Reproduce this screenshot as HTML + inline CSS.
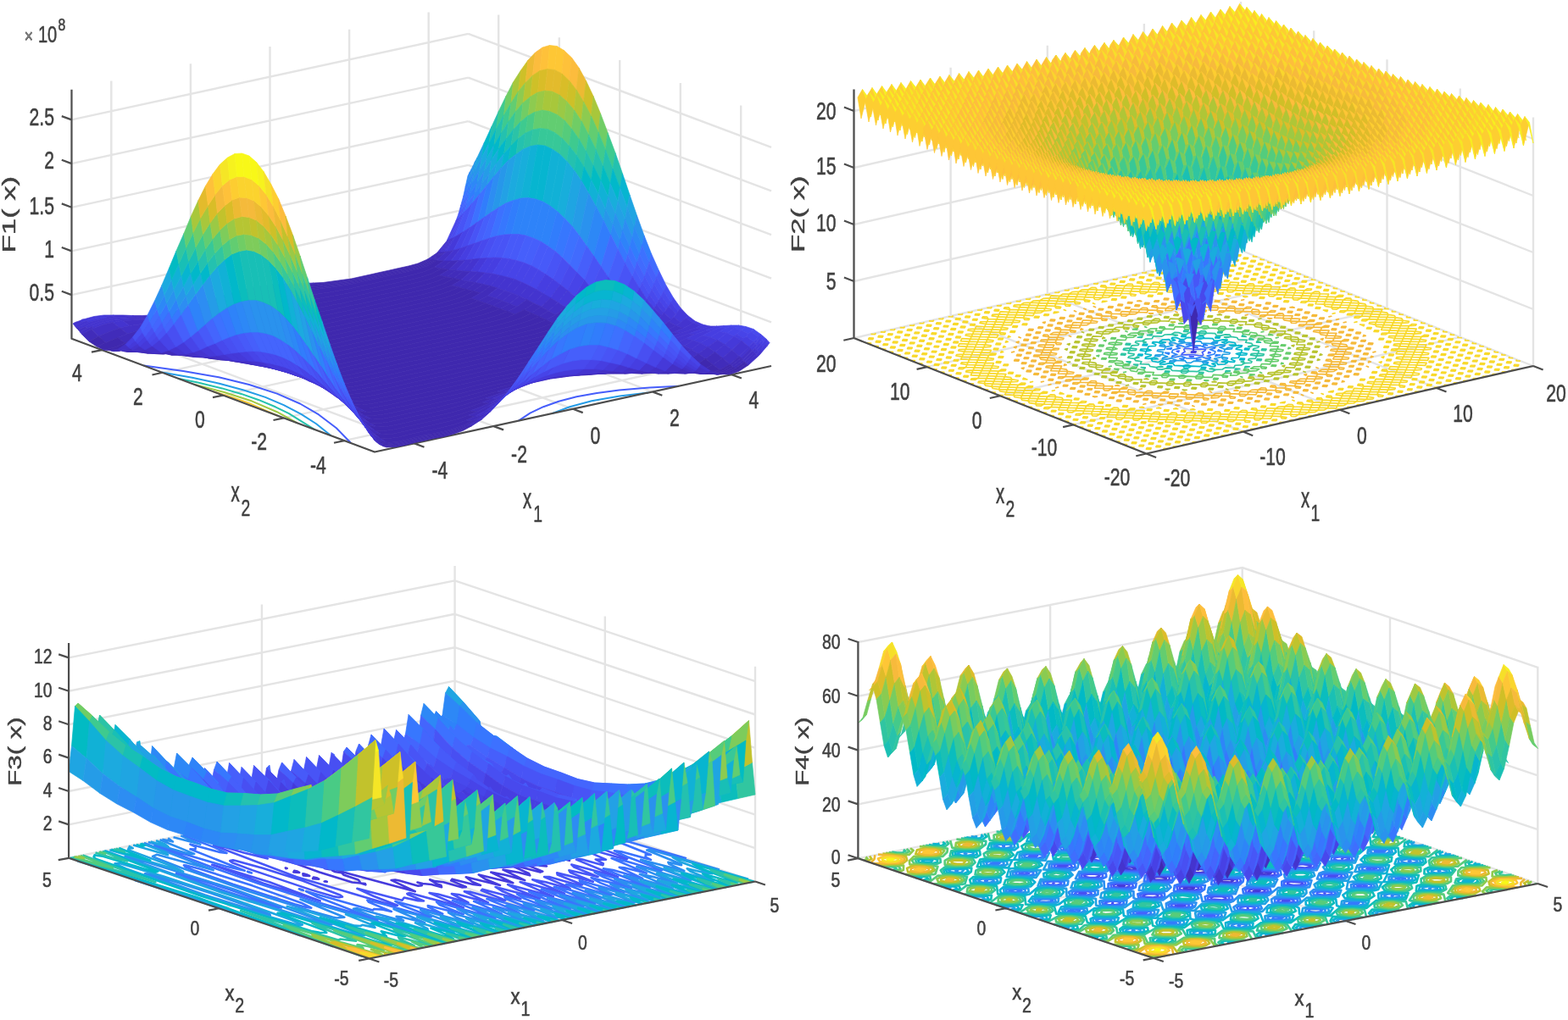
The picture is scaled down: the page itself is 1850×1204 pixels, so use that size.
<!DOCTYPE html>
<html><head><meta charset="utf-8"><title>Benchmark functions F1-F4</title>
<style>html,body{margin:0;padding:0;background:#fff;overflow:hidden}svg{display:block;filter:blur(0.6px)}
.g0{fill:#3f28ae;stroke:#3f28ae}.g1{fill:#412cba;stroke:#412cba}.g2{fill:#4330c5;stroke:#4330c5}.g3{fill:#4434cf;stroke:#4434cf}.g4{fill:#4539d9;stroke:#4539d9}.g5{fill:#463ee1;stroke:#463ee1}.g6{fill:#4744e8;stroke:#4744e8}.g7{fill:#4849ed;stroke:#4849ed}.g8{fill:#484ff2;stroke:#484ff2}.g9{fill:#4854f6;stroke:#4854f6}.g10{fill:#475af9;stroke:#475af9}.g11{fill:#465ffb;stroke:#465ffb}.g12{fill:#4465fd;stroke:#4465fd}.g13{fill:#416bfe;stroke:#416bfe}.g14{fill:#3d71ff;stroke:#3d71ff}.g15{fill:#3777fe;stroke:#3777fe}.g16{fill:#317dfc;stroke:#317dfc}.g17{fill:#2e83f9;stroke:#2e83f9}.g18{fill:#2d88f6;stroke:#2d88f6}.g19{fill:#2d8df2;stroke:#2d8df2}.g20{fill:#2a92ee;stroke:#2a92ee}.g21{fill:#2797ea;stroke:#2797ea}.g22{fill:#259ce7;stroke:#259ce7}.g23{fill:#23a1e5;stroke:#23a1e5}.g24{fill:#1fa5e2;stroke:#1fa5e2}.g25{fill:#1caadf;stroke:#1caadf}.g26{fill:#18aedb;stroke:#18aedb}.g27{fill:#11b1d6;stroke:#11b1d6}.g28{fill:#07b5d0;stroke:#07b5d0}.g29{fill:#01b8ca;stroke:#01b8ca}.g30{fill:#02bbc3;stroke:#02bbc3}.g31{fill:#0bbdbc;stroke:#0bbdbc}.g32{fill:#18bfb6;stroke:#18bfb6}.g33{fill:#24c1af;stroke:#24c1af}.g34{fill:#2bc3a7;stroke:#2bc3a7}.g35{fill:#31c6a0;stroke:#31c6a0}.g36{fill:#37c898;stroke:#37c898}.g37{fill:#3eca8f;stroke:#3eca8f}.g38{fill:#49cb85;stroke:#49cb85}.g39{fill:#55cc7b;stroke:#55cc7b}.g40{fill:#62cd71;stroke:#62cd71}.g41{fill:#70cd65;stroke:#70cd65}.g42{fill:#7ecc5b;stroke:#7ecc5b}.g43{fill:#8dcb50;stroke:#8dcb50}.g44{fill:#9bc945;stroke:#9bc945}.g45{fill:#a8c73b;stroke:#a8c73b}.g46{fill:#b6c533;stroke:#b6c533}.g47{fill:#c2c22c;stroke:#c2c22c}.g48{fill:#cec028;stroke:#cec028}.g49{fill:#d9bd28;stroke:#d9bd28}.g50{fill:#e3bb2c;stroke:#e3bb2c}.g51{fill:#edba33;stroke:#edba33}.g52{fill:#f5ba3b;stroke:#f5ba3b}.g53{fill:#fcbc3d;stroke:#fcbc3d}.g54{fill:#fec13a;stroke:#fec13a}.g55{fill:#fec735;stroke:#fec735}.g56{fill:#fdcd31;stroke:#fdcd31}.g57{fill:#fbd32e;stroke:#fbd32e}.g59{fill:#f6e028;stroke:#f6e028}.g60{fill:#f5e626;stroke:#f5e626}.g62{fill:#f6f21e;stroke:#f6f21e}.g63{fill:#f8f818;stroke:#f8f818}
.a0{fill:#3f29b0;stroke:#3f29b0}
.a5{fill:#4848ec;stroke:#4848ec}
.a6{fill:#4850f2;stroke:#4850f2}
.a7{fill:#4757f7;stroke:#4757f7}
.a10{fill:#3f6efe;stroke:#3f6efe}
.a11{fill:#3876fe;stroke:#3876fe}
.a12{fill:#317efb;stroke:#317efb}
.a13{fill:#2e85f8;stroke:#2e85f8}
.a14{fill:#2d8cf3;stroke:#2d8cf3}
.a15{fill:#2a93ed;stroke:#2a93ed}
.a16{fill:#269ae9;stroke:#269ae9}
.a17{fill:#23a0e5;stroke:#23a0e5}
.a18{fill:#1fa6e2;stroke:#1fa6e2}
.a19{fill:#1aacdd;stroke:#1aacdd}
.a20{fill:#12b1d7;stroke:#12b1d7}
.a21{fill:#06b5cf;stroke:#06b5cf}
.a22{fill:#01b9c6;stroke:#01b9c6}
.a23{fill:#0abdbe;stroke:#0abdbe}
.a24{fill:#1ac0b4;stroke:#1ac0b4}
.a25{fill:#28c2ab;stroke:#28c2ab}
.a26{fill:#30c5a1;stroke:#30c5a1}
.a27{fill:#38c896;stroke:#38c896}
.a28{fill:#44ca8a;stroke:#44ca8a}
.a29{fill:#53cc7d;stroke:#53cc7d}
.a30{fill:#64cd6f;stroke:#64cd6f}
.a31{fill:#77cc60;stroke:#77cc60}
.a32{fill:#8acb51;stroke:#8acb51}
.a33{fill:#9dc943;stroke:#9dc943}
.a34{fill:#afc637;stroke:#afc637}
.a35{fill:#c0c32d;stroke:#c0c32d}
.a36{fill:#d0bf27;stroke:#d0bf27}
.a37{fill:#debc2a;stroke:#debc2a}
.a38{fill:#ebba32;stroke:#ebba32}
.a39{fill:#f7ba3c;stroke:#f7ba3c}
.a40{fill:#febe3c;stroke:#febe3c}
.a41{fill:#fec636;stroke:#fec636}
.a42{fill:#fdce31;stroke:#fdce31}
.a43{fill:#f9d62d;stroke:#f9d62d}
.a44{fill:#f6df29;stroke:#f6df29}
.a45{fill:#f5e725;stroke:#f5e725}
.a46{fill:#f6ef20;stroke:#f6ef20}
.f0{fill:#3f28ae;stroke:#3f28ae}.f1{fill:#412cba;stroke:#412cba}.f2{fill:#4330c5;stroke:#4330c5}.f3{fill:#4434cf;stroke:#4434cf}.f4{fill:#4539d9;stroke:#4539d9}.f5{fill:#463ee1;stroke:#463ee1}.f6{fill:#4744e8;stroke:#4744e8}.f7{fill:#4849ed;stroke:#4849ed}.f8{fill:#484ff2;stroke:#484ff2}.f9{fill:#4854f6;stroke:#4854f6}.f10{fill:#475af9;stroke:#475af9}.f11{fill:#465ffb;stroke:#465ffb}.f12{fill:#4465fd;stroke:#4465fd}.f13{fill:#416bfe;stroke:#416bfe}.f14{fill:#3d71ff;stroke:#3d71ff}.f15{fill:#3777fe;stroke:#3777fe}.f16{fill:#317dfc;stroke:#317dfc}.f17{fill:#2e83f9;stroke:#2e83f9}.f18{fill:#2d88f6;stroke:#2d88f6}.f19{fill:#2d8df2;stroke:#2d8df2}.f20{fill:#2a92ee;stroke:#2a92ee}.f21{fill:#2797ea;stroke:#2797ea}.f22{fill:#259ce7;stroke:#259ce7}.f23{fill:#23a1e5;stroke:#23a1e5}.f24{fill:#1fa5e2;stroke:#1fa5e2}.f25{fill:#1caadf;stroke:#1caadf}.f26{fill:#18aedb;stroke:#18aedb}.f27{fill:#11b1d6;stroke:#11b1d6}.f28{fill:#07b5d0;stroke:#07b5d0}.f29{fill:#01b8ca;stroke:#01b8ca}.f30{fill:#02bbc3;stroke:#02bbc3}.f31{fill:#0bbdbc;stroke:#0bbdbc}.f32{fill:#18bfb6;stroke:#18bfb6}.f33{fill:#24c1af;stroke:#24c1af}.f34{fill:#2bc3a7;stroke:#2bc3a7}.f35{fill:#31c6a0;stroke:#31c6a0}.f36{fill:#37c898;stroke:#37c898}.f37{fill:#3eca8f;stroke:#3eca8f}.f38{fill:#49cb85;stroke:#49cb85}.f39{fill:#55cc7b;stroke:#55cc7b}.f40{fill:#62cd71;stroke:#62cd71}.f41{fill:#70cd65;stroke:#70cd65}.f42{fill:#7ecc5b;stroke:#7ecc5b}.f43{fill:#8dcb50;stroke:#8dcb50}.f44{fill:#9bc945;stroke:#9bc945}.f45{fill:#a8c73b;stroke:#a8c73b}.f46{fill:#b6c533;stroke:#b6c533}.f47{fill:#c2c22c;stroke:#c2c22c}.f48{fill:#cec028;stroke:#cec028}.f49{fill:#d9bd28;stroke:#d9bd28}.f51{fill:#edba33;stroke:#edba33}.f52{fill:#f5ba3b;stroke:#f5ba3b}.f53{fill:#fcbc3d;stroke:#fcbc3d}.f55{fill:#fec735;stroke:#fec735}.f56{fill:#fdcd31;stroke:#fdcd31}.f58{fill:#f8da2b;stroke:#f8da2b}.f60{fill:#f5e626;stroke:#f5e626}.f63{fill:#f8f818;stroke:#f8f818}
.r0{fill:#3f29b0;stroke:#3f29b0}
.r1{fill:#422ebf;stroke:#422ebf}
.r2{fill:#4434ce;stroke:#4434ce}
.r3{fill:#463adb;stroke:#463adb}
.r4{fill:#4741e5;stroke:#4741e5}
.r5{fill:#4848ec;stroke:#4848ec}
.r6{fill:#4850f2;stroke:#4850f2}
.r7{fill:#4757f7;stroke:#4757f7}
.r8{fill:#465efb;stroke:#465efb}
.r9{fill:#4466fd;stroke:#4466fd}
.r10{fill:#3f6efe;stroke:#3f6efe}
.r11{fill:#3876fe;stroke:#3876fe}
.r12{fill:#317efb;stroke:#317efb}
.r13{fill:#2e85f8;stroke:#2e85f8}
.r14{fill:#2d8cf3;stroke:#2d8cf3}
.r15{fill:#2a93ed;stroke:#2a93ed}
.r16{fill:#269ae9;stroke:#269ae9}
.r17{fill:#23a0e5;stroke:#23a0e5}
.r18{fill:#1fa6e2;stroke:#1fa6e2}
.r19{fill:#1aacdd;stroke:#1aacdd}
.r20{fill:#12b1d7;stroke:#12b1d7}
.r21{fill:#06b5cf;stroke:#06b5cf}
.r22{fill:#01b9c6;stroke:#01b9c6}
.r23{fill:#0abdbe;stroke:#0abdbe}
.r24{fill:#1ac0b4;stroke:#1ac0b4}
.r25{fill:#28c2ab;stroke:#28c2ab}
.r26{fill:#30c5a1;stroke:#30c5a1}
.r27{fill:#38c896;stroke:#38c896}
.r28{fill:#44ca8a;stroke:#44ca8a}
.r29{fill:#53cc7d;stroke:#53cc7d}
.r30{fill:#64cd6f;stroke:#64cd6f}
.r31{fill:#77cc60;stroke:#77cc60}
.r32{fill:#8acb51;stroke:#8acb51}
.r33{fill:#9dc943;stroke:#9dc943}
.r34{fill:#afc637;stroke:#afc637}
.r35{fill:#c0c32d;stroke:#c0c32d}
.r36{fill:#d0bf27;stroke:#d0bf27}
.r37{fill:#debc2a;stroke:#debc2a}
.r38{fill:#ebba32;stroke:#ebba32}
.r39{fill:#f7ba3c;stroke:#f7ba3c}
.r40{fill:#febe3c;stroke:#febe3c}
.r41{fill:#fec636;stroke:#fec636}
.r42{fill:#fdce31;stroke:#fdce31}
.r43{fill:#f9d62d;stroke:#f9d62d}
.r44{fill:#f6df29;stroke:#f6df29}
.r45{fill:#f5e725;stroke:#f5e725}
.r46{fill:#f6ef20;stroke:#f6ef20}</style>
</head><body>
<svg width="1850" height="1204" viewBox="0 0 1850 1204">
<g>
<path d="M488.8 523.4L131.3 389.6M582.4 503.1L224.9 369.2M676.0 482.8L318.5 348.9M769.6 462.4L412.1 328.6M863.2 442.1L505.7 308.3M406.2 520.1L874.2 418.6M334.8 493.4L802.8 391.9M263.2 466.6L731.2 365.1M191.8 439.8L659.8 338.3M120.2 413.1L588.2 311.6M131.3 389.6L131.3 95.6M224.9 369.2L224.9 75.3M318.5 348.9L318.5 55.0M412.1 328.6L412.1 34.7M505.7 308.3L505.7 14.4M84.5 348.1L552.5 246.5M84.5 296.4L552.5 194.9M84.5 244.8L552.5 143.2M84.5 193.1L552.5 91.6M84.5 141.4L552.5 39.9M874.2 418.6L874.2 124.6M802.8 391.9L802.8 97.9M731.2 365.1L731.2 71.1M659.8 338.3L659.8 44.3M588.2 311.6L588.2 17.6M910.0 380.4L552.5 246.5M910.0 328.7L552.5 194.9M910.0 277.1L552.5 143.2M910.0 225.4L552.5 91.6M910.0 173.8L552.5 39.9" stroke="#e4e4e4" stroke-width="2.4" fill="none"/>
<g transform="matrix(0.46800 -0.10150 -0.35750 -0.13380 497.25 415.85)" fill="none" stroke-width="2" stroke-linejoin="round">
<path stroke="#465efb" vector-effect="non-scaling-stroke" d="M267-500l-53 27-60 22-48 11-48 4-48-4-48-12-48-19-51-29M-500-422l41 102 29 96 17 84 6 84-6 84-17 78-30 78-40 78M474 496l-34-96-20-78-13-78-3-84 7-72 18-78 27-78 40-86"/>
<path stroke="#259ce7" vector-effect="non-scaling-stroke" d="M190-500l-60 16-66 6-60-6-57-16M-500-356l27 84 17 72 11 72 4 66-4 66-11 66-18 66-26 66M496 482l-26-82-18-78-9-66-4-66 3-66 10-66 17-66 27-73"/>
<path stroke="#25c2ad" vector-effect="non-scaling-stroke" d="M-500-301l27 119 7 54 3 60-2 54-7 54-13 60-15 49M496 424l-26-120-7-60-2-54 8-102 11-54 16-56"/>
<path stroke="#a0c841" vector-effect="non-scaling-stroke" d="M-500-245l15 87 6 90-6 84-15 80M496 365l-14-85-5-84 5-78 14-81"/>
<path stroke="#fdcb33" vector-effect="non-scaling-stroke" d="M-500-179l8 105-2 54-6 52M496 292l-6-90 6-92"/>
</g>
<path d="M84.5 105.7L84.5 399.7L442.0 533.5L910.0 432.0M488.8 523.4L500.5 527.7M582.4 503.1L594.1 507.4M676.0 482.8L687.7 487.1M769.6 462.4L781.3 466.8M863.2 442.1L874.9 446.5M406.2 520.1L394.0 522.8M334.8 493.4L322.5 496.0M263.2 466.6L251.0 469.2M191.8 439.8L179.5 442.5M120.2 413.1L108.0 415.7M84.5 348.1L72.8 343.7M84.5 296.4L72.8 292.0M84.5 244.8L72.8 240.4M84.5 193.1L72.8 188.7M84.5 141.4L72.8 137.1" stroke="#4d4d4d" stroke-width="2.2" fill="none" stroke-linejoin="round"/>
<g transform="scale(0.5)" stroke-width="1.4" stroke-linejoin="round"><path class=g18 d="M1103 434l5-27-4 8-6 27z"/><path class=g15 d="M1097 459l6-25-5 8-5 23z"/><path class=g13 d="M1092 480l5-21-4 6-6 21z"/><path class=g11 d="M1086 500l6-20-5 6-5 19z"/><path class=g9 d="M1080 517l6-17-4 5-6 16z"/><path class=g6 d="M1058 567l22-50-4 4-22 48z"/><path class=g2 d="M1035 596l23-29-4 2-23 28z"/><path class=g1 d="M1013 613l22-17-4 1-22 15z"/><path class=g0 d="M743 671l23-2 22-2 23-4 22-4 23-4 22-5 23-5 22-5 23-5 22-5 22-7 23-10-4-1-23 10-22 6-23 5-22 5-23 5-22 5-23 5-22 5-23 3-22 3-22 3-23 1z"/><path class=g1 d="M676 675l22-2 23-1 22-1-4-3-22 1-23 1-22 1z"/><path class=g2 d="M496 713l23-7 22-7 23-7 22-5 23-5 22-3 23-3 22-1-4-4-23 1-22 2-23 3-22 5-23 5-22 7-23 7-22 8z"/><path class=g1 d="M361 746l23-3 22-4 23-5 22-6 23-7 22-8-4-4-22 8-23 8-22 6-23 6-22 4-23 3z"/><path class=g2 d="M317 747l22 0 22-1-4-2-22 1-23 0z"/><path class=g3 d="M272 746l22 0 23 1-5-2-22-1-23 0z"/><path class=g4 d="M193 761l6-2 5-2 23-6 22-3 23-2-5-2-22 0-23 3-22 6-6 1-5 3z"/><path class=g3 d="M176 769l6-3 5-2 6-3-4-4-6 2-6 2-5 3z"/><path class=g19 d="M1107 427l6-29-5 9-5 27z"/><path class=g16 d="M1101 452l6-25-4 7-6 25z"/><path class=g14 d="M1096 475l5-23-4 7-5 21z"/><path class=g12 d="M1090 495l6-20-4 5-6 20z"/><path class=g10 d="M1085 513l5-18-4 5-6 17z"/><path class=g6 d="M1062 565l23-52-5 4-22 50z"/><path class=g3 d="M1040 596l22-31-4 2-23 29z"/><path class=g1 d="M1017 614l23-18-5 0-22 17z"/><path class=g0 d="M725 675l23-1 22-3 23-2 22-4 23-4 22-5 22-5 23-5 22-5 23-5 22-5 23-7 22-10-4-1-23 10-22 7-22 5-23 5-22 5-23 5-22 5-23 4-22 4-23 4-22 2-23 2-22 1z"/><path class=g1 d="M680 679l23-2 22-2-4-3-23 1-22 2z"/><path class=g2 d="M523 710l22-7 23-6 22-6 23-4 22-4 23-2 22-2-4-4-22 1-23 3-22 3-23 5-22 5-23 7-22 7z"/><path class=g1 d="M343 749l23-1 22-3 23-3 22-5 23-6 22-7 23-7 22-7-4-4-23 7-22 8-23 7-22 6-23 5-22 4-23 3-22 1z"/><path class=g2 d="M321 749l22 0-4-2-22 0z"/><path class=g3 d="M253 751l23-2 22 0 23 0-4-2-23-1-22 0-23 2z"/><path class=g4 d="M209 761l22-6 22-4-4-3-22 3-23 6z"/><path class=g3 d="M180 774l6-3 6-2 5-3 6-2 6-3-5-4-5 2-6 2-6 3-5 2-6 3z"/><path class=g20 d="M1111 419l6-29-4 8-6 29z"/><path class=g17 d="M1106 445l5-26-4 8-6 25z"/><path class=g14 d="M1100 469l6-24-5 7-5 23z"/><path class=g12 d="M1095 490l5-21-4 6-6 20z"/><path class=g10 d="M1089 508l6-18-5 5-5 18z"/><path class=g7 d="M1066 563l23-55-4 5-23 52z"/><path class=g3 d="M1044 596l22-33-4 2-22 31z"/><path class=g1 d="M1022 614l22-18-4 0-23 18z"/><path class=g0 d="M729 678l23-2 22-2 23-3 22-4 23-4 22-5 23-5 22-5 23-5 22-5 23-5 22-8 23-11-5 0-22 10-23 7-22 5-23 5-22 5-23 5-22 5-22 5-23 4-22 4-23 2-22 3-23 1z"/><path class=g1 d="M662 684l23-2 22-2 22-2-4-3-22 2-23 2-22 2z"/><path class=g2 d="M550 707l22-6 23-5 22-5 23-4 22-3-4-3-23 2-22 4-23 4-22 6-23 6z"/><path class=g1 d="M348 750l22-1 23-2 22-3 22-4 23-6 22-6 23-7 22-7 23-7-5-4-22 7-22 7-23 7-22 7-23 6-22 5-23 3-22 3-23 1z"/><path class=g2 d="M303 751l22 0 23-1-5-1-22 0-23 0z"/><path class=g3 d="M190 776l6-3 6-2 5-3 6-2 22-8 23-4 22-2 23-1-5-2-22 0-23 2-22 4-22 6-6 3-6 2-5 3-6 2z"/><path class=g2 d="M185 779l5-3-4-5-6 3z"/><path class=g21 d="M1116 411l5-30-4 9-6 29z"/><path class=g18 d="M1110 439l6-28-5 8-5 26z"/><path class=g15 d="M1104 463l6-24-4 6-6 24z"/><path class=g13 d="M1099 484l5-21-4 6-5 21z"/><path class=g11 d="M1093 504l6-20-4 6-6 18z"/><path class=g7 d="M1071 561l22-57-4 4-23 55z"/><path class=g3 d="M1048 595l23-34-5 2-22 33z"/><path class=g1 d="M1026 615l22-20-4 1-22 18z"/><path class=g0 d="M734 681l22-2 23-3 22-3 23-4 22-5 23-5 22-5 22-5 23-5 22-4 23-6 22-7 23-12-4-1-23 11-22 8-23 5-22 5-23 5-22 5-23 5-22 5-23 4-22 4-23 3-22 2-23 2z"/><path class=g1 d="M352 752l22-1 23-2 22-3 23-4 22-5 23-6 22-7 23-6 22-7 23-6 22-5 22-5 23-4 22-3 23-2 22-3 23-2-5-3-22 2-22 2-23 2-22 3-23 4-22 5-23 5-22 6-23 7-22 7-23 7-22 6-23 6-22 4-22 3-23 2-22 1z"/><path class=g2 d="M307 753l22 0 23-1-4-2-23 1-22 0z"/><path class=g3 d="M206 775l5-2 6-3 23-8 22-5 22-3 23-1-4-2-23 1-22 2-23 4-22 8-6 2-5 3z"/><path class=g2 d="M189 784l6-3 5-3 6-3-4-4-6 2-6 3-5 3z"/><path class=g22 d="M1120 404l6-32-5 9-5 30z"/><path class=g19 d="M1114 432l6-28-4 7-6 28z"/><path class=g16 d="M1109 457l5-25-4 7-6 24z"/><path class=g14 d="M1103 479l6-22-5 6-5 21z"/><path class=g12 d="M1097 499l6-20-4 5-6 20z"/><path class=g8 d="M1075 558l22-59-4 5-22 57z"/><path class=g4 d="M1053 594l22-36-4 3-23 34z"/><path class=g1 d="M1030 615l23-21-5 1-22 20z"/><path class=g0 d="M716 686l22-2 23-3 22-3 22-3 23-4 22-5 23-5 22-5 23-5 22-5 23-5 22-6 23-7 22-13-4 0-23 12-22 7-23 6-22 4-23 5-22 5-22 5-23 5-22 5-23 4-22 3-23 3-22 2-23 2z"/><path class=g1 d="M356 754l23-1 22-2 23-3 22-4 22-5 23-5 22-6 23-7 22-6 23-6 22-6 23-4 22-4 23-3 22-3 23-3-5-3-22 3-23 2-22 3-23 4-22 5-22 5-23 6-22 7-23 6-22 7-23 6-22 5-23 4-22 3-23 2-22 1z"/><path class=g2 d="M311 756l23-1 22-1-4-2-23 1-22 0z"/><path class=g3 d="M221 775l23-9 22-5 23-4 22-1-4-3-23 1-22 3-22 5-23 8z"/><path class=g2 d="M193 789l6-3 6-3 5-3 6-3 5-2-4-5-6 3-5 2-6 3-5 3-6 3z"/><path class=g24 d="M1137 371l6-35-17 36-6 32z"/><path class=g21 d="M1131 403l6-32-17 33-6 28z"/><path class=g18 d="M1126 431l5-28-17 29-5 25z"/><path class=g16 d="M1120 457l6-26-17 26-6 22z"/><path class=g14 d="M1115 479l5-22-17 22-6 20z"/><path class=g9 d="M1092 548l23-69-18 20-22 59z"/><path class=g4 d="M1070 591l22-43-17 10-22 36z"/><path class=g2 d="M1047 616l23-25-17 3-23 21z"/><path class=g0 d="M688 704l22-4 23-3 22-4 23-3 22-4 23-4 22-5 23-5 22-5 22-5 23-5 22-4 23-6 22-6 23-10 22-15-17-1-22 13-23 7-22 6-23 5-22 5-23 5-22 5-23 5-22 5-23 4-22 3-22 3-23 3-22 2-23 3-22 3z"/><path class=g1 d="M553 733l23-6 22-5 22-6 23-4 22-5 23-3-17-12-23 3-22 4-23 4-22 6-23 6-22 6z"/><path class=g0 d="M441 756l22-3 23-4 22-5 23-5 22-6-17-12-23 7-22 6-23 5-22 5-22 4z"/><path class=g1 d="M373 762l23-2 22-2 23-2-17-8-23 3-22 2-23 1z"/><path class=g2 d="M306 769l22-3 23-3 22-1-17-8-22 1-23 1-22 1z"/><path class=g3 d="M283 774l23-5-17-12-23 4z"/><path class=g2 d="M233 794l6-3 22-9 22-8-17-13-22 5-23 9-5 2z"/><path class=g1 d="M210 806l6-3 6-3 5-3 6-3-17-17-6 3-5 3-6 3-6 3z"/><path class=g29 d="M1154 338l6-39-17 37-6 35z"/><path class=g25 d="M1149 373l5-35-17 33-6 32z"/><path class=g22 d="M1143 404l6-31-18 30-5 28z"/><path class=g19 d="M1137 433l6-29-17 27-6 26z"/><path class=g17 d="M1132 458l5-25-17 24-5 22z"/><path class=g11 d="M1109 537l23-79-17 21-23 69z"/><path class=g6 d="M1087 586l22-49-17 11-22 43z"/><path class=g3 d="M1064 616l23-30-17 5-23 25z"/><path class=g1 d="M1042 634l22-18-17 0-22 15z"/><path class=g0 d="M458 763l22-3 23-4 22-4 23-4 22-6 23-5 22-5 23-5 22-5 23-4 22-5 22-4 23-4 22-4 23-4 22-4 23-5 22-4 23-5 22-5 23-5 22-5 23-5 22-6 22-7 23-12-17-3-23 10-22 6-23 6-22 4-23 5-22 5-22 5-23 5-22 5-23 4-22 4-23 3-22 4-23 3-22 4-23 3-22 5-23 4-22 6-22 5-23 6-22 6-23 5-22 5-23 4-22 3z"/><path class=g1 d="M390 770l23-2 22-2 23-3-17-7-23 2-22 2-23 2z"/><path class=g2 d="M301 788l22-7 23-5 22-3 22-3-17-8-22 1-23 3-22 3-23 5z"/><path class=g1 d="M250 809l6-3 22-9 23-9-18-14-22 8-22 9-6 3z"/><path class=g0 d="M228 818l5-2 6-2 5-3 6-2-17-15-6 3-5 3-6 3-6 3z"/><path class=g33 d="M1171 304l6-42-17 37-6 39z"/><path class=g29 d="M1166 343l5-39-17 34-5 35z"/><path class=g26 d="M1160 377l6-34-17 30-6 31z"/><path class=g22 d="M1155 409l5-32-17 27-6 29z"/><path class=g20 d="M1149 437l6-28-18 24-5 25z"/><path class=g14 d="M1127 524l22-87-17 21-23 79z"/><path class=g7 d="M1104 580l23-56-18 13-22 49z"/><path class=g4 d="M1082 615l22-35-17 6-23 30z"/><path class=g1 d="M1059 637l23-22-18 1-22 18z"/><path class=g0 d="M475 770l23-3 22-3 22-4 23-5 22-4 23-5 22-5 23-5 22-5 23-5 22-4 23-5 22-4 23-4 22-5 22-4 23-5 22-5 23-5 22-5 23-5 22-5 23-5 22-6 23-9 22-13-17-3-23 12-22 7-22 6-23 5-22 5-23 5-22 5-23 5-22 4-23 5-22 4-23 4-22 4-23 4-22 4-22 5-23 4-22 5-23 5-22 5-23 5-22 6-23 4-22 4-23 4-22 3z"/><path class=g1 d="M295 810l23-9 22-8 23-6 22-5 23-3 22-3 23-3 22-3-17-7-23 3-22 2-23 2-22 3-22 3-23 5-22 7-23 9z"/><path class=g0 d="M245 826l5-1 6-1 6-2 5-1 6-2 22-9-17-13-22 9-6 3-6 2-5 3-6 2-5 2z"/><path class=g37 d="M1189 272l5-45-17 35-6 42z"/><path class=g33 d="M1183 314l6-42-18 32-5 39z"/><path class=g29 d="M1177 351l6-37-17 29-6 34z"/><path class=g26 d="M1172 385l5-34-17 26-5 32z"/><path class=g23 d="M1166 416l6-31-17 24-6 28z"/><path class=g16 d="M1144 512l22-96-17 21-22 87z"/><path class=g9 d="M1121 574l23-62-17 12-23 56z"/><path class=g5 d="M1099 614l22-40-17 6-22 35z"/><path class=g2 d="M1076 638l23-24-17 1-23 22z"/><path class=g1 d="M1054 654l22-16-17-1-22 13z"/><path class=g0 d="M470 781l22-4 23-3 22-3 23-4 22-5 23-4 22-5 22-5 23-4 22-5 23-5 22-5 23-4 22-5 23-4 22-5 23-5 22-5 23-5 22-4 22-5 23-5 22-5 23-6 22-7 23-10-17-4-23 9-22 6-23 5-22 5-23 5-22 5-23 5-22 5-23 5-22 4-22 5-23 4-22 4-23 5-22 4-23 5-22 5-23 5-22 5-23 5-22 4-23 5-22 4-22 3-23 3-22 3z"/><path class=g1 d="M357 805l23-7 22-6 23-4 22-4 23-3-17-8-23 3-22 3-23 3-22 5-23 6z"/><path class=g0 d="M262 828l6 1 5 0 6 0 5-1 6-1 22-6 23-8 22-8-17-12-22 8-23 9-22 9-6 2-5 1-6 2-6 1-5 1z"/><path class=g41 d="M1206 243l5-49-17 33-5 45z"/><path class=g37 d="M1200 287l6-44-17 29-6 42z"/><path class=g33 d="M1195 327l5-40-17 27-6 37z"/><path class=g29 d="M1189 363l6-36-18 24-5 34z"/><path class=g25 d="M1183 396l6-33-17 22-6 31z"/><path class=g19 d="M1161 500l22-104-17 20-22 96z"/><path class=g11 d="M1138 568l23-68-17 12-23 62z"/><path class=g6 d="M1116 612l22-44-17 6-22 40z"/><path class=g3 d="M1093 640l23-28-17 2-23 24z"/><path class=g1 d="M1071 657l22-17-17-2-22 16z"/><path class=g0 d="M442 797l22-5 23-4 22-3 23-4 22-4 23-4 22-4 23-4 22-5 23-4 22-5 23-5 22-5 22-5 23-4 22-5 23-5 22-4 23-5 22-5 23-5 22-5 23-5 22-5 23-5 22-6 23-8 22-12-17-3-23 10-22 7-23 6-22 5-23 5-22 5-22 4-23 5-22 5-23 5-22 5-23 4-22 5-23 4-22 5-23 5-22 5-23 4-22 5-22 5-23 4-22 5-23 4-22 3-23 3-22 4-23 3-22 4z"/><path class=g1 d="M420 802l22-5-17-9-23 4z"/><path class=g0 d="M285 827l5 2 6 1 6 1 5 0 23-2 22-6 23-7 22-7 23-7-18-10-22 6-23 7-22 8-23 8-22 6-6 1-5 1-6 0-5 0z"/><path class=g1 d="M279 824l6 3-17 2-6-1z"/><path class=g45 d="M1223 216l6-50-18 28-5 49z"/><path class=g40 d="M1217 263l6-47-17 27-6 44z"/><path class=g36 d="M1212 305l5-42-17 24-5 40z"/><path class=g32 d="M1206 344l6-39-17 22-6 36z"/><path class=g28 d="M1200 378l6-34-17 19-6 33z"/><path class=g21 d="M1178 489l22-111-17 18-22 104z"/><path class=g12 d="M1156 562l22-73-17 11-23 68z"/><path class=g7 d="M1133 610l23-48-18 6-22 44z"/><path class=g3 d="M1111 641l22-31-17 2-23 28z"/><path class=g1 d="M1088 661l23-20-18-1-22 17z"/><path class=g0 d="M324 831l23 3 22-3 23-6 22-7 23-6 22-6 23-5 22-5 23-4 22-4 22-4 23-4 22-4 23-4 22-5 23-5 22-4 23-5 22-5 23-5 22-5 23-4 22-5 22-5 23-5 22-5 23-5 22-5 23-4 22-5 23-6 22-7 23-8 22-13-17-4-22 12-23 8-22 6-23 5-22 5-23 5-22 5-23 5-22 5-23 5-22 4-23 5-22 5-23 4-22 5-22 5-23 5-22 5-23 4-22 5-23 4-22 4-23 4-22 4-23 4-22 3-23 4-22 5-22 5-23 7-22 7-23 7-22 6-23 2z"/><path class=g1 d="M308 823l5 4 6 2 5 2-17 0-5 0-6-1-6-1z"/><path class=g2 d="M296 813l6 6 6 4-18 6-5-2-6-3z"/><path class=g48 d="M1240 195l6-53-17 24-6 50z"/><path class=g43 d="M1234 243l6-48-17 21-6 47z"/><path class=g39 d="M1229 287l5-44-17 20-5 42z"/><path class=g34 d="M1223 327l6-40-17 18-6 39z"/><path class=g31 d="M1218 364l5-37-17 17-6 34z"/><path class=g23 d="M1195 479l23-115-18 14-22 111z"/><path class=g14 d="M1173 557l22-78-17 10-22 73z"/><path class=g8 d="M1150 609l23-52-17 5-23 48z"/><path class=g4 d="M1128 642l22-33-17 1-22 31z"/><path class=g2 d="M1105 664l23-22-17-1-23 20z"/><path class=g1 d="M1083 678l22-14-17-3-22 13z"/><path class=g0 d="M364 835l22 1 23-4 22-5 23-6 22-6 23-6 22-5 23-4 22-5 23-4 22-4 23-4 22-5 22-4 23-5 22-5 23-5 22-4 23-5 22-5 23-5 22-5 23-5 22-4 23-5 22-5 23-5 22-5 22-5 23-6 22-7 23-10-17-4-23 8-22 7-23 6-22 5-23 4-22 5-23 5-22 5-23 5-22 5-22 5-23 4-22 5-23 5-22 5-23 5-22 4-23 5-22 5-23 4-22 4-23 4-22 4-22 4-23 4-22 5-23 5-22 6-23 6-22 7-23 6-22 3z"/><path class=g1 d="M342 826l22 9-17-1-23-3z"/><path class=g2 d="M330 818l6 4 6 4-18 5-5-2-6-2z"/><path class=g3 d="M325 812l5 6-17 9-5-4z"/><path class=g4 d="M319 805l6 7-17 11-6-4z"/><path class=g5 d="M313 796l6 9-17 14-6-6z"/><path class=g51 d="M1257 178l6-54-17 18-6 53z"/><path class=g46 d="M1252 228l5-50-17 17-6 48z"/><path class=g41 d="M1246 273l6-45-18 15-5 44z"/><path class=g37 d="M1240 314l6-41-17 14-6 40z"/><path class=g33 d="M1235 352l5-38-17 13-5 37z"/><path class=g25 d="M1212 473l23-121-17 12-23 115z"/><path class=g15 d="M1190 554l22-81-17 6-22 78z"/><path class=g9 d="M1167 608l23-54-17 3-23 52z"/><path class=g5 d="M1145 644l22-36-17 1-22 33z"/><path class=g2 d="M1122 667l23-23-17-2-23 22z"/><path class=g1 d="M1100 683l22-16-17-3-22 14z"/><path class=g0 d="M381 833l23 5 22 0 23-4 22-5 22-6 23-6 22-5 23-5 22-4 23-5 22-4 23-5 22-4 23-5 22-4 23-5 22-5 22-5 23-5 22-5 23-4 22-5 23-5 22-5 23-5 22-5 23-5 22-5 23-5 22-6 23-8 22-10-17-5-23 10-22 7-23 6-22 5-22 5-23 5-22 5-23 5-22 4-23 5-22 5-23 5-22 5-23 5-22 4-23 5-22 5-23 5-22 4-22 5-23 4-22 4-23 4-22 5-23 4-22 5-23 6-22 6-23 6-22 5-23 4-22-1z"/><path class=g2 d="M359 817l22 16-17 2-22-9z"/><path class=g4 d="M347 803l6 8 6 6-17 9-6-4-6-4z"/><path class=g5 d="M342 795l5 8-17 15-5-6z"/><path class=g6 d="M336 785l6 10-17 17-6-7z"/><path class=g8 d="M331 773l5 12-17 20-6-9z"/><path class=g53 d="M1274 167l6-55-17 12-6 54z"/><path class=g48 d="M1269 218l5-51-17 11-5 50z"/><path class=g43 d="M1263 264l6-46-17 10-6 45z"/><path class=g38 d="M1258 306l5-42-17 9-6 41z"/><path class=g34 d="M1252 345l6-39-18 8-5 38z"/><path class=g26 d="M1229 468l23-123-17 7-23 121z"/><path class=g16 d="M1207 553l22-85-17 5-22 81z"/><path class=g9 d="M1185 609l22-56-17 1-23 54z"/><path class=g5 d="M1162 646l23-37-18-1-22 36z"/><path class=g3 d="M1140 671l22-25-17-2-23 23z"/><path class=g1 d="M1117 687l23-16-18-4-22 16z"/><path class=g0 d="M421 838l22 3 23-1 22-4 23-6 22-5 23-5 22-5 22-5 23-5 22-5 23-4 22-5 23-4 22-5 23-5 22-5 23-4 22-5 23-5 22-5 23-5 22-5 22-5 23-4 22-5 23-5 22-5 23-6 22-6 23-8 22-12-17-4-22 10-23 8-22 6-23 5-22 5-23 5-22 5-23 5-22 5-23 5-22 5-23 4-22 5-23 5-22 5-22 5-23 5-22 4-23 5-22 4-23 5-22 4-23 5-22 4-23 5-22 5-23 6-22 6-22 5-23 4-22 0z"/><path class=g1 d="M398 827l23 11-17 0-23-5z"/><path class=g4 d="M376 803l22 24-17 6-22-16z"/><path class=g6 d="M370 794l6 9-17 14-6-6z"/><path class=g7 d="M365 784l5 10-17 17-6-8z"/><path class=g8 d="M359 773l6 11-18 19-5-8z"/><path class=g10 d="M353 759l6 14-17 22-6-10z"/><path class=g11 d="M348 744l5 15-17 26-5-12z"/><path class=g54 d="M1292 163l5-56-17 5-6 55z"/><path class=g49 d="M1286 214l6-51-18 4-5 51z"/><path class=g44 d="M1280 260l6-46-17 4-6 46z"/><path class=g40 d="M1275 303l5-43-17 4-5 42z"/><path class=g35 d="M1269 342l6-39-17 3-6 39z"/><path class=g27 d="M1247 467l22-125-17 3-23 123z"/><path class=g17 d="M1224 553l23-86-18 1-22 85z"/><path class=g10 d="M1202 611l22-58-17 0-22 56z"/><path class=g6 d="M1179 650l23-39-17-2-23 37z"/><path class=g3 d="M1157 675l22-25-17-4-22 25z"/><path class=g1 d="M1134 692l23-17-17-4-23 16z"/><path class=g0 d="M460 843l23 1 22-2 23-5 22-5 23-5 22-5 23-5 22-5 23-5 22-4 22-5 23-5 22-5 23-4 22-5 23-5 22-5 23-5 22-5 23-4 22-5 23-5 22-5 23-5 22-5 22-5 23-6 22-6 23-9 22-12-17-5-22 12-23 8-22 6-23 6-22 5-23 5-22 5-23 4-22 5-22 5-23 5-22 5-23 5-22 5-23 4-22 5-23 5-22 5-23 4-22 5-23 4-22 5-23 5-22 5-22 5-23 5-22 5-23 6-22 4-23 1z"/><path class=g1 d="M438 836l22 7-17-2-22-3z"/><path class=g3 d="M415 819l23 17-17 2-23-11z"/><path class=g6 d="M393 786l22 33-17 8-22-24z"/><path class=g9 d="M387 774l6 12-17 17-6-9z"/><path class=g10 d="M382 761l5 13-17 20-5-10z"/><path class=g12 d="M376 746l6 15-17 23-6-11z"/><path class=g13 d="M371 729l5 17-17 27-6-14z"/><path class=g15 d="M365 710l6 19-18 30-5-15z"/><path class=g55 d="M1309 165l5-56-17-2-5 56z"/><path class=g50 d="M1303 216l6-51-17-2-6 51z"/><path class=g45 d="M1297 263l6-47-17-2-6 46z"/><path class=g40 d="M1292 305l5-42-17-3-5 43z"/><path class=g36 d="M1286 344l6-39-17-2-6 39z"/><path class=g28 d="M1264 470l22-126-17-2-22 125z"/><path class=g17 d="M1241 556l23-86-17-3-23 86z"/><path class=g10 d="M1219 615l22-59-17-3-22 58z"/><path class=g6 d="M1196 654l23-39-17-4-23 39z"/><path class=g3 d="M1174 680l22-26-17-4-22 25z"/><path class=g1 d="M1129 710l22-12 23-18-17-5-23 17-22 12z"/><path class=g0 d="M500 847l22 0 23-4 22-4 23-5 22-5 23-5 22-5 23-5 22-5 23-5 22-4 23-5 22-5 23-5 22-5 22-4 23-5 22-5 23-5 22-5 23-5 22-5 23-5 22-5 23-5 22-6 23-6 22-9-17-6-23 9-22 6-23 6-22 5-22 5-23 5-22 5-23 5-22 5-23 4-22 5-23 5-22 5-23 5-22 5-23 4-22 5-23 5-22 5-22 4-23 5-22 5-23 5-22 5-23 5-22 5-23 5-22 2z"/><path class=g1 d="M478 843l22 4-17-3-23-1z"/><path class=g2 d="M455 832l23 11-18 0-22-7z"/><path class=g4 d="M433 808l22 24-17 4-23-17z"/><path class=g8 d="M410 765l23 43-18 11-22-33z"/><path class=g12 d="M405 751l5 14-17 21-6-12z"/><path class=g13 d="M399 735l6 16-18 23-5-13z"/><path class=g15 d="M393 716l6 19-17 26-6-15z"/><path class=g18 d="M388 696l5 20-17 30-5-17z"/><path class=g20 d="M382 673l6 23-17 33-6-19z"/><path class=g55 d="M1326 174l5-55-17-10-5 56z"/><path class=g50 d="M1320 224l6-50-17-9-6 51z"/><path class=g45 d="M1315 271l5-47-17-8-6 47z"/><path class=g40 d="M1309 313l6-42-18-8-5 42z"/><path class=g36 d="M1303 352l6-39-17-8-6 39z"/><path class=g28 d="M1281 476l22-124-17-8-22 126z"/><path class=g17 d="M1258 562l23-86-17-6-23 86z"/><path class=g11 d="M1236 620l22-58-17-6-22 59z"/><path class=g6 d="M1214 659l22-39-17-5-23 39z"/><path class=g3 d="M1191 686l23-27-18-5-22 26z"/><path class=g2 d="M1169 704l22-18-17-6-23 18z"/><path class=g1 d="M1146 716l23-12-18-6-22 12z"/><path class=g0 d="M517 849l23 2 22-2 23-4 22-5 22-5 23-5 22-4 23-5 22-5 23-5 22-5 23-5 22-4 23-5 22-5 23-5 22-5 23-5 22-5 22-4 23-5 22-5 23-5 22-5 23-5 22-6 23-7 22-9-17-6-22 9-23 6-22 6-23 5-22 5-23 5-22 5-23 5-22 5-23 5-22 5-23 5-22 4-22 5-23 5-22 5-23 5-22 4-23 5-22 5-23 5-22 5-23 5-22 5-23 5-22 4-23 4-22 0z"/><path class=g1 d="M495 842l22 7-17-2-22-4z"/><path class=g3 d="M472 826l23 16-17 1-23-11z"/><path class=g6 d="M450 795l22 31-17 6-22-24z"/><path class=g11 d="M427 743l23 52-17 13-23-43z"/><path class=g15 d="M422 725l5 18-17 22-5-14z"/><path class=g17 d="M416 706l6 19-17 26-6-16z"/><path class=g20 d="M410 684l6 22-17 29-6-19z"/><path class=g22 d="M405 660l5 24-17 32-5-20z"/><path class=g25 d="M399 633l6 27-17 36-6-23z"/><path class=g54 d="M1343 190l6-54-18-17-5 55z"/><path class=g49 d="M1337 239l6-49-17-16-6 50z"/><path class=g44 d="M1332 284l5-45-17-15-5 47z"/><path class=g40 d="M1326 326l6-42-17-13-6 42z"/><path class=g36 d="M1321 364l5-38-17-13-6 39z"/><path class=g27 d="M1298 486l23-122-18-12-22 124z"/><path class=g17 d="M1276 570l22-84-17-10-23 86z"/><path class=g11 d="M1253 627l23-57-18-8-22 58z"/><path class=g6 d="M1231 666l22-39-17-7-22 39z"/><path class=g3 d="M1208 692l23-26-17-7-23 27z"/><path class=g2 d="M1186 710l22-18-17-6-22 18z"/><path class=g1 d="M1163 722l23-12-17-6-23 12z"/><path class=g0 d="M557 854l22 0 23-3 22-4 23-5 22-5 23-5 22-5 23-5 22-4 22-5 23-5 22-5 23-5 22-5 23-5 22-4 23-5 22-5 23-5 22-5 23-5 22-5 22-5 23-5 22-6 23-7 22-9-17-6-22 9-23 7-22 6-23 5-22 5-23 5-22 5-23 5-22 4-22 5-23 5-22 5-23 5-22 5-23 5-22 4-23 5-22 5-23 5-22 5-23 5-22 4-23 5-22 5-22 5-23 4-22 2z"/><path class=g1 d="M534 850l23 4-17-3-23-2z"/><path class=g2 d="M512 840l22 10-17-1-22-7z"/><path class=g4 d="M489 818l23 22-17 2-23-16z"/><path class=g8 d="M467 781l22 37-17 8-22-31z"/><path class=g14 d="M444 719l23 62-17 14-23-52z"/><path class=g19 d="M439 698l5 21-17 24-5-18z"/><path class=g21 d="M433 676l6 22-17 27-6-19z"/><path class=g24 d="M428 651l5 25-17 30-6-22z"/><path class=g27 d="M422 623l6 28-18 33-5-24z"/><path class=g30 d="M416 592l6 31-17 37-6-27z"/><path class=g53 d="M1360 212l6-52-17-24-6 54z"/><path class=g48 d="M1355 260l5-48-17-22-6 49z"/><path class=g43 d="M1349 304l6-44-18-21-5 45z"/><path class=g39 d="M1343 344l6-40-17-20-6 42z"/><path class=g35 d="M1338 381l5-37-17-18-5 38z"/><path class=g27 d="M1315 499l23-118-17-17-23 122z"/><path class=g17 d="M1293 581l22-82-17-13-22 84z"/><path class=g10 d="M1270 636l23-55-17-11-23 57z"/><path class=g6 d="M1248 674l22-38-17-9-22 39z"/><path class=g3 d="M1225 699l23-25-17-8-23 26z"/><path class=g2 d="M1203 717l22-18-17-7-22 18z"/><path class=g1 d="M1180 729l23-12-17-7-23 12z"/><path class=g0 d="M574 857l22 1 23-2 22-3 23-5 22-4 23-5 22-5 23-5 22-5 23-5 22-5 23-5 22-4 22-5 23-5 22-5 23-5 22-5 23-5 22-4 23-5 22-5 23-5 22-6 23-6 22-7 22-8-17-7-22 9-23 7-22 6-23 5-22 5-22 5-23 5-22 5-23 5-22 5-23 5-22 4-23 5-22 5-23 5-22 5-23 5-22 5-22 4-23 5-22 5-23 5-22 5-23 5-22 4-23 3-22 0z"/><path class=g1 d="M551 851l23 6-17-3-23-4z"/><path class=g3 d="M529 837l22 14-17-1-22-10z"/><path class=g5 d="M507 811l22 26-17 3-23-22z"/><path class=g10 d="M484 766l23 45-18 7-22-37z"/><path class=g17 d="M462 694l22 72-17 15-23-62z"/><path class=g22 d="M456 671l6 23-18 25-5-21z"/><path class=g25 d="M450 645l6 26-17 27-6-22z"/><path class=g28 d="M445 617l5 28-17 31-5-25z"/><path class=g32 d="M439 585l6 32-17 34-6-28z"/><path class=g35 d="M434 551l5 34-17 38-6-31z"/><path class=g51 d="M1377 240l6-49-17-31-6 52z"/><path class=g46 d="M1372 286l5-46-17-28-5 48z"/><path class=g41 d="M1366 328l6-42-17-26-6 44z"/><path class=g37 d="M1361 367l5-39-17-24-6 40z"/><path class=g33 d="M1355 402l6-35-18-23-5 37z"/><path class=g26 d="M1332 515l23-113-17-21-23 118z"/><path class=g16 d="M1310 593l22-78-17-16-22 82z"/><path class=g10 d="M1287 647l23-54-17-12-23 55z"/><path class=g6 d="M1265 683l22-36-17-11-22 38z"/><path class=g3 d="M1243 707l22-24-17-9-23 25z"/><path class=g2 d="M1220 724l23-17-18-8-22 18z"/><path class=g1 d="M1198 735l22-11-17-7-23 12z"/><path class=g0 d="M614 863l22-1 23-3 22-4 22-5 23-5 22-5 23-5 22-4 23-5 22-5 23-5 22-5 23-5 22-5 23-5 22-4 22-5 23-5 22-5 23-5 22-5 23-5 22-5 23-6 22-7 23-9-18-6-22 8-22 7-23 6-22 6-23 5-22 5-23 5-22 4-23 5-22 5-23 5-22 5-23 5-22 5-22 4-23 5-22 5-23 5-22 5-23 5-22 5-23 5-22 4-23 5-22 3-23 2z"/><path class=g1 d="M591 860l23 3-18-5-22-1z"/><path class=g2 d="M569 852l22 8-17-3-23-6z"/><path class=g4 d="M546 834l23 18-18-1-22-14z"/><path class=g7 d="M524 803l22 31-17 3-22-26z"/><path class=g12 d="M501 751l23 52-17 8-23-45z"/><path class=g19 d="M479 671l22 80-17 15-22-72z"/><path class=g26 d="M473 645l6 26-17 23-6-23z"/><path class=g29 d="M468 616l5 29-17 26-6-26z"/><path class=g32 d="M462 584l6 32-18 29-5-28z"/><path class=g36 d="M456 549l6 35-17 33-6-32z"/><path class=g40 d="M451 510l5 39-17 36-5-34z"/><path class=g48 d="M1395 274l5-47-17-36-6 49z"/><path class=g43 d="M1389 318l6-44-18-34-5 46z"/><path class=g39 d="M1383 357l6-39-17-32-6 42z"/><path class=g35 d="M1378 394l5-37-17-29-5 39z"/><path class=g32 d="M1372 427l6-33-17-27-6 35z"/><path class=g24 d="M1350 534l22-107-17-25-23 113z"/><path class=g15 d="M1327 608l23-74-18-19-22 78z"/><path class=g9 d="M1305 659l22-51-17-15-23 54z"/><path class=g5 d="M1282 693l23-34-18-12-22 36z"/><path class=g3 d="M1260 716l22-23-17-10-22 24z"/><path class=g1 d="M1215 742l22-11 23-15-17-9-23 17-22 11z"/><path class=g0 d="M631 867l22 0 23-3 22-3 23-5 22-4 23-5 22-5 22-5 23-5 22-5 23-5 22-5 23-4 22-5 23-5 22-5 23-5 22-5 23-5 22-5 22-5 23-5 22-5 23-6 22-6 23-9-17-7-23 9-22 7-23 6-22 5-23 5-22 5-23 5-22 5-23 5-22 5-22 4-23 5-22 5-23 5-22 5-23 5-22 5-23 5-22 4-23 5-22 5-23 5-22 5-22 4-23 3-22 1z"/><path class=g1 d="M608 863l23 4-17-4-23-3z"/><path class=g2 d="M586 852l22 11-17-3-22-8z"/><path class=g4 d="M563 832l23 20-17 0-23-18z"/><path class=g8 d="M541 796l22 36-17 2-22-31z"/><path class=g14 d="M518 738l23 58-17 7-23-52z"/><path class=g22 d="M496 649l22 89-17 13-22-80z"/><path class=g29 d="M490 620l6 29-17 22-6-26z"/><path class=g33 d="M485 588l5 32-17 25-5-29z"/><path class=g37 d="M479 553l6 35-17 28-6-32z"/><path class=g41 d="M473 515l6 38-17 31-6-35z"/><path class=g45 d="M468 473l5 42-17 34-5-39zm944-161l5-44-17-41-5 47z"/><path class=g40 d="M1406 353l6-41-17-38-6 44z"/><path class=g36 d="M1400 391l6-38-17-35-6 39z"/><path class=g33 d="M1395 425l5-34-17-34-5 37z"/><path class=g29 d="M1389 456l6-31-17-31-6 33z"/><path class=g22 d="M1367 556l22-100-17-29-22 107z"/><path class=g14 d="M1344 625l23-69-17-22-23 74z"/><path class=g8 d="M1322 672l22-47-17-17-22 51z"/><path class=g5 d="M1299 703l23-31-17-13-23 34z"/><path class=g3 d="M1277 724l22-21-17-10-22 23z"/><path class=g1 d="M1254 739l23-15-17-8-23 15z"/><path class=g0 d="M648 871l22 1 23-2 22-3 23-4 22-5 23-5 22-5 23-5 22-4 23-5 22-5 22-5 23-5 22-5 23-5 22-5 23-4 22-5 23-5 22-5 23-5 22-5 23-5 22-6 22-6 23-8 22-11-17-8-22 11-23 9-22 6-23 6-22 5-23 5-22 5-22 5-23 5-22 5-23 5-22 5-23 5-22 5-23 4-22 5-23 5-22 5-23 5-22 5-22 5-23 5-22 4-23 5-22 3-23 3-22 0z"/><path class=g1 d="M625 866l23 5-17-4-23-4z"/><path class=g3 d="M603 853l22 13-17-3-22-11z"/><path class=g5 d="M581 830l22 23-17-1-23-20z"/><path class=g9 d="M558 790l23 40-18 2-22-36z"/><path class=g15 d="M536 726l22 64-17 6-23-58z"/><path class=g25 d="M513 629l23 97-18 12-22-89z"/><path class=g33 d="M507 598l6 31-17 20-6-29z"/><path class=g36 d="M502 564l5 34-17 22-5-32z"/><path class=g40 d="M496 526l6 38-17 24-6-35z"/><path class=g45 d="M491 485l5 41-17 27-6-38z"/><path class=g50 d="M485 439l6 46-18 30-5-42z"/><path class=g41 d="M1429 354l5-41-17-45-5 44z"/><path class=g37 d="M1423 392l6-38-17-42-6 41z"/><path class=g33 d="M1418 427l5-35-17-39-6 38z"/><path class=g30 d="M1412 458l6-31-18-36-5 34z"/><path class=g27 d="M1406 487l6-29-17-33-6 31z"/><path class=g20 d="M1384 580l22-93-17-31-22 100z"/><path class=g13 d="M1361 643l23-63-17-24-23 69z"/><path class=g7 d="M1339 685l22-42-17-18-22 47z"/><path class=g4 d="M1317 714l22-29-17-13-23 31z"/><path class=g2 d="M1294 734l23-20-18-11-22 21z"/><path class=g1 d="M1272 747l22-13-17-10-23 15z"/><path class=g0 d="M688 878l22-2 22-3 23-4 22-5 23-4 22-5 23-5 22-5 23-5 22-5 23-5 22-5 23-4 22-5 22-5 23-5 22-5 23-5 22-5 23-5 22-5 23-5 22-5 23-7 22-7 23-10-18-8-22 11-23 8-22 6-22 6-23 5-22 5-23 5-22 5-23 5-22 5-23 4-22 5-23 5-22 5-23 5-22 5-22 5-23 5-22 4-23 5-22 5-23 5-22 5-23 4-22 3-23 2z"/><path class=g1 d="M665 876l23 2-18-6-22-1z"/><path class=g2 d="M643 870l22 6-17-5-23-5z"/><path class=g3 d="M620 855l23 15-18-4-22-13z"/><path class=g6 d="M598 829l22 26-17-2-22-23z"/><path class=g10 d="M575 786l23 43-17 1-23-40z"/><path class=g17 d="M553 717l22 69-17 4-22-64z"/><path class=g27 d="M530 613l23 104-17 9-23-97z"/><path class=g35 d="M525 579l5 34-17 16-6-31z"/><path class=g39 d="M519 543l6 36-18 19-5-34z"/><path class=g44 d="M513 503l6 40-17 21-6-38z"/><path class=g49 d="M508 459l5 44-17 23-5-41z"/><path class=g54 d="M502 411l6 48-17 26-6-46z"/><path class=g37 d="M1446 399l6-38-18-48-5 41z"/><path class=g33 d="M1440 433l6-34-17-45-6 38z"/><path class=g30 d="M1435 465l5-32-17-41-5 35z"/><path class=g27 d="M1429 494l6-29-17-38-6 31z"/><path class=g24 d="M1424 520l5-26-17-36-6 29z"/><path class=g18 d="M1401 604l23-84-18-33-22 93z"/><path class=g11 d="M1379 661l22-57-17-24-23 63z"/><path class=g6 d="M1356 700l23-39-18-18-22 42z"/><path class=g4 d="M1334 725l22-25-17-15-22 29z"/><path class=g2 d="M1311 743l23-18-17-11-23 20z"/><path class=g1 d="M1289 755l22-12-17-9-22 13z"/><path class=g0 d="M705 883l22-1 23-3 22-4 23-4 22-5 22-5 23-5 22-5 23-5 22-4 23-5 22-5 23-5 22-5 23-5 22-5 23-5 22-4 22-5 23-5 22-5 23-6 22-5 23-6 22-7 23-9-17-8-23 10-22 7-23 7-22 5-23 5-22 5-23 5-22 5-23 5-22 5-23 5-22 5-22 5-23 4-22 5-23 5-22 5-23 5-22 5-23 5-22 5-23 4-22 5-23 4-22 3-22 2z"/><path class=g1 d="M682 881l23 2-17-5-23-2z"/><path class=g2 d="M660 874l22 7-17-5-22-6z"/><path class=g4 d="M637 858l23 16-17-4-23-15z"/><path class=g7 d="M615 830l22 28-17-3-22-26z"/><path class=g11 d="M592 784l23 46-17-1-23-43z"/><path class=g18 d="M570 711l22 73-17 2-22-69z"/><path class=g29 d="M547 600l23 111-17 6-23-104z"/><path class=g38 d="M542 565l5 35-17 13-5-34z"/><path class=g42 d="M536 527l6 38-17 14-6-36z"/><path class=g47 d="M531 485l5 42-17 16-6-40z"/><path class=g52 d="M525 438l6 47-18 18-5-44z"/><path class=g57 d="M519 388l6 50-17 21-6-48z"/><path class=g33 d="M1463 444l6-34-17-49-6 38z"/><path class=g29 d="M1458 476l5-32-17-45-6 34z"/><path class=g26 d="M1452 504l6-28-18-43-5 32z"/><path class=g23 d="M1446 530l6-26-17-39-6 29z"/><path class=g21 d="M1441 554l5-24-17-36-5 26z"/><path class=g16 d="M1418 629l23-75-17-34-23 84z"/><path class=g9 d="M1396 680l22-51-17-25-22 57z"/><path class=g5 d="M1373 714l23-34-17-19-23 39z"/><path class=g3 d="M1351 737l22-23-17-14-22 25z"/><path class=g1 d="M1306 763l22-11 23-15-17-12-23 18-22 12z"/><path class=g0 d="M722 889l22-1 23-3 22-3 23-5 22-5 23-4 22-5 23-5 22-5 22-5 23-5 22-5 23-5 22-4 23-5 22-5 23-5 22-5 23-5 22-5 23-5 22-5 23-6 22-5 22-7 23-8-17-8-23 9-22 7-23 6-22 5-23 6-22 5-23 5-22 5-22 4-23 5-22 5-23 5-22 5-23 5-22 5-23 5-22 4-23 5-22 5-23 5-22 5-22 5-23 4-22 4-23 3-22 1z"/><path class=g1 d="M699 887l23 2-17-6-23-2z"/><path class=g2 d="M677 879l22 8-17-6-22-7z"/><path class=g4 d="M654 862l23 17-17-5-23-16z"/><path class=g7 d="M632 833l22 29-17-4-22-28z"/><path class=g12 d="M610 784l22 49-17-3-23-46z"/><path class=g19 d="M587 708l23 76-18 0-22-73z"/><path class=g31 d="M565 593l22 115-17 3-23-111z"/><path class=g40 d="M559 556l6 37-18 7-5-35z"/><path class=g44 d="M553 516l6 40-17 9-6-38z"/><path class=g49 d="M548 472l5 44-17 11-5-42z"/><path class=g54 d="M542 424l6 48-17 13-6-47z"/><path class=g60 d="M537 372l5 52-17 14-6-50z"/><path class=g28 d="M1480 490l6-30-17-50-6 34z"/><path class=g25 d="M1475 518l5-28-17-46-5 32z"/><path class=g23 d="M1469 544l6-26-17-42-6 28z"/><path class=g20 d="M1463 567l6-23-17-40-6 26z"/><path class=g18 d="M1458 588l5-21-17-37-5 24z"/><path class=g13 d="M1435 654l23-66-17-34-23 75z"/><path class=g8 d="M1413 698l22-44-17-25-22 51z"/><path class=g4 d="M1390 728l23-30-17-18-23 34z"/><path class=g2 d="M1368 747l22-19-17-14-22 23z"/><path class=g1 d="M1346 761l22-14-17-10-23 15z"/><path class=g0 d="M739 895l22 0 23-3 22-4 23-4 22-5 23-5 22-5 23-5 22-5 23-5 22-4 23-5 22-5 22-5 23-5 22-5 23-5 22-5 23-5 22-5 23-5 22-5 23-5 22-6 23-6 22-7 23-10-18-9-22 11-23 8-22 7-22 5-23 6-22 5-23 5-22 5-23 5-22 5-23 5-22 5-23 5-22 4-23 5-22 5-23 5-22 5-22 5-23 5-22 5-23 4-22 5-23 5-22 3-23 3-22 1z"/><path class=g1 d="M717 893l22 2-17-6-23-2z"/><path class=g2 d="M694 885l23 8-18-6-22-8z"/><path class=g4 d="M672 867l22 18-17-6-23-17z"/><path class=g7 d="M649 837l23 30-18-5-22-29z"/><path class=g12 d="M627 787l22 50-17-4-22-49z"/><path class=g20 d="M604 708l23 79-17-3-23-76z"/><path class=g32 d="M582 590l22 118-17 0-22-115z"/><path class=g41 d="M576 553l6 37-17 3-6-37z"/><path class=g46 d="M571 511l5 42-17 3-6-40z"/><path class=g51 d="M565 466l6 45-18 5-5-44z"/><path class=g56 d="M559 417l6 49-17 6-6-48z"/><path class=g62 d="M554 363l5 54-17 7-5-52z"/><path class=g24 d="M1497 536l6-27-17-49-6 30z"/><path class=g22 d="M1492 560l5-24-17-46-5 28z"/><path class=g19 d="M1486 582l6-22-17-42-6 26z"/><path class=g17 d="M1481 602l5-20-17-38-6 23z"/><path class=g15 d="M1475 621l6-19-18-35-5 21z"/><path class=g11 d="M1453 678l22-57-17-33-23 66z"/><path class=g6 d="M1430 716l23-38-18-24-22 44z"/><path class=g4 d="M1408 741l22-25-17-18-23 30z"/><path class=g2 d="M1385 758l23-17-18-13-22 19z"/><path class=g1 d="M1363 769l22-11-17-11-22 14z"/><path class=g0 d="M756 902l23-1 22-3 23-4 22-4 22-5 23-5 22-5 23-4 22-5 23-5 22-5 23-5 22-5 23-5 22-5 23-4 22-5 23-5 22-5 22-6 23-5 22-5 23-5 22-6 23-5 22-7 23-9-17-8-23 10-22 7-23 6-22 6-23 5-22 5-23 5-22 5-23 5-22 5-23 5-22 5-23 5-22 5-22 5-23 5-22 4-23 5-22 5-23 5-22 5-23 5-22 5-23 4-22 4-23 3-22 0z"/><path class=g1 d="M734 900l22 2-17-7-22-2z"/><path class=g2 d="M711 891l23 9-17-7-23-8z"/><path class=g4 d="M689 874l22 17-17-6-22-18z"/><path class=g7 d="M666 843l23 31-17-7-23-30z"/><path class=g12 d="M644 792l22 51-17-6-22-50z"/><path class=g20 d="M621 713l23 79-17-5-23-79z"/><path class=g32 d="M599 593l22 120-17-5-22-118z"/><path class=g42 d="M593 555l6 38-17-3-6-37z"/><path class=g46 d="M588 513l5 42-17-2-5-42z"/><path class=g52 d="M582 467l6 46-17-2-6-45z"/><path class=g57 d="M576 417l6 50-17-1-6-49z"/><path class=g63 d="M571 362l5 55-17 0-5-54z"/><path class=g20 d="M1515 579l5-23-17-47-6 27z"/><path class=g18 d="M1509 600l6-21-18-43-5 24z"/><path class=g16 d="M1503 619l6-19-17-40-6 22z"/><path class=g14 d="M1498 636l5-17-17-37-5 20z"/><path class=g12 d="M1492 652l6-16-17-34-6 19z"/><path class=g9 d="M1470 700l22-48-17-31-22 57z"/><path class=g5 d="M1447 732l23-32-17-22-23 38z"/><path class=g3 d="M1425 753l22-21-17-16-22 25z"/><path class=g1 d="M1380 777l22-10 23-14-17-12-23 17-22 11z"/><path class=g0 d="M773 909l23-1 22-3 23-4 22-5 23-4 22-5 23-5 22-5 22-5 23-5 22-5 23-4 22-5 23-5 22-5 23-5 22-5 23-5 22-5 23-5 22-6 23-5 22-5 22-6 23-5 22-7 23-7-17-8-23 9-22 7-23 5-22 6-23 5-22 5-23 5-22 6-22 5-23 5-22 5-23 4-22 5-23 5-22 5-23 5-22 5-23 5-22 5-23 4-22 5-23 5-22 5-22 4-23 4-22 3-23 1z"/><path class=g1 d="M751 907l22 2-17-7-22-2z"/><path class=g2 d="M728 899l23 8-17-7-23-9z"/><path class=g4 d="M706 882l22 17-17-8-22-17z"/><path class=g7 d="M683 851l23 31-17-8-23-31z"/><path class=g12 d="M661 801l22 50-17-8-22-51z"/><path class=g20 d="M639 721l22 80-17-9-23-79z"/><path class=g32 d="M616 601l23 120-18-8-22-120z"/><path class=g42 d="M610 562l6 39-17-8-6-38z"/><path class=g47 d="M605 520l5 42-17-7-5-42z"/><path class=g52 d="M599 474l6 46-17-7-6-46z"/><path class=g57 d="M594 424l5 50-17-7-6-50z"/><path class=g63 d="M588 368l6 56-18-7-5-55z"/><path class=g16 d="M1532 619l5-20-17-43-5 23z"/><path class=g14 d="M1526 637l6-18-17-40-6 21z"/><path class=g13 d="M1521 653l5-16-17-37-6 19z"/><path class=g11 d="M1515 667l6-14-18-34-5 17z"/><path class=g10 d="M1509 680l6-13-17-31-6 16z"/><path class=g7 d="M1487 720l22-40-17-28-22 48z"/><path class=g4 d="M1464 747l23-27-17-20-23 32z"/><path class=g2 d="M1442 764l22-17-17-15-22 21z"/><path class=g1 d="M1419 775l23-11-17-11-23 14z"/><path class=g0 d="M790 916l23-1 22-3 23-4 22-5 23-5 22-5 23-5 22-5 23-4 22-5 23-5 22-5 23-5 22-5 22-5 23-5 22-5 23-5 22-5 23-5 22-6 23-5 22-5 23-6 22-5 23-6 22-7 22-9-17-8-22 10-23 7-22 7-23 5-22 6-22 5-23 5-22 6-23 5-22 5-23 5-22 5-23 5-22 5-23 5-22 5-23 4-22 5-23 5-22 5-22 5-23 5-22 5-23 4-22 5-23 4-22 3-23 1z"/><path class=g1 d="M768 915l22 1-17-7-22-2z"/><path class=g2 d="M746 907l22 8-17-8-23-8z"/><path class=g4 d="M723 891l23 16-18-8-22-17z"/><path class=g7 d="M701 862l22 29-17-9-23-31z"/><path class=g12 d="M678 812l23 50-18-11-22-50z"/><path class=g20 d="M656 733l22 79-17-11-22-80z"/><path class=g32 d="M633 614l23 119-17-12-23-120z"/><path class=g41 d="M628 576l5 38-17-13-6-39z"/><path class=g46 d="M622 534l6 42-18-14-5-42z"/><path class=g51 d="M616 488l6 46-17-14-6-46z"/><path class=g57 d="M611 438l5 50-17-14-5-50z"/><path class=g63 d="M605 383l6 55-17-14-6-56z"/><path class=g13 d="M1549 655l6-16-18-40-5 20z"/><path class=g11 d="M1543 670l6-15-17-36-6 18z"/><path class=g10 d="M1538 683l5-13-17-33-5 16z"/><path class=g9 d="M1532 695l6-12-17-30-6 14z"/><path class=g8 d="M1526 706l6-11-17-28-6 13z"/><path class=g5 d="M1504 738l22-32-17-26-22 40z"/><path class=g3 d="M1482 759l22-21-17-18-23 27z"/><path class=g2 d="M1459 773l23-14-18-12-22 17z"/><path class=g1 d="M1437 783l22-10-17-9-23 11z"/><path class=g0 d="M785 923l23 1 22-2 23-4 22-4 22-5 23-4 22-5 23-5 22-5 23-5 22-5 23-5 22-5 23-4 22-5 23-5 22-5 23-5 22-5 22-5 23-6 22-5 23-6 22-6 23-5 22-6 23-6 22-6 23-7-18-8-22 9-22 7-23 6-22 5-23 6-22 5-23 5-22 6-23 5-22 5-23 5-22 5-23 5-22 5-22 5-23 5-22 5-23 5-22 5-23 4-22 5-23 5-22 5-23 5-22 5-23 4-22 3-23 1-22-1z"/><path class=g2 d="M763 916l22 7-17-8-22-8z"/><path class=g3 d="M740 901l23 15-17-9-23-16z"/><path class=g6 d="M718 873l22 28-17-10-22-29z"/><path class=g11 d="M695 825l23 48-17-11-23-50z"/><path class=g19 d="M673 749l22 76-17-13-22-79z"/><path class=g31 d="M650 632l23 117-17-16-23-119z"/><path class=g40 d="M645 595l5 37-17-18-5-38z"/><path class=g45 d="M639 554l6 41-17-19-6-42z"/><path class=g50 d="M634 509l5 45-17-20-6-46z"/><path class=g55 d="M628 459l6 50-18-21-5-50z"/><path class=g62 d="M622 405l6 54-17-21-6-55z"/><path class=g10 d="M1566 687l6-13-17-35-6 16z"/><path class=g9 d="M1560 699l6-12-17-32-6 15z"/><path class=g8 d="M1555 709l5-10-17-29-5 13z"/><path class=g7 d="M1549 719l6-10-17-26-6 12z"/><path class=g6 d="M1544 727l5-8-17-24-6 11z"/><path class=g4 d="M1521 753l23-26-18-21-22 32z"/><path class=g2 d="M1499 769l22-16-17-15-22 21z"/><path class=g1 d="M1454 789l22-8 23-12-17-10-23 14-22 10z"/><path class=g0 d="M802 931l23 0 22-2 23-4 22-4 23-5 22-5 23-5 22-5 23-5 22-5 22-4 23-5 22-5 23-5 22-5 23-5 22-5 23-5 22-5 23-5 22-6 23-5 22-6 22-6 23-6 22-6 23-6 22-6 23-6-17-6-23 7-22 6-23 6-22 6-23 5-22 6-23 6-22 5-23 6-22 5-22 5-23 5-22 5-23 5-22 5-23 4-22 5-23 5-22 5-23 5-22 5-23 5-22 5-23 4-22 5-22 4-23 4-22 2-23-1z"/><path class=g1 d="M780 926l22 5-17-8-22-7z"/><path class=g3 d="M757 912l23 14-17-10-23-15z"/><path class=g6 d="M735 886l22 26-17-11-22-28z"/><path class=g10 d="M712 841l23 45-17-13-23-48z"/><path class=g18 d="M690 768l22 73-17-16-22-76z"/><path class=g29 d="M668 655l22 113-17-19-23-117z"/><path class=g38 d="M662 619l6 36-18-23-5-37z"/><path class=g43 d="M656 579l6 40-17-24-6-41z"/><path class=g48 d="M651 535l5 44-17-25-5-45z"/><path class=g53 d="M645 487l6 48-17-26-6-50z"/><path class=g59 d="M639 434l6 53-17-28-6-54z"/><path class=g8 d="M1583 714l6-11-17-29-6 13z"/><path class=g7 d="M1578 723l5-9-17-27-6 12z"/><path class=g6 d="M1572 731l6-8-18-24-5 10z"/><path class=g5 d="M1566 738l6-7-17-22-6 10z"/><path class=g4 d="M1561 745l5-7-17-19-5 8z"/><path class=g3 d="M1538 765l23-20-17-18-23 26z"/><path class=g2 d="M1516 778l22-13-17-12-22 16z"/><path class=g1 d="M1448 800l23-6 22-7 23-9-17-9-23 12-22 8-23 6z"/><path class=g0 d="M819 939l23 0 22-3 23-4 22-5 23-5 22-5 23-5 22-4 23-5 22-5 23-5 22-5 23-5 22-5 22-5 23-4 22-5 23-5 22-5 23-6 22-5 23-6 22-6 23-6 22-6 23-7 22-6 22-6-17-5-22 6-23 6-22 6-23 6-22 6-22 6-23 5-22 6-23 5-22 5-23 5-22 5-23 5-22 5-23 5-22 5-23 5-22 4-22 5-23 5-22 5-23 5-22 5-23 5-22 4-23 4-22 2-23 0z"/><path class=g1 d="M797 935l22 4-17-8-22-5z"/><path class=g2 d="M775 924l22 11-17-9-23-14z"/><path class=g5 d="M752 900l23 24-18-12-22-26z"/><path class=g9 d="M730 859l22 41-17-14-23-45z"/><path class=g16 d="M707 790l23 69-18-18-22-73z"/><path class=g27 d="M685 682l22 108-17-22-22-113z"/><path class=g36 d="M679 648l6 34-17-27-6-36z"/><path class=g41 d="M673 609l6 39-17-29-6-40z"/><path class=g45 d="M668 567l5 42-17-30-5-44z"/><path class=g51 d="M662 520l6 47-17-32-6-48z"/><path class=g56 d="M657 469l5 51-17-33-6-53z"/><path class=g6 d="M1600 735l6-8-17-24-6 11z"/><path class=g5 d="M1595 742l5-7-17-21-5 9z"/><path class=g4 d="M1584 754l5-6 6-6-17-19-6 8-6 7z"/><path class=g3 d="M1556 774l22-15 6-5-18-16-5 7-23 20z"/><path class=g2 d="M1533 784l23-10-18-9-22 13z"/><path class=g1 d="M1443 811l23-6 22-7 23-7 22-7-17-6-23 9-22 7-23 6-22 6z"/><path class=g0 d="M837 948l22-2 23-3 22-5 23-4 22-5 22-5 23-5 22-5 23-5 22-5 23-5 22-5 23-5 22-5 23-4 22-5 23-5 22-5 22-5 23-5 22-5 23-6 22-6 23-7 22-6 23-7 22-7-17-5-22 6-23 7-22 6-23 6-22 6-23 6-22 5-23 6-22 5-23 5-22 5-23 4-22 5-22 5-23 5-22 5-23 5-22 5-23 5-22 4-23 5-22 5-23 5-22 5-23 4-22 3-23 0z"/><path class=g1 d="M814 945l23 3-18-9-22-4z"/><path class=g2 d="M792 936l22 9-17-10-22-11z"/><path class=g4 d="M769 915l23 21-17-12-23-24z"/><path class=g8 d="M747 877l22 38-17-15-22-41z"/><path class=g15 d="M724 814l23 63-17-18-23-69z"/><path class=g25 d="M702 713l22 101-17-24-22-108z"/><path class=g34 d="M696 680l6 33-17-31-6-34z"/><path class=g38 d="M691 644l5 36-17-32-6-39z"/><path class=g42 d="M685 603l6 41-18-35-5-42z"/><path class=g47 d="M679 559l6 44-17-36-6-47z"/><path class=g53 d="M674 510l5 49-17-39-5-51z"/><path class=g4 d="M1606 761l6-5 6-5 5-6-17-18-6 8-5 7-6 6z"/><path class=g3 d="M1595 769l6-4 5-4-17-13-5 6-6 5z"/><path class=g2 d="M1550 788l23-8 22-11-17-10-22 15-23 10z"/><path class=g1 d="M1438 823l22-7 23-7 22-7 23-7 22-7-17-4-22 7-23 7-22 7-23 6-22 7z"/><path class=g0 d="M831 955l23 1 22-3 23-4 22-4 23-5 22-5 23-5 22-5 23-5 22-5 22-5 23-5 22-5 23-5 22-5 23-4 22-5 23-5 22-4 23-5 22-5 23-6 22-5 22-7 23-6 22-7 23-8-17-5-23 7-22 6-23 7-22 6-23 6-22 5-23 5-22 5-22 5-23 5-22 5-23 4-22 5-23 5-22 5-23 5-22 5-23 5-22 5-23 5-22 5-22 5-23 4-22 5-23 3-22 2-23-3z"/><path class=g1 d="M809 947l22 8-17-10-22-9z"/><path class=g4 d="M786 930l23 17-17-11-23-21z"/><path class=g7 d="M764 897l22 33-17-15-22-38z"/><path class=g13 d="M741 839l23 58-17-20-23-63z"/><path class=g23 d="M719 746l22 93-17-25-22-101z"/><path class=g31 d="M713 715l6 31-17-33-6-33z"/><path class=g34 d="M708 681l5 34-17-35-5-36z"/><path class=g39 d="M702 643l6 38-17-37-6-41z"/><path class=g44 d="M697 601l5 42-17-40-6-44z"/><path class=g49 d="M691 555l6 46-18-42-5-49z"/><path class=g4 d="M1635 762l5-4-17-13-5 6z"/><path class=g3 d="M1612 775l6-3 6-3 5-3 6-4-17-11-6 5-6 5-5 4-6 4z"/><path class=g2 d="M1522 806l23-8 22-7 23-7 22-9-17-6-22 11-23 8-22 7-23 7z"/><path class=g1 d="M1455 829l23-8 22-8 22-7-17-4-22 7-23 7-22 7z"/><path class=g0 d="M849 964l22 0 22-4 23-4 22-5 23-5 22-5 23-4 22-5 23-5 22-5 23-5 22-6 23-5 22-5 22-5 23-5 22-5 23-4 22-4 23-5 22-5 23-5 22-5 23-7 22-6 23-8 22-8-17-6-23 8-22 7-23 6-22 7-22 5-23 6-22 5-23 5-22 4-23 5-22 5-23 4-22 5-23 5-22 5-23 5-22 5-22 5-23 5-22 5-23 5-22 5-23 5-22 4-23 4-22 3-23-1z"/><path class=g1 d="M826 959l23 5-18-9-22-8z"/><path class=g3 d="M804 945l22 14-17-12-23-17z"/><path class=g6 d="M781 917l23 28-18-15-22-33z"/><path class=g11 d="M759 865l22 52-17-20-23-58z"/><path class=g20 d="M736 780l23 85-18-26-22-93z"/><path class=g27 d="M731 752l5 28-17-34-6-31z"/><path class=g31 d="M725 721l6 31-18-37-5-34z"/><path class=g35 d="M719 686l6 35-17-40-6-38z"/><path class=g39 d="M714 647l5 39-17-43-5-42z"/><path class=g44 d="M708 604l6 43-17-46-6-46z"/><path class=g4 d="M1652 769l6-3-18-8-5 4z"/><path class=g3 d="M1607 786l22-7 6-3 6-2 5-2 6-3-17-7-6 4-5 3-6 3-6 3-22 9z"/><path class=g2 d="M1540 810l22-8 23-8 22-8-17-2-23 7-22 7-23 8z"/><path class=g1 d="M1472 836l23-8 22-9 23-9-18-4-22 7-22 8-23 8z"/><path class=g0 d="M866 973l22-2 23-4 22-5 23-4 22-5 22-5 23-5 22-5 23-5 22-5 23-6 22-5 23-6 22-5 23-5 22-5 23-5 22-4 22-4 23-4 22-5 23-4 22-5 23-6 22-7 23-8 22-8-17-7-22 8-23 8-22 6-23 7-22 5-23 5-22 5-23 5-22 4-23 4-22 5-23 5-22 5-22 5-23 5-22 6-23 5-22 5-23 5-22 5-23 4-22 5-23 5-22 5-23 4-22 4-22 0z"/><path class=g1 d="M843 970l23 3-17-9-23-5z"/><path class=g2 d="M821 960l22 10-17-11-22-14z"/><path class=g5 d="M798 936l23 24-17-15-23-28z"/><path class=g9 d="M776 892l22 44-17-19-22-52z"/><path class=g17 d="M753 816l23 76-17-27-23-85z"/><path class=g24 d="M748 791l5 25-17-36-5-28z"/><path class=g27 d="M742 762l6 29-17-39-6-31z"/><path class=g31 d="M737 730l5 32-17-41-6-35z"/><path class=g35 d="M731 695l6 35-18-44-5-39z"/><path class=g40 d="M725 655l6 40-17-48-6-43z"/><path class=g4 d="M1658 776l5-2 6-2 6-2-17-4-6 3-6 3-5 2z"/><path class=g3 d="M1579 805l23-9 22-8 23-8 5-2 6-2-17-2-6 2-6 3-22 7-22 8-23 8z"/><path class=g2 d="M1534 825l23-10 22-10-17-3-22 8-23 9z"/><path class=g1 d="M1489 844l23-9 22-10-17-6-22 9-23 8z"/><path class=g0 d="M860 981l23 0 22-3 23-4 22-5 23-5 22-5 23-5 22-5 23-5 22-5 22-6 23-6 22-6 23-6 22-5 23-6 22-5 23-4 22-4 23-4 22-4 23-3 22-4 23-5 22-5 22-6 23-8 22-8-17-8-22 8-23 8-22 7-23 6-22 5-23 4-22 5-23 4-22 4-22 4-23 5-22 5-23 5-22 5-23 6-22 5-23 6-22 5-23 5-22 5-23 5-22 5-22 5-23 4-22 5-23 4-22 2-23-3z"/><path class=g1 d="M838 974l22 7-17-11-22-10z"/><path class=g4 d="M815 955l23 19-17-14-23-24z"/><path class=g8 d="M793 918l22 37-17-19-22-44z"/><path class=g14 d="M771 851l22 67-17-26-23-76z"/><path class=g20 d="M765 829l6 22-18-35-5-25z"/><path class=g23 d="M759 803l6 26-17-38-6-29z"/><path class=g27 d="M754 775l5 28-17-41-5-32z"/><path class=g31 d="M748 743l6 32-17-45-6-35z"/><path class=g35 d="M742 707l6 36-17-48-6-40z"/><path class=g4 d="M1641 789l23-8 5-3 6-2 6-2 5-2 6-2-17 0-6 2-6 2-5 2-6 2-5 2-23 8z"/><path class=g3 d="M1596 810l23-11 22-10-17-1-22 8-23 9z"/><path class=g2 d="M1551 832l23-11 22-11-17-5-22 10-23 10z"/><path class=g1 d="M1529 843l22-11-17-7-22 10z"/><path class=g0 d="M1282 896l22-4 23-3 22-3 23-2 22-3 23-4 22-4 23-6 22-7 23-8 22-9-17-8-23 9-22 8-23 8-22 6-22 5-23 5-22 4-23 3-22 4-23 4-22 4z"/><path class=g1 d="M1237 906l22-5 23-5-17-1-23 4-22 5z"/><path class=g0 d="M878 990l22-1 22-4 23-5 22-5 23-5 22-5 23-4 22-6 23-5 22-6 23-6 22-7 23-6 22-7 22-6 23-6-17-2-23 6-22 5-23 6-22 6-23 6-22 6-22 5-23 5-22 5-23 5-22 5-23 5-22 5-23 4-22 3-23 0z"/><path class=g1 d="M855 986l23 4-18-9-22-7z"/><path class=g2 d="M833 973l22 13-17-12-23-19z"/><path class=g6 d="M810 942l23 31-18-18-22-37z"/><path class=g12 d="M788 886l22 56-17-24-22-67z"/><path class=g17 d="M782 866l6 20-17-35-6-22z"/><path class=g20 d="M776 844l6 22-17-37-6-26z"/><path class=g23 d="M771 819l5 25-17-41-5-28z"/><path class=g26 d="M765 791l6 28-17-44-6-32z"/><path class=g30 d="M760 759l5 32-17-48-6-36z"/><path class=g5 d="M1681 781l6-3 5-2 6-2 5-2 6-3-17 1-6 2-5 2-6 2-6 2-5 3z"/><path class=g4 d="M1636 804l22-12 23-11-17 0-23 8-22 10z"/><path class=g3 d="M1614 816l22-12-17-5-23 11z"/><path class=g2 d="M1591 829l23-13-18-6-22 11z"/><path class=g1 d="M1546 852l23-11 22-12-17-8-23 11-22 11z"/><path class=g0 d="M1366 886l23-1 22-2 23-2 22-3 23-4 22-6 23-7 22-9-17-9-22 9-23 8-22 7-23 6-22 4-23 4-22 3-23 2z"/><path class=g1 d="M1187 926l22-8 23-7 22-7 23-5 22-5 23-3 22-3 22-2-17 0-22 3-23 3-22 4-23 5-22 5-23 6-22 6-22 7z"/><path class=g0 d="M872 998l23 1 22-3 23-5 22-5 23-5 22-4 22-5 23-5 22-6 23-6 22-7 23-7 22-7 23-8-17-1-23 6-22 7-23 6-22 6-23 5-22 6-23 4-22 5-23 5-22 5-23 5-22 4-22 1-23-4z"/><path class=g2 d="M850 989l22 9-17-12-22-13z"/><path class=g4 d="M827 965l23 24-17-16-23-31z"/><path class=g9 d="M805 919l22 46-17-23-22-56z"/><path class=g14 d="M799 902l6 17-17-33-6-20z"/><path class=g16 d="M794 883l5 19-17-36-6-22z"/><path class=g19 d="M788 862l6 21-18-39-5-25z"/><path class=g22 d="M782 837l6 25-17-43-6-28z"/><path class=g25 d="M777 809l5 28-17-46-5-32z"/><path class=g6 d="M1709 776l6-2 6-3 5-3-17 1-6 3-5 2-6 2z"/><path class=g5 d="M1676 796l22-13 6-4 5-3-17 0-5 2-6 3-23 11z"/><path class=g4 d="M1653 810l23-14-18-4-22 12z"/><path class=g3 d="M1631 825l22-15-17-6-22 12z"/><path class=g2 d="M1608 838l23-13-17-9-23 13z"/><path class=g1 d="M1586 851l22-13-17-9-22 12z"/><path class=g0 d="M1429 882l22 0 22 0 23-2 22-4 23-6 22-9 23-10-17-10-23 11-22 9-23 7-22 6-23 4-22 3-23 2z"/><path class=g1 d="M1384 882l22 0 23 0-18 1-22 2-23 1z"/><path class=g2 d="M1204 924l22-9 23-9 22-7 23-6 22-5 23-3 22-2 23-1-18 4-22 2-22 3-23 3-22 5-23 5-22 7-23 7-22 8z"/><path class=g1 d="M1159 942l22-9 23-9-17 2-23 8-22 7z"/><path class=g0 d="M889 1008l23-1 22-4 23-5 22-5 23-5 22-5 23-5 22-5 23-7 22-7 22-8 23-9-17-1-23 7-22 7-23 6-22 6-23 5-22 5-22 4-23 5-22 5-23 5-22 3-23-1z"/><path class=g1 d="M867 1003l22 5-17-10-22-9z"/><path class=g3 d="M844 986l23 17-17-14-23-24z"/><path class=g7 d="M822 949l22 37-17-21-22-46z"/><path class=g11 d="M816 936l6 13-17-30-6-17z"/><path class=g13 d="M811 920l5 16-17-34-5-19z"/><path class=g15 d="M805 902l6 18-17-37-6-21z"/><path class=g17 d="M800 881l5 21-17-40-6-25z"/><path class=g20 d="M794 857l6 24-18-44-5-28z"/><path class=g7 d="M1738 772l5-4-17 0-5 3z"/><path class=g6 d="M1715 786l6-3 5-4 6-4 6-3-17-1-6 3-6 2-5 3-6 4z"/><path class=g5 d="M1693 803l22-17-17-3-22 13z"/><path class=g4 d="M1670 819l23-16-17-7-23 14z"/><path class=g3 d="M1648 835l22-16-17-9-22 15z"/><path class=g2 d="M1625 849l23-14-17-10-23 13z"/><path class=g1 d="M1603 861l22-12-17-11-22 13z"/><path class=g0 d="M1491 881l22 1 23-1 22-4 22-6 23-10-17-10-23 10-22 9-23 6-22 4-23 2z"/><path class=g1 d="M1446 876l22 3 23 2-18 1-22 0-22 0z"/><path class=g2 d="M1423 873l23 3-17 6-23 0z"/><path class=g3 d="M1378 871l23 0 22 2-17 9-22 0-23 1z"/><path class=g4 d="M1266 896l22-9 23-7 22-5 23-3 22-1-17 12-22 2-23 3-22 5-23 6-22 7z"/><path class=g3 d="M1221 917l23-11 22-10-17 10-23 9-22 9z"/><path class=g2 d="M1176 941l23-12 22-12-17 7-23 9-22 9z"/><path class=g1 d="M1154 952l22-11-17 1-23 9z"/><path class=g0 d="M884 1016l23 1 22-3 22-5 23-5 22-5 23-5 22-5 23-5 22-6 23-8 22-8 23-10-18-1-22 8-22 7-23 7-22 5-23 5-22 5-23 5-22 5-23 5-22 4-23 1-22-5z"/><path class=g2 d="M862 1005l22 11-17-13-23-17z"/><path class=g5 d="M839 977l23 28-18-19-22-37z"/><path class=g8 d="M834 966l5 11-17-28-6-13z"/><path class=g10 d="M828 954l6 12-18-30-5-16z"/><path class=g11 d="M822 939l6 15-17-34-6-18z"/><path class=g14 d="M817 922l5 17-17-37-5-21z"/><path class=g16 d="M811 902l6 20-17-41-6-24z"/><path class=g7 d="M1749 780l6-5 5-4-17-3-5 4-6 3z"/><path class=g6 d="M1732 794l6-5 6-5 5-4-17-5-6 4-5 4-6 3z"/><path class=g5 d="M1710 813l22-19-17-8-22 17z"/><path class=g3 d="M1687 831l23-18-17-10-23 16z"/><path class=g2 d="M1665 847l22-16-17-12-22 16z"/><path class=g1 d="M1643 861l22-14-17-12-23 14z"/><path class=g0 d="M1530 879l23 3 22 0 23-4 22-6 23-11-18-12-22 12-23 10-22 6-22 4-23 1z"/><path class=g1 d="M1508 874l22 5-17 3-22-1z"/><path class=g2 d="M1485 868l23 6-17 7-23-2z"/><path class=g3 d="M1463 861l22 7-17 11-22-3z"/><path class=g4 d="M1440 856l23 5-17 15-23-3z"/><path class=g5 d="M1418 851l22 5-17 17-22-2z"/><path class=g6 d="M1395 849l23 2-17 20-23 0z"/><path class=g7 d="M1306 867l22-9 23-6 22-3 22 0-17 22-22 1-23 3-22 5-23 7z"/><path class=g6 d="M1261 890l22-12 23-11-18 20-22 9-22 10z"/><path class=g5 d="M1238 905l23-15-17 16-23 11z"/><path class=g4 d="M1216 919l22-14-17 12-22 12z"/><path class=g3 d="M1193 934l23-15-17 10-23 12z"/><path class=g2 d="M1171 948l22-14-17 7-22 11z"/><path class=g1 d="M1126 972l22-11 23-13-17 4-23 10-22 8z"/><path class=g0 d="M901 1026l23-1 22-5 23-5 22-5 23-5 22-5 22-5 23-6 22-8 23-9-17-2-23 8-22 6-23 5-22 5-23 5-22 5-23 5-22 5-22 3-23-1z"/><path class=g1 d="M879 1021l22 5-17-10-22-11z"/><path class=g3 d="M856 1001l23 20-17-16-23-28z"/><path class=g6 d="M851 993l5 8-17-24-5-11z"/><path class=g7 d="M845 983l6 10-17-27-6-12z"/><path class=g8 d="M839 972l6 11-17-29-6-15z"/><path class=g10 d="M834 958l5 14-17-33-5-17z"/><path class=g12 d="M828 942l6 16-17-36-6-20z"/><path class=g7 d="M1766 788l6-5 6-6-18-6-5 4-6 5z"/><path class=g6 d="M1755 799l6-5 5-6-17-8-5 4-6 5z"/><path class=g5 d="M1750 804l5-5-17-10-6 5z"/><path class=g4 d="M1727 826l23-22-18-10-22 19z"/><path class=g3 d="M1705 845l22-19-17-13-23 18z"/><path class=g1 d="M1682 861l23-16-18-14-22 16z"/><path class=g0 d="M1592 881l23 1 22-2 23-8 22-11-17-14-22 14-23 11-22 6-23 4z"/><path class=g1 d="M1570 876l22 5-17 1-22 0z"/><path class=g2 d="M1547 867l23 9-17 6-23-3z"/><path class=g3 d="M1525 857l22 10-17 12-22-5z"/><path class=g5 d="M1502 846l23 11-17 17-23-6z"/><path class=g6 d="M1480 835l22 11-17 22-22-7z"/><path class=g8 d="M1458 826l22 9-17 26-23-5z"/><path class=g9 d="M1435 819l23 7-18 30-22-5z"/><path class=g10 d="M1413 814l22 5-17 32-23-2z"/><path class=g11 d="M1345 824l23-7 22-3 23 0-18 35-22 0-22 3-23 6z"/><path class=g10 d="M1300 848l23-13 22-11-17 34-22 9-23 11z"/><path class=g9 d="M1278 865l22-17-17 30-22 12z"/><path class=g8 d="M1255 883l23-18-17 25-23 15z"/><path class=g6 d="M1233 902l22-19-17 22-22 14z"/><path class=g5 d="M1210 921l23-19-17 17-23 15z"/><path class=g4 d="M1188 939l22-18-17 13-22 14z"/><path class=g2 d="M1166 956l22-17-17 9-23 13z"/><path class=g1 d="M1121 983l22-12 23-15-18 5-22 11-23 9z"/><path class=g0 d="M896 1034l22 1 23-3 22-6 23-5 22-5 23-4 22-5 23-6 22-8 23-10-18-2-22 8-23 6-22 5-22 5-23 5-22 5-23 5-22 5-23 1-22-5z"/><path class=g2 d="M873 1022l23 12-17-13-23-20z"/><path class=g4 d="M868 1016l5 6-17-21-5-8z"/><path class=g5 d="M862 1009l6 7-17-23-6-10z"/><path class=g6 d="M857 1001l5 8-17-26-6-11z"/><path class=g7 d="M851 990l6 11-18-29-5-14z"/><path class=g9 d="M845 978l6 12-17-32-6-16z"/><path class=g7 d="M1789 795l6-6-17-12-6 6z"/><path class=g6 d="M1778 807l6-6 5-6-17-12-6 5-5 6z"/><path class=g5 d="M1767 819l5-6 6-6-17-13-6 5-5 5z"/><path class=g3 d="M1744 841l23-22-17-15-23 22z"/><path class=g2 d="M1722 860l22-19-17-15-22 19z"/><path class=g1 d="M1699 873l23-13-17-15-23 16z"/><path class=g0 d="M1632 880l22 3 23-2 22-8-17-12-22 11-23 8-22 2z"/><path class=g1 d="M1609 871l23 9-17 2-23-1z"/><path class=g2 d="M1587 859l22 12-17 10-22-5z"/><path class=g4 d="M1565 843l22 16-17 17-23-9z"/><path class=g6 d="M1542 826l23 17-18 24-22-10z"/><path class=g8 d="M1520 809l22 17-17 31-23-11z"/><path class=g11 d="M1497 793l23 16-18 37-22-11z"/><path class=g12 d="M1475 779l22 14-17 42-22-9z"/><path class=g14 d="M1452 768l23 11-17 47-23-7z"/><path class=g15 d="M1430 762l22 6-17 51-22-5z"/><path class=g16 d="M1407 761l23 1-17 52-23 0z"/><path class=g17 d="M1385 764l22-3-17 53-22 3z"/><path class=g16 d="M1340 787l22-14 23-9-17 53-23 7-22 11z"/><path class=g15 d="M1317 804l23-17-17 48-23 13z"/><path class=g13 d="M1295 825l22-21-17 44-22 17z"/><path class=g12 d="M1273 849l22-24-17 40-23 18z"/><path class=g10 d="M1250 874l23-25-18 34-22 19z"/><path class=g8 d="M1228 899l22-25-17 28-23 19z"/><path class=g6 d="M1205 923l23-24-18 22-22 18z"/><path class=g4 d="M1183 945l22-22-17 16-22 17z"/><path class=g3 d="M1160 964l23-19-17 11-23 15z"/><path class=g2 d="M1138 981l22-17-17 7-22 12z"/><path class=g1 d="M1115 994l23-13-17 2-23 10z"/><path class=g0 d="M913 1045l23-2 22-5 22-6 23-5 22-4 23-5 22-6 23-8 22-10-17-1-22 8-23 6-22 5-23 4-22 5-23 5-22 6-23 3-22-1z"/><path class=g1 d="M891 1039l22 6-17-11-23-12z"/><path class=g2 d="M885 1035l6 4-18-17-5-6z"/><path class=g3 d="M879 1031l6 4-17-19-6-7z"/><path class=g4 d="M874 1025l5 6-17-22-5-8z"/><path class=g5 d="M868 1018l6 7-17-24-6-11z"/><path class=g6 d="M863 1009l5 9-17-28-6-12zm925-204l5-6 6-7-4-3-6 6-5 6z"/><path class=g5 d="M1782 811l6-6-4-4-6 6z"/><path class=g4 d="M1771 823l6-6 5-6-4-4-6 6-5 6z"/><path class=g3 d="M1749 845l22-22-4-4-23 22z"/><path class=g1 d="M1726 863l23-18-5-4-22 19z"/><path class=g0 d="M1659 883l22-1 23-6 22-13-4-3-23 13-22 8-23 2z"/><path class=g1 d="M1636 878l23 5-5 0-22-3z"/><path class=g2 d="M1614 867l22 11-4 2-23-9z"/><path class=g4 d="M1591 852l23 15-5 4-22-12z"/><path class=g7 d="M1569 835l22 17-4 7-22-16z"/><path class=g9 d="M1546 816l23 19-4 8-23-17z"/><path class=g12 d="M1524 797l22 19-4 10-22-17z"/><path class=g14 d="M1501 779l23 18-4 12-23-16z"/><path class=g17 d="M1479 764l22 15-4 14-22-14z"/><path class=g18 d="M1457 752l22 12-4 15-23-11z"/><path class=g20 d="M1434 746l23 6-5 16-22-6z"/><path class=g21 d="M1367 757l22-9 23-4 22 2-4 16-23-1-22 3-23 9z"/><path class=g20 d="M1344 772l23-15-5 16-22 14z"/><path class=g19 d="M1322 791l22-19-4 15-23 17z"/><path class=g17 d="M1299 813l23-22-5 13-22 21z"/><path class=g15 d="M1277 838l22-25-4 12-22 24z"/><path class=g13 d="M1254 864l23-26-4 11-23 25z"/><path class=g10 d="M1232 891l22-27-4 10-22 25z"/><path class=g8 d="M1209 917l23-26-4 8-23 24z"/><path class=g6 d="M1187 941l22-24-4 6-22 22z"/><path class=g4 d="M1164 962l23-21-4 4-23 19z"/><path class=g2 d="M1142 980l22-18-4 2-22 17z"/><path class=g1 d="M1120 994l22-14-4 1-23 13z"/><path class=g0 d="M895 1043l22 4 23-2 22-6 23-5 22-5 23-5 22-5 23-6 22-8 23-11-5 0-22 10-23 8-22 6-23 5-22 4-23 5-22 6-22 5-23 2-22-6z"/><path class=g1 d="M889 1040l6 3-4-4-6-4z"/><path class=g2 d="M884 1036l5 4-4-5-6-4z"/><path class=g3 d="M872 1024l6 6 6 6-5-5-5-6-6-7z"/><path class=g4 d="M867 1016l5 8-4-6-5-9z"/><path class=g6 d="M1798 803l5-7-4-4-6 7z"/><path class=g5 d="M1787 816l5-7 6-6-5-4-5 6-6 6z"/><path class=g4 d="M1775 828l6-6 6-6-5-5-5 6-6 6z"/><path class=g2 d="M1753 850l22-22-4-5-22 22z"/><path class=g1 d="M1730 867l23-17-4-5-23 18z"/><path class=g0 d="M1663 882l22 1 23-5 22-11-4-4-22 13-23 6-22 1z"/><path class=g1 d="M1641 875l22 7-4 1-23-5z"/><path class=g3 d="M1618 862l23 13-5 3-22-11z"/><path class=g5 d="M1596 845l22 17-4 5-23-15z"/><path class=g8 d="M1573 825l23 20-5 7-22-17z"/><path class=g10 d="M1551 804l22 21-4 10-23-19z"/><path class=g13 d="M1528 783l23 21-5 12-22-19z"/><path class=g16 d="M1506 764l22 19-4 14-23-18z"/><path class=g18 d="M1483 747l23 17-5 15-22-15z"/><path class=g20 d="M1461 735l22 12-4 17-22-12z"/><path class=g22 d="M1438 728l23 7-4 17-23-6z"/><path class=g23 d="M1371 740l22-10 23-4 22 2-4 18-22-2-23 4-22 9z"/><path class=g22 d="M1348 755l23-15-4 17-23 15z"/><path class=g21 d="M1326 775l22-20-4 17-22 19z"/><path class=g19 d="M1304 799l22-24-4 16-23 22z"/><path class=g16 d="M1281 826l23-27-5 14-22 25z"/><path class=g14 d="M1259 854l22-28-4 12-23 26z"/><path class=g11 d="M1236 883l23-29-5 10-22 27z"/><path class=g9 d="M1214 910l22-27-4 8-23 26z"/><path class=g6 d="M1191 936l23-26-5 7-22 24z"/><path class=g4 d="M1169 959l22-23-4 5-23 21z"/><path class=g3 d="M1146 978l23-19-5 3-22 18z"/><path class=g1 d="M1124 993l22-15-4 2-22 14z"/><path class=g0 d="M899 1046l23 3 22-3 23-5 22-6 23-5 22-4 22-5 23-7 22-9 23-12-4 1-23 11-22 8-23 6-22 5-23 5-22 5-23 5-22 6-23 2-22-4z"/><path class=g1 d="M888 1040l6 4 5 2-4-3-6-3-5-4z"/><path class=g2 d="M882 1035l6 5-4-4-6-6z"/><path class=g3 d="M877 1030l5 5-4-5-6-6z"/><path class=g4 d="M871 1022l6 8-5-6-5-8z"/><path class=g6 d="M1802 807l6-7-5-4-5 7z"/><path class=g5 d="M1796 814l6-7-4-4-6 6z"/><path class=g4 d="M1785 826l6-6 5-6-4-5-5 7-6 6z"/><path class=g3 d="M1780 832l5-6-4-4-6 6z"/><path class=g2 d="M1757 854l23-22-5-4-22 22z"/><path class=g1 d="M1735 870l22-16-4-4-23 17z"/><path class=g0 d="M1667 880l23 4 22-4 23-10-5-3-22 11-23 5-22-1z"/><path class=g2 d="M1645 871l22 9-4 2-22-7z"/><path class=g4 d="M1622 856l23 15-4 4-23-13z"/><path class=g6 d="M1600 836l22 20-4 6-22-17z"/><path class=g9 d="M1577 814l23 22-4 9-23-20z"/><path class=g12 d="M1555 791l22 23-4 11-22-21z"/><path class=g15 d="M1532 768l23 23-4 13-23-21z"/><path class=g18 d="M1510 747l22 21-4 15-22-19z"/><path class=g21 d="M1488 729l22 18-4 17-23-17z"/><path class=g23 d="M1465 716l23 13-5 18-22-12z"/><path class=g24 d="M1443 708l22 8-4 19-23-7z"/><path class=g25 d="M1420 706l23 2-5 20-22-2z"/><path class=g26 d="M1398 710l22-4-4 20-23 4z"/><path class=g25 d="M1375 721l23-11-5 20-22 10z"/><path class=g24 d="M1353 737l22-16-4 19-23 15z"/><path class=g23 d="M1330 759l23-22-5 18-22 20z"/><path class=g21 d="M1308 784l22-25-4 16-22 24z"/><path class=g18 d="M1285 813l23-29-4 15-23 27z"/><path class=g15 d="M1263 843l22-30-4 13-22 28z"/><path class=g13 d="M1240 874l23-31-4 11-23 29z"/><path class=g10 d="M1218 903l22-29-4 9-22 27z"/><path class=g7 d="M1196 931l22-28-4 7-23 26z"/><path class=g5 d="M1173 955l23-24-5 5-22 23z"/><path class=g3 d="M1151 976l22-21-4 4-23 19z"/><path class=g2 d="M1128 993l23-17-5 2-22 15z"/><path class=g1 d="M1106 1006l22-13-4 0-23 12z"/><path class=g0 d="M903 1050l23 2 22-4 23-6 22-5 23-5 22-5 23-5 22-7 23-9-5-1-22 9-23 7-22 5-22 4-23 5-22 6-23 5-22 3-23-3z"/><path class=g1 d="M892 1044l6 3 5 3-4-4-5-2-6-4z"/><path class=g2 d="M881 1035l6 5 5 4-4-4-6-5-5-5z"/><path class=g3 d="M875 1028l6 7-4-5-6-8z"/><path class=g5 d="M1801 818l5-6 6-7-4-5-6 7-6 7z"/><path class=g4 d="M1790 831l5-6 6-7-5-4-5 6-6 6z"/><path class=g3 d="M1784 837l6-6-5-5-5 6z"/><path class=g2 d="M1761 858l23-21-4-5-23 22z"/><path class=g0 d="M1694 884l22-2 23-8 22-16-4-4-22 16-23 10-22 4z"/><path class=g1 d="M1672 878l22 6-4 0-23-4z"/><path class=g2 d="M1649 866l23 12-5 2-22-9z"/><path class=g5 d="M1627 848l22 18-4 5-23-15z"/><path class=g7 d="M1604 826l23 22-5 8-22-20z"/><path class=g10 d="M1582 802l22 24-4 10-23-22z"/><path class=g14 d="M1559 776l23 26-5 12-22-23z"/><path class=g17 d="M1537 751l22 25-4 15-23-23z"/><path class=g20 d="M1514 728l23 23-5 17-22-21z"/><path class=g23 d="M1492 709l22 19-4 19-22-18z"/><path class=g25 d="M1469 695l23 14-4 20-23-13z"/><path class=g27 d="M1447 686l22 9-4 21-22-8z"/><path class=g28 d="M1380 700l22-11 22-5 23 2-4 22-23-2-22 4-23 11z"/><path class=g27 d="M1357 718l23-18-5 21-22 16z"/><path class=g25 d="M1335 741l22-23-4 19-23 22z"/><path class=g23 d="M1312 768l23-27-5 18-22 25z"/><path class=g20 d="M1290 798l22-30-4 16-23 29z"/><path class=g17 d="M1267 831l23-33-5 15-22 30z"/><path class=g14 d="M1245 863l22-32-4 12-23 31z"/><path class=g11 d="M1222 895l23-32-5 11-22 29z"/><path class=g8 d="M1200 925l22-30-4 8-22 28z"/><path class=g6 d="M1177 951l23-26-4 6-23 24z"/><path class=g4 d="M1155 973l22-22-4 4-22 21z"/><path class=g2 d="M1132 992l23-19-4 3-23 17z"/><path class=g1 d="M1110 1006l22-14-4 1-22 13z"/><path class=g0 d="M908 1053l22 1 23-5 22-5 23-6 22-4 23-5 22-5 23-8 22-10-4 0-23 9-22 7-23 5-22 5-23 5-22 5-23 6-22 4-23-2z"/><path class=g1 d="M891 1045l6 3 5 3 6 2-5-3-5-3-6-3-5-4z"/><path class=g2 d="M885 1040l6 5-4-5-6-5z"/><path class=g3 d="M880 1034l5 6-4-5-6-7z"/><path class=g5 d="M1811 816l5-7-4-4-6 7z"/><path class=g4 d="M1799 830l6-7 6-7-5-4-5 6-6 7z"/><path class=g3 d="M1788 842l6-6 5-6-4-5-5 6-6 6z"/><path class=g2 d="M1766 862l22-20-4-5-23 21z"/><path class=g0 d="M1698 883l23 1 22-7 23-15-5-4-22 16-23 8-22 2z"/><path class=g1 d="M1676 875l22 8-4 1-22-6z"/><path class=g3 d="M1653 860l23 15-4 3-23-12z"/><path class=g6 d="M1631 840l22 20-4 6-22-18z"/><path class=g9 d="M1608 815l23 25-4 8-23-22z"/><path class=g12 d="M1586 788l22 27-4 11-22-24z"/><path class=g16 d="M1564 760l22 28-4 14-23-26z"/><path class=g19 d="M1541 733l23 27-5 16-22-25z"/><path class=g22 d="M1519 708l22 25-4 18-23-23z"/><path class=g25 d="M1496 687l23 21-5 20-22-19z"/><path class=g28 d="M1474 672l22 15-4 22-23-14z"/><path class=g30 d="M1451 663l23 9-5 23-22-9z"/><path class=g31 d="M1406 666l23-5 22 2-4 23-23-2-22 5z"/><path class=g30 d="M1384 678l22-12-4 23-22 11z"/><path class=g29 d="M1361 697l23-19-4 22-23 18z"/><path class=g27 d="M1339 721l22-24-4 21-22 23z"/><path class=g25 d="M1316 750l23-29-4 20-23 27z"/><path class=g22 d="M1294 783l22-33-4 18-22 30z"/><path class=g19 d="M1272 817l22-34-4 15-23 33z"/><path class=g15 d="M1249 852l23-35-5 14-22 32z"/><path class=g12 d="M1227 886l22-34-4 11-23 32z"/><path class=g9 d="M1204 918l23-32-5 9-22 30z"/><path class=g7 d="M1182 946l22-28-4 7-23 26z"/><path class=g4 d="M1159 970l23-24-5 5-22 22z"/><path class=g2 d="M1137 990l22-20-4 3-23 19z"/><path class=g1 d="M1114 1005l23-15-5 2-22 14z"/><path class=g0 d="M906 1054l6 2 23-1 22-4 22-6 23-5 22-5 23-4 22-6 23-8 22-12-4 1-22 10-23 8-22 5-23 5-22 4-23 6-22 5-23 5-22-1-6-2z"/><path class=g1 d="M895 1049l6 3 5 2-4-3-5-3-6-3z"/><path class=g2 d="M884 1040l6 5 5 4-4-4-6-5-5-6z"/></g>
</g>
<g>
<path d="M1352.5 535.5L1007.5 399.0M1466.6 509.6L1121.6 373.1M1580.8 483.8L1235.8 347.2M1694.9 457.9L1349.9 321.4M1809.0 432.0L1464.0 295.5M1352.5 535.5L1809.0 432.0M1266.2 501.4L1722.8 397.9M1180.0 467.2L1636.5 363.8M1093.8 433.1L1550.2 329.6M1007.5 399.0L1464.0 295.5M1007.5 399.0L1007.5 105.5M1121.6 373.1L1121.6 79.7M1235.8 347.2L1235.8 53.8M1349.9 321.4L1349.9 27.9M1464.0 295.5L1464.0 2.0M1007.5 332.0L1464.0 228.5M1007.5 265.0L1464.0 161.5M1007.5 198.0L1464.0 94.5M1007.5 131.0L1464.0 27.5M1809.0 432.0L1809.0 138.5M1722.8 397.9L1722.8 104.4M1636.5 363.8L1636.5 70.3M1550.2 329.6L1550.2 36.2M1464.0 295.5L1464.0 2.0M1809.0 365.0L1464.0 228.5M1809.0 298.0L1464.0 161.5M1809.0 231.0L1464.0 94.5M1809.0 164.0L1464.0 27.5" stroke="#e4e4e4" stroke-width="2.4" fill="none"/>
<g transform="matrix(2.85312 -0.64687 -2.15625 -0.85313 1408.25 415.50)" fill="none" stroke-width="1.7" stroke-linejoin="round">
<path stroke="#4740e3" vector-effect="non-scaling-stroke" d="M1 0l-1-1-1 1 1 1z"/>
<path stroke="#4660fc" vector-effect="non-scaling-stroke" d="M-3-4l-1 0 0 1zM1 4l1-2 2-1 1-1-1-1-2-1-1-2-1-1-1 1-1 2-2 1-1 1 1 1 2 1 1 2 1 1zM4-4l-1 0 1 1zM-3 4l-1-1 0 1zM4 4l0-1-1 1 1 0z"/>
<path stroke="#2e83f9" vector-effect="non-scaling-stroke" d="M-3-8l-1 0-1 0 1 1zM1 8l0-2 1 0 2 0 2-2 0-2 0-1 2 0 1-1-1-1-2 0 0-1 0-2-2-2-2 0-1 0 0-2-1-1-1 1 0 2-1 0-2 0-2 2 0 2 0 1-2 0-1 1 1 1 2 0 0 1 0 2 2 2 2 0 1 0 0 2 1 1zM5-8l-1 0-1 0 1 1zM-7-4l-1-1 0 1 0 1zM8-4l0-1-1 1 1 1zM-7 4l-1-1 0 1 0 1zM8 4l0-1-1 1 1 1zM-3 8l-1-1-1 1 1 0zM5 8l-1-1-1 1 1 0z"/>
<path stroke="#23a0e5" vector-effect="non-scaling-stroke" d="M-3-12l-1-1-1 1 1 2zM1 12l0-2 1 0 2 0 2-2 2 1 1-1-1-2 2-2 0-2 0-1 2 0 1-1-1-1-2 0 0-1 0-2-2-2 1-2-1-1-2 1-2-2-2 0-1 0 0-2-1-1-1 1 0 2-1 0-2 0-2 2-2-1-1 1 1 2-2 2 0 2 0 1-2 0-1 1 1 1 2 0 0 1 0 2 2 2-1 2 1 1 2-1 2 2 2 0 1 0 0 2 1 1zM5-12l-1-1-1 1 1 2zM-10-4l-2-1-1 1 1 1zM13-4l-1-1-2 1 2 1zM-10 4l-2-1-1 1 1 1zM13 4l-1-1-2 1 2 1zM-3 12l-1-2-1 2 1 1zM5 12l-1-2-1 2 1 1z"/>
<path stroke="#03b7cc" vector-effect="non-scaling-stroke" d="M-7-16l-1-1-1 1 1 1zM5 16l0-2 1-1 2 1 2-2 0-2 2 0 2-2-1-2 1-1 2 0 1-1-1-1-2 0 0-1 0-1 2 1 1-2-1-2-2 1 0-1 0-1 2 0 1-1-1-1-2 0-1-1 1-2-2-2-2 0 0-2-2-2-2 1-1-1 0-2-1-1-1 1 0 2-1 0-1 0 1-2-2-1-2 1 1 2-1 0-1 0 0-2-1-1-1 1 0 2-1 1-2-1-2 2 0 2-2 0-2 2 1 2-1 1-2 0-1 1 1 1 2 0 0 1 0 1-2-1-1 2 1 2 2-1 0 1 0 1-2 0-1 1 1 1 2 0 1 1-1 2 2 2 2 0 0 2 2 2 2-1 1 1 0 2 1 1 1-1 0-2 1 0 1 0-1 2 2 1 2-1-1-2 1 0 1 0 0 2 1 1zM9-16l-1-1-1 1 1 1zM-10-12l-2-1-1 1 1 2zM13-12l-1-1-2 1 2 2zM-15-8l-1-1-1 1 1 1zM17-8l-1-1-1 1 1 1zM-15 8l-1-1-1 1 1 1zM17 8l-1-1-1 1 1 1zM-10 12l-2-2-1 2 1 1zM13 12l-1-2-2 2 2 1zM-7 16l-1-1-1 1 1 1zM9 16l-1-1-1 1 1 1z"/>
<path stroke="#2ec5a4" vector-effect="non-scaling-stroke" d="M-3-24l-1 0-1 0 1 1zM1-24l-1 0-1 0 1 1zM5-24l-1 0-1 0 1 1zM-11-20l-1-1-1 1 1 1zM9 20l0-2 1-1 2 1 2-2-1-2 1-1 2 1 2-2-1-2 1-1 2 0 1-1-1-2-2 1 0-1 2 0 1-2-1-2 2-2-2-2 1-2-1-2-2 0 0-1 2 1 1-2-1-1-2 0-1-1 1-2-2-2-2 1-1-1 1-2-2-2-2 1-1-1 0-2-1-1-2 1 1 2-1 0 0-2-2-1-2 1-2-2-2 2-2-1-2 1 0 2-1 0 1-2-2-1-1 1 0 2-1 1-2-1-2 2 1 2-1 1-2-1-2 2 1 2-1 1-2 0-1 1 1 2 2-1 0 1-2 0-1 2 1 2-2 2 2 2-1 2 1 2 2 0 0 1-2-1-1 2 1 1 2 0 1 1-1 2 2 2 2-1 1 1-1 2 2 2 2-1 1 1 0 2 1 1 2-1-1-2 1 0 0 2 2 1 2-1 2 2 2-2 2 1 2-1 0-2 1 0-1 2 2 1zM13-20l-1-1-1 1 1 1zM-14-16l-2-1-1 1 1 2zM17-16l-1-1-2 1 2 2zM-19-12l-1-1-1 1 1 1zM21-12l-1-1-1 1 1 1zM-23-4l-1-1 0 1 0 1zM24-4l0-1-1 1 1 1zM-23 0l-1-1 0 1 0 1zM24 0l0-1-1 1 1 1zM-23 4l-1-1 0 1 0 1zM24 4l0-1-1 1 1 1zM-19 12l-1-1-1 1 1 1zM21 12l-1-1-1 1 1 1zM-14 16l-2-2-1 2 1 1zM17 16l-1-2-2 2 2 1zM-11 20l-1-1-1 1 1 1zM13 20l-1-1-1 1 1 1zM-3 24l-1-1-1 1 1 0zM1 24l-1-1-1 1 1 0zM5 24l-1-1-1 1 1 0z"/>
<path stroke="#66cd6d" vector-effect="non-scaling-stroke" d="M-4-32l0 1zM1-32l-1 0-1 0 1 1zM4-32l0 1zM-15-28l-1 0 0 1zM-11-28l-1-1-1 1 1 1zM-7-28l-1-1-1 1 1 2zM6 28l-2-2 2-1 2 1 2-2 2 2 2-2-1-2 1-1 2 1 2-2 2 1 1-1-1-2 2-2-1-2 1-1 2 1 2-2-2-2 2-2-1-2 1-2 2 2 1-2-1-2-2 1-1-1 1-1 2 1 1-2-1-2-2 1-1-1 1-1 2 1 1-2-1-2-2 2-1-2 1-2-2-2 2-2-2-2-2 1-1-1 1-2-2-2 1-2-1-1-2 1-2-2-2 1-1-1 1-2-2-2-2 2-2-2-2 1-2-1 2-2-2-1-2 1 1 2-1 1-1-1 1-2-2-1-2 1 1 2-1 1-1-1 1-2-2-1-2 1 2 2-2 1-2-1-2 2-2-2-2 2 1 2-1 1-2-1-2 2-2-1-1 1 1 2-2 2 1 2-1 1-2-1-2 2 2 2-2 2 1 2-1 2-2-2-1 2 1 2 2-1 1 1-1 1-2-1-1 2 1 2 2-1 1 1-1 1-2-1-1 2 1 2 2-2 1 2-1 2 2 2-2 2 2 2 2-1 1 1-1 2 2 2-1 2 1 1 2-1 2 2 2-1 1 1-1 2 2 2 2-2 2 2 2-1 2 1-2 2 2 1 2-1-1-2 1-1 1 1-1 2 2 1 2-1-1-2 1-1 1 1-1 2 2 1zM9-28l-1-1-1 1 1 2zM13-28l-1-1-1 1 1 1zM16-28l-1 0 1 1zM-19-24l-1-1-1 1 1 1zM-14-24l-2-1-1 1 1 2zM17-24l-1-1-2 1 2 2zM21-24l-1-1-1 1 1 1zM-23-20l-1-1-1 1 1 1zM25-20l-1-1-1 1 1 1zM-18-18l-2 0 2-2 0 2zM18-18l0-2 2 2zM-27-16l-1 0 0 1zM-22-16l-2-1-1 1 1 2zM25-16l-1-1-2 1 2 2zM28-16l-1 0 1 1zM-27-12l-1-1-1 1 1 1zM29-12l-1-1-1 1 1 1zM-26-8l-2-1-1 1 1 1zM29-8l-1-1-2 1 2 1zM-31-4l-1 0zM32-4l-1 0 1 0zM-31 0l-1-1 0 1 0 1zM32 0l0-1-1 1 1 1zM-31 4l-1 0zM32 4l-1 0 1 0zM-26 8l-2-1-1 1 1 1zM29 8l-1-1-2 1 2 1zM-27 12l-1-1-1 1 1 1zM29 12l-1-1-1 1 1 1zM-27 16l-1-1 0 1zM-22 16l-2-2-1 2 1 1zM25 16l-1-2-2 2 2 1zM28 16l0-1-1 1 1 0zM-18 20l-2-2 2 0zM18 20l0-2 2 0zM-23 20l-1-1-1 1 1 1zM25 20l-1-1-1 1 1 1zM-19 24l-1-1-1 1 1 1zM-14 24l-2-2-1 2 1 1zM17 24l-1-2-2 2 2 1zM21 24l-1-1-1 1 1 1zM-15 28l-1-1 0 1zM-11 28l-1-1-1 1 1 1zM-7 28l-1-2-1 2 1 1zM9 28l-1-2-1 2 1 1zM13 28l-1-1-1 1 1 1zM16 28l0-1-1 1 1 0zM-4 32l0-1 0 1zM1 32l-1-1-1 1 1 0zM4 32l0-1 0 1z"/>
<path stroke="#b8c431" vector-effect="non-scaling-stroke" d="M-16-40l0 1zM-11-40l-1-1-1 1 1 1zM-7-40l-1-1-1 1 1 1zM-3-40l-1-1-1 1 1 1zM1-40l-1-1-1 1 1 1zM5-40l-1-1-1 1 1 1zM9-40l-1-1-1 1 1 1zM13-40l-1-1-1 1 1 1zM16-40l0 1zM-19-36l-1-1-1 1 1 1zM-15-36l-1-1-1 1 1 1zM-10-36l-2-1-1 1 1 2zM10 36l-2-2 2-1 2 1 2-2 2 2 2-2-1-2 1-1 2 1 2-2-1-2 1-1 2 1-2 2 2 1 1-1-1-2 2-2 2 1 1-1-1-2-2 2-1-2 1-1 2 1 2-2-1-2 1-1 2 1 2-2-2-2 2-2-1-2 1-2 2 2 1-2-1-2-2 2-1-2 1-1 2 1 1-2-1-2-2 1-1-1 1-1 2 1 2-2-2-2-2 1-1-1 1-1 2 1 1-2-1-2-2 1-1-1 1-2 2 2 1-2-1-2-2 2-1-2 1-2-2-2 2-2-2-2-2 1-1-1 1-2-2-2-2 1-1-1 1-2 2 2 1-2-1-1-2 1-2-2 1-2-1-1-2 1 2 2-2 1-1-1 1-2-2-2-2 1-1-1 1-2-2-2-2 2-2-2-2 1-2-1 2-2-2-1-2 1 2 2-2 1-1-1 1-2-2-1-2 1 1 2-1 1-1-1 1-2-2-2-2 2 1 2-1 1-1-1 1-2-2-1-2 1 1 2-1 1-2-1 2-2-2-1-2 1 2 2-2 1-2-1-2 2-2-2-2 2 1 2-1 1-2-1-2 2 1 2-1 1-2-1 2-2-2-1-1 1 1 2-2 2-2-1-1 1 1 2 2-2 1 2-1 1-2-1-2 2 1 2-1 1-2-1-2 2 2 2-2 2 1 2-1 2-2-2-1 2 1 2 2-2 1 2-1 1-2-1-1 2 1 2 2-1 1 1-1 1-2-1-2 2 2 2 2-1 1 1-1 1-2-1-1 2 1 2 2-1 1 1-1 2-2-2-1 2 1 2 2-2 1 2-1 2 2 2-2 2 2 2 2-1 1 1-1 2 2 2 2-1 1 1-1 2-2-2-1 2 1 1 2-1 2 2-1 2 1 1 2-1-2-2 2-1 1 1-1 2 2 2 2-1 1 1-1 2 2 2 2-2 2 2 2-1 2 1-2 2 2 1 2-1-2-2 2-1 1 1-1 2 2 1 2-1-1-2 1-1 1 1-1 2 2 2 2-2-1-2 1-1 1 1-1 2 2 1 2-1-1-2 1-1 2 1-2 2 2 1zM13-36l-1-1-2 1 2 2zM17-36l-1-1-1 1 1 1zM21-36l-1-1-1 1 1 1zM-27-32l-1 0 0 1zM-23-32l-1-1-1 1 1 1zM-18-32l-2-1-1 1 1 2zM21-32l-1-1-2 1 2 2zM25-32l-1-1-1 1 1 1zM28-32l-1 0 1 1zM-14-30l-1 0 1-1 0 1zM14-30l0-1 1 1zM-31-28l-1 0 0 1zM-27-28l-1-1-1 1 1 1zM29-28l-1-1-1 1 1 1zM32-28l-1 0 1 1zM-31-24l-1-1-1 1 1 1zM33-24l-1-1-1 1 1 1zM-35-20l-1-1-1 1 1 1zM-30-20l-2-1-1 1 1 2zM33-20l-1-1-2 1 2 2zM37-20l-1-1-1 1 1 1zM-39-16l-1 0zM-35-16l-1-1-1 1 1 1zM37-16l-1-1-1 1 1 1zM40-16l-1 0 1 0zM-30-14l-1 0 1-1 0 1zM30-14l0-1 1 1zM-39-12l-1-1-1 1 1 1zM-34-12l-2-1-1 1 1 2zM37-12l-1-1-2 1 2 2zM41-12l-1-1-1 1 1 1zM-39-8l-1-1-1 1 1 1zM41-8l-1-1-1 1 1 1zM-39-4l-1-1-1 1 1 1zM41-4l-1-1-1 1 1 1zM-39 0l-1-1-1 1 1 1zM41 0l-1-1-1 1 1 1zM-39 4l-1-1-1 1 1 1zM41 4l-1-1-1 1 1 1zM-39 8l-1-1-1 1 1 1zM41 8l-1-1-1 1 1 1zM-39 12l-1-1-1 1 1 1zM-34 12l-2-2-1 2 1 1zM37 12l-1-2-2 2 2 1zM41 12l-1-1-1 1 1 1zM-30 15l-1-1 1 0zM30 15l0-1 1 0zM-39 16l-1 0zM-35 16l-1-1-1 1 1 1zM37 16l-1-1-1 1 1 1zM40 16l-1 0 1 0zM-35 20l-1-1-1 1 1 1zM-30 20l-2-2-1 2 1 1zM33 20l-1-2-2 2 2 1zM37 20l-1-1-1 1 1 1zM-31 24l-1-1-1 1 1 1zM33 24l-1-1-1 1 1 1zM-31 28l-1-1 0 1zM-27 28l-1-1-1 1 1 1zM29 28l-1-1-1 1 1 1zM32 28l0-1-1 1 1 0zM-14 31l-1-1 1 0zM14 31l0-1 1 0zM-27 32l-1-1 0 1zM-23 32l-1-1-1 1 1 1zM-18 32l-2-2-1 2 1 1zM21 32l-1-2-2 2 2 1zM25 32l-1-1-1 1 1 1zM28 32l0-1-1 1 1 0zM-19 36l-1-1-1 1 1 1zM-15 36l-1-1-1 1 1 1zM-10 36l-2-2-1 2 1 1zM13 36l-1-2-2 2 2 1zM17 36l-1-1-1 1 1 1zM21 36l-1-1-1 1 1 1zM-16 40l0-1 0 1zM-11 40l-1-1-1 1 1 1zM-7 40l-1-1-1 1 1 1zM-3 40l-1-1-1 1 1 1zM1 40l-1-1-1 1 1 1zM5 40l-1-1-1 1 1 1zM9 40l-1-1-1 1 1 1zM13 40l-1-1-1 1 1 1zM16 40l0-1 0 1z"/>
<path stroke="#f5ba3b" vector-effect="non-scaling-stroke" d="M-4-60l0 1zM0-60l0 1zM4-60l0 1zM-19-56l-1 0 0 1zM-15-56l-1-1-1 1 1 1zM-11-56l-1-1-1 1 1 1zM-7-56l-1-1-1 1 1 1zM-3-56l-1-1-1 1 1 1zM1-56l-1-1-1 1 1 1zM5-56l-1-1-1 1 1 1zM9-56l-1-1-1 1 1 1zM13-56l-1-1-1 1 1 1zM17-56l-1-1-1 1 1 1zM20-56l-1 0 1 1zM-27-52l-1-1-1 1 1 1zM-23-52l-1-1-1 1 1 1zM-19-52l-1-1-1 1 1 1zM-15-52l-1-1-1 1 1 1zM-11-52l-1-1-1 1 1 1zM-7-52l-1-1-1 1 1 1zM-3-52l-1-1-1 1 1 2zM1-52l-1-1-1 1 1 2zM5-52l-1-1-1 1 1 2zM9-52l-1-1-1 1 1 1zM13-52l-1-1-1 1 1 1zM17-52l-1-1-1 1 1 1zM21-52l-1-1-1 1 1 1zM25-52l-1-1-1 1 1 1zM29-52l-1-1-1 1 1 1zM-36-48l0 1zM-31-48l-1-1-1 1 1 1zM-27-48l-1-1-1 1 1 1zM-23-48l-1-1-1 1 1 1zM-19-48l-1-1-1 1 1 2zM-14-48l-2-1-1 1 1 2zM14 48l-2-2 2-2 2 2 2-2 2 2 2-2-2-2 2-1 2 1 2-2-1-2 1-1 2 1-2 2 2 2 2-2-2-2 2-2 2 2 2-2-2-2 2-2 2 2 2-2-2-2 2-2 2 2 2-2-2-2-2 2-1-2 1-1 2 1 2-2-1-2 1-2 2 2 2-2-2-2 2-2-2-2 2-2 2 2 2-2-2-2-2 2-1-2 1-2 2 2 2-2-2-2-2 2-1-2 1-1 2 1 2-2-2-2-2 1-1-1 1-1 2 1 2-2-2-2-2 1-1-1 1-1 2 1 2-2-2-2-2 1-1-1 1-2 2 2 2-2-2-2-2 2-1-2 1-2 2 2 2-2-2-2-2 2-2-2 2-2-2-2 2-2-2-2-2 2-1-2 1-2-2-2-2 1-1-1 1-2 2 2 2-2-2-2-2 2-2-2 2-2-2-2-2 2-2-2 2-2-2-2-2 2-2-2 2-2-2-2-2 2 2 2-2 1-1-1 1-2-2-2-2 1-2-1 2-2-2-2-2 2-2-2-2 2-2-2 2-2-2-2-2 2 2 2-2 1-2-1 2-2-2-2-2 2 2 2-2 1-1-1 1-2-2-2-2 2 1 2-1 1-1-1 1-2-2-2-2 2 1 2-1 1-1-1 1-2-2-2-2 2 1 2-1 1-2-1 2-2-2-2-2 2 2 2-2 1-2-1 2-2-2-2-2 2 2 2-2 2-2-2-2 2-2-2-2 2 2 2-2 1-2-1-2 2 1 2-1 1-2-1 2-2-2-2-2 2 2 2-2 2-2-2-2 2 2 2-2 2-2-2-2 2 2 2-2 2-2-2-2 2 2 2 2-2 1 2-1 1-2-1-2 2 1 2-1 2-2-2-2 2 2 2-2 2 2 2-2 2-2-2-2 2 2 2 2-2 1 2-1 2-2-2-2 2 2 2 2-2 1 2-1 1-2-1-2 2 2 2 2-1 1 1-1 1-2-1-2 2 2 2 2-1 1 1-1 1-2-1-2 2 2 2 2-1 1 1-1 2-2-2-2 2 2 2 2-2 1 2-1 2-2-2-2 2 2 2 2-2 2 2-2 2 2 2-2 2 2 2 2-2 1 2-1 2 2 2 2-1 1 1-1 2-2-2-2 2 2 2 2-2 2 2-2 2 2 2 2-2 2 2-2 2 2 2 2-2 2 2-2 2 2 2 2-2-2-2 2-1 1 1-1 2 2 2 2-1 2 1-2 2 2 2 2-2 2 2 2-2 2 2-2 2 2 2 2-2-2-2 2-1 2 1-2 2 2 2 2-2-2-2 2-1 1 1-1 2 2 2 2-2-1-2 1-1 1 1-1 2 2 2 2-2-1-2 1-1 1 1-1 2 2 2 2-2-1-2 1-1 2 1-2 2 2 2 2-2-2-2 2-1 2 1-2 2 2 2zM17-48l-1-1-2 1 2 2zM21-48l-1-1-1 1 1 2zM25-48l-1-1-1 1 1 1zM29-48l-1-1-1 1 1 1zM33-48l-1-1-1 1 1 1zM36-48l0 1zM-39-44l-1 0 0 1zM-35-44l-1-1-1 1 1 1zM-31-44l-1-1-1 1 1 1zM-27-44l-1-1-1 1 1 2zM-22-44l-2-1-2 1 2 2zM26-44l-2-1-2 1 2 2zM29-44l-1-1-1 1 1 2zM33-44l-1-1-1 1 1 1zM37-44l-1-1-1 1 1 1zM40-44l-1 0 1 1zM-18-41l-1-1 1-2 1 2zM-14-42l-1 0 1-1 0 1zM14-42l0-1 1 1zM18-41l-1-1 1-2 1 2zM-43-40l-1 0 0 1zM-39-40l-1-1-1 1 1 1zM-35-40l-1-1-1 1 1 1zM-30-40l-2-1-1 1 1 2zM33-40l-1-1-2 1 2 2zM37-40l-1-1-1 1 1 1zM41-40l-1-1-1 1 1 1zM44-40l-1 0 1 1zM-22-38l0-1 0 1zM22-38l0-1 0 1zM-47-36l-1 0zM-43-36l-1-1-1 1 1 1zM-39-36l-1-1-1 1 1 1zM-34-36l-2-1-1 1 1 2zM37-36l-1-1-2 1 2 2zM41-36l-1-1-1 1 1 1zM45-36l-1-1-1 1 1 1zM48-36l-1 0 1 0zM-30-33l-1-1 1-2 1 2zM30-33l-1-1 1-2 1 2zM-47-32l-1-1-1 1 1 1zM-43-32l-1-1-1 1 1 1zM-38-32l-2-1-1 1 1 2zM41-32l-1-1-2 1 2 2zM45-32l-1-1-1 1 1 1zM49-32l-1-1-1 1 1 1zM-34-29l-2-1 2-1 1 1zM34-29l-1-1 1-1 2 1zM-51-28l-1-1-1 1 1 1zM-47-28l-1-1-1 1 1 1zM-42-28l-2-1-1 1 1 1zM45-28l-1-1-2 1 2 1zM49-28l-1-1-1 1 1 1zM53-28l-1-1-1 1 1 1zM-51-24l-1-1-1 1 1 1zM-47-24l-1-1-1 1 1 1zM-42-24l-2-2-1 2 1 2zM45-24l-1-2-2 2 2 2zM49-24l-1-1-1 1 1 1zM53-24l-1-1-1 1 1 1zM-38-22l-1 0 1 0zM38-22l1 0zM-55-20l-1 0 0 1zM-51-20l-1-1-1 1 1 1zM-46-20l-2-1-1 1 1 1zM49-20l-1-1-2 1 2 1zM53-20l-1-1-1 1 1 1zM56-20l-1 0 1 1zM-42-17l-2-1 2-1 1 1zM42-17l-1-1 1-1 2 1zM-55-16l-1-1-1 1 1 1zM-51-16l-1-1-1 1 1 1zM-46-16l-2-1-1 1 1 2zM49-16l-1-1-2 1 2 2zM53-16l-1-1-1 1 1 1zM57-16l-1-1-1 1 1 1zM-42-14l-1 0 1-1 0 1zM42-14l0-1 1 1zM-55-12l-1-1-1 1 1 1zM-51-12l-1-1-1 1 1 1zM53-12l-1-1-1 1 1 1zM57-12l-1-1-1 1 1 1zM-55-8l-1-1-1 1 1 1zM-51-8l-1-1-1 1 1 1zM53-8l-1-1-1 1 1 1zM57-8l-1-1-1 1 1 1zM-59-4l-1 0zM-55-4l-1-1-1 1 1 1zM-50-4l-2-1-1 1 1 1zM53-4l-1-1-2 1 2 1zM57-4l-1-1-1 1 1 1zM60-4l-1 0 1 0zM-59 0l-1 0zM-55 0l-1-1-1 1 1 1zM-50 0l-2-1-1 1 1 1zM53 0l-1-1-2 1 2 1zM57 0l-1-1-1 1 1 1zM60 0l-1 0 1 0zM-59 4l-1 0zM-55 4l-1-1-1 1 1 1zM-50 4l-2-1-1 1 1 1zM53 4l-1-1-2 1 2 1zM57 4l-1-1-1 1 1 1zM60 4l-1 0 1 0zM-55 8l-1-1-1 1 1 1zM-51 8l-1-1-1 1 1 1zM53 8l-1-1-1 1 1 1zM57 8l-1-1-1 1 1 1zM-55 12l-1-1-1 1 1 1zM-51 12l-1-1-1 1 1 1zM53 12l-1-1-1 1 1 1zM57 12l-1-1-1 1 1 1zM-42 15l-1-1 1 0zM42 15l0-1 1 0zM-55 16l-1-1-1 1 1 1zM-51 16l-1-1-1 1 1 1zM-46 16l-2-2-1 2 1 1zM49 16l-1-2-2 2 2 1zM53 16l-1-1-1 1 1 1zM57 16l-1-1-1 1 1 1zM-42 19l-2-1 2-1 1 1zM42 19l-1-1 1-1 2 1zM-55 20l-1-1 0 1zM-51 20l-1-1-1 1 1 1zM-46 20l-2-1-1 1 1 1zM49 20l-1-1-2 1 2 1zM53 20l-1-1-1 1 1 1zM56 20l0-1-1 1 1 0zM-38 22l-1 0 1 0zM38 22l1 0zM-51 24l-1-1-1 1 1 1zM-47 24l-1-1-1 1 1 1zM-42 24l-2-2-1 2 1 2zM45 24l-1-2-2 2 2 2zM49 24l-1-1-1 1 1 1zM53 24l-1-1-1 1 1 1zM-51 28l-1-1-1 1 1 1zM-47 28l-1-1-1 1 1 1zM-42 28l-2-1-1 1 1 1zM45 28l-1-1-2 1 2 1zM49 28l-1-1-1 1 1 1zM53 28l-1-1-1 1 1 1zM-34 31l-2-1 2-1 1 1zM34 31l-1-1 1-1 2 1zM-47 32l-1-1-1 1 1 1zM-43 32l-1-1-1 1 1 1zM-38 32l-2-2-1 2 1 1zM41 32l-1-2-2 2 2 1zM45 32l-1-1-1 1 1 1zM49 32l-1-1-1 1 1 1zM-30 36l-1-2 1-1 1 1zM30 36l-1-2 1-1 1 1zM-47 36l-1 0zM-43 36l-1-1-1 1 1 1zM-39 36l-1-1-1 1 1 1zM-34 36l-2-2-1 2 1 1zM37 36l-1-2-2 2 2 1zM41 36l-1-1-1 1 1 1zM45 36l-1-1-1 1 1 1zM48 36l-1 0 1 0zM-22 39l0-1zM22 39l0-1zM-43 40l-1-1 0 1zM-39 40l-1-1-1 1 1 1zM-35 40l-1-1-1 1 1 1zM-30 40l-2-2-1 2 1 1zM33 40l-1-2-2 2 2 1zM37 40l-1-1-1 1 1 1zM41 40l-1-1-1 1 1 1zM44 40l0-1-1 1 1 0zM-18 44l-1-2 1-1 1 1zM-14 43l-1-1 1 0zM14 43l0-1 1 0zM18 44l-1-2 1-1 1 1zM-39 44l-1-1 0 1zM-35 44l-1-1-1 1 1 1zM-31 44l-1-1-1 1 1 1zM-27 44l-1-2-1 2 1 1zM-22 44l-2-2-2 2 2 1zM26 44l-2-2-2 2 2 1zM29 44l-1-2-1 2 1 1zM33 44l-1-1-1 1 1 1zM37 44l-1-1-1 1 1 1zM40 44l0-1-1 1 1 0zM-36 48l0-1 0 1zM-31 48l-1-1-1 1 1 1zM-27 48l-1-1-1 1 1 1zM-23 48l-1-1-1 1 1 1zM-19 48l-1-2-1 2 1 1zM-14 48l-2-2-1 2 1 1zM17 48l-1-2-2 2 2 1zM21 48l-1-2-1 2 1 1zM25 48l-1-1-1 1 1 1zM29 48l-1-1-1 1 1 1zM33 48l-1-1-1 1 1 1zM36 48l0-1 0 1zM-27 52l-1-1-1 1 1 1zM-23 52l-1-1-1 1 1 1zM-19 52l-1-1-1 1 1 1zM-15 52l-1-1-1 1 1 1zM-11 52l-1-1-1 1 1 1zM-7 52l-1-1-1 1 1 1zM-3 52l-1-2-1 2 1 1zM1 52l-1-2-1 2 1 1zM5 52l-1-2-1 2 1 1zM9 52l-1-1-1 1 1 1zM13 52l-1-1-1 1 1 1zM17 52l-1-1-1 1 1 1zM21 52l-1-1-1 1 1 1zM25 52l-1-1-1 1 1 1zM29 52l-1-1-1 1 1 1zM-19 56l-1-1 0 1zM-15 56l-1-1-1 1 1 1zM-11 56l-1-1-1 1 1 1zM-7 56l-1-1-1 1 1 1zM-3 56l-1-1-1 1 1 1zM1 56l-1-1-1 1 1 1zM5 56l-1-1-1 1 1 1zM9 56l-1-1-1 1 1 1zM13 56l-1-1-1 1 1 1zM17 56l-1-1-1 1 1 1zM20 56l0-1-1 1 1 0zM-4 60l0-1 0 1zM0 60l0-1 0 1zM4 60l0-1 0 1z"/>
<path stroke="#f8d92c" vector-effect="non-scaling-stroke" d="M-73-80l1 1 1-1M-69-80l1 1 1-1M-65-80l1 1 1-1M-61-80l1 1 1-1M-57-80l1 1 1-1M-53-80l1 1 1-1M-49-80l1 1 1-1M-45-80l1 1 1-1M-41-80l1 1 1-1M-37-80l1 1 1-1M-33-80l1 1 1-1M-29-80l1 1 1-1M-25-80l1 1 1-1M-21-80l1 1 1-1M-17-80l1 1 1-1M-13-80l1 1 1-1M-9-80l1 1 1-1M-5-80l1 1 1-1M-1-80l1 1 1-1M3-80l1 1 1-1M7-80l1 1 1-1M11-80l1 1 1-1M15-80l1 1 1-1M19-80l1 1 1-1M23-80l1 1 1-1M27-80l1 1 1-1M31-80l1 1 1-1M35-80l1 1 1-1M39-80l1 1 1-1M43-80l1 1 1-1M47-80l1 1 1-1M51-80l1 1 1-1M55-80l1 1 1-1M59-80l1 1 1-1M63-80l1 1 1-1M67-80l1 1 1-1M71-80l1 1 1-1M-75-76l-1-1-1 1 1 1zM-71-76l-1-1-1 1 1 1zM-67-76l-1-1-1 1 1 1zM-63-76l-1-1-1 1 1 1zM-59-76l-1-1-1 1 1 1zM-55-76l-1-1-1 1 1 1zM-51-76l-1-1-1 1 1 1zM-47-76l-1-1-1 1 1 1zM-43-76l-1-1-1 1 1 1zM-39-76l-1-1-1 1 1 1zM-35-76l-1-1-1 1 1 1zM-31-76l-1-1-1 1 1 1zM-27-76l-1-1-1 1 1 1zM-23-76l-1-1-1 1 1 1zM-19-76l-1-1-1 1 1 2zM-14-76l-2-1-1 1 1 2zM-10-76l-2-1-2 1 2 2zM-6-76l-2-1-2 1 2 2zM-2-76l-2-1-2 1 2 2zM2-76l-2-2-2 2 2 2zM6-76l-2-1-2 1 2 2zM10-76l-2-1-2 1 2 2zM14-76l-2-1-2 1 2 2zM17-76l-1-1-2 1 2 2zM21-76l-1-1-1 1 1 2zM25-76l-1-1-1 1 1 1zM29-76l-1-1-1 1 1 1zM33-76l-1-1-1 1 1 1zM37-76l-1-1-1 1 1 1zM41-76l-1-1-1 1 1 1zM45-76l-1-1-1 1 1 1zM49-76l-1-1-1 1 1 1zM53-76l-1-1-1 1 1 1zM57-76l-1-1-1 1 1 1zM61-76l-1-1-1 1 1 1zM65-76l-1-1-1 1 1 1zM69-76l-1-1-1 1 1 1zM73-76l-1-1-1 1 1 1zM77-76l-1-1-1 1 1 1zM-80-71l1-1-1-1M-75-72l-1-1-1 1 1 1zM-71-72l-1-1-1 1 1 1zM-67-72l-1-1-1 1 1 1zM-63-72l-1-1-1 1 1 1zM-59-72l-1-1-1 1 1 1zM-55-72l-1-1-1 1 1 1zM-51-72l-1-1-1 1 1 1zM-47-72l-1-1-1 1 1 1zM-43-72l-1-1-1 1 1 1zM-39-72l-1-1-1 1 1 1zM-35-72l-1-1-1 1 1 1zM-31-72l-1-1-1 1 1 2zM-26-72l-2-1-1 1 1 2zM-22-72l-2-2-2 2 2 2zM-18-72l-2-2-2 2 2 2zM-14-72l-2-2-2 2 2 2zM-10-72l-2-2-2 2 2 2zM-6-72l-2-2-2 2 2 2zM-2-72l-2-2-2 2 2 2zM2-72l-2-2-2 2 2 2zM6-72l-2-2-2 2 2 2zM10-72l-2-2-2 2 2 2zM14-72l-2-2-2 2 2 2zM18-72l-2-2-2 2 2 2zM22-72l-2-2-2 2 2 2zM26-72l-2-2-2 2 2 2zM29-72l-1-1-2 1 2 2zM33-72l-1-1-1 1 1 2zM37-72l-1-1-1 1 1 1zM41-72l-1-1-1 1 1 1zM45-72l-1-1-1 1 1 1zM49-72l-1-1-1 1 1 1zM53-72l-1-1-1 1 1 1zM57-72l-1-1-1 1 1 1zM61-72l-1-1-1 1 1 1zM65-72l-1-1-1 1 1 1zM69-72l-1-1-1 1 1 1zM73-72l-1-1-1 1 1 1zM77-72l-1-1-1 1 1 1zM80-73l-1 1 1 1M-80-67l1-1-1-1M-75-68l-1-1-1 1 1 1zM-71-68l-1-1-1 1 1 1zM-67-68l-1-1-1 1 1 1zM-63-68l-1-1-1 1 1 1zM-59-68l-1-1-1 1 1 1zM-55-68l-1-1-1 1 1 1zM-51-68l-1-1-1 1 1 1zM-47-68l-1-1-1 1 1 1zM-43-68l-1-1-1 1 1 1zM-39-68l-1-1-1 1 1 1zM-34-68l-2-1-1 1 1 2zM-30-68l-2-2-2 2 2 2zM-26-68l-2-2-2 2 2 2zM-22-68l-2-2-2 2 2 2zM22 68l-2-2 2-2 2 2 2-2 2 2 2-2-2-2 2-2 2 2 2-2 2 2 2-2-2-2 2-2 2 2 2-2-2-2 2-2 2 2 2-2-1-2 1-1 2 1-2 2 2 2 2-2-2-2 2-2 2 2 2-2-2-2-2 2-1-2 1-1 2 1 2-2-2-2 2-2 2 2 2-2-2-2 2-2 2 2 2-2-2-2 2-2-2-2 2-2 2 2 2-2-2-2 2-2-2-2 2-2 2 2 2-2-2-2-2 2-2-2 2-2 2 2 2-2-2-2-2 2-1-2 1-2 2 2 2-2-2-2 2-2-2-2 2-2-2-2 2-2-2-2 2-2-2-2 2-2-2-2 2-2-2-2-2 2-1-2 1-2 2 2 2-2-2-2-2 2-2-2 2-2 2 2 2-2-2-2-2 2-2-2 2-2-2-2 2-2-2-2-2 2-2-2 2-2-2-2 2-2-2-2-2 2-2-2 2-2-2-2-2 2-2-2 2-2-2-2-2 1-1-1 1-2 2 2 2-2-2-2-2 2-2-2 2-2-2-2-2 2 2 2-2 1-1-1 1-2-2-2-2 2-2-2 2-2-2-2-2 2-2-2 2-2-2-2-2 2-2-2-2 2-2-2 2-2-2-2-2 2-2-2-2 2-2-2 2-2-2-2-2 2 2 2-2 2-2-2 2-2-2-2-2 2 2 2-2 1-2-1 2-2-2-2-2 2-2-2-2 2-2-2-2 2-2-2-2 2-2-2-2 2-2-2-2 2-2-2-2 2 2 2-2 1-2-1 2-2-2-2-2 2 2 2-2 2-2-2 2-2-2-2-2 2 2 2-2 2-2-2-2 2-2-2-2 2 2 2-2 2-2-2-2 2-2-2-2 2 2 2-2 2-2-2-2 2 2 2-2 2-2-2-2 2 1 2-1 1-2-1 2-2-2-2-2 2 2 2-2 2-2-2-2 2 2 2 2-2 1 2-1 1-2-1-2 2 2 2-2 2-2-2-2 2 2 2-2 2-2-2-2 2 2 2-2 2 2 2-2 2-2-2-2 2 2 2-2 2 2 2-2 2-2-2-2 2 2 2 2-2 2 2-2 2-2-2-2 2 2 2 2-2 1 2-1 2-2-2-2 2 2 2-2 2 2 2-2 2 2 2-2 2 2 2-2 2 2 2-2 2 2 2-2 2 2 2 2-2 1 2-1 2-2-2-2 2 2 2 2-2 2 2-2 2-2-2-2 2 2 2 2-2 2 2-2 2 2 2-2 2 2 2 2-2 2 2-2 2 2 2-2 2 2 2 2-2 2 2-2 2 2 2 2-2 2 2-2 2 2 2 2-1 1 1-1 2-2-2-2 2 2 2 2-2 2 2-2 2 2 2 2-2-2-2 2-1 1 1-1 2 2 2 2-2 2 2-2 2 2 2 2-2 2 2-2 2 2 2 2-2 2 2 2-2 2 2-2 2 2 2 2-2 2 2 2-2 2 2-2 2 2 2 2-2-2-2 2-2 2 2-2 2 2 2 2-2-2-2 2-1 2 1-2 2 2 2 2-2 2 2 2-2 2 2 2-2 2 2 2-2 2 2 2-2 2 2 2-2 2 2 2-2-2-2 2-1 2 1-2 2 2 2 2-2-2-2 2-2 2 2-2 2 2 2zM26-68l-2-2-2 2 2 2zM30-68l-2-2-2 2 2 2zM34-68l-2-2-2 2 2 2zM37-68l-1-1-2 1 2 2zM41-68l-1-1-1 1 1 1zM45-68l-1-1-1 1 1 1zM49-68l-1-1-1 1 1 1zM53-68l-1-1-1 1 1 1zM57-68l-1-1-1 1 1 1zM61-68l-1-1-1 1 1 1zM65-68l-1-1-1 1 1 1zM69-68l-1-1-1 1 1 1zM73-68l-1-1-1 1 1 1zM77-68l-1-1-1 1 1 1zM80-69l-1 1 1 1M-10-65l-2-1 2-2 1 2zM-6-65l-1-1 1-2 1 2zM-2-65l-1-1 1-2 1 2zM2-65l-1-1 1-2 1 2zM6-65l-1-1 1-2 1 2zM10-65l-1-1 1-2 2 2zM-80-63l1-1-1-1M-75-64l-1-1-1 1 1 1zM-71-64l-1-1-1 1 1 1zM-67-64l-1-1-1 1 1 1zM-63-64l-1-1-1 1 1 1zM-59-64l-1-1-1 1 1 1zM-55-64l-1-1-1 1 1 1zM-51-64l-1-1-1 1 1 1zM-47-64l-1-1-1 1 1 1zM-42-64l-2-1-1 1 1 2zM-38-64l-2-2-2 2 2 2zM-34-64l-2-2-2 2 2 2zM-30-64l-2-2-2 2 2 2zM34-64l-2-2-2 2 2 2zM38-64l-2-2-2 2 2 2zM42-64l-2-2-2 2 2 2zM45-64l-1-1-2 1 2 2zM49-64l-1-1-1 1 1 1zM53-64l-1-1-1 1 1 1zM57-64l-1-1-1 1 1 1zM61-64l-1-1-1 1 1 1zM65-64l-1-1-1 1 1 1zM69-64l-1-1-1 1 1 1zM73-64l-1-1-1 1 1 1zM77-64l-1-1-1 1 1 1zM80-65l-1 1 1 1M-26-61l-2-1 2-2 1 2zM-22-61l-1-1 1-2 1 2zM-18-61l-1-1 1-1 1 1zM-14-61l-1-1 1-1 1 1zM-10-62l-1 0 1-1 1 1zM-6-62l0-1 0 1zM6-62l0-1 0 1zM10-62l-1 0 1-1 1 1zM14-61l-1-1 1-1 1 1zM18-61l-1-1 1-1 1 1zM22-61l-1-1 1-2 1 2zM26-61l-1-1 1-2 2 2zM-80-59l1-1-1-1M-75-60l-1-1-1 1 1 1zM-71-60l-1-1-1 1 1 1zM-67-60l-1-1-1 1 1 1zM-63-60l-1-1-1 1 1 1zM-59-60l-1-1-1 1 1 1zM-55-60l-1-1-1 1 1 1zM-51-60l-1-1-1 1 1 1zM-46-60l-2-1-1 1 1 2zM-42-60l-2-2-2 2 2 2zM-38-60l-2-2-2 2 2 2zM42-60l-2-2-2 2 2 2zM46-60l-2-2-2 2 2 2zM49-60l-1-1-2 1 2 2zM53-60l-1-1-1 1 1 1zM57-60l-1-1-1 1 1 1zM61-60l-1-1-1 1 1 1zM65-60l-1-1-1 1 1 1zM69-60l-1-1-1 1 1 1zM73-60l-1-1-1 1 1 1zM77-60l-1-1-1 1 1 1zM80-61l-1 1 1 1M-34-57l-2-1 2-2 1 2zM-30-57l-1-1 1-1 1 1zM-26-57l-1-1 1-1 1 1zM26-57l-1-1 1-1 1 1zM30-57l-1-1 1-1 1 1zM34-57l-1-1 1-2 2 2zM-80-55l1-1-1-1M-75-56l-1-1-1 1 1 1zM-71-56l-1-1-1 1 1 1zM-67-56l-1-1-1 1 1 1zM-63-56l-1-1-1 1 1 1zM-59-56l-1-1-1 1 1 1zM-55-56l-1-1-1 1 1 1zM-50-56l-2-2-2 2 2 2zM-46-56l-2-2-2 2 2 2zM-42-56l-2-2-2 2 2 2zM46-56l-2-2-2 2 2 2zM50-56l-2-2-2 2 2 2zM54-56l-2-2-2 2 2 2zM57-56l-1-1-1 1 1 1zM61-56l-1-1-1 1 1 1zM65-56l-1-1-1 1 1 1zM69-56l-1-1-1 1 1 1zM73-56l-1-1-1 1 1 1zM77-56l-1-1-1 1 1 1zM80-57l-1 1 1 1M-38-53l-1-1 1-2 1 2zM-34-53l-1-1 1-1 1 1zM34-53l-1-1 1-1 1 1zM38-53l-1-1 1-2 1 2zM-80-51l1-1-1-1M-75-52l-1-1-1 1 1 1zM-71-52l-1-1-1 1 1 1zM-67-52l-1-1-1 1 1 1zM-63-52l-1-1-1 1 1 1zM-59-52l-1-1-1 1 1 1zM-54-52l-2-2-2 2 2 2zM-50-52l-2-2-2 2 2 2zM54-52l-2-2-2 2 2 2zM58-52l-2-2-2 2 2 2zM61-52l-1-1-1 1 1 1zM65-52l-1-1-1 1 1 1zM69-52l-1-1-1 1 1 1zM73-52l-1-1-1 1 1 1zM77-52l-1-1-1 1 1 1zM80-53l-1 1 1 1M-42-49l-1-1 1-1 1 1zM-38-50l-1 0 1-1 0 1zM38-50l0-1 1 1zM42-49l-1-1 1-1 1 1zM-80-47l1-1-1-1M-75-48l-1-1-1 1 1 1zM-71-48l-1-1-1 1 1 1zM-67-48l-1-1-1 1 1 1zM-63-48l-1-1-1 1 1 1zM-58-48l-2-1-1 1 1 2zM-54-48l-2-2-2 2 2 2zM58-48l-2-2-2 2 2 2zM61-48l-1-1-2 1 2 2zM65-48l-1-1-1 1 1 1zM69-48l-1-1-1 1 1 1zM73-48l-1-1-1 1 1 1zM77-48l-1-1-1 1 1 1zM80-49l-1 1 1 1M-46-45l-1-1 1-1 1 1zM-42-46l-1 0 1-1 0 1zM42-46l0-1 1 1zM46-45l-1-1 1-1 1 1zM-80-43l1-1-1-1M-75-44l-1-1-1 1 1 1zM-71-44l-1-1-1 1 1 1zM-67-44l-1-1-1 1 1 1zM-62-44l-2-1-1 1 1 2zM-58-44l-2-2-2 2 2 2zM-54-44l-2-2-2 2 2 2zM58-44l-2-2-2 2 2 2zM62-44l-2-2-2 2 2 2zM65-44l-1-1-2 1 2 2zM69-44l-1-1-1 1 1 1zM73-44l-1-1-1 1 1 1zM77-44l-1-1-1 1 1 1zM80-45l-1 1 1 1M-50-41l-1-1 1-1 1 1zM-46-42l-1 0 1-1 0 1zM46-42l0-1 1 1zM50-41l-1-1 1-1 1 1zM-80-39l1-1-1-1M-75-40l-1-1-1 1 1 1zM-71-40l-1-1-1 1 1 1zM-67-40l-1-1-1 1 1 1zM-62-40l-2-2-2 2 2 2zM-58-40l-2-2-2 2 2 2zM62-40l-2-2-2 2 2 2zM66-40l-2-2-2 2 2 2zM69-40l-1-1-1 1 1 1zM73-40l-1-1-1 1 1 1zM77-40l-1-1-1 1 1 1zM80-41l-1 1 1 1M-54-37l-2-1 2-1 1 1zM-50-38l-1 0 1-1 0 1zM50-38l0-1 1 1zM54-37l-1-1 1-1 2 1zM-80-35l1-1-1-1M-75-36l-1-1-1 1 1 1zM-71-36l-1-1-1 1 1 1zM-66-36l-2-1-1 1 1 2zM-62-36l-2-2-2 2 2 2zM66-36l-2-2-2 2 2 2zM69-36l-1-1-2 1 2 2zM73-36l-1-1-1 1 1 1zM77-36l-1-1-1 1 1 1zM80-37l-1 1 1 1M-58-33l-2-1 2-2 1 2zM-54-33l-1-1 1-1 1 1zM54-33l-1-1 1-1 1 1zM58-33l-1-1 1-2 2 2zM-80-31l1-1-1-1M-75-32l-1-1-1 1 1 1zM-70-32l-2-1-1 1 1 1zM-66-32l-2-2-2 2 2 2zM-62-32l-2-2-2 2 2 2zM66-32l-2-2-2 2 2 2zM70-32l-2-2-2 2 2 2zM73-32l-1-1-2 1 2 1zM77-32l-1-1-1 1 1 1zM80-33l-1 1 1 1M-58-29l-1-1 1-1 1 1zM58-29l-1-1 1-1 1 1zM-80-27l1-1-1-1M-75-28l-1-1-1 1 1 1zM-70-28l-2-1-1 1 1 2zM-66-28l-2-2-2 2 2 2zM70-28l-2-2-2 2 2 2zM73-28l-1-1-2 1 2 2zM77-28l-1-1-1 1 1 1zM80-29l-1 1 1 1M-62-25l-2-1 2-2 1 2zM-58-25l-1-1 1-1 1 1zM58-25l-1-1 1-1 1 1zM62-25l-1-1 1-2 2 2zM-80-23l1-1-1-1M-75-24l-1-1-1 1 1 1zM-70-24l-2-2-2 2 2 2zM-66-24l-2-2-2 2 2 2zM70-24l-2-2-2 2 2 2zM74-24l-2-2-2 2 2 2zM77-24l-1-1-1 1 1 1zM80-25l-1 1 1 1M-62-21l-2-1 2-1 1 1zM62-21l-1-1 1-1 2 1zM-80-19l1-1-1-1M-74-20l-2-1-1 1 1 1zM-70-20l-2-2-2 2 2 2zM74-20l-2-2-2 2 2 2zM77-20l-1-1-2 1 2 1zM80-21l-1 1 1 1M-62-17l-1-1 1-1 1 1zM62-17l-1-1 1-1 1 1zM-80-15l1-1-1-1M-74-16l-2-1-1 1 1 2zM-70-16l-2-2-2 2 2 2zM74-16l-2-2-2 2 2 2zM77-16l-1-1-2 1 2 2zM80-17l-1 1 1 1M-62-13l-1-1 1-1 1 1zM62-13l-1-1 1-1 1 1zM-80-11l1-1-1-1M-74-12l-2-2-1 2 1 2zM-70-12l-2-2-2 2 2 2zM74-12l-2-2-2 2 2 2zM77-12l-1-2-2 2 2 2zM80-13l-1 1 1 1M-66-9l-2-1 2-2 1 2zM-62-9l-1-1 1-1 0 1zM62-9l0-1 0-1 1 1zM66-9l-1-1 1-2 2 2zM-80-7l1-1-1-1M-74-8l-2-2-1 2 1 2zM-70-8l-2-2-2 2 2 2zM74-8l-2-2-2 2 2 2zM77-8l-1-2-2 2 2 2zM80-9l-1 1 1 1M-66-5l-2-1 2-1 1 1zM-62-6l-1 0 1 0zM62-6l1 0zM66-5l-1-1 1-1 2 1zM-80-3l1-1-1-1M-74-4l-2-2-1 2 1 2zM-70-4l-2-2-2 2 2 2zM74-4l-2-2-2 2 2 2zM77-4l-1-2-2 2 2 2zM80-5l-1 1 1 1M-66-1l-2-1 2-1 1 1zM66-1l-1-1 1-1 2 1zM-80 1l1-1-1-1M-74 0l-2-2-2 2 2 2zM-70 0l-2-2-2 2 2 2zM74 0l-2-2-2 2 2 2zM78 0l-2-2-2 2 2 2zM80-1l-1 1 1 1M-66 3l-2-1 2-1 1 1zM66 3l-1-1 1-1 2 1zM-80 5l1-1-1-1M-74 4l-2-2-1 2 1 2zM-70 4l-2-2-2 2 2 2zM74 4l-2-2-2 2 2 2zM77 4l-1-2-2 2 2 2zM80 3l-1 1 1 1M-66 7l-2-1 2-1 1 1zM-62 6l-1 0 1 0zM62 6l1 0zM66 7l-1-1 1-1 2 1zM-80 9l1-1-1-1M-74 8l-2-2-1 2 1 2zM-70 8l-2-2-2 2 2 2zM74 8l-2-2-2 2 2 2zM77 8l-1-2-2 2 2 2zM80 7l-1 1 1 1M-66 12l-2-2 2-1 1 1zM-62 11l-1-1 1-1 0 1zM62 11l0-1 0-1 1 1zM66 12l-1-2 1-1 2 1zM-80 13l1-1-1-1M-74 12l-2-2-1 2 1 2zM-70 12l-2-2-2 2 2 2zM74 12l-2-2-2 2 2 2zM77 12l-1-2-2 2 2 2zM80 11l-1 1 1 1M-62 15l-1-1 1-1 1 1zM62 15l-1-1 1-1 1 1zM-80 17l1-1-1-1M-74 16l-2-2-1 2 1 1zM-70 16l-2-2-2 2 2 2zM74 16l-2-2-2 2 2 2zM77 16l-1-2-2 2 2 1zM80 15l-1 1 1 1M-62 19l-1-1 1-1 1 1zM62 19l-1-1 1-1 1 1zM-80 21l1-1-1-1M-74 20l-2-1-1 1 1 1zM-70 20l-2-2-2 2 2 2zM74 20l-2-2-2 2 2 2zM77 20l-1-1-2 1 2 1zM80 19l-1 1 1 1M-62 23l-2-1 2-1 1 1zM62 23l-1-1 1-1 2 1zM-80 25l1-1-1-1M-75 24l-1-1-1 1 1 1zM-70 24l-2-2-2 2 2 2zM-66 24l-2-2-2 2 2 2zM70 24l-2-2-2 2 2 2zM74 24l-2-2-2 2 2 2zM77 24l-1-1-1 1 1 1zM80 23l-1 1 1 1M-62 28l-2-2 2-1 1 1zM-58 27l-1-1 1-1 1 1zM58 27l-1-1 1-1 1 1zM62 28l-1-2 1-1 2 1zM-80 29l1-1-1-1M-75 28l-1-1-1 1 1 1zM-70 28l-2-2-1 2 1 1zM-66 28l-2-2-2 2 2 2zM70 28l-2-2-2 2 2 2zM73 28l-1-2-2 2 2 1zM77 28l-1-1-1 1 1 1zM80 27l-1 1 1 1M-58 31l-1-1 1-1 1 1zM58 31l-1-1 1-1 1 1zM-80 33l1-1-1-1M-75 32l-1-1-1 1 1 1zM-70 32l-2-1-1 1 1 1zM-66 32l-2-2-2 2 2 2zM-62 32l-2-2-2 2 2 2zM66 32l-2-2-2 2 2 2zM70 32l-2-2-2 2 2 2zM73 32l-1-1-2 1 2 1zM77 32l-1-1-1 1 1 1zM80 31l-1 1 1 1M-58 36l-2-2 2-1 1 1zM-54 35l-1-1 1-1 1 1zM54 35l-1-1 1-1 1 1zM58 36l-1-2 1-1 2 1zM-80 37l1-1-1-1M-75 36l-1-1-1 1 1 1zM-71 36l-1-1-1 1 1 1zM-66 36l-2-2-1 2 1 1zM-62 36l-2-2-2 2 2 2zM66 36l-2-2-2 2 2 2zM69 36l-1-2-2 2 2 1zM73 36l-1-1-1 1 1 1zM77 36l-1-1-1 1 1 1zM80 35l-1 1 1 1M-54 39l-2-1 2-1 1 1zM-50 39l-1-1 1 0zM50 39l0-1 1 0zM54 39l-1-1 1-1 2 1zM-80 41l1-1-1-1M-75 40l-1-1-1 1 1 1zM-71 40l-1-1-1 1 1 1zM-67 40l-1-1-1 1 1 1zM-62 40l-2-2-2 2 2 2zM-58 40l-2-2-2 2 2 2zM62 40l-2-2-2 2 2 2zM66 40l-2-2-2 2 2 2zM69 40l-1-1-1 1 1 1zM73 40l-1-1-1 1 1 1zM77 40l-1-1-1 1 1 1zM80 39l-1 1 1 1M-50 43l-1-1 1-1 1 1zM-46 43l-1-1 1 0zM46 43l0-1 1 0zM50 43l-1-1 1-1 1 1zM-80 45l1-1-1-1M-75 44l-1-1-1 1 1 1zM-71 44l-1-1-1 1 1 1zM-67 44l-1-1-1 1 1 1zM-62 44l-2-2-1 2 1 1zM-58 44l-2-2-2 2 2 2zM-54 44l-2-2-2 2 2 2zM58 44l-2-2-2 2 2 2zM62 44l-2-2-2 2 2 2zM65 44l-1-2-2 2 2 1zM69 44l-1-1-1 1 1 1zM73 44l-1-1-1 1 1 1zM77 44l-1-1-1 1 1 1zM80 43l-1 1 1 1M-46 47l-1-1 1-1 1 1zM-42 47l-1-1 1 0zM42 47l0-1 1 0zM46 47l-1-1 1-1 1 1zM-80 49l1-1-1-1M-75 48l-1-1-1 1 1 1zM-71 48l-1-1-1 1 1 1zM-67 48l-1-1-1 1 1 1zM-63 48l-1-1-1 1 1 1zM-58 48l-2-2-1 2 1 1zM-54 48l-2-2-2 2 2 2zM58 48l-2-2-2 2 2 2zM61 48l-1-2-2 2 2 1zM65 48l-1-1-1 1 1 1zM69 48l-1-1-1 1 1 1zM73 48l-1-1-1 1 1 1zM77 48l-1-1-1 1 1 1zM80 47l-1 1 1 1M-42 51l-1-1 1-1 1 1zM-38 51l-1-1 1 0zM38 51l0-1 1 0zM42 51l-1-1 1-1 1 1zM-80 53l1-1-1-1M-75 52l-1-1-1 1 1 1zM-71 52l-1-1-1 1 1 1zM-67 52l-1-1-1 1 1 1zM-63 52l-1-1-1 1 1 1zM-59 52l-1-1-1 1 1 1zM-54 52l-2-2-2 2 2 2zM-50 52l-2-2-2 2 2 2zM54 52l-2-2-2 2 2 2zM58 52l-2-2-2 2 2 2zM61 52l-1-1-1 1 1 1zM65 52l-1-1-1 1 1 1zM69 52l-1-1-1 1 1 1zM73 52l-1-1-1 1 1 1zM77 52l-1-1-1 1 1 1zM80 51l-1 1 1 1M-38 56l-1-2 1-1 1 1zM-34 55l-1-1 1-1 1 1zM34 55l-1-1 1-1 1 1zM38 56l-1-2 1-1 1 1zM-80 57l1-1-1-1M-75 56l-1-1-1 1 1 1zM-71 56l-1-1-1 1 1 1zM-67 56l-1-1-1 1 1 1zM-63 56l-1-1-1 1 1 1zM-59 56l-1-1-1 1 1 1zM-55 56l-1-1-1 1 1 1zM-50 56l-2-2-2 2 2 2zM-46 56l-2-2-2 2 2 2zM-42 56l-2-2-2 2 2 2zM46 56l-2-2-2 2 2 2zM50 56l-2-2-2 2 2 2zM54 56l-2-2-2 2 2 2zM57 56l-1-1-1 1 1 1zM61 56l-1-1-1 1 1 1zM65 56l-1-1-1 1 1 1zM69 56l-1-1-1 1 1 1zM73 56l-1-1-1 1 1 1zM77 56l-1-1-1 1 1 1zM80 55l-1 1 1 1M-34 60l-2-2 2-1 1 1zM-30 59l-1-1 1-1 1 1zM-26 59l-1-1 1-1 1 1zM26 59l-1-1 1-1 1 1zM30 59l-1-1 1-1 1 1zM34 60l-1-2 1-1 2 1zM-80 61l1-1-1-1M-75 60l-1-1-1 1 1 1zM-71 60l-1-1-1 1 1 1zM-67 60l-1-1-1 1 1 1zM-63 60l-1-1-1 1 1 1zM-59 60l-1-1-1 1 1 1zM-55 60l-1-1-1 1 1 1zM-51 60l-1-1-1 1 1 1zM-46 60l-2-2-1 2 1 1zM-42 60l-2-2-2 2 2 2zM-38 60l-2-2-2 2 2 2zM42 60l-2-2-2 2 2 2zM46 60l-2-2-2 2 2 2zM49 60l-1-2-2 2 2 1zM53 60l-1-1-1 1 1 1zM57 60l-1-1-1 1 1 1zM61 60l-1-1-1 1 1 1zM65 60l-1-1-1 1 1 1zM69 60l-1-1-1 1 1 1zM73 60l-1-1-1 1 1 1zM77 60l-1-1-1 1 1 1zM80 59l-1 1 1 1M-26 64l-2-2 2-1 1 1zM-22 64l-1-2 1-1 1 1zM-18 63l-1-1 1-1 1 1zM-14 63l-1-1 1-1 1 1zM-10 63l-1-1 1 0 1 0zM-6 63l0-1zM6 63l0-1zM10 63l-1-1 1 0 1 0zM14 63l-1-1 1-1 1 1zM18 63l-1-1 1-1 1 1zM22 64l-1-2 1-1 1 1zM26 64l-1-2 1-1 2 1zM-80 65l1-1-1-1M-75 64l-1-1-1 1 1 1zM-71 64l-1-1-1 1 1 1zM-67 64l-1-1-1 1 1 1zM-63 64l-1-1-1 1 1 1zM-59 64l-1-1-1 1 1 1zM-55 64l-1-1-1 1 1 1zM-51 64l-1-1-1 1 1 1zM-47 64l-1-1-1 1 1 1zM-42 64l-2-2-1 2 1 1zM-38 64l-2-2-2 2 2 2zM-34 64l-2-2-2 2 2 2zM-30 64l-2-2-2 2 2 2zM34 64l-2-2-2 2 2 2zM38 64l-2-2-2 2 2 2zM42 64l-2-2-2 2 2 2zM45 64l-1-2-2 2 2 1zM49 64l-1-1-1 1 1 1zM53 64l-1-1-1 1 1 1zM57 64l-1-1-1 1 1 1zM61 64l-1-1-1 1 1 1zM65 64l-1-1-1 1 1 1zM69 64l-1-1-1 1 1 1zM73 64l-1-1-1 1 1 1zM77 64l-1-1-1 1 1 1zM80 63l-1 1 1 1M-10 68l-2-2 2-1 1 1zM-6 68l-1-2 1-1 1 1zM-2 68l-1-2 1-1 1 1zM2 68l-1-2 1-1 1 1zM6 68l-1-2 1-1 1 1zM10 68l-1-2 1-1 2 1zM-80 69l1-1-1-1M-75 68l-1-1-1 1 1 1zM-71 68l-1-1-1 1 1 1zM-67 68l-1-1-1 1 1 1zM-63 68l-1-1-1 1 1 1zM-59 68l-1-1-1 1 1 1zM-55 68l-1-1-1 1 1 1zM-51 68l-1-1-1 1 1 1zM-47 68l-1-1-1 1 1 1zM-43 68l-1-1-1 1 1 1zM-39 68l-1-1-1 1 1 1zM-34 68l-2-2-1 2 1 1zM-30 68l-2-2-2 2 2 2zM-26 68l-2-2-2 2 2 2zM-22 68l-2-2-2 2 2 2zM26 68l-2-2-2 2 2 2zM30 68l-2-2-2 2 2 2zM34 68l-2-2-2 2 2 2zM37 68l-1-2-2 2 2 1zM41 68l-1-1-1 1 1 1zM45 68l-1-1-1 1 1 1zM49 68l-1-1-1 1 1 1zM53 68l-1-1-1 1 1 1zM57 68l-1-1-1 1 1 1zM61 68l-1-1-1 1 1 1zM65 68l-1-1-1 1 1 1zM69 68l-1-1-1 1 1 1zM73 68l-1-1-1 1 1 1zM77 68l-1-1-1 1 1 1zM80 67l-1 1 1 1M-80 73l1-1-1-1M-75 72l-1-1-1 1 1 1zM-71 72l-1-1-1 1 1 1zM-67 72l-1-1-1 1 1 1zM-63 72l-1-1-1 1 1 1zM-59 72l-1-1-1 1 1 1zM-55 72l-1-1-1 1 1 1zM-51 72l-1-1-1 1 1 1zM-47 72l-1-1-1 1 1 1zM-43 72l-1-1-1 1 1 1zM-39 72l-1-1-1 1 1 1zM-35 72l-1-1-1 1 1 1zM-31 72l-1-2-1 2 1 1zM-26 72l-2-2-1 2 1 1zM-22 72l-2-2-2 2 2 2zM-18 72l-2-2-2 2 2 2zM-14 72l-2-2-2 2 2 2zM-10 72l-2-2-2 2 2 2zM-6 72l-2-2-2 2 2 2zM-2 72l-2-2-2 2 2 2zM2 72l-2-2-2 2 2 2zM6 72l-2-2-2 2 2 2zM10 72l-2-2-2 2 2 2zM14 72l-2-2-2 2 2 2zM18 72l-2-2-2 2 2 2zM22 72l-2-2-2 2 2 2zM26 72l-2-2-2 2 2 2zM29 72l-1-2-2 2 2 1zM33 72l-1-2-1 2 1 1zM37 72l-1-1-1 1 1 1zM41 72l-1-1-1 1 1 1zM45 72l-1-1-1 1 1 1zM49 72l-1-1-1 1 1 1zM53 72l-1-1-1 1 1 1zM57 72l-1-1-1 1 1 1zM61 72l-1-1-1 1 1 1zM65 72l-1-1-1 1 1 1zM69 72l-1-1-1 1 1 1zM73 72l-1-1-1 1 1 1zM77 72l-1-1-1 1 1 1zM80 71l-1 1 1 1M-75 76l-1-1-1 1 1 1zM-71 76l-1-1-1 1 1 1zM-67 76l-1-1-1 1 1 1zM-63 76l-1-1-1 1 1 1zM-59 76l-1-1-1 1 1 1zM-55 76l-1-1-1 1 1 1zM-51 76l-1-1-1 1 1 1zM-47 76l-1-1-1 1 1 1zM-43 76l-1-1-1 1 1 1zM-39 76l-1-1-1 1 1 1zM-35 76l-1-1-1 1 1 1zM-31 76l-1-1-1 1 1 1zM-27 76l-1-1-1 1 1 1zM-23 76l-1-1-1 1 1 1zM-19 76l-1-2-1 2 1 1zM-14 76l-2-2-1 2 1 1zM-10 76l-2-2-2 2 2 1zM-6 76l-2-2-2 2 2 1zM-2 76l-2-2-2 2 2 1zM2 76l-2-2-2 2 2 2zM6 76l-2-2-2 2 2 1zM10 76l-2-2-2 2 2 1zM14 76l-2-2-2 2 2 1zM17 76l-1-2-2 2 2 1zM21 76l-1-2-1 2 1 1zM25 76l-1-1-1 1 1 1zM29 76l-1-1-1 1 1 1zM33 76l-1-1-1 1 1 1zM37 76l-1-1-1 1 1 1zM41 76l-1-1-1 1 1 1zM45 76l-1-1-1 1 1 1zM49 76l-1-1-1 1 1 1zM53 76l-1-1-1 1 1 1zM57 76l-1-1-1 1 1 1zM61 76l-1-1-1 1 1 1zM65 76l-1-1-1 1 1 1zM69 76l-1-1-1 1 1 1zM73 76l-1-1-1 1 1 1zM77 76l-1-1-1 1 1 1zM-71 80l-1-1-1 1M-67 80l-1-1-1 1M-63 80l-1-1-1 1M-59 80l-1-1-1 1M-55 80l-1-1-1 1M-51 80l-1-1-1 1M-47 80l-1-1-1 1M-43 80l-1-1-1 1M-39 80l-1-1-1 1M-35 80l-1-1-1 1M-31 80l-1-1-1 1M-27 80l-1-1-1 1M-23 80l-1-1-1 1M-19 80l-1-1-1 1M-15 80l-1-1-1 1M-11 80l-1-1-1 1M-7 80l-1-1-1 1M-3 80l-1-1-1 1M1 80l-1-1-1 1M5 80l-1-1-1 1M9 80l-1-1-1 1M13 80l-1-1-1 1M17 80l-1-1-1 1M21 80l-1-1-1 1M25 80l-1-1-1 1M29 80l-1-1-1 1M33 80l-1-1-1 1M37 80l-1-1-1 1M41 80l-1-1-1 1M45 80l-1-1-1 1M49 80l-1-1-1 1M53 80l-1-1-1 1M57 80l-1-1-1 1M61 80l-1-1-1 1M65 80l-1-1-1 1M69 80l-1-1-1 1M73 80l-1-1-1 1"/>
</g>
<g transform="scale(0.5)" stroke-width="1.4" stroke-linejoin="round"><path class=a44 d="M2480 150l12-20-9 12-11 48zm23-5l11-20-8 11-12 49zm23-6l11-20-8 12-12 48zm23-6l11-20-9 12-11 49zm22-6l12-20-9 12-11 49zm23-6l12-20-9 12-11 49z"/><path class=a45 d="M2617 115l11-20-8 11-12 49z"/><path class=a40 d="M2397 220l12-48-9-22-11 19zm23-4l12-48-9-23-11 19zm23-4l12-49-9-23-12 20zm23-5l11-49-8-23-12 20zm23-5l11-49-8-23-12 20zm23-5l11-49-9-23-11 20zm22-6l12-49-9-23-11 20zm23-6l12-49-9-23-11 20zm23-6l11-49-8-23-12 20z"/><path class=a41 d="M2215 250l11-48-8-22-12 19zm23-4l11-48-9-21-11 18zm22-3l12-48-9-22-11 19zm23-4l12-48-9-22-11 19zm23-3l12-48-9-22-11 18zm23-4l11-48-8-22-12 19zm23-4l11-48-8-22-12 19zm23-3l11-49-9-22-11 19zm228-52l11-50-8-22-12 20zm23-7l11-49-9-22-11 20zm23-6l11-50-9-22-11 20zm22-7l12-49-9-23-11 21zm23-7l12-49-9-22-11 20zm23-7l11-49-8-22-12 20zm23-7l11-49-8-22-12 21zm23-6l11-50-9-22-11 21z"/><path class=a42 d="M2032 280l12-48-9-21-11 19zm23-4l11-48-8-21-12 19zm23-4l11-48-8-21-12 19zm23-4l11-48-8-21-12 19zm23-4l11-48-9-21-11 19zm22-4l12-47-9-22-11 19zm23-3l12-48-9-21-11 18zm23-4l11-48-8-21-12 19zm593-134l12-50-9-21-11 20zm23-7l12-50-9-21-11 20zm23-7l12-49-9-21-12 20zm23-6l11-50-8-21-12 20zm23-7l11-49-8-21-12 20zm23-7l11-49-9-21-11 20zm22-6l12-49-9-21-11 20z"/><path class=a44 d="M2340 184l12 44-9-51-11-15zm23-4l12 45-9-52-11-15zm23-4l11 44-8-51-12-15zm23-4l11 44-8-52-12-14zm23-4l11 44-9-52-11-15zm23-5l11 44-9-52-11-15zm22-5l12 44-9-52-11-15zm23-5l12 44-9-52-11-15zm23-5l11 43-8-52-12-14zm23-6l11 43-8-52-12-14zm23-6l11 43-9-52-11-14zm22-6l12 43-9-52-11-14zm23-7l12 43-9-51-11-14zm23-6l12 43-9-52-12-13z"/><path class=a45 d="M2181 209l11 44-9-50-11-15zm22-4l12 45-9-51-11-15zm23-3l12 44-9-51-11-15zm23-4l11 45-8-51-12-15zm23-3l11 44-8-51-12-15zm23-4l11 45-8-52-12-15zm23-3l11 44-9-51-11-15zm342-78l11 43-8-51-12-14zm23-6l11 42-8-51-12-14zm23-7l11 42-9-51-11-13zm22-7l12 42-9-50-11-14zm23-7l12 43-9-51-11-14zm23-7l11 43-8-51-12-14zm23-7l11 43-8-51-12-13z"/><path class=a46 d="M2044 232l11 44-9-50-11-15zm22-4l12 44-9-50-11-15zm23-4l12 44-9-50-11-15zm23-4l12 44-9-50-11-15zm23-4l11 44-8-50-12-15zm23-3l11 44-8-51-12-15zm662-151l11 43-9-50-11-14zm23-6l11 43-9-51-11-13zm22-7l12 43-9-50-11-14zm23-6l12 42-9-50-11-13zm23-7l11 43-8-50-12-14zm23-6l11 43-8-50-12-14z"/><path class=a44 d="M2452 172l11-20-8 11-12 49zm23-5l11-20-9 11-11 49zm22-5l12-20-9 11-11 49zm23-5l12-20-9 11-11 49zm23-6l11-20-8 11-12 49zm23-6l11-20-8 11-12 49zm23-6l11-20-9 11-11 49zm23-7l11-20-9 11-11 50zm22-6l12-20-9 11-11 49zm23-7l12-20-9 11-11 50zm23-7l11-20-8 12-12 49z"/><path class=a45 d="M2703 105l11-20-8 12-12 49z"/><path class=a40 d="M2346 243l12-47-9-23-11 19zm23-3l11-48-8-23-12 19zm23-4l11-48-8-23-12 19zm23-4l11-48-9-23-11 19zm23-4l11-48-9-23-11 19zm22-4l12-48-9-24-11 20zm23-5l12-48-9-24-11 20zm23-5l11-48-8-24-12 20zm23-5l11-49-8-23-12 20zm23-6l11-49-9-23-11 20zm22-6l12-49-9-23-11 20zm23-6l12-49-9-23-11 20zm23-7l12-49-9-23-11 20zm23-6l11-50-8-22-12 20zm23-7l11-50-8-22-12 20z"/><path class=a41 d="M2209 263l12-48-9-22-11 19zm23-4l12-47-9-22-12 18zm23-3l11-47-8-22-12 18zm23-3l11-48-8-22-12 19zm23-3l11-48-9-22-11 18zm22-3l12-48-9-23-11 19zm366-83l11-50-9-22-11 20zm22-7l12-50-9-22-11 20zm23-7l12-50-9-22-11 20zm23-8l11-49-8-22-12 20zm23-7l11-49-8-22-12 20zm23-7l11-50-8-21-12 20z"/><path class=a42 d="M2050 288l11-48-9-21-11 19zm22-4l12-48-9-21-11 19zm23-4l12-48-9-21-11 19zm23-4l11-48-8-21-12 19zm23-3l11-48-8-21-12 18zm23-4l11-47-9-22-11 19zm22-3l12-48-9-21-11 18zm640-145l11-50-9-21-11 20zm22-7l12-49-9-22-11 21zm23-7l12-49-9-22-11 21zm23-7l11-49-8-21-12 20zm23-6l11-50-8-21-12 20zm23-7l11-49-9-21-11 20z"/><path class=a44 d="M2312 202l11 45-8-52-12-15zm23-3l11 44-8-51-12-16zm23-3l11 44-9-52-11-15zm22-4l12 44-9-52-11-15zm23-4l12 44-9-52-11-15zm23-4l12 44-9-52-12-15zm23-4l11 44-8-52-12-15zm23-4l11 43-8-52-12-15zm23-5l11 43-9-52-11-15zm22-5l12 43-9-52-11-15zm23-6l12 43-9-52-11-14zm23-6l11 43-8-52-12-14zm23-6l11 43-8-52-12-14zm23-6l11 42-8-52-12-13zm23-7l11 43-9-52-11-14zm22-7l12 43-9-52-11-13zm23-7l12 43-9-52-11-13zm23-7l11 43-8-52-12-13z"/><path class=a45 d="M2152 225l12 44-9-50-11-15zm23-3l11 44-8-51-12-15zm23-4l11 45-8-51-12-15zm23-3l11 44-9-51-11-15zm23-3l11 44-9-51-11-15zm22-3l12 44-9-51-11-15zm23-4l12 45-9-52-11-15zm434-98l11 43-8-52-12-13zm23-7l11 42-9-51-11-13zm22-7l12 42-9-51-11-13zm23-7l12 42-9-51-11-13zm23-8l12 43-9-51-11-13zm23-7l11 43-8-50-12-14zm23-6l11 42-8-50-12-14z"/><path class=a46 d="M2061 240l11 44-8-50-12-15zm23-4l11 44-8-50-12-15zm23-4l11 44-9-50-11-15zm22-4l12 45-9-51-11-15zm754-170l11 42-9-50-11-14zm22-7l12 43-9-51-11-13zm23-7l12 43-9-50-11-14zm23-6l11 43-8-50-12-14z"/><path class=a43 d="M2446 189l12-19-9 10-11 48zm23-5l11-19-8 11-12 48zm23-4l11-20-8 11-12 48zm23-5l11-20-9 11-11 48zm22-6l12-19-9 10-11 49zm23-5l12-20-9 10-11 49zm23-6l12-21-9 11-12 49z"/><path class=a44 d="M2423 193l12-19-9 10-11 48zm183-42l11-20-8 11-12 49zm23-6l11-21-8 11-12 49zm23-7l11-21-9 11-11 50zm22-7l12-21-9 11-11 50zm23-8l12-20-9 11-11 50zm23-7l11-21-8 12-12 50zm23-7l11-21-8 12-12 50z"/><path class=a45 d="M2766 101l11-20-9 12-11 49z"/><path class=a39 d="M2455 241l11-48-8-23-12 19zm23-4l11-48-9-24-11 19zm22-5l12-48-9-24-11 20zm23-5l12-48-9-24-11 20zm23-5l11-49-8-23-12 19zm23-6l11-49-8-23-12 20zm23-6l11-49-8-24-12 21z"/><path class=a40 d="M2318 261l11-48-8-22-12 18zm23-3l11-48-9-22-11 18zm22-3l12-48-9-23-11 19zm23-3l12-48-9-23-11 19zm23-3l12-48-9-24-12 19zm23-4l11-48-8-23-12 19zm183-41l11-50-9-23-11 20zm22-7l12-50-9-23-11 21zm23-7l12-50-9-23-11 21zm23-7l11-50-8-23-12 21zm23-8l11-50-8-22-12 20zm23-7l11-50-9-23-11 21z"/><path class=a41 d="M2181 278l11-47-8-22-12 19zm23-3l11-47-9-22-11 18zm23-3l11-47-9-22-11 18zm22-3l12-47-9-22-11 18zm23-3l12-47-9-22-11 18zm23-2l11-48-8-22-12 18zm457-104l11-50-9-22-11 21zm22-7l12-50-9-22-11 20zm23-8l12-50-9-22-11 21zm23-7l11-50-8-22-12 21zm23-8l11-49-8-22-12 21zm23-7l11-50-9-21-11 20z"/><path class=a42 d="M2067 296l11-48-8-21-12 19zm23-4l11-48-9-21-11 19zm22-4l12-48-9-21-11 19zm23-3l12-48-9-21-11 18zm23-3l11-48-8-22-12 19zm730-166l12-50-9-21-11 20zm23-7l12-50-9-21-11 21zm23-7l12-49-9-22-12 21zm23-7l11-49-8-21-12 20z"/><path class=a43 d="M2421 201l11 44-9-52-11-16zm22-4l12 44-9-52-11-15zm23-4l12 44-9-53-11-14zm23-4l11 43-8-52-12-15zm23-5l11 43-8-52-12-15zm23-5l11 43-9-53-11-14zm22-6l12 43-9-52-11-14zm23-6l12 43-9-52-11-14zm23-6l12 43-9-53-11-14zm23-7l11 43-8-52-12-14z"/><path class=a44 d="M2284 219l11 45-9-52-11-15zm22-3l12 45-9-52-11-15zm23-3l12 45-9-52-11-15zm23-3l11 45-8-52-12-15zm23-3l11 45-8-52-12-16zm23-3l11 45-9-53-11-15zm251-57l11 43-8-52-12-14zm23-7l11 43-9-52-11-14zm22-7l12 42-9-52-11-13zm23-8l12 43-9-52-11-13zm23-7l12 42-9-51-12-14zm23-8l11 43-8-52-12-13z"/><path class=a45 d="M2147 237l11 45-9-51-11-15zm22-3l12 44-9-50-11-16zm23-3l12 44-9-51-11-15zm23-3l12 44-9-51-12-15zm23-3l11 44-8-51-12-15zm23-3l11 44-8-51-12-15zm525-119l11 42-8-51-12-13zm23-8l11 43-9-51-11-14zm22-7l12 42-9-50-11-14zm23-7l12 42-9-51-11-13zm23-8l11 43-8-51-12-13zm23-7l11 43-8-50-12-14z"/><path class=a46 d="M2078 248l12 44-9-50-11-15zm23-4l11 44-8-50-12-15zm23-4l11 45-8-51-12-15zm799-181l11 43-9-50-11-14zm23-6l11 42-9-50-11-14zm22-7l12 43-9-50-11-14z"/><path class=a43 d="M2418 209l11-19-8 11-12 48zm23-3l11-19-9 10-11 48zm22-4l12-19-9 10-11 48zm23-4l12-19-9 10-11 48zm23-5l11-19-8 10-12 48zm23-5l11-19-8 10-12 48zm23-5l11-20-9 10-11 49zm23-6l11-20-9 10-11 49zm22-6l12-20-9 10-11 49zm23-7l12-20-9 10-11 50zm23-7l11-20-8 10-12 50zm23-7l11-21-8 11-12 50z"/><path class=a44 d="M2692 143l11-21-9 11-11 50zm22-8l12-21-9 11-11 50zm23-8l12-20-9 11-11 50zm23-7l12-21-9 11-11 50zm23-8l11-21-8 12-12 50z"/><path class=a45 d="M2806 104l11-21-8 12-12 50z"/><path class=a39 d="M2404 265l11-48-9-23-11 18zm22-3l12-48-9-24-11 19zm23-3l12-48-9-24-11 19zm23-4l11-48-8-24-12 19zm23-4l11-48-8-24-12 19zm23-4l11-49-9-24-11 19zm22-5l12-49-9-24-11 19zm23-6l12-49-9-24-11 20zm23-6l12-49-9-24-11 20zm23-6l11-49-8-24-12 20zm23-7l11-49-8-24-12 20zm23-7l11-50-9-23-11 20zm22-7l12-50-9-24-11 21z"/><path class=a40 d="M2289 277l12-47-9-23-11 19zm23-2l12-48-9-22-11 18zm23-3l11-47-8-23-12 18zm23-2l11-47-8-23-12 18zm23-3l11-47-8-23-12 18zm319-72l12-50-9-23-11 21zm23-8l12-50-9-23-12 21zm23-8l11-50-8-22-12 20zm23-8l11-50-8-22-12 21zm23-8l11-50-9-22-11 21z"/><path class=a41 d="M2175 290l12-47-9-22-11 19zm23-2l12-48-9-22-11 19zm23-3l11-48-8-21-12 18zm23-3l11-47-8-22-12 18zm23-2l11-48-9-22-11 18zm547-125l12-50-9-22-11 21zm23-7l12-50-9-22-11 21zm23-8l11-50-8-22-12 21zm23-8l11-50-8-21-12 21zm23-7l11-50-9-21-11 20z"/><path class=a42 d="M2084 304l11-48-8-21-12 19zm23-4l11-48-8-21-12 19zm23-3l11-48-9-21-11 18zm22-3l12-48-9-21-11 18zm354-91l12 44-9-54-11-14zm23-5l11 44-8-54-12-14zm23-5l11 43-8-53-12-14zm23-6l11 43-8-53-12-14zm354-69l11-50-9-21-11 20zm22-8l12-49-9-21-11 20zm23-7l12-49-9-21-11 20z"/><path class=a43 d="M2369 223l12 44-9-52-11-15zm23-3l12 45-9-53-11-15zm23-3l11 45-8-53-12-15zm23-3l11 45-8-53-12-16zm23-3l11 44-9-53-11-15zm22-4l12 44-9-53-11-15zm115-26l11 43-9-53-11-14zm22-6l12 42-9-53-11-13zm23-7l12 42-9-53-11-13zm23-8l11 43-8-53-12-13zm23-7l11 42-8-52-12-14zm23-8l11 42-9-52-11-13z"/><path class=a44 d="M2278 232l11 45-8-51-12-16zm23-2l11 45-8-52-12-16zm23-3l11 45-9-52-11-15zm22-2l12 45-9-52-11-16zm389-88l11 42-9-52-11-13zm22-8l12 42-9-51-11-13zm23-8l12 42-9-51-11-13zm23-8l11 42-8-51-12-13z"/><path class=a45 d="M2141 249l11 45-8-51-12-15zm23-3l11 44-8-50-12-15zm23-3l11 45-8-51-12-16zm23-3l11 45-9-51-11-16zm22-3l12 45-9-51-11-15zm23-2l12 45-9-52-11-15zm571-130l11 43-8-51-12-14zm23-7l11 42-9-51-11-13zm22-8l12 42-9-50-11-14zm23-8l12 43-9-51-11-13zm23-7l12 43-9-51-12-13zm23-7l11 42-8-50-12-13z"/><path class=a46 d="M2095 256l12 44-9-50-11-15zm23-4l12 45-9-51-11-15zm845-191l11 42-8-50-12-13zm23-7l11 43-9-50-11-14z"/><path class=a42 d="M2458 220l11-19-8 10-12 48zm23-4l11-19-9 10-11 48zm22-4l12-19-9 10-11 48zm23-4l12-19-9 9-11 49zm23-5l12-20-9 10-12 49zm23-5l11-20-8 9-12 49zm23-6l11-21-8 10-12 49zm23-7l11-20-9 10-11 49zm22-7l12-20-9 10-11 49z"/><path class=a43 d="M2412 225l12-18-9 10-11 48zm23-2l11-19-8 10-12 48zm228-52l12-21-9 10-11 50zm23-8l11-21-8 11-12 50zm23-8l11-21-8 11-12 50zm23-8l11-21-8 11-12 50z"/><path class=a44 d="M2755 139l11-21-9 11-11 50zm22-8l12-21-9 11-11 50zm23-8l12-21-9 11-11 50zm23-8l11-21-8 11-12 50z"/><path class=a45 d="M2846 107l11-21-8 12-12 50zm23-8l11-21-9 12-11 50z"/><path class=a38 d="M2466 273l12-48-9-24-11 19zm23-3l12-48-9-25-11 19zm23-4l12-48-9-25-12 19zm23-4l11-49-8-24-12 19zm23-5l11-49-8-25-12 20zm23-6l11-49-9-24-11 20zm22-6l12-49-9-25-11 21zm23-6l12-50-9-24-11 20zm23-7l11-50-8-24-12 20z"/><path class=a39 d="M2375 282l12-47-9-23-11 18zm23-2l11-47-8-23-12 18zm23-2l11-47-8-24-12 18zm23-2l11-48-9-24-11 19zm228-52l11-50-8-24-12 21zm23-8l11-50-9-24-11 21zm23-8l11-50-9-24-11 21zm22-8l12-51-9-23-11 21z"/><path class=a40 d="M2284 290l11-47-8-22-12 18zm23-2l11-47-9-22-11 18zm23-2l11-47-9-23-11 18zm22-2l12-47-9-23-11 18zm411-93l12-50-9-23-11 21zm23-8l11-51-8-22-12 21zm23-9l11-50-8-22-12 21zm23-8l11-50-9-22-11 21z"/><path class=a41 d="M2170 302l11-47-8-22-12 19zm23-2l11-48-9-21-11 18zm22-3l12-47-9-22-11 18zm23-2l12-48-9-22-11 19zm23-3l11-47-8-22-12 18zm593-134l12-50-9-22-11 21zm23-8l12-50-9-22-11 21zm23-8l12-50-9-22-11 21zm23-8l11-50-8-21-12 20zm23-8l11-49-8-22-12 21z"/><path class=a42 d="M2101 312l12-48-9-21-11 19zm23-4l11-47-8-21-12 18zm23-3l11-47-8-22-12 19zm285-74l12 45-9-53-11-16zm23-3l11 45-8-53-12-16zm23-3l11 45-8-54-12-15zm23-3l11 44-9-54-11-15zm23-4l11 44-9-54-11-15zm22-5l12 44-9-54-11-14zm23-5l12 43-9-53-11-15zm23-6l11 43-8-53-12-14zm23-6l11 43-8-54-12-14zm23-7l11 43-9-54-11-13zm22-7l12 42-9-53-11-13zm23-8l12 42-9-53-11-13zm286-55l11-50-9-21-11 21zm22-7l12-50-9-21-11 21z"/><path class=a43 d="M2341 239l11 45-8-52-12-16zm23-2l11 45-8-52-12-16zm23-2l11 45-9-52-11-16zm22-2l12 45-9-53-11-15zm297-67l12 42-9-53-12-13zm23-8l11 42-8-53-12-13zm23-9l11 42-8-52-12-13zm23-8l11 42-9-52-11-13z"/><path class=a44 d="M2250 247l11 45-9-51-11-16zm22-2l12 45-9-51-11-16zm23-2l12 45-9-51-11-16zm23-2l12 45-9-52-12-15zm479-109l12 42-9-51-11-13zm23-8l12 42-9-51-11-13zm23-8l11 42-8-51-12-13zm23-8l11 42-8-51-12-13z"/><path class=a45 d="M2135 261l12 44-9-50-11-15zm23-3l12 44-9-50-11-16zm23-3l12 45-9-51-11-16zm23-3l11 45-8-51-12-15zm23-2l11 45-8-51-12-16zm662-150l11 42-8-51-12-13zm23-8l11 42-9-51-11-13zm22-8l12 42-9-50-11-13zm23-7l12 42-9-50-11-14zm23-8l11 43-8-50-12-14z"/><path class=a46 d="M2113 264l11 44-9-50-11-15zm890-202l11 43-8-50-12-14z"/><path class=a41 d="M2521 228l11-19-8 9-12 48zm23-4l11-19-9 8-11 49zm22-5l12-20-9 9-11 49zm23-6l12-20-9 9-11 49zm23-6l11-20-8 9-12 49z"/><path class=a42 d="M2429 239l12-18-9 10-11 47zm23-2l12-18-9 9-11 48zm23-2l11-19-8 9-12 48zm23-3l11-19-8 9-12 48zm137-32l11-20-8 9-12 50zm23-7l11-21-9 10-11 50zm22-8l12-21-9 10-11 50zm23-8l12-21-9 10-11 50z"/><path class=a43 d="M2726 169l12-21-9 10-11 50zm23-9l11-21-8 10-12 51zm23-9l11-21-8 11-12 50zm23-8l11-22-9 11-11 51z"/><path class=a44 d="M2817 134l12-21-9 11-11 50zm23-9l12-21-9 12-11 50zm23-8l12-21-9 12-12 50zm23-8l11-21-8 12-12 50z"/><path class=a45 d="M2909 100l11-21-8 13-12 50z"/><path class=a37 d="M2507 286l11-48-9-25-11 19zm22-4l12-48-9-25-11 19zm23-4l12-48-9-25-11 19zm23-5l11-48-8-26-12 20zm23-5l11-49-8-26-12 20zm23-6l11-50-9-25-11 20zm22-7l12-50-9-25-11 20z"/><path class=a38 d="M2415 294l12-47-9-24-11 18zm23-1l11-47-8-25-12 18zm23-2l11-47-8-25-12 18zm23-2l11-48-9-25-11 19zm182-42l12-50-9-25-11 21zm23-8l12-50-9-25-12 21zm23-8l11-51-8-24-12 21zm23-9l11-51-8-23-12 21z"/><path class=a39 d="M2347 298l11-46-8-24-12 18zm23-1l11-47-9-23-11 18zm22-1l12-47-9-24-11 18zm366-83l11-51-9-23-11 21zm22-9l12-51-9-23-11 21zm23-9l12-51-9-23-11 22z"/><path class=a40 d="M2278 303l12-47-9-23-11 18zm23-2l12-47-9-22-12 18zm23-1l11-47-8-23-12 18zm502-114l11-51-8-22-12 21zm23-9l11-51-8-22-12 21zm23-9l11-50-8-22-12 21z"/><path class=a41 d="M2187 311l11-47-8-22-12 19zm23-2l11-47-8-22-12 18zm23-2l11-48-9-21-11 18zm22-3l12-46-9-23-11 18zm240-63l12 45-9-54-12-16zm23-3l11 44-8-54-12-15zm23-4l11 44-8-54-12-15zm23-4l11 43-9-54-11-14zm22-5l12 43-9-55-11-14zm23-6l12 43-9-55-11-14zm23-7l11 43-8-55-12-13zm23-7l11 42-8-54-12-13zm240-45l11-51-9-21-11 21zm22-9l12-50-9-22-11 21zm23-8l12-50-9-21-11 20zm23-8l11-50-8-21-12 21z"/><path class=a42 d="M2118 320l12-48-9-21-11 19zm23-3l12-48-9-21-11 19zm23-3l12-48-9-21-11 19zm240-65l11 45-8-53-12-16zm23-2l11 46-9-54-11-16zm22-1l12 45-9-54-11-16zm23-2l12 45-9-54-11-16zm206-47l11 42-9-54-11-13zm23-8l11 42-9-54-11-13zm22-9l12 42-9-53-11-13zm23-9l12 42-9-53-11-12zm240-43l11-50-8-21-12 20zm23-8l11-50-9-21-11 21z"/><path class=a43 d="M2335 253l12 45-9-52-11-16zm23-1l12 45-9-52-11-17zm23-2l11 46-8-53-12-16zm388-88l11 42-8-53-12-12zm23-9l11 42-8-52-12-13zm23-9l11 42-9-52-11-13z"/><path class=a44 d="M2244 259l11 45-8-51-12-15zm23-1l11 45-8-52-12-16zm23-2l11 45-9-51-11-17zm23-2l11 46-9-52-11-16zm524-119l12 42-9-52-11-12zm23-9l12 42-9-51-11-13zm23-8l12 42-9-51-11-13zm23-9l11 42-8-51-12-12z"/><path class=a45 d="M2153 269l11 45-8-50-12-16zm23-3l11 45-9-50-11-16zm22-2l12 45-9-51-11-16zm23-2l12 45-9-51-11-16zm708-161l11 42-8-51-12-13zm23-8l11 42-9-50-11-13zm22-8l12 43-9-51-11-13zm23-7l12 42-9-50-11-13z"/><path class=a46 d="M2130 272l11 45-8-50-12-16zm890-202l12 43-9-50-12-14z"/><path class=a41 d="M2470 253l11-18-9 9-11 47zm22-2l12-18-9 8-11 48zm23-3l12-18-9 8-11 48zm23-3l11-19-8 8-12 48zm23-4l11-19-8 8-12 48zm23-5l11-19-9 8-11 48zm22-5l12-20-9 8-11 49zm23-7l12-20-9 8-11 50zm23-7l12-21-9 9-12 50zm23-8l11-21-8 9-12 50zm23-8l11-21-8 9-12 50z"/><path class=a42 d="M2424 255l11-17-8 9-12 47zm23-1l11-17-9 9-11 47zm274-62l11-21-9 9-11 51zm22-9l12-22-9 10-11 51zm23-9l12-22-9 10-11 51z"/><path class=a43 d="M2789 164l11-21-8 10-12 51zm23-9l11-22-8 11-12 51zm23-9l11-22-9 11-11 51z"/><path class=a44 d="M2858 136l11-21-9 11-11 51zm22-9l12-21-9 12-11 50zm23-8l12-22-9 12-11 51zm23-9l11-21-8 12-12 50z"/><path class=a36 d="M2547 300l11-48-9-26-11 19zm22-4l12-48-9-26-11 19zm23-4l12-49-9-26-11 19zm23-6l11-49-8-26-12 20zm23-7l11-49-8-26-12 20z"/><path class=a37 d="M2455 308l12-46-9-25-11 17zm23-1l12-47-9-25-11 18zm23-2l11-47-8-25-12 18zm23-2l11-47-8-26-12 18zm137-31l11-50-8-26-12 21zm23-8l11-50-9-26-11 21zm22-9l12-50-9-25-11 21zm23-9l12-51-9-24-11 21z"/><path class=a38 d="M2410 310l11-47-9-24-11 17zm22-1l12-47-9-24-11 17zm320-73l11-50-8-25-12 22zm23-9l11-51-8-24-12 22z"/><path class=a39 d="M2341 311l12-46-9-23-11 17zm23 0l11-47-8-23-12 17zm23-1l11-46-8-24-12 17zm411-93l11-51-9-23-11 21zm22-10l12-51-9-23-11 22zm23-9l12-51-9-23-11 22z"/><path class=a40 d="M2273 315l11-47-9-22-11 18zm23-2l11-46-9-23-11 18zm22-1l12-46-9-23-11 18zm194-54l12 45-9-55-11-15zm23-2l12 44-9-55-11-15zm23-4l11 44-8-55-12-15zm23-4l11 44-8-56-12-14zm23-5l11 43-9-55-11-14zm22-6l12 42-9-55-11-13zm23-7l12 42-9-55-11-13zm23-8l12 42-9-55-11-13zm194-34l12-51-9-22-11 21zm23-9l11-51-8-22-12 21zm23-9l11-51-8-22-12 22z"/><path class=a41 d="M2181 323l12-48-9-21-11 18zm23-3l12-47-9-21-11 18zm23-2l11-47-8-22-12 18zm23-2l11-47-8-22-12 18zm194-54l11 46-8-54-12-16zm23 0l11 45-8-54-12-16zm23-2l11 45-9-54-11-16zm205-46l11 41-8-54-12-13zm23-9l11 41-8-54-12-12zm23-10l11 41-9-53-11-12zm194-34l11-50-9-22-11 21zm22-8l12-51-9-21-11 21zm23-9l12-50-9-21-11 21zm23-8l12-50-9-21-12 21z"/><path class=a42 d="M2136 328l11-47-8-21-12 18zm23-3l11-47-9-21-11 18zm239-61l12 46-9-54-11-16zm23-1l11 46-8-54-12-16zm342-77l12 41-9-53-11-13zm23-10l12 41-9-53-11-12zm240-47l11-50-8-21-12 20z"/><path class=a43 d="M2330 266l11 45-8-52-12-16zm23-1l11 46-9-53-11-16zm22-1l12 46-9-53-11-16zm434-98l11 41-8-52-12-12zm23-10l11 42-8-52-12-13zm23-9l11 41-8-52-12-12z"/><path class=a44 d="M2261 269l12 46-9-51-11-17zm23-1l12 45-9-51-12-16zm23-1l11 45-8-51-12-17zm571-130l11 42-9-52-11-12zm22-9l12 42-9-51-11-13zm23-9l12 42-9-51-11-13z"/><path class=a45 d="M2147 281l12 44-9-50-11-15zm23-3l11 45-8-51-12-15zm23-3l11 45-8-50-12-16zm23-2l11 45-9-51-11-15zm22-2l12 45-9-51-11-16zm708-160l11 42-8-51-12-13zm23-9l11 42-8-50-12-13zm23-8l11 42-9-50-11-13zm23-8l11 43-9-51-11-13zm22-7l12 42-9-50-11-13z"/><path class=a40 d="M2487 269l11-17-8 8-12 47zm23-1l11-18-9 8-11 47zm22-2l12-18-9 8-11 47zm23-3l12-18-9 7-11 48zm23-3l11-19-8 7-12 48zm23-5l11-20-8 8-12 49zm23-6l11-20-9 8-11 49zm23-6l11-21-9 8-11 49zm22-8l12-21-9 8-11 50zm23-8l12-22-9 9-11 50zm23-9l11-22-8 9-12 50z"/><path class=a41 d="M2441 271l12-18-9 9-12 47zm23-1l11-17-8 9-12 46zm274-62l11-22-8 9-12 51zm23-10l11-22-9 10-11 50z"/><path class=a42 d="M2783 188l12-22-9 10-11 51zm23-10l12-22-9 10-11 51zm23-10l12-22-9 10-12 51z"/><path class=a43 d="M2852 158l11-22-8 11-12 51zm23-10l11-22-8 11-12 51z"/><path class=a44 d="M2898 138l11-21-9 11-11 51zm22-9l12-22-9 12-11 51zm23-9l12-21-9 12-11 50z"/><path class=a45 d="M2966 111l11-21-8 12-12 51z"/><path class=a35 d="M2564 319l11-47-8-27-12 18zm23-3l11-48-9-27-11 19zm23-5l11-48-9-28-11 20zm22-5l12-50-9-27-11 20zm23-7l12-50-9-27-11 21z"/><path class=a36 d="M2495 324l12-46-9-26-11 17zm23-1l12-46-9-27-11 18zm23-1l11-47-8-27-12 18zm137-31l11-51-8-26-12 21zm23-9l11-51-8-26-12 22zm23-10l11-51-9-25-11 22z"/><path class=a37 d="M2450 324l11-46-8-25-12 18zm23 1l11-47-9-25-11 17zm273-63l12-51-9-25-11 22zm23-10l12-51-9-25-11 22z"/><path class=a38 d="M2381 324l12-46-9-24-11 17zm23 0l11-46-8-24-12 17zm23 0l11-46-8-24-12 17zm365-83l12-51-9-24-12 22zm23-10l11-52-8-23-12 22zm23-11l11-51-8-23-12 22z"/><path class=a39 d="M2336 324l11-46-9-23-11 17zm22 0l12-46-9-24-11 17zm194-49l12 44-9-56-11-15zm23-3l12 44-9-56-11-15zm23-4l12 43-9-56-12-14zm23-5l11 43-8-57-12-14zm23-7l11 43-8-56-12-14zm23-7l11 42-9-56-11-13zm194-39l11-51-9-23-11 22zm22-10l12-51-9-23-11 22z"/><path class=a40 d="M2267 326l12-46-9-23-12 18zm23-1l11-46-8-23-12 18zm23-1l11-46-8-23-12 18zm171-46l11 46-8-55-12-16zm23 0l11 45-8-55-12-16zm23-1l11 45-9-56-11-16zm159-37l12 42-9-55-11-13zm23-9l12 41-9-54-11-13zm23-10l11 41-8-54-12-12zm171-31l12-51-9-22-11 21zm23-10l11-51-8-22-12 22zm23-9l11-51-8-21-12 21z"/><path class=a41 d="M2176 334l11-48-8-21-12 18zm23-3l11-47-9-21-11 18zm22-2l12-47-9-21-11 18zm23-1l12-47-9-22-11 18zm194-50l12 46-9-53-11-17zm23 0l12 47-9-55-11-17zm297-67l11 41-8-54-12-12zm23-10l11 40-9-53-11-12zm194-39l11-50-9-22-11 21zm23-9l11-50-9-21-11 21zm22-8l12-50-9-21-11 21zm23-8l12-50-9-21-11 21z"/><path class=a42 d="M2153 336l11-47-8-21-12 18zm217-58l11 46-8-53-12-17zm23 0l11 46-9-53-11-17zm22 0l12 46-9-53-11-17zm389-88l11 41-9-53-11-12zm22-11l12 41-9-52-11-12zm23-10l12 41-9-52-11-12z"/><path class=a43 d="M2324 278l12 46-9-52-11-17zm23 0l11 46-8-53-12-16zm525-119l11 41-8-52-12-12zm23-10l11 41-8-52-12-12z"/><path class=a44 d="M2256 281l11 45-9-51-11-16zm23-1l11 45-9-51-11-17zm22-1l12 45-9-51-11-17zm617-140l11 41-9-51-11-12zm22-10l12 42-9-51-11-13zm23-9l12 42-9-51-11-12z"/><path class=a45 d="M2164 289l12 45-9-51-11-15zm23-3l12 45-9-50-11-16zm23-2l11 45-8-50-12-16zm23-2l11 46-8-51-12-16zm753-170l12 41-9-50-12-13zm23-9l11 42-8-50-12-13zm23-8l11 42-8-50-12-13zm23-8l11 42-9-50-11-13z"/><path class=a38 d="M2595 280l12-19-9 7-11 48zm23-4l12-20-9 7-11 48zm23-6l11-20-8 6-12 50z"/><path class=a39 d="M2527 287l11-17-8 7-12 46zm23-1l11-18-9 7-11 47zm22-2l12-19-9 7-11 47zm92-21l11-21-8 7-12 50zm23-8l11-22-9 7-11 51zm22-9l12-22-9 7-11 51z"/><path class=a40 d="M2458 287l12-17-9 8-11 46zm23 0l12-17-9 8-11 47zm23 0l11-17-8 8-12 46zm228-51l12-23-9 8-11 51zm23-11l11-22-8 8-12 51zm23-11l11-22-8 9-12 51z"/><path class=a41 d="M2801 203l11-23-8 10-12 51zm23-11l11-23-9 10-11 52z"/><path class=a42 d="M2846 181l12-23-9 11-11 51zm23-11l12-22-9 11-11 51z"/><path class=a43 d="M2892 159l11-22-8 12-12 51zm23-10l11-22-8 12-12 51z"/><path class=a44 d="M2938 139l11-21-9 11-11 51zm22-9l12-22-9 12-11 51zm23-9l12-22-9 13-11 50z"/><path class=a45 d="M3006 112l12-21-9 12-11 50z"/><path class=a34 d="M2581 341l12-48-9-28-12 19zm23-3l11-49-8-28-12 19zm23-5l11-49-8-28-12 20zm23-6l11-49-9-28-11 20zm22-7l12-50-9-28-11 21z"/><path class=a35 d="M2513 343l11-46-9-27-11 17zm22 0l12-46-9-27-11 17zm23-1l12-46-9-28-11 18zm137-31l12-50-9-28-11 22zm23-9l11-52-8-26-12 22zm23-11l11-51-8-27-12 23z"/><path class=a36 d="M2467 341l11-45-8-26-12 17zm23 1l11-46-8-26-12 17zm274-62l11-52-9-25-11 22zm23-12l11-51-9-25-11 22z"/><path class=a37 d="M2421 338l12-45-9-25-11 17zm23 2l12-46-9-25-11 17zm365-83l12-52-9-25-11 23zm23-12l12-52-9-24-11 23z"/><path class=a38 d="M2376 336l11-45-9-24-11 17zm22 1l12-45-9-24-11 16zm149-40l11 45-8-56-12-16zm23-1l11 45-9-57-11-16zm23-3l11 45-9-58-11-15zm22-4l12 44-9-57-11-15zm23-5l12 43-9-57-11-14zm23-6l11 42-8-57-12-13zm23-8l11 41-8-56-12-13zm23-9l11 41-9-56-11-13zm148-27l11-52-8-24-12 23zm23-12l11-51-8-23-12 22z"/><path class=a39 d="M2330 335l11-46-8-22-12 17zm23 1l11-46-8-23-12 17zm148-40l12 47-9-56-11-17zm23 1l11 46-8-56-12-17zm205-47l12 41-9-55-11-12zm23-10l12 40-9-55-11-12zm149-29l11-51-9-23-11 22zm22-10l12-51-9-23-11 22z"/><path class=a40 d="M2262 337l11-46-9-22-11 17zm22-1l12-46-9-22-11 17zm23 0l12-47-9-22-11 17zm149-42l11 47-9-54-11-18zm22 2l12 46-9-55-11-17zm297-68l12 40-9-54-12-11zm23-11l11 40-8-54-12-11zm148-26l12-51-9-22-11 21zm23-10l12-51-9-22-12 22zm23-9l11-51-8-22-12 22z"/><path class=a41 d="M2193 342l11-47-8-21-12 18zm23-2l11-47-8-21-12 18zm23-2l11-46-8-22-12 18zm171-46l11 46-8-53-12-17zm23 1l11 47-8-54-12-18zm388-88l11 40-8-53-12-12zm23-12l11 41-9-53-11-12zm171-30l11-51-8-21-12 21zm23-9l11-50-9-22-11 21zm22-8l12-50-9-22-11 21z"/><path class=a42 d="M2170 345l12-48-9-21-11 18zm194-55l12 46-9-52-11-17zm23 1l11 46-8-53-12-17zm479-109l12 40-9-52-11-12zm23-11l12 40-9-52-11-11z"/><path class=a43 d="M2319 289l11 46-9-51-11-17zm22 0l12 47-9-52-11-17zm571-129l11 41-8-52-12-12zm23-10l11 41-8-52-12-12z"/><path class=a44 d="M2250 292l12 45-9-51-11-16zm23-1l11 45-8-51-12-16zm23-1l11 46-8-52-12-16zm662-150l11 41-9-51-11-12zm23-10l11 42-9-51-11-13zm22-9l12 42-9-51-11-13z"/><path class=a45 d="M2182 297l11 45-9-50-11-16zm22-2l12 45-9-50-11-16zm23-2l12 45-9-50-11-16zm799-181l12 42-9-51-11-12zm23-8l11 42-8-51-12-13zm23-8l11 42-8-51-12-13z"/><path class=a37 d="M2590 306l11-18-8 5-12 48zm23-3l11-19-9 5-11 49zm22-4l12-20-9 5-11 49zm23-6l12-21-9 6-11 49zm23-8l11-21-8 6-12 50z"/><path class=a38 d="M2544 307l11-16-8 6-12 46zm23 0l11-17-8 6-12 46zm137-31l11-22-8 7-12 50zm23-10l11-22-9 6-11 52z"/><path class=a39 d="M2498 305l12-16-9 7-11 46zm23 2l12-17-9 7-11 46zm229-52l11-23-9 8-11 51zm22-12l12-23-9 8-11 52z"/><path class=a40 d="M2476 303l11-16-9 9-11 45zm319-72l12-23-9 9-11 51zm23-12l11-23-8 9-12 52z"/><path class=a41 d="M2841 207l11-23-8 9-12 52zm23-13l11-22-9 10-11 52z"/><path class=a42 d="M2886 183l12-23-9 11-11 51zm23-12l12-22-9 11-11 51z"/><path class=a43 d="M2932 160l12-22-9 12-12 51zm23-10l11-22-8 12-12 51z"/><path class=a44 d="M2978 140l11-22-8 12-12 51zm23-10l11-21-9 12-11 51zm22-9l12-21-9 12-11 51z"/><path class=a33 d="M2576 365l11-47-9-28-11 17zm22-1l12-47-9-29-11 18zm23-3l12-48-9-29-11 19zm23-4l11-49-8-29-12 20zm23-6l11-50-8-29-12 21zm23-8l11-50-9-29-11 21zm22-9l12-52-9-28-11 22z"/><path class=a34 d="M2530 363l11-45-8-28-12 17zm23 1l11-45-9-28-11 16zm182-41l12-52-9-27-11 22zm23-12l12-52-9-27-11 23z"/><path class=a35 d="M2484 358l12-44-9-27-11 16zm23 3l11-45-8-27-12 16zm274-62l11-53-8-26-12 23zm23-13l11-53-8-25-12 23z"/><path class=a36 d="M2461 356l12-45-9-25-11 16zm172-43l11 44-9-58-11-15zm22-5l12 43-9-58-11-14zm172-35l11-53-9-24-11 23z"/><path class=a37 d="M2416 351l11-45-8-24-12 16zm23 2l11-45-9-24-11 16zm125-34l12 46-9-58-12-16zm23-1l11 46-8-58-12-16zm23-1l11 44-8-58-12-15zm68-16l12 42-9-58-11-13zm23-8l11 41-8-58-12-12zm23-11l11 41-8-57-12-12zm125-22l12-52-9-24-11 23zm23-12l12-53-9-23-11 22z"/><path class=a38 d="M2370 348l12-46-9-23-12 17zm23 1l11-45-8-24-12 17zm125-33l12 47-9-56-11-18zm23 2l12 46-9-57-11-17zm206-47l11 40-8-56-12-11zm23-12l11 40-9-56-11-11zm125-24l11-52-8-23-12 23zm23-11l11-52-8-23-12 22z"/><path class=a39 d="M2324 346l12-46-9-22-11 17zm23 1l12-46-9-23-11 17zm149-33l11 47-9-56-11-18zm296-68l12 40-9-55-11-11zm149-34l11-51-8-23-12 22zm23-11l11-51-9-22-11 22z"/><path class=a40 d="M2279 347l11-47-8-21-12 17zm23-1l11-46-9-22-11 17zm148-38l11 48-8-54-12-18zm23 3l11 47-8-55-12-17zm342-78l12 40-9-54-11-11zm23-13l11 40-8-53-12-11zm148-29l12-51-9-22-11 22zm23-10l12-51-9-21-11 21z"/><path class=a41 d="M2188 353l11-47-9-21-11 18zm22-2l12-47-9-21-11 17zm23-2l12-47-9-21-11 18zm23-1l11-47-8-22-12 18zm148-44l12 47-9-53-11-18zm23 2l12 47-9-53-11-18zm434-98l11 40-8-54-12-10zm23-13l11 40-9-52-11-11zm148-23l11-51-8-21-12 21zm23-9l11-51-8-21-12 21zm23-9l11-50-9-21-11 21z"/><path class=a42 d="M2359 301l11 47-9-52-11-18zm23 1l11 47-9-52-11-18zm524-119l12 41-9-53-11-11zm23-11l12 40-9-52-11-11z"/><path class=a43 d="M2313 300l11 46-8-51-12-17zm23 0l11 47-8-52-12-17zm616-139l12 40-9-51-11-12zm23-11l11 41-8-51-12-12z"/><path class=a44 d="M2245 302l11 46-9-51-11-16zm22-1l12 46-9-51-11-17zm23-1l12 46-9-51-11-16zm708-160l11 41-8-51-12-12zm23-10l11 42-9-51-11-12zm22-9l12 42-9-51-11-12z"/><path class=a45 d="M2199 306l11 45-8-51-12-15zm23-2l11 45-8-50-12-16zm844-192l12 42-9-50-11-13zm23-8l11 42-8-50-12-13z"/><path class=a36 d="M2584 331l12-17-9 4-11 47zm23-1l11-18-8 5-12 47zm23-2l11-19-8 4-12 48zm23-4l11-20-9 4-11 49zm22-6l12-21-9 4-11 50zm23-8l12-22-9 5-11 50zm23-10l12-23-9 5-12 52z"/><path class=a37 d="M2538 327l12-15-9 6-11 45zm23 3l12-17-9 6-11 45zm183-42l11-23-8 6-12 52zm23-12l11-24-8 7-12 52z"/><path class=a38 d="M2516 325l11-16-9 7-11 45zm274-63l11-23-9 7-11 53z"/><path class=a39 d="M2493 321l11-15-8 8-12 44zm319-72l12-24-9 8-11 53zm23-14l12-23-9 8-11 53z"/><path class=a40 d="M2858 222l11-24-8 10-12 52z"/><path class=a41 d="M2881 209l11-24-8 10-12 53zm23-13l11-23-9 10-11 52z"/><path class=a42 d="M2927 184l11-23-9 11-11 52z"/><path class=a43 d="M2949 172l12-23-9 12-11 51zm23-11l12-23-9 12-11 51zm23-11l11-22-8 12-12 51z"/><path class=a44 d="M3018 140l11-22-8 12-12 51zm23-10l11-21-9 12-11 51z"/><path class=a31 d="M2616 389l11-46-9-31-11 18zm22-1l12-48-9-31-11 19zm23-4l12-49-9-31-11 20zm23-7l11-50-8-30-12 21zm23-8l11-51-8-30-12 22z"/><path class=a32 d="M2570 387l11-45-8-29-12 17zm23 2l11-45-8-30-12 17zm137-31l11-52-8-29-12 23zm23-12l11-53-9-28-11 23z"/><path class=a33 d="M2547 384l12-44-9-28-12 15zm228-51l12-53-9-28-11 24z"/><path class=a34 d="M2524 381l12-44-9-28-11 16zm274-62l12-54-9-26-11 23z"/><path class=a35 d="M2479 373l11-44-9-26-11 15zm22 4l12-44-9-27-11 15zm103-33l12 45-9-59-11-16zm23-1l11 45-8-60-12-16zm23-3l11 44-8-60-12-15zm23-5l11 42-9-59-11-14zm22-8l12 42-9-59-11-13zm23-9l12 40-9-58-11-12zm103-14l11-53-8-26-12 24zm23-14l11-53-8-25-12 23z"/><path class=a36 d="M2456 369l11-44-8-25-12 15zm103-29l11 47-9-57-11-18zm22 2l12 47-9-58-11-18zm160-36l12 40-9-58-11-11zm23-13l11 40-8-57-12-11zm103-17l11-53-9-25-11 24z"/><path class=a37 d="M2410 362l12-44-9-24-11 16zm23 3l11-44-8-24-12 15zm103-28l11 47-9-57-11-18zm251-57l11 39-8-57-12-10zm103-18l11-53-9-24-11 24zm22-14l12-52-9-23-11 23z"/><path class=a38 d="M2387 360l12-45-9-23-11 16zm126-27l11 48-8-56-12-19zm297-68l11 39-9-55-11-10zm125-29l12-52-9-23-11 23z"/><path class=a39 d="M2342 357l11-46-9-22-11 17zm23 1l11-45-9-23-11 16zm102-33l12 48-9-55-11-18zm23 4l11 48-8-56-12-18zm342-78l12 39-9-55-11-10zm23-14l12 39-9-54-11-10zm103-13l11-52-8-23-12 23zm23-12l11-52-8-22-12 23z"/><path class=a40 d="M2273 357l12-47-9-21-11 17zm23-1l11-46-8-22-12 17zm23 0l11-45-8-23-12 17zm125-35l12 48-9-54-11-18zm434-98l12 39-9-53-12-11zm126-22l11-51-9-22-11 22zm22-10l12-51-9-22-11 22zm23-10l12-51-9-21-11 21z"/><path class=a41 d="M2205 361l11-47-8-21-12 18zm23-2l11-47-9-21-11 18zm22-1l12-47-9-21-11 17zm149-43l11 47-8-52-12-18zm23 3l11 47-9-53-11-18zm479-109l11 39-8-52-12-11zm23-13l11 40-8-52-12-11zm148-24l12-51-9-21-12 21zm23-9l11-51-8-21-12 21z"/><path class=a42 d="M2376 313l11 47-8-52-12-18zm571-129l11 40-9-52-11-11z"/><path class=a43 d="M2330 311l12 46-9-51-11-18zm23 0l12 47-9-52-12-17zm616-139l12 40-9-51-11-12zm23-12l12 41-9-51-11-12z"/><path class=a44 d="M2262 311l11 46-8-51-12-16zm23-1l11 46-9-51-11-16zm22 0l12 46-9-51-11-17zm708-160l11 41-8-51-12-12zm23-10l11 41-8-51-12-12zm23-10l11 42-9-51-11-12z"/><path class=a45 d="M2216 314l12 45-9-50-11-16zm23-2l11 46-8-51-12-16zm845-191l11 42-9-51-11-12zm22-9l12 42-9-50-11-13z"/><path class=a34 d="M2624 357l12-17-9 3-11 46zm23-1l11-19-8 3-12 48zm23-4l11-20-8 3-12 49zm23-6l11-22-9 3-11 50zm23-10l11-22-9 4-11 51z"/><path class=a35 d="M2579 354l11-16-9 4-11 45zm22 2l12-16-9 4-11 45zm137-31l12-23-9 4-11 52zm23-13l12-24-9 5-11 53z"/><path class=a36 d="M2556 350l11-15-8 5-12 44zm228-52l11-24-8 6-12 53z"/><path class=a37 d="M2533 345l11-14-8 6-12 44zm274-62l11-25-8 7-12 54z"/><path class=a38 d="M2510 340l12-14-9 7-12 44zm320-72l11-25-9 8-11 53z"/><path class=a39 d="M2852 252l12-24-9 9-11 53zm23-15l12-24-9 10-11 53z"/><path class=a40 d="M2898 223l12-24-9 10-11 53z"/><path class=a41 d="M2921 209l11-24-8 11-12 52z"/><path class=a42 d="M2944 196l11-23-8 11-12 52zm23-13l11-23-9 12-11 52z"/><path class=a43 d="M2989 171l12-22-9 11-11 52zm23-11l12-22-9 12-11 51z"/><path class=a44 d="M3035 149l11-22-8 13-12 51zm23-10l11-21-8 12-12 51zm23-9l11-22-8 13-12 51z"/><path class=a29 d="M2656 417l11-48-9-32-11 19zm22-4l12-49-9-32-11 20zm23-6l12-51-9-32-11 22z"/><path class=a30 d="M2610 416l11-45-8-31-12 16zm23 2l11-46-8-32-12 17zm91-21l12-52-9-31-11 22zm23-12l11-53-8-30-12 23z"/><path class=a31 d="M2587 412l12-44-9-30-11 16zm183-41l11-54-8-29-12 24z"/><path class=a32 d="M2564 407l12-43-9-29-11 15zm229-51l11-54-9-28-11 24z"/><path class=a33 d="M2542 402l11-43-9-28-11 14zm102-30l12 45-9-61-11-16zm23-3l11 44-8-61-12-15zm23-5l11 43-8-61-12-14zm23-8l11 41-8-61-12-12zm102-16l12-55-9-27-11 25z"/><path class=a34 d="M2496 390l11-43-8-26-12 14zm23 6l11-43-8-27-12 14zm80-28l11 48-9-60-11-18zm22 3l12 47-9-61-11-17zm115-26l11 40-9-60-11-11zm22-13l12 39-9-59-11-10zm80-9l12-54-9-26-11 25zm23-16l12-54-9-25-12 24z"/><path class=a35 d="M2473 385l11-44-8-25-12 15zm103-21l11 48-8-58-12-19zm205-47l12 39-9-58-11-10zm103-26l11-53-8-25-12 24z"/><path class=a36 d="M2450 380l12-44-9-24-11 14zm103-21l11 48-8-57-12-19zm251-57l11 38-8-57-12-9zm103-26l11-53-8-24-12 24z"/><path class=a37 d="M2427 376l12-44-9-24-11 15zm103-23l12 49-9-57-11-19zm297-68l11 38-8-55-12-10zm103-23l11-53-9-24-11 24z"/><path class=a38 d="M2382 370l11-45-8-23-12 16zm23 2l11-44-9-24-11 16zm102-25l12 49-9-56-11-19zm343-78l11 38-9-55-11-9zm102-21l12-53-9-22-11 23zm23-13l12-52-9-23-11 23z"/><path class=a39 d="M2336 366l12-45-9-22-11 16zm23 2l11-46-8-22-12 16zm103-32l11 49-9-54-11-19zm22 5l12 49-9-55-11-19zm389-88l11 38-9-54-11-9zm22-15l12 38-9-53-11-10zm103-15l11-52-8-22-12 22zm23-12l11-51-8-22-12 22z"/><path class=a40 d="M2290 366l12-46-9-22-11 17zm23 0l12-46-9-22-11 17zm126-34l11 48-8-54-12-18zm479-109l12 39-9-53-11-10zm126-23l11-51-9-22-11 22zm23-10l11-51-9-21-11 21z"/><path class=a41 d="M2222 369l11-47-8-21-12 18zm23-1l11-47-8-21-12 17zm23-1l11-47-9-21-11 17zm148-39l11 48-8-53-12-19zm525-119l11 39-8-52-12-11zm148-29l12-50-9-22-11 22zm23-9l12-50-9-21-11 21z"/><path class=a42 d="M2370 322l12 48-9-52-11-18zm23 3l12 47-9-52-11-18zm571-130l11 40-8-52-12-10zm23-12l11 40-9-52-11-11z"/><path class=a43 d="M2325 320l11 46-8-51-12-17zm23 1l11 47-9-52-11-17zm661-150l12 40-9-51-11-11zm23-11l12 40-9-51-11-11z"/><path class=a44 d="M2256 321l12 46-9-51-11-16zm23-1l11 46-8-51-12-16zm23 0l11 46-8-51-12-17zm753-171l12 41-9-51-12-12zm23-10l11 41-8-50-12-12zm23-9l11 41-8-50-12-13z"/><path class=a45 d="M2233 322l12 46-9-51-11-16zm891-201l11 41-9-50-11-12z"/><path class=a32 d="M2641 387l12-17-9 2-11 46zm23 0l12-18-9 0-11 48zm23-4l12-20-9 1-12 49zm23-7l11-21-8 1-12 51zm23-10l11-23-8 2-12 52z"/><path class=a33 d="M2619 384l11-15-9 2-11 45zm137-31l11-24-9 3-11 53z"/><path class=a34 d="M2596 380l11-15-8 3-12 44zm182-42l12-25-9 4-11 54z"/><path class=a35 d="M2573 373l11-13-8 4-12 43zm228-51l12-26-9 6-11 54z"/><path class=a36 d="M2550 367l12-14-9 6-11 43zm274-62l11-26-8 6-12 55z"/><path class=a37 d="M2847 287l11-25-8 7-12 54z"/><path class=a38 d="M2870 270l11-25-8 8-12 54z"/><path class=a39 d="M2893 253l11-25-9 10-11 53z"/><path class=a40 d="M2915 238l12-25-9 10-11 53zm23-16l12-24-9 11-11 53z"/><path class=a41 d="M2961 208l11-24-8 11-12 53z"/><path class=a42 d="M2984 195l11-24-8 12-12 52zm23-13l11-23-9 12-11 52z"/><path class=a43 d="M3030 170l11-22-9 12-11 51zm22-11l12-22-9 12-11 51z"/><path class=a44 d="M3075 149l12-22-9 12-11 51zm23-10l11-22-8 13-12 50z"/><path class=a27 d="M2673 450l11-48-8-33-12 18zm23-4l11-49-8-34-12 20zm23-7l11-51-9-33-11 21z"/><path class=a28 d="M2627 445l12-44-9-32-11 15zm23 4l12-45-9-34-12 17zm91-21l12-52-9-33-11 23zm23-14l12-54-9-31-11 24z"/><path class=a29 d="M2604 439l12-43-9-31-11 15zm183-41l11-55-8-30-12 25z"/><path class=a30 d="M2582 432l11-42-9-30-11 13zm228-52l11-55-8-29-12 26z"/><path class=a31 d="M2559 424l11-42-8-29-12 14zm103-20l11 46-9-63-11-17zm22-2l12 44-9-63-11-14zm23-5l12 42-9-63-11-13zm23-9l11 40-8-62-12-11zm103-26l11-56-9-27-11 26z"/><path class=a32 d="M2536 416l11-42-8-28-12 14zm103-15l11 48-9-62-11-18zm114-25l11 38-8-61-12-10zm103-33l11-55-9-26-11 25z"/><path class=a33 d="M2616 396l11 49-8-61-12-19zm160-36l11 38-9-60-11-9z"/><path class=a34 d="M2513 408l12-42-9-27-11 14zm80-18l11 49-8-59-12-20zm205-47l12 37-9-58-11-9zm80-18l12-55-9-25-11 25z"/><path class=a35 d="M2468 394l11-43-9-24-11 14zm22 7l12-43-9-25-11 14zm80-19l12 50-9-59-11-20zm251-57l12 37-9-57-11-9zm80-17l12-55-9-25-11 25zm23-17l11-54-8-24-12 25z"/><path class=a36 d="M2445 389l11-44-9-23-11 14zm102-15l12 50-9-57-11-21zm297-68l12 37-9-56-12-8zm103-31l11-53-8-24-12 24z"/><path class=a37 d="M2422 384l11-43-8-24-12 15zm103-18l11 50-9-56-11-21zm342-78l11 37-8-55-12-8zm103-28l11-53-9-23-11 24z"/><path class=a38 d="M2376 378l12-45-9-22-11 16zm23 3l11-44-8-23-12 15zm103-23l11 50-8-55-12-20zm388-88l11 38-8-55-12-8zm102-24l12-52-9-23-11 24zm23-13l12-52-9-22-11 23z"/><path class=a39 d="M2353 376l12-45-9-22-11 16zm126-25l11 50-8-54-12-20zm434-98l11 38-9-53-11-10zm125-32l12-52-9-21-11 22z"/><path class=a40 d="M2285 375l11-46-8-21-12 17zm23 0l11-46-8-21-12 16zm23 0l11-45-9-22-11 17zm102-34l12 48-9-53-11-19zm23 4l12 49-9-53-12-19zm479-108l12 38-9-53-11-9zm23-15l12 38-9-52-11-10zm103-12l11-52-8-21-12 22zm23-11l11-51-8-21-12 22zm23-10l11-51-9-21-11 22z"/><path class=a41 d="M2239 378l12-47-9-21-11 17zm23-2l11-46-8-22-12 18zm148-39l12 47-9-52-11-18zm571-130l11 39-8-51-12-11zm148-28l12-50-9-21-11 21z"/><path class=a42 d="M2388 333l11 48-9-52-11-18zm616-139l11 39-8-51-12-11z"/><path class=a43 d="M2342 330l11 46-8-51-12-17zm23 1l11 47-8-51-12-18zm662-150l11 40-8-51-12-11zm23-12l11 41-9-51-11-11z"/><path class=a44 d="M2273 330l12 45-9-50-11-17zm23-1l12 46-9-51-11-16zm23 0l12 46-9-50-11-17zm753-171l12 41-9-50-11-12zm23-10l12 41-9-50-11-12zm23-10l11 41-8-50-12-12z"/><path class=a45 d="M2251 331l11 45-9-50-11-16zm890-202l11 42-8-51-12-12z"/><path class=a30 d="M2659 420l11-16-8 0-12 45zm23 1l11-18-9-1-11 48zm22-3l12-20-9-1-11 49zm23-7l12-22-9-1-11 51zm23-12l11-24-8 1-12 52z"/><path class=a31 d="M2636 415l11-14-8 0-12 44zm137-31l11-26-8 2-12 54z"/><path class=a32 d="M2613 407l11-13-8 2-12 43zm183-41l11-26-9 3-11 55z"/><path class=a33 d="M2590 399l12-13-9 4-11 42zm228-52l12-27-9 5-11 55z"/><path class=a34 d="M2567 389l12-12-9 5-11 42zm274-62l12-27-9 6-11 56z"/><path class=a36 d="M2864 307l12-26-9 7-11 55z"/><path class=a37 d="M2887 288l11-26-8 8-12 55z"/><path class=a38 d="M2910 270l11-26-8 9-12 55z"/><path class=a39 d="M2933 252l11-25-9 10-11 54z"/><path class=a40 d="M2955 236l12-25-9 11-11 53z"/><path class=a41 d="M2978 220l12-24-9 11-11 53zm23-14l12-24-9 12-12 52z"/><path class=a42 d="M3024 193l11-24-8 12-12 52z"/><path class=a43 d="M3047 180l11-23-8 12-12 52zm23-12l11-22-9 12-11 52z"/><path class=a44 d="M3092 157l12-22-9 13-11 51zm23-10l12-22-9 13-11 51z"/><path class=a25 d="M2667 484l12-45-9-35-11 16zm23 2l12-47-9-36-11 18zm23-3l11-49-8-36-12 20zm23-7l11-52-8-35-12 22zm23-13l11-54-9-34-11 24z"/><path class=a26 d="M2645 477l11-42-9-34-11 14zm136-31l12-55-9-33-11 26z"/><path class=a27 d="M2622 468l11-41-9-33-11 13zm182-41l12-57-9-30-11 26z"/><path class=a28 d="M2702 439l11 44-9-65-11-15zm22-5l12 42-9-65-11-13z"/><path class=a29 d="M2599 458l11-41-8-31-12 13zm80-19l11 47-8-65-12-17zm68-15l12 39-9-64-11-10zm80-18l12-57-9-29-12 27z"/><path class=a30 d="M2576 447l11-41-8-29-12 12zm80-12l11 49-8-64-12-19zm114-26l11 37-8-62-12-9zm80-25l11-56-8-28-12 27z"/><path class=a31 d="M2553 436l12-41-9-28-11 13zm80-9l12 50-9-62-12-21zm160-36l11 36-8-61-12-8zm80-28l11-56-8-26-12 26z"/><path class=a32 d="M2610 417l12 51-9-61-11-21zm206-47l11 36-9-59-11-7z"/><path class=a33 d="M2530 426l12-41-9-27-11 13zm57-20l12 52-9-59-11-22zm252-57l11 35-9-57-11-7zm57-6l11-56-9-25-11 26z"/><path class=a34 d="M2508 417l11-42-9-25-11 13zm57-22l11 52-9-58-11-22zm296-67l12 35-9-56-11-7zm57-4l12-56-9-24-11 26z"/><path class=a35 d="M2485 409l11-42-8-25-12 14zm456-104l12-54-9-24-11 25z"/><path class=a36 d="M2462 402l11-43-8-24-12 15zm80-17l11 51-8-56-12-22zm342-78l12 36-9-55-11-7zm80-19l11-54-8-23-12 25z"/><path class=a37 d="M2416 392l12-44-9-23-11 15zm23 5l12-44-9-23-12 14zm80-22l11 51-8-55-12-21zm388-88l11 37-8-54-12-8zm80-15l11-53-8-23-12 24zm23-14l11-54-8-22-12 24z"/><path class=a38 d="M2393 389l12-45-9-22-11 15zm103-22l12 50-9-54-11-21zm434-99l11 37-8-53-12-8zm103-24l11-53-9-22-11 24z"/><path class=a39 d="M2348 385l11-46-8-21-12 16zm23 1l11-45-9-22-11 16zm102-27l12 50-9-53-11-21zm480-108l11 37-9-52-11-9zm102-20l12-52-9-22-11 23zm23-12l12-52-9-21-11 22z"/><path class=a40 d="M2302 384l12-46-9-22-11 18zm23 0l11-46-8-21-12 16zm126-31l11 49-9-52-11-20zm524-119l12 38-9-52-11-9zm126-26l11-51-8-22-12 22zm23-10l11-51-8-22-12 22z"/><path class=a41 d="M2256 386l12-47-9-21-11 17zm23-2l12-46-9-21-11 17zm149-36l11 49-9-53-11-19zm570-129l12 39-9-52-11-10zm149-31l11-51-9-21-11 22z"/><path class=a42 d="M2382 341l11 48-8-52-12-18zm23 3l11 48-8-52-12-18zm616-140l12 40-9-51-11-11zm23-13l11 40-8-51-12-11z"/><path class=a43 d="M2336 338l12 47-9-51-11-17zm23 1l12 47-9-51-11-17zm708-160l11 40-8-51-12-11zm23-12l11 41-9-51-11-11z"/><path class=a44 d="M2291 338l11 46-8-50-12-17zm23 0l11 46-9-51-11-17zm798-181l12 41-9-51-11-12zm23-10l12 41-9-50-11-13z"/><path class=a45 d="M2268 339l11 45-8-50-12-16zm890-202l12 42-9-51-12-12z"/><path class=a27 d="M2699 460l11-17-8-4-12 47zm23-2l11-21-9-3-11 49zm22-9l12-23-9-2-11 52z"/><path class=a28 d="M2676 456l11-14-8-3-12 45zm91-21l12-25-9-1-11 54z"/><path class=a29 d="M2653 448l12-13-9 0-11 42zm137-31l12-27-9 1-12 55z"/><path class=a30 d="M2630 437l12-11-9 1-11 41zm183-41l11-29-8 3-12 57z"/><path class=a32 d="M2608 425l11-11-9 3-11 41zm228-52l11-29-8 5-12 57z"/><path class=a33 d="M2859 350l11-28-9 6-11 56z"/><path class=a35 d="M2881 327l12-27-9 7-11 56z"/><path class=a36 d="M2904 306l12-27-9 8-11 56z"/><path class=a37 d="M2927 285l11-26-8 9-12 56z"/><path class=a38 d="M2950 266l11-26-8 11-12 54z"/><path class=a39 d="M2973 249l11-26-9 11-11 54z"/><path class=a40 d="M2996 232l11-25-9 12-11 53z"/><path class=a41 d="M3018 217l12-24-9 11-11 54z"/><path class=a42 d="M3041 203l12-24-9 12-11 53zm23-13l11-23-8 12-12 52z"/><path class=a43 d="M3087 178l11-23-8 12-12 52z"/><path class=a44 d="M3110 166l11-22-9 13-11 51zm22-10l12-22-9 13-11 51z"/><path class=a22 d="M2707 527l12-46-9-38-11 17zm23-2l12-49-9-39-11 21zm23-9l11-53-8-37-12 23z"/><path class=a23 d="M2685 521l11-42-9-37-11 14zm91-20l11-56-8-35-12 25z"/><path class=a24 d="M2662 511l11-40-8-36-12 13zm137-31l11-57-8-33-12 27z"/><path class=a26 d="M2639 498l11-39-8-33-12 11zm57-19l11 48-8-67-12-18zm23 2l11 44-8-67-12-15zm23-5l11 40-9-67-11-12zm22-13l12 38-9-66-11-9zm58-6l11-58-9-32-11 29z"/><path class=a27 d="M2616 484l12-39-9-31-11 11zm57-13l12 50-9-65-11-21zm114-26l12 35-9-63-11-7zm57-13l12-58-9-30-11 29z"/><path class=a29 d="M2593 470l12-39-9-30-11 11zm57-11l12 52-9-63-11-22zm160-36l12 34-9-61-11-6zm57-16l12-58-9-27-11 28z"/><path class=a30 d="M2570 456l12-39-9-28-11 11zm58-11l11 53-9-61-11-23zm205-46l11 33-8-59-12-6zm57-16l11-57-8-26-12 27z"/><path class=a32 d="M2548 443l11-40-9-26-11 12zm57-12l11 53-8-59-12-24zm251-57l11 33-8-57-12-6zm57-13l11-57-8-25-12 27z"/><path class=a33 d="M2525 432l11-40-8-25-12 12zm57-15l11 53-8-58-12-23zm297-68l11 34-9-56-11-5zm57-10l11-56-9-24-11 26z"/><path class=a34 d="M2502 423l11-42-8-24-12 13zm456-104l12-55-9-24-11 26z"/><path class=a35 d="M2479 415l12-42-9-24-11 13zm80-12l11 53-8-56-12-23zm342-77l12 35-9-55-11-6zm80-25l12-55-9-23-11 26z"/><path class=a36 d="M2456 408l12-43-9-23-11 14zm80-16l12 51-9-54-11-22zm388-88l12 35-9-54-11-6zm80-20l12-54-9-23-11 25z"/><path class=a37 d="M2434 403l11-44-9-22-11 15zm79-22l12 51-9-53-11-22zm434-98l11 36-8-53-12-7zm80-15l11-53-8-22-12 24z"/><path class=a38 d="M2411 399l11-44-9-22-11 15zm639-145l11-53-8-22-12 24z"/><path class=a39 d="M2365 394l11-45-8-22-12 16zm23 2l11-45-8-22-12 16zm103-23l11 50-9-53-11-21zm479-109l11 37-8-52-12-9zm103-23l11-53-9-21-11 23zm22-13l12-52-9-21-11 23z"/><path class=a40 d="M2319 392l12-46-9-21-11 17zm23 1l12-46-9-21-11 16zm103-34l11 49-8-52-12-19zm23 6l11 50-8-53-12-20zm525-119l11 38-8-52-12-9zm23-16l11 38-9-51-11-10zm102-13l12-52-9-21-11 22zm23-11l12-51-9-21-12 22z"/><path class=a41 d="M2274 393l11-46-8-21-12 17zm23 0l11-47-9-21-11 17zm125-38l12 48-9-51-12-19zm616-140l12 39-9-51-11-10zm126-19l11-51-8-21-12 22z"/><path class=a42 d="M2399 351l12 48-9-51-11-19zm662-150l12 40-9-51-11-11z"/><path class=a43 d="M2354 347l11 47-9-51-11-17zm22 2l12 47-9-51-11-18zm708-161l11 40-8-50-12-11zm23-12l11 41-8-51-12-11z"/><path class=a44 d="M2285 347l12 46-9-51-11-16zm23-1l11 46-8-50-12-17zm23 0l11 47-8-51-12-17zm799-181l11 41-9-50-11-12zm23-10l11 41-9-50-11-12zm22-10l12 41-9-50-11-12z"/><path class=a24 d="M2716 503l11-17-8-5-12 46zm23-1l11-21-8-5-12 49zm23-10l11-24-9-5-11 53z"/><path class=a25 d="M2693 496l12-13-9-4-11 42zm92-21l11-28-9-2-11 56z"/><path class=a27 d="M2670 483l12-10-9-2-11 40zm137-31l12-29-9 0-11 57z"/><path class=a28 d="M2648 468l11-9-9 0-11 39zm182-42l12-30-9 3-11 58z"/><path class=a30 d="M2625 451l11-8-8 2-12 39zm228-52l11-30-8 5-12 58z"/><path class=a32 d="M2876 373l11-30-8 6-12 58z"/><path class=a34 d="M2899 347l11-29-9 8-11 57z"/><path class=a35 d="M2921 323l12-28-9 9-11 57z"/><path class=a36 d="M2944 301l12-28-9 10-11 56z"/><path class=a38 d="M2967 280l12-26-9 10-12 55z"/><path class=a39 d="M2990 261l11-26-8 11-12 55z"/><path class=a40 d="M3013 244l11-26-8 12-12 54z"/><path class=a41 d="M3036 228l11-25-9 12-11 53z"/><path class=a42 d="M3058 213l12-24-9 12-11 53zm23-14l12-23-9 12-11 53z"/><path class=a43 d="M3104 187l11-23-8 12-12 52zm23-12l11-23-8 13-12 52z"/><path class=a44 d="M3150 164l11-22-8 13-12 51z"/><path class=a18 d="M2748 572l11-50-9-41-11 21z"/><path class=a19 d="M2725 572l11-45-9-41-11 17zm45-10l12-55-9-39-11 24z"/><path class=a20 d="M2702 563l11-41-8-39-12 13zm91-21l12-58-9-37-11 28z"/><path class=a22 d="M2679 548l11-38-8-37-12 10zm57-21l12 45-9-70-12-16zm23-5l11 40-8-70-12-11zm57-6l11-60-8-33-12 29z"/><path class=a23 d="M2713 522l12 50-9-69-11-20zm69-15l11 35-8-67-12-7z"/><path class=a24 d="M2656 529l12-36-9-34-11 9zm183-41l11-61-8-31-12 30z"/><path class=a25 d="M2690 510l12 53-9-67-11-23zm115-26l11 32-9-64-11-5z"/><path class=a26 d="M2633 510l12-36-9-31-11 8zm35-17l11 55-9-65-11-24zm159-37l12 32-9-62-11-3zm35 3l11-61-9-29-11 30z"/><path class=a27 d="M2611 492l11-37-9-29-11 9zm273-62l12-60-9-27-11 30z"/><path class=a28 d="M2645 474l11 55-8-61-12-25zm205-47l12 32-9-60-11-3z"/><path class=a29 d="M2588 475l11-38-8-27-12 10zm319-72l12-59-9-26-11 29z"/><path class=a30 d="M2622 455l11 55-8-59-12-25zm251-57l11 32-8-57-12-4z"/><path class=a31 d="M2565 460l11-38-8-26-12 10zm365-82l12-58-9-25-12 28z"/><path class=a32 d="M2542 447l11-39-8-25-12 11zm57-10l12 55-9-57-11-25zm297-67l11 33-8-56-12-4zm57-16l11-57-8-24-12 28z"/><path class=a34 d="M2519 436l12-40-9-24-11 12zm57-14l12 53-9-55-11-24zm343-78l11 34-9-55-11-5zm57-11l11-56-8-23-12 26z"/><path class=a35 d="M2496 427l12-42-9-23-11 13zm57-19l12 52-9-54-11-23zm389-88l11 34-9-53-11-6zm57-7l11-55-9-23-11 26z"/><path class=a36 d="M2474 419l11-42-9-23-11 14zm547-124l12-54-9-23-11 26z"/><path class=a37 d="M2451 413l11-43-8-22-12 14zm80-17l11 51-9-53-11-22zm433-99l12 36-9-53-11-7zm80-18l12-54-9-22-11 25z"/><path class=a38 d="M2405 405l12-44-9-22-12 15zm23 4l11-44-8-22-12 15zm80-24l11 51-8-52-12-22zm479-108l12 36-9-52-11-7zm80-13l11-54-8-21-12 24zm23-14l11-53-8-21-12 23z"/><path class=a39 d="M2382 403l12-45-9-22-11 16zm103-26l11 50-8-52-12-21zm525-119l11 37-8-51-12-9zm103-21l11-52-9-21-11 23z"/><path class=a40 d="M2314 400l11-46-8-21-12 17zm23 0l11-45-9-22-11 17zm22 1l12-45-9-22-11 17zm103-31l12 49-9-51-11-20zm571-129l11 38-8-51-12-10zm103-16l11-52-9-21-11 23zm22-11l12-51-9-21-11 22zm23-10l12-51-9-21-11 22z"/><path class=a41 d="M2291 401l11-46-8-21-12 17zm148-36l12 48-9-51-11-19zm617-140l11 39-9-51-11-10z"/><path class=a42 d="M2394 358l11 47-9-51-11-18zm23 3l11 48-9-51-11-19zm661-151l12 40-9-51-11-10zm23-13l12 40-9-50-11-11z"/><path class=a43 d="M2371 356l11 47-8-51-12-18zm753-171l12 40-9-50-12-11z"/><path class=a44 d="M2302 355l12 45-9-50-11-16zm23-1l12 46-9-50-11-17zm23 1l11 46-8-50-12-18zm799-182l11 41-8-50-12-12zm23-10l11 41-8-50-12-12zm23-10l11 41-9-50-11-12z"/><path class=a20 d="M2756 552l12-21-9-9-11 50z"/><path class=a21 d="M2733 551l12-15-9-9-11 45zm46-11l11-27-8-6-12 55z"/><path class=a22 d="M2710 539l12-10-9-7-11 41zm92-21l11-31-8-3-12 58z"/><path class=a24 d="M2688 520l11-7-9-3-11 38zm137-31l11-33-9 0-11 60z"/><path class=a26 d="M2665 499l11-7-8 1-12 36zm182-42l12-33-9 3-11 61z"/><path class=a29 d="M2870 425l12-32-9 5-11 61z"/><path class=a31 d="M2893 395l11-32-8 7-12 60z"/><path class=a33 d="M2916 366l11-30-8 8-12 59z"/><path class=a34 d="M2939 340l11-30-8 10-12 58z"/><path class=a36 d="M2962 315l11-28-9 10-11 57z"/><path class=a37 d="M2984 293l12-27-9 11-11 56z"/><path class=a38 d="M3007 273l12-26-9 11-11 55z"/><path class=a40 d="M3030 254l11-25-8 12-12 54zm23-16l11-25-8 12-12 54z"/><path class=a41 d="M3076 222l11-24-9 12-11 54z"/><path class=a42 d="M3098 208l12-23-9 12-11 53z"/><path class=a43 d="M3121 195l12-23-9 13-11 52zm23-12l12-22-9 12-11 52z"/><path class=a44 d="M3167 172l11-22-8 13-12 51z"/><path class=a15 d="M2742 622l11-42-8-44-12 15zm23 3l11-50-8-44-12 21zm23-13l11-58-9-41-11 27z"/><path class=a17 d="M2719 607l12-37-9-41-12 10zm91-21l12-62-9-37-11 31z"/><path class=a19 d="M2696 584l12-34-9-37-11 7zm57-4l12 45-9-73-11-16zm23-5l12 37-9-72-11-9zm57-22l12-63-9-34-11 33z"/><path class=a20 d="M2731 570l11 52-9-71-11-22zm68-16l11 32-8-68-12-5z"/><path class=a22 d="M2673 560l12-34-9-34-11 7zm35-10l11 57-9-68-11-26zm114-26l11 29-8-64-12-2zm34-6l11-63-8-31-12 33z"/><path class=a24 d="M2651 535l11-34-9-30-11 6zm34-9l11 58-8-64-12-28zm160-36l11 28-9-61-11-1zm34-6l11-63-8-28-12 32z"/><path class=a26 d="M2628 513l11-35-8-28-12 7zm274-62l11-61-9-27-11 32z"/><path class=a27 d="M2662 501l11 59-8-61-12-28zm205-46l12 29-9-59-11-1z"/><path class=a28 d="M2605 493l11-36-8-27-12 8zm320-72l11-60-9-25-11 30z"/><path class=a29 d="M2639 478l12 57-9-58-11-27zm251-57l12 30-9-56-11-2z"/><path class=a30 d="M2582 476l12-38-9-25-11 9zm365-83l12-59-9-24-11 30z"/><path class=a31 d="M2616 457l12 56-9-56-11-27zm297-67l12 31-9-55-12-3z"/><path class=a32 d="M2559 461l12-39-9-24-11 10zm411-93l12-58-9-23-11 28z"/><path class=a33 d="M2536 449l12-40-9-24-11 12zm58-11l11 55-9-55-11-25zm342-77l11 32-8-53-12-4zm57-16l11-56-8-23-12 27z"/><path class=a35 d="M2514 438l11-41-9-22-11 12zm57-16l11 54-8-54-12-24zm388-88l11 34-8-53-12-5zm57-10l11-55-8-22-12 26z"/><path class=a36 d="M2491 430l11-42-8-22-12 13zm57-21l11 52-8-53-12-23zm434-99l11 35-9-52-11-6zm57-4l11-55-9-22-11 25z"/><path class=a37 d="M2445 418l12-44-9-21-11 14zm23 5l11-43-8-22-12 14zm593-135l12-54-9-21-11 25zm23-15l12-54-9-21-11 24z"/><path class=a38 d="M2422 414l12-44-9-22-11 15zm103-17l11 52-8-52-12-22zm479-108l12 35-9-51-11-7zm103-30l12-53-9-21-12 23z"/><path class=a39 d="M2377 409l11-45-8-21-12 16zm23 2l11-45-9-21-11 16zm102-23l12 50-9-51-11-21zm525-119l12 37-9-52-11-7zm103-24l11-52-8-21-12 23zm23-12l11-52-8-20-12 22z"/><path class=a40 d="M2331 408l11-46-8-21-12 17zm23 0l11-45-8-21-12 16zm125-28l12 50-9-51-11-21zm571-129l11 37-8-50-12-9zm126-29l11-51-9-21-11 22zm22-11l12-51-9-20-11 22z"/><path class=a41 d="M2308 409l12-47-9-20-11 17zm149-35l11 49-9-51-11-19zm616-140l11 39-8-51-12-9z"/><path class=a42 d="M2411 366l11 48-8-51-12-18zm23 4l11 48-8-51-12-19zm662-151l11 40-9-51-11-10zm23-13l11 39-9-50-11-10z"/><path class=a43 d="M2365 363l12 46-9-50-11-17zm23 1l12 47-9-50-11-18zm753-171l12 40-9-50-11-11zm23-12l12 41-9-50-11-11z"/><path class=a44 d="M2320 362l11 46-9-50-11-16zm22 0l12 46-9-50-11-17zm845-191l11 40-8-49-12-12zm23-11l11 42-8-50-12-12z"/><path class=a16 d="M2773 608l12-22-9-11-11 50z"/><path class=a17 d="M2751 603l11-12-9-11-11 42zm45-10l12-31-9-8-11 58z"/><path class=a19 d="M2728 583l11-5-8-8-12 37zm91-21l11-35-8-3-12 62z"/><path class=a22 d="M2705 556l11-3-8-3-12 34zm137-31l11-36-8 1-12 63z"/><path class=a25 d="M2865 486l11-36-9 5-11 63z"/><path class=a27 d="M2888 449l11-34-9 6-11 63z"/><path class=a30 d="M2910 415l12-34-9 9-11 61z"/><path class=a32 d="M2933 383l12-32-9 10-11 60z"/><path class=a34 d="M2956 354l11-30-8 10-12 59z"/><path class=a35 d="M2979 328l11-29-8 11-12 58z"/><path class=a37 d="M3002 305l11-28-9 12-11 56z"/><path class=a38 d="M3024 284l12-27-9 12-11 55z"/><path class=a39 d="M3047 264l12-25-9 12-11 55z"/><path class=a40 d="M3070 247l12-25-9 12-12 54z"/><path class=a41 d="M3093 231l11-24-8 12-12 54z"/><path class=a42 d="M3116 217l11-24-8 13-12 53z"/><path class=a43 d="M3139 203l11-23-9 13-11 52zm22-12l12-23-9 13-11 52z"/><path class=a44 d="M3184 180l12-23-9 14-11 51z"/><path class=a10 d="M2782 685l11-52-8-47-12 22z"/><path class=a11 d="M2759 677l12-39-9-47-11 12zm46-10l11-63-8-42-12 31z"/><path class=a14 d="M2736 651l12-32-9-41-11 5zm35-13l11 47-9-77-11-17zm22-5l12 34-9-74-11-7zm35-3l11-67-9-36-11 35z"/><path class=a16 d="M2748 619l11 58-8-74-12-25zm68-15l12 26-9-68-11 0z"/><path class=a17 d="M2714 619l11-30-9-36-11 3zm136-31l12-68-9-31-11 36z"/><path class=a19 d="M2725 589l11 62-8-68-12-30zm114-26l11 25-8-63-12 2z"/><path class=a20 d="M2691 587l11-30-9-32-11 3zm182-42l12-66-9-29-11 36z"/><path class=a22 d="M2702 557l12 62-9-63-12-31zm160-37l11 25-8-59-12 3z"/><path class=a23 d="M2668 557l11-31-8-29-12 4zm228-51l12-65-9-26-11 34z"/><path class=a25 d="M2645 532l11-34-8-27-12 6zm34-6l12 61-9-59-11-31zm206-47l11 27-8-57-12 1zm34-10l11-62-8-26-12 34z"/><path class=a28 d="M2622 509l12-35-9-25-11 6zm34-11l12 59-9-56-11-30zm252-57l11 28-9-54-11 0zm34-4l11-62-8-24-12 32z"/><path class=a30 d="M2599 490l12-37-9-24-11 8zm35-16l11 58-9-55-11-28zm296-67l12 30-9-54-11-2zm35 0l11-60-9-23-11 30z"/><path class=a31 d="M2577 473l11-38-9-23-11 10zm410-93l12-58-9-23-11 29z"/><path class=a32 d="M2611 453l11 56-8-54-12-26zm342-78l12 32-9-53-11-3z"/><path class=a33 d="M2554 460l11-40-8-22-12 10zm456-104l12-57-9-22-11 28z"/><path class=a34 d="M2531 449l11-41-8-22-12 12zm57-14l11 55-8-53-12-25zm388-88l11 33-8-52-12-4zm57-12l11-56-8-22-12 27z"/><path class=a35 d="M2508 439l12-41-9-22-12 13zm548-124l11-55-8-21-12 25z"/><path class=a36 d="M2485 432l12-43-9-21-11 14zm80-12l12 53-9-51-11-24zm434-98l11 34-8-51-12-6zm80-24l11-55-8-21-12 25z"/><path class=a37 d="M2462 426l12-43-9-21-11 14zm80-18l12 52-9-52-11-22zm480-109l11 36-9-51-11-7zm80-18l11-53-9-21-11 24z"/><path class=a38 d="M2440 422l11-44-9-21-11 15zm684-155l12-53-9-21-11 24z"/><path class=a39 d="M2394 417l11-45-8-21-12 16zm23 2l11-45-8-21-12 16zm103-21l11 51-9-51-11-22zm524-119l12 36-9-51-11-7zm103-26l12-52-9-21-11 23zm23-12l11-52-8-21-12 23z"/><path class=a40 d="M2348 416l12-46-9-21-11 17zm23 0l12-46-9-20-11 16zm126-27l11 50-9-50-11-21zm570-129l12 38-9-51-11-8zm126-30l11-52-8-21-12 23zm23-11l11-51-9-21-11 22z"/><path class=a41 d="M2326 416l11-46-9-21-11 17zm125-38l11 48-8-50-12-19zm23 5l11 49-8-50-12-20zm616-140l12 38-9-50-11-9zm23-15l11 39-8-50-12-10z"/><path class=a42 d="M2428 374l12 48-9-50-11-19zm708-160l11 39-8-50-12-10z"/><path class=a43 d="M2383 370l11 47-9-50-11-17zm22 2l12 47-9-50-11-18zm754-171l11 40-9-50-11-11zm22-12l12 41-9-50-11-12z"/><path class=a44 d="M2337 370l11 46-8-50-12-17zm23 0l11 46-8-50-12-17zm844-192l12 41-9-50-11-12zm23-10l11 41-8-50-12-12z"/><path class=a12 d="M2791 672l11-24-9-15-11 52z"/><path class=a13 d="M2768 659l11-6-8-15-12 39zm45-10l12-38-9-7-11 63z"/><path class=a16 d="M2745 625l11 2-8-8-12 32zm91-20l12-41-9-1-11 67z"/><path class=a20 d="M2859 557l12-41-9 4-12 68z"/><path class=a23 d="M2882 511l11-38-8 6-12 66z"/><path class=a26 d="M2905 469l11-36-8 8-12 65z"/><path class=a29 d="M2928 431l11-34-9 10-11 62z"/><path class=a31 d="M2950 397l12-32-9 10-11 62z"/><path class=a33 d="M2973 367l12-31-9 11-11 60z"/><path class=a35 d="M2996 340l11-30-8 12-12 58z"/><path class=a37 d="M3019 315l11-28-8 12-12 57z"/><path class=a38 d="M3042 293l11-27-9 13-11 56z"/><path class=a39 d="M3065 274l11-27-9 13-11 55z"/><path class=a40 d="M3087 256l12-26-9 13-11 55z"/><path class=a41 d="M3110 239l12-24-9 13-11 53z"/><path class=a42 d="M3133 225l11-24-8 13-12 53zm23-14l11-23-8 13-12 52z"/><path class=a43 d="M3179 199l11-23-9 13-11 52z"/><path class=a44 d="M3201 187l12-22-9 13-11 52z"/><path class=a5 d="M2799 753l12-56-9-49-11 24z"/><path class=a7 d="M2776 732l12-30-9-49-11 6zm46-10l11-72-8-39-12 38z"/><path class=a10 d="M2788 702l11 51-8-81-12-19zm23-5l11 25-9-73-11-1z"/><path class=a11 d="M2754 689l11-24-9-38-11-2zm91-20l11-74-8-31-12 41z"/><path class=a13 d="M2765 665l11 67-8-73-12-32zm68-15l12 19-9-64-11 6z"/><path class=a15 d="M2731 646l11-25-8-31-12-2zm137-31l11-71-8-28-12 41z"/><path class=a17 d="M2742 621l12 68-9-64-11-35zm114-26l12 20-9-58-11 7z"/><path class=a19 d="M2708 608l11-27-8-28-12-1zm183-41l11-69-9-25-11 38z"/><path class=a21 d="M2719 581l12 65-9-58-11-35zm160-37l12 23-9-56-11 5z"/><path class=a22 d="M2685 575l12-30-9-26-12 2zm228-52l12-66-9-24-11 36z"/><path class=a24 d="M2697 545l11 63-9-56-11-33zm205-47l11 25-8-54-12 4z"/><path class=a25 d="M2662 546l12-32-9-24-11 3zm274-62l12-64-9-23-11 34z"/><path class=a27 d="M2639 522l12-35-9-23-11 6zm35-8l11 61-9-54-11-31zm251-57l11 27-8-53-12 2zm34-8l11-62-8-22-12 32z"/><path class=a29 d="M2617 501l11-36-9-23-11 8zm365-83l11-60-8-22-12 31z"/><path class=a30 d="M2651 487l11 59-8-53-12-29zm297-67l11 29-9-52-11 0z"/><path class=a31 d="M2594 484l11-38-8-22-12 9zm411-93l11-59-9-22-11 30z"/><path class=a32 d="M2628 465l11 57-8-52-12-28zm342-78l12 31-9-51-11-2z"/><path class=a33 d="M2571 469l11-39-8-22-12 11zm457-103l11-58-9-21-11 28z"/><path class=a34 d="M2548 458l12-41-9-21-11 11zm57-12l12 55-9-51-11-26zm388-88l12 33-9-51-11-4zm57-14l12-57-9-21-11 27z"/><path class=a35 d="M2525 448l12-42-9-21-11 13zm548-124l12-56-9-21-11 27z"/><path class=a36 d="M2503 440l11-42-9-21-11 13zm79-10l12 54-9-51-11-25zm434-98l12 34-9-51-12-5zm80-26l11-55-8-21-12 26z"/><path class=a37 d="M2480 434l11-43-9-21-11 14zm80-17l11 52-9-50-11-23zm479-109l11 36-8-51-12-6zm80-19l11-53-8-21-12 24z"/><path class=a38 d="M2457 430l11-44-8-21-12 15zm80-24l11 52-8-51-12-22zm525-119l11 37-8-50-12-8zm80-12l11-53-9-21-11 24z"/><path class=a39 d="M2411 424l12-45-9-20-11 16zm23 3l11-45-8-21-12 16zm730-166l12-53-9-20-11 23zm23-13l12-52-9-20-11 23z"/><path class=a40 d="M2366 423l11-46-9-21-11 17zm22 0l12-45-9-21-11 17zm126-25l11 50-8-50-12-21zm571-130l11 38-9-50-11-9zm125-31l12-52-9-20-12 22zm23-11l11-51-8-20-12 22z"/><path class=a41 d="M2343 423l11-46-8-21-12 18zm125-37l12 48-9-50-11-19zm23 5l12 49-9-50-12-20zm616-140l12 38-9-50-11-9zm23-15l12 39-9-50-11-10z"/><path class=a42 d="M2445 382l12 48-9-50-11-19zm708-160l11 39-8-50-12-10z"/><path class=a43 d="M2400 378l11 46-8-49-12-18zm23 1l11 48-9-50-11-18zm753-171l11 40-8-49-12-11zm23-12l11 41-9-50-11-11z"/><path class=a44 d="M2354 377l12 46-9-50-11-17zm23 0l11 46-8-49-12-18zm845-192l11 41-9-49-11-12zm22-10l12 41-9-49-11-12z"/><path class=a6 d="M2808 745l11-34-8-14-12 56z"/><path class=a10 d="M2785 708l11 8-8-14-12 30zm46-10l11-49-9 1-11 72z"/><path class=a14 d="M2854 636l11-47-9 6-11 74z"/><path class=a19 d="M2876 579l12-43-9 8-11 71z"/><path class=a22 d="M2899 528l12-40-9 10-11 69z"/><path class=a26 d="M2922 483l11-37-8 11-12 66z"/><path class=a28 d="M2945 443l11-35-8 12-12 64z"/><path class=a31 d="M2968 408l11-33-9 12-11 62z"/><path class=a33 d="M2990 377l12-32-9 13-11 60z"/><path class=a35 d="M3013 349l12-30-9 13-11 59z"/><path class=a36 d="M3036 324l12-29-9 13-11 58z"/><path class=a38 d="M3059 302l11-28-8 13-12 57z"/><path class=a39 d="M3082 282l11-27-8 13-12 56z"/><path class=a40 d="M3105 263l11-25-9 13-11 55z"/><path class=a41 d="M3127 247l12-25-9 14-11 53z"/><path class=a42 d="M3150 232l12-24-9 14-11 53zm23-14l11-23-8 13-12 53z"/><path class=a43 d="M3196 206l11-23-8 13-12 52z"/><path class=a0 d="M2816 831l12-85-9-35-11 34z"/><path class=a5 d="M2794 765l11-14-9-35-11-8zm45-10l12-80-9-26-11 49z"/><path class=a6 d="M2805 751l11 80-8-86-12-29zm23-5l11 9-8-57-12 13z"/><path class=a10 d="M2771 709l11-19-8-25-12-9zm91-20l12-77-9-23-11 47z"/><path class=a12 d="M2851 675l11 14-8-53-12 13z"/><path class=a15 d="M2748 661l11-23-8-23-12-5zm137-31l11-72-8-22-12 43z"/><path class=a16 d="M2874 612l11 18-9-51-11 10z"/><path class=a18 d="M2725 620l12-26-9-22-11-3zm183-41l11-70-8-21-12 40z"/><path class=a20 d="M2896 558l12 21-9-51-11 8z"/><path class=a22 d="M2702 585l12-29-9-22-11 1zm229-52l11-66-9-21-11 37z"/><path class=a24 d="M2919 509l12 24-9-50-11 5z"/><path class=a25 d="M2680 555l11-31-9-21-11 2zm273-62l12-64-9-21-11 35z"/><path class=a27 d="M2657 530l11-34-8-21-12 5zm34-6l11 61-8-50-12-32zm251-57l11 26-8-50-12 3zm34-9l12-62-9-21-11 33z"/><path class=a29 d="M2634 509l11-36-8-20-12 6zm365-82l12-61-9-21-12 32z"/><path class=a30 d="M2668 496l12 59-9-50-11-30zm297-67l11 29-8-50-12 0z"/><path class=a31 d="M2611 492l11-38-8-21-12 9zm411-93l11-59-8-21-12 30z"/><path class=a32 d="M2645 473l12 57-9-50-11-27zm343-77l11 31-9-50-11-2z"/><path class=a33 d="M2588 477l12-39-9-21-11 10zm457-103l11-58-8-21-12 29z"/><path class=a34 d="M2565 465l12-40-9-21-11 11zm57-11l12 55-9-50-11-26zm389-88l11 33-9-50-11-4zm57-15l11-56-9-21-11 28z"/><path class=a35 d="M2543 455l11-41-9-21-11 13zm547-124l12-55-9-21-11 27z"/><path class=a36 d="M2520 448l11-43-8-20-12 13zm80-10l11 54-9-50-11-25zm433-98l12 34-9-50-11-5zm80-27l12-54-9-21-11 25z"/><path class=a37 d="M2497 441l11-43-8-20-12 14zm80-16l11 52-8-50-12-23zm479-109l12 35-9-49-11-7zm80-19l11-54-8-21-12 25z"/><path class=a38 d="M2474 437l12-44-9-20-11 14zm80-23l11 51-8-50-12-22zm525-119l11 36-8-49-12-8zm80-13l11-53-8-21-12 24z"/><path class=a39 d="M2428 431l12-45-9-20-11 16zm23 3l12-45-9-20-11 15zm731-166l11-52-9-21-11 23zm23-13l11-51-9-21-11 23z"/><path class=a40 d="M2383 430l11-46-8-21-12 17zm23 0l11-45-9-21-11 17zm125-25l12 50-9-49-11-21zm571-129l11 37-8-50-12-8zm125-32l12-52-9-20-11 22zm23-11l12-51-9-20-11 22z"/><path class=a41 d="M2360 430l11-46-8-21-12 18zm126-37l11 48-9-49-11-19zm22 5l12 50-9-50-11-20zm617-139l11 38-9-50-11-9zm22-16l12 39-9-50-11-10z"/><path class=a42 d="M2463 389l11 48-8-50-12-18zm707-160l12 39-9-50-11-10z"/><path class=a43 d="M2417 385l11 46-8-49-12-18zm23 1l11 48-8-50-12-18zm753-170l12 39-9-49-12-11zm23-12l11 40-8-50-12-11z"/><path class=a44 d="M2371 384l12 46-9-50-11-17zm23 0l12 46-9-49-11-18zm845-192l11 41-8-49-12-12zm23-10l11 41-9-49-11-12z"/><path class=a10 d="M2848 705l11-49-8 19-12 80z"/><path class=a14 d="M2871 642l11-46-8 16-12 77z"/><path class=a19 d="M2894 585l11-43-9 16-11 72z"/><path class=a22 d="M2916 535l12-40-9 14-11 70z"/><path class=a26 d="M2939 490l12-38-9 15-11 66z"/><path class=a28 d="M2962 450l11-35-8 14-12 64z"/><path class=a31 d="M2985 415l11-33-8 14-12 62z"/><path class=a33 d="M3008 383l11-31-8 14-12 61z"/><path class=a35 d="M3031 356l11-30-9 14-11 59z"/><path class=a36 d="M3053 331l12-29-9 14-11 58z"/><path class=a38 d="M3076 308l12-27-9 14-11 56z"/><path class=a39 d="M3099 288l11-26-8 14-12 55z"/><path class=a40 d="M3122 270l11-25-8 14-12 54z"/><path class=a41 d="M3145 254l11-25-9 14-11 54z"/><path class=a42 d="M3168 239l11-24-9 14-11 53zm22-14l12-23-9 14-11 52z"/><path class=a43 d="M3213 213l12-23-9 14-11 51z"/><path class=a5 d="M2834 767l11-56-8 7-12 34z"/><path class=a7 d="M2811 746l11-30-8 7-12-8zm46-11l11-72-9-7-11 49z"/><path class=a10 d="M2845 711l12 24-9-30-11 13z"/><path class=a11 d="M2788 703l12-24-9-7-12-9zm91-21l12-73-9-13-11 46z"/><path class=a13 d="M2868 663l11 19-8-40-12 14z"/><path class=a15 d="M2765 660l12-25-9-13-11-5zm137-31l12-71-9-16-11 43z"/><path class=a17 d="M2891 609l11 20-8-44-12 11z"/><path class=a19 d="M2742 622l12-28-9-15-11-3zm183-42l11-68-8-17-12 40z"/><path class=a21 d="M2914 558l11 22-9-45-11 7z"/><path class=a22 d="M2720 588l11-30-9-17-11 1zm228-51l11-67-8-18-12 38z"/><path class=a24 d="M2936 512l12 25-9-47-11 5z"/><path class=a25 d="M2697 560l11-33-8-18-12 3zm274-62l11-64-9-19-11 35z"/><path class=a27 d="M2674 535l11-34-8-19-12 5zm285-65l12 28-9-48-11 2zm35-7l11-62-9-19-11 33z"/><path class=a29 d="M2651 515l12-37-9-19-11 7zm365-83l12-60-9-20-11 31z"/><path class=a30 d="M2982 434l12 29-9-48-12 0z"/><path class=a31 d="M2628 497l12-37-9-20-11 9zm411-93l12-59-9-19-11 30z"/><path class=a32 d="M2663 478l11 57-9-48-11-28zm342-77l11 31-8-49-12-1z"/><path class=a33 d="M2606 483l11-39-9-20-11 10zm456-104l11-57-8-20-12 29z"/><path class=a34 d="M2583 471l11-40-9-20-11 11zm57-11l11 55-8-49-12-26zm388-88l11 32-8-48-12-4zm57-15l11-56-8-20-12 27z"/><path class=a35 d="M2560 462l11-42-8-20-12 13zm548-125l11-55-9-20-11 26z"/><path class=a36 d="M2537 454l11-43-8-20-12 14zm80-10l11 53-8-48-12-25zm434-99l11 34-9-48-11-5zm79-26l12-54-9-20-11 25z"/><path class=a37 d="M2514 448l12-43-9-20-11 14zm80-17l12 52-9-49-12-23zm479-109l12 35-9-49-11-6zm80-19l12-54-9-20-11 25z"/><path class=a38 d="M2491 443l12-44-9-20-11 15zm80-23l12 51-9-49-11-22zm525-119l12 36-9-49-11-7zm80-13l12-53-9-20-11 24z"/><path class=a39 d="M2446 438l11-45-8-20-12 16zm23 2l11-44-9-21-11 16zm730-165l11-53-8-20-12 23zm23-13l11-52-8-20-12 23z"/><path class=a40 d="M2400 437l11-46-8-21-12 17zm23 0l11-46-8-20-12 17zm125-26l12 51-9-49-11-22zm571-129l11 37-8-49-12-8zm126-31l11-52-9-20-11 22zm22-11l12-51-9-21-11 22z"/><path class=a41 d="M2377 437l12-46-9-21-11 18zm126-38l11 49-8-49-12-20zm23 6l11 49-9-49-11-20zm616-140l11 38-8-49-12-9zm23-16l11 39-8-49-12-10z"/><path class=a42 d="M2480 396l11 47-8-49-12-19zm708-161l11 40-9-50-11-10z"/><path class=a43 d="M2434 391l12 47-9-49-11-18zm23 2l12 47-9-49-11-18zm753-171l12 40-9-49-11-11zm23-12l12 41-9-50-11-11z"/><path class=a44 d="M2389 391l11 46-9-50-11-17zm22 0l12 46-9-49-11-18zm845-192l11 41-8-50-12-11zm23-10l11 41-8-49-12-13z"/><path class=a16 d="M2888 625l11-41-8 25-12 73z"/><path class=a20 d="M2911 577l11-40-8 21-12 71z"/><path class=a23 d="M2934 531l11-38-9 19-11 68z"/><path class=a26 d="M2956 489l12-36-9 17-11 67z"/><path class=a29 d="M2979 452l12-35-9 17-11 64z"/><path class=a31 d="M3002 418l12-33-9 16-11 62z"/><path class=a33 d="M3025 387l11-31-8 16-12 60z"/><path class=a35 d="M3048 360l11-29-8 14-12 59z"/><path class=a37 d="M3071 336l11-28-9 14-11 57z"/><path class=a38 d="M3093 314l12-27-9 14-11 56z"/><path class=a39 d="M3116 294l12-26-9 14-11 55z"/><path class=a40 d="M3139 276l12-25-9 14-12 54z"/><path class=a41 d="M3162 260l11-25-8 14-12 54z"/><path class=a42 d="M3185 245l11-24-8 14-12 53zm23-13l11-24-9 14-11 53z"/><path class=a10 d="M2851 713l11-53-8 8-12 25z"/><path class=a11 d="M2828 705l12-39-9 7-11 7zm46-11l11-63-8 1-12 37z"/><path class=a14 d="M2805 678l12-31-9 0-11-1zm92-20l11-68-9-6-11 41z"/><path class=a16 d="M2885 631l12 27-9-33-11 7z"/><path class=a17 d="M2783 646l11-30-9-6-11-2zm136-31l12-67-9-11-11 40z"/><path class=a19 d="M2908 590l11 25-8-38-12 7z"/><path class=a20 d="M2760 614l11-30-9-11-11 0zm182-41l12-67-9-13-11 38z"/><path class=a22 d="M2931 548l11 25-8-42-12 6z"/><path class=a23 d="M2737 585l11-32-8-13-12 1zm228-52l12-65-9-15-12 36z"/><path class=a25 d="M2714 559l11-34-8-15-12 4zm240-53l11 27-9-44-11 4zm34-9l11-63-8-17-12 35z"/><path class=a28 d="M2691 536l12-35-9-16-11 5zm286-68l11 29-9-45-11 1zm34-4l11-61-8-18-12 33z"/><path class=a30 d="M2668 517l12-37-9-17-11 7zm331-83l12 30-9-46-11-1zm35 0l11-59-9-19-11 31z"/><path class=a31 d="M2646 501l11-39-9-18-11 9zm410-93l12-59-9-18-11 29z"/><path class=a32 d="M2680 480l11 56-8-46-12-27zm342-77l12 31-9-47-11-2z"/><path class=a33 d="M2623 487l11-39-8-19-12 10zm456-103l12-58-9-18-11 28z"/><path class=a34 d="M2600 476l11-41-8-19-12 12zm57-14l11 55-8-47-12-26zm388-87l11 33-8-48-12-4zm57-13l11-56-8-19-12 27z"/><path class=a35 d="M2577 467l12-42-9-19-12 12zm548-125l11-55-8-19-12 26z"/><path class=a36 d="M2554 459l12-42-9-20-11 14zm80-11l12 53-9-48-11-24zm434-99l11 35-8-48-12-5zm80-24l11-54-8-20-12 25z"/><path class=a37 d="M2531 454l12-44-9-19-11 14zm80-19l12 52-9-48-11-23zm480-109l11 36-9-48-11-6zm80-17l11-54-9-20-11 25z"/><path class=a38 d="M2509 449l11-44-9-20-11 15zm684-155l12-53-9-20-11 24z"/><path class=a39 d="M2463 444l11-45-8-20-12 16zm23 2l11-44-8-20-12 15zm103-21l11 51-9-48-11-22zm524-119l12 36-9-48-11-7zm103-25l12-53-9-20-11 24zm23-13l11-52-8-20-12 23z"/><path class=a40 d="M2417 443l12-46-9-20-11 17zm23 0l12-45-9-20-11 16zm126-26l11 50-9-49-11-21zm570-130l12 38-9-49-11-8zm126-30l11-52-8-20-12 23zm23-11l11-51-9-20-11 22z"/><path class=a41 d="M2394 443l12-46-9-20-11 17zm126-38l11 49-8-49-12-20zm23 5l11 49-8-48-12-20zm616-139l12 38-9-49-11-9zm23-16l11 39-8-49-12-10z"/><path class=a42 d="M2497 402l12 47-9-49-11-18zm708-161l11 40-8-49-12-11z"/><path class=a43 d="M2452 398l11 46-9-49-11-17zm22 1l12 47-9-49-11-18zm754-171l11 40-9-49-11-11zm22-12l12 41-9-49-11-12z"/><path class=a44 d="M2406 397l11 46-8-49-12-17zm23 0l11 46-8-49-12-17zm844-192l12 41-9-49-11-12zm23-10l12 41-9-49-12-12z"/><path class=a25 d="M2951 520l11-35-8 21-12 67z"/><path class=a27 d="M2974 483l11-34-8 19-12 65z"/><path class=a30 d="M2997 449l11-33-9 18-11 63z"/><path class=a32 d="M3019 417l12-32-9 18-11 61z"/><path class=a34 d="M3042 388l12-30-9 17-11 59z"/><path class=a35 d="M3065 362l11-28-8 15-12 59z"/><path class=a37 d="M3088 339l11-28-8 15-12 58z"/><path class=a38 d="M3111 318l11-27-9 15-11 56z"/><path class=a39 d="M3134 299l11-26-9 14-11 55z"/><path class=a40 d="M3156 281l12-25-9 15-11 54z"/><path class=a41 d="M3179 265l12-24-9 14-11 54z"/><path class=a42 d="M3202 251l11-24-8 14-12 53z"/><path class=a15 d="M2845 663l12-42-9 4-11 12zm23 3l12-51-9 5-11 22zm23-13l11-58-8 1-12 31z"/><path class=a17 d="M2823 648l11-37-9 1-11 5zm91-21l11-62-8-4-12 35z"/><path class=a19 d="M2800 625l11-34-8-4-12 3zm137-31l11-63-8-8-12 36z"/><path class=a20 d="M2902 595l12 32-9-31-11 0z"/><path class=a22 d="M2777 600l11-33-8-8-12 3zm148-35l12 29-9-35-11 2zm35-6l11-63-9-11-11 35z"/><path class=a24 d="M2754 576l12-34-9-11-11 4zm194-45l12 28-9-39-11 3zm34-6l12-63-9-13-11 34z"/><path class=a26 d="M2731 554l12-35-9-13-11 5zm274-62l12-61-9-15-11 33z"/><path class=a27 d="M2971 496l11 29-8-42-12 2z"/><path class=a28 d="M2708 534l12-36-9-15-11 7zm320-72l11-60-8-17-12 32z"/><path class=a29 d="M2994 462l11 30-8-43-12 0z"/><path class=a30 d="M2686 517l11-38-9-16-11 8zm365-83l11-59-8-17-12 30z"/><path class=a31 d="M3017 431l11 31-9-45-11-1z"/><path class=a32 d="M2663 502l11-39-8-17-12 10zm411-93l11-58-9-17-11 28z"/><path class=a33 d="M2640 490l11-40-8-18-12 11zm399-88l12 32-9-46-11-3zm57-16l12-57-9-18-11 28z"/><path class=a35 d="M2617 479l12-41-9-18-11 12zm57-16l12 54-9-46-11-25zm388-88l12 34-9-47-11-4zm57-10l12-55-9-19-11 27z"/><path class=a36 d="M2594 471l12-42-9-19-11 13zm57-21l12 52-9-46-11-24zm434-99l11 35-8-47-12-5zm57-4l12-55-9-19-11 26z"/><path class=a37 d="M2549 459l11-44-9-19-11 14zm23 5l11-43-9-19-11 14zm593-135l11-54-8-19-12 25zm23-15l11-54-8-19-12 24z"/><path class=a38 d="M2526 455l11-45-8-19-12 15zm103-17l11 52-9-47-11-23zm479-109l11 36-8-47-12-7zm103-30l11-52-9-20-11 24z"/><path class=a39 d="M2480 450l12-45-9-20-11 16zm23 2l11-45-8-20-12 16zm103-23l11 50-8-47-12-22zm525-119l11 37-8-48-12-8zm102-24l12-52-9-20-11 23zm23-12l12-52-9-19-11 22z"/><path class=a40 d="M2435 449l11-46-9-20-11 17zm22 0l12-45-9-20-11 16zm126-28l11 50-8-48-12-21zm571-129l11 37-9-48-11-8zm125-29l12-51-9-20-12 22zm23-11l11-51-8-20-12 22z"/><path class=a41 d="M2412 450l11-47-8-20-12 18zm148-35l12 49-9-48-12-20zm616-140l12 39-9-49-11-9z"/><path class=a42 d="M2514 407l12 48-9-49-11-19zm23 3l12 49-9-49-11-19zm662-150l12 39-9-48-11-10zm23-13l11 39-8-49-12-10z"/><path class=a43 d="M2469 404l11 46-8-49-12-17zm23 1l11 47-9-49-11-18zm753-171l11 40-8-49-12-11zm23-12l11 41-9-49-11-11z"/><path class=a44 d="M2423 403l12 46-9-49-11-17zm23 0l11 46-8-49-12-17zm845-191l11 40-9-49-11-11zm22-11l12 42-9-49-11-13z"/><path class=a31 d="M3014 442l11-31-8 20-12 61z"/><path class=a33 d="M3037 414l11-31-9 19-11 60z"/><path class=a34 d="M3059 387l12-29-9 17-11 59z"/><path class=a36 d="M3082 363l12-28-9 16-11 58z"/><path class=a37 d="M3105 341l12-27-9 15-12 57z"/><path class=a38 d="M3128 321l11-27-8 16-12 55z"/><path class=a40 d="M3151 302l11-25-8 15-12 55zm23-17l11-24-9 14-11 54z"/><path class=a41 d="M3196 270l12-24-9 14-11 54z"/><path class=a18 d="M2886 627l11-50-9 1-11 22z"/><path class=a19 d="M2863 627l11-45-9 2-11 14zm45-11l12-55-9 0-11 27z"/><path class=a20 d="M2840 617l11-40-8-1-12 10zm91-20l12-59-9-3-11 31z"/><path class=a22 d="M2817 602l11-38-8-3-12 7zm137-31l11-60-8-7-12 33z"/><path class=a23 d="M2920 561l11 36-8-31-12-5z"/><path class=a24 d="M2794 584l12-37-9-7-11 6zm183-42l11-60-8-10-12 33z"/><path class=a25 d="M2943 538l11 33-9-34-11-2z"/><path class=a26 d="M2771 565l12-37-9-9-11 6zm194-54l12 31-9-37-11-1zm35 2l11-60-9-12-11 32z"/><path class=a27 d="M2749 547l11-37-9-12-11 7zm273-62l12-60-9-14-11 31z"/><path class=a28 d="M2988 482l12 31-9-40-11-1z"/><path class=a29 d="M2726 530l11-38-8-14-12 8zm319-73l12-58-9-16-11 31z"/><path class=a30 d="M3011 453l11 32-8-43-12-1z"/><path class=a31 d="M2703 515l11-39-8-15-12 9zm365-83l12-58-9-16-12 29z"/><path class=a32 d="M2680 502l11-40-8-16-12 10zm354-77l11 32-8-43-12-3zm57-16l11-57-8-17-12 28z"/><path class=a34 d="M2657 491l12-41-9-17-11 11zm400-92l11 33-9-45-11-4zm57-12l11-56-8-17-12 27z"/><path class=a35 d="M2634 482l12-42-9-18-11 13zm57-20l12 53-9-45-11-24zm389-88l11 35-9-46-11-5zm57-6l11-55-9-19-11 27z"/><path class=a36 d="M2612 474l11-42-9-19-11 13zm547-124l12-55-9-18-11 25z"/><path class=a37 d="M2589 468l11-43-8-19-12 14zm80-18l11 52-9-46-11-23zm433-98l12 35-9-46-11-6zm80-19l12-53-9-19-11 24z"/><path class=a38 d="M2543 460l12-45-9-19-12 15zm23 3l11-44-8-19-12 15zm80-23l11 51-8-47-12-22zm479-109l12 37-9-47-11-7zm80-13l11-53-8-19-12 24zm23-14l11-52-8-20-12 24z"/><path class=a39 d="M2520 457l12-45-9-19-11 16zm103-25l11 50-8-47-12-22zm525-119l11 37-8-48-12-8zm103-21l11-53-9-19-11 23z"/><path class=a40 d="M2452 455l11-46-8-20-12 17zm23 0l11-46-9-20-11 17zm22 1l12-46-9-19-11 16zm103-31l12 49-9-48-11-20zm571-130l11 38-8-48-12-8zm103-15l11-52-9-20-11 23zm22-11l12-52-9-19-11 22zm23-11l12-51-9-19-11 21z"/><path class=a41 d="M2429 456l11-47-8-20-12 18zm148-37l12 49-9-48-11-20zm617-139l11 38-9-48-11-9z"/><path class=a42 d="M2532 412l11 48-9-49-11-18zm23 3l11 48-9-48-11-19zm661-150l12 39-9-48-11-10zm23-13l12 40-9-49-11-11z"/><path class=a43 d="M2509 410l11 47-8-48-12-18zm753-171l12 41-9-49-12-11z"/><path class=a44 d="M2440 409l12 46-9-49-11-17zm23 0l12 46-9-49-11-17zm23 0l11 47-8-49-12-18zm799-181l11 41-8-49-12-12zm23-11l11 41-8-49-12-11zm23-10l11 42-9-49-11-12z"/><path class=a36 d="M3100 362l11-27-9 17-11 57z"/><path class=a38 d="M3122 342l12-27-9 16-11 56z"/><path class=a39 d="M3145 323l12-26-9 16-11 55z"/><path class=a40 d="M3168 305l11-25-8 15-12 55z"/><path class=a22 d="M2880 595l11-46-8-1-12 16zm23-2l11-49-8-1-12 20zm23-8l11-54-9-2-11 25z"/><path class=a23 d="M2857 590l12-43-9-2-12 12zm91-21l12-56-9-4-11 27z"/><path class=a24 d="M2834 580l12-41-9-5-11 11zm137-31l12-58-9-7-11 30z"/><path class=a26 d="M2811 567l12-40-9-7-11 9zm126-36l11 38-8-33-12-7zm57-6l11-58-8-10-12 31z"/><path class=a27 d="M2789 552l11-39-9-9-11 9zm171-39l11 36-8-35-12-5zm57-13l11-58-8-12-12 31z"/><path class=a29 d="M2766 538l11-39-8-12-12 9zm217-47l11 34-9-37-11-4zm57-15l11-58-9-14-11 30z"/><path class=a30 d="M2743 524l11-39-8-13-12 9zm262-57l12 33-9-39-11-4zm58-15l11-58-9-15-11 30z"/><path class=a32 d="M2720 512l12-40-9-15-11 10zm308-70l12 34-9-42-11-4zm57-13l12-57-9-16-11 29z"/><path class=a33 d="M2697 501l12-41-9-16-11 11zm354-83l12 34-9-43-12-5zm57-10l12-57-9-16-11 27z"/><path class=a34 d="M2674 491l12-41-9-17-11 12zm457-103l11-56-8-17-12 27z"/><path class=a35 d="M2652 483l11-42-9-17-11 12zm422-89l11 35-8-44-12-6zm80-25l11-54-8-18-12 26z"/><path class=a36 d="M2629 476l11-42-8-18-12 13zm80-16l11 52-8-45-12-23zm388-88l11 36-8-46-12-6zm80-20l11-54-9-18-11 25z"/><path class=a37 d="M2606 471l11-43-8-19-12 15zm80-21l11 51-8-46-12-22zm434-99l11 37-9-46-11-7zm79-14l12-54-9-18-11 24z"/><path class=a38 d="M2583 467l12-44-9-19-11 15zm639-145l12-53-9-19-11 24z"/><path class=a39 d="M2538 462l11-45-9-19-11 16zm22 2l12-45-9-19-11 16zm103-23l11 50-8-46-12-21zm479-109l12 37-9-46-11-8zm103-23l12-53-9-19-12 24zm23-13l11-52-8-19-12 23z"/><path class=a40 d="M2492 460l11-45-8-20-12 17zm23 1l11-46-8-19-12 16zm102-33l12 48-9-47-11-20zm23 6l12 49-9-47-11-20zm525-119l12 37-9-47-11-8zm23-17l11 39-8-48-12-9zm103-13l11-52-8-19-12 22zm23-11l11-51-9-20-11 22z"/><path class=a41 d="M2446 462l12-47-9-20-11 18zm23-1l11-47-8-19-12 17zm126-38l11 48-9-47-11-20zm616-140l11 39-8-48-12-9zm125-19l12-51-9-20-11 22z"/><path class=a42 d="M2572 419l11 48-8-48-12-19zm662-150l11 40-9-48-11-11z"/><path class=a43 d="M2526 415l12 47-9-48-11-18zm23 2l11 47-8-48-12-18zm708-161l11 40-9-48-11-11zm22-12l12 41-9-49-11-11z"/><path class=a44 d="M2458 415l11 46-9-49-11-17zm22-1l12 46-9-48-11-17zm23 1l12 46-9-49-11-17zm799-182l12 41-9-49-11-11zm23-10l11 41-8-49-12-12zm23-10l11 42-8-49-12-13z"/><path class=a25 d="M2874 565l12-44-9-4-11 14zm23 3l12-47-9-3-11 17zm23-3l11-49-8-4-12 21zm23-7l11-52-8-5-12 23zm23-13l11-54-9-6-11 25z"/><path class=a26 d="M2852 559l11-42-9-6-11 12zm136-31l12-56-9-7-11 27z"/><path class=a27 d="M2829 550l11-41-9-8-11 11zm182-41l12-57-9-10-11 29z"/><path class=a29 d="M2806 539l11-40-8-10-12 11zm148-33l12 39-9-35-11-9zm80-18l12-57-9-11-11 28z"/><path class=a30 d="M2783 528l11-40-8-12-12 11zm194-37l11 37-8-36-12-7zm80-25l11-56-8-13-12 28z"/><path class=a31 d="M2760 518l12-41-9-13-11 11zm240-46l11 37-8-38-12-6zm80-27l11-56-8-14-12 27z"/><path class=a32 d="M3023 452l11 36-8-40-12-6z"/><path class=a33 d="M2737 508l12-41-9-15-11 12zm309-77l11 35-9-41-11-5zm57-6l11-56-9-15-11 27z"/><path class=a34 d="M2715 499l11-42-9-15-11 12zm353-89l12 35-9-43-11-5zm57-5l12-55-9-16-11 27z"/><path class=a35 d="M2692 491l11-43-8-16-12 13zm456-104l12-55-9-17-11 26z"/><path class=a36 d="M2669 484l11-43-8-17-12 14zm80-17l11 51-8-43-12-23zm342-78l12 36-9-44-11-6zm80-19l11-54-8-18-12 26z"/><path class=a37 d="M2623 474l12-44-9-18-11 15zm23 4l12-43-9-18-12 14zm80-21l11 51-8-44-12-22zm388-88l11 36-8-44-12-7zm80-15l11-53-8-18-12 24zm23-15l11-53-8-18-12 24z"/><path class=a38 d="M2600 471l12-45-9-18-11 15zm103-23l12 51-9-45-11-22zm434-98l11 37-8-46-12-7zm103-24l11-53-9-19-11 24z"/><path class=a39 d="M2555 467l11-46-8-19-12 16zm23 1l11-45-9-19-11 16zm102-27l12 50-9-46-11-21zm480-109l11 38-9-46-11-9zm102-19l12-52-9-19-11 23zm23-12l12-52-9-19-11 23z"/><path class=a40 d="M2509 466l12-46-9-20-11 17zm23 0l11-46-8-19-12 16zm126-31l11 49-9-46-11-21zm524-119l12 38-9-47-11-9zm126-26l11-51-8-20-12 22zm23-11l11-51-8-19-12 22z"/><path class=a41 d="M2464 467l11-46-9-20-11 18zm22-1l12-46-9-20-11 17zm149-36l11 48-9-47-11-19zm570-129l12 38-9-47-11-9zm149-31l11-51-9-20-11 22z"/><path class=a42 d="M2589 423l11 48-8-48-12-19zm23 3l11 48-8-47-12-19zm616-140l12 40-9-48-11-10zm23-13l11 40-8-48-12-11z"/><path class=a43 d="M2543 420l12 47-9-49-11-17zm23 1l12 47-9-48-11-18zm708-160l11 40-8-48-12-11zm23-12l11 41-9-49-11-11z"/><path class=a44 d="M2498 420l11 46-8-49-12-17zm23 0l11 46-9-49-11-17zm798-181l12 40-9-48-11-12zm23-11l12 42-9-49-11-12z"/><path class=a45 d="M2475 421l11 45-8-49-12-16zm890-202l11 41-8-48-12-13z"/><path class=a27 d="M2914 545l12-47-9-6-11 18zm23-3l12-49-9-6-11 20zm23-7l11-51-8-7-12 23z"/><path class=a28 d="M2869 541l11-44-8-8-12 15zm23 4l11-46-9-6-11 16zm91-21l11-53-8-7-12 24zm23-14l11-54-8-9-12 26z"/><path class=a29 d="M2846 535l11-43-8-9-12 13zm183-42l11-54-9-11-11 27z"/><path class=a30 d="M2823 527l12-42-9-10-12 12zm228-51l12-56-9-11-11 27z"/><path class=a31 d="M2800 519l12-42-9-11-11 12zm171-35l12 40-9-36-11-11zm103-27l12-55-9-13-11 27z"/><path class=a32 d="M2777 511l12-42-9-13-11 12zm217-40l12 39-9-37-11-9zm103-32l11-55-8-15-12 27z"/><path class=a33 d="M3017 456l12 37-9-38-11-8z"/><path class=a34 d="M2755 503l11-42-9-14-11 12zm285-64l11 37-8-40-12-8zm80-18l11-55-8-16-12 27z"/><path class=a35 d="M2709 490l11-43-8-16-12 13zm23 6l11-42-8-16-12 13zm331-76l11 37-8-41-12-7zm80-17l11-54-9-17-11 26zm23-17l11-54-9-16-11 25z"/><path class=a36 d="M2686 484l12-43-9-17-11 14zm103-15l11 50-8-41-12-22zm297-67l11 37-9-43-11-7zm102-31l12-54-9-17-11 24z"/><path class=a37 d="M2663 480l12-44-9-17-11 14zm103-19l11 50-8-43-12-21zm342-77l12 37-9-44-11-8zm103-28l12-53-9-18-11 24z"/><path class=a38 d="M2618 474l11-45-9-18-11 15zm23 2l11-44-9-18-11 15zm102-22l12 49-9-44-11-21zm388-88l12 37-9-45-11-8zm103-24l11-53-8-18-12 24zm23-13l11-52-8-19-12 23z"/><path class=a39 d="M2595 472l11-45-8-19-12 16zm125-25l12 49-9-45-11-20zm434-98l12 37-9-45-12-9zm126-32l11-52-9-19-11 23z"/><path class=a40 d="M2526 471l12-46-9-20-11 17zm23 0l12-46-9-20-11 17zm23 0l11-46-8-19-12 17zm103-35l11 48-8-46-12-19zm23 5l11 49-9-46-11-20zm479-109l11 39-8-47-12-8zm23-15l11 39-8-47-12-9zm102-12l12-51-9-19-11 22zm23-10l12-52-9-19-11 22zm23-10l12-51-9-20-12 22z"/><path class=a41 d="M2481 473l11-47-8-19-12 17zm23-1l11-47-9-19-11 17zm148-40l11 48-8-47-12-19zm571-129l11 39-9-47-11-10zm148-28l11-51-8-19-12 21z"/><path class=a42 d="M2629 429l12 47-9-47-12-18zm616-140l12 40-9-48-11-10z"/><path class=a43 d="M2583 425l12 47-9-48-11-18zm23 2l12 47-9-48-11-18zm662-150l12 40-9-48-11-11zm23-12l11 40-8-48-12-11z"/><path class=a44 d="M2515 425l11 46-8-49-12-16zm23 0l11 46-8-49-12-17zm23 0l11 46-9-48-11-18zm753-171l11 41-8-49-12-11zm23-11l11 42-9-49-11-12zm23-9l11 41-9-49-11-12z"/><path class=a45 d="M2492 426l12 46-9-49-11-16zm890-202l12 42-9-49-11-12z"/><path class=a29 d="M2932 526l11-47-9-8-11 18zm22-3l12-50-9-7-11 20zm23-7l12-51-9-8-11 22z"/><path class=a30 d="M2886 525l11-45-8-9-12 16zm23 2l11-46-8-8-12 16zm91-21l12-52-9-9-11 24zm23-12l11-53-8-10-12 25z"/><path class=a31 d="M2863 522l12-44-9-10-11 14zm183-42l11-53-8-12-12 26z"/><path class=a32 d="M2840 517l12-44-9-11-11 14zm229-52l11-54-9-12-11 25z"/><path class=a33 d="M2818 511l11-43-9-12-11 13zm125-32l11 44-8-37-12-15zm23-6l11 43-8-37-12-13zm23-8l11 41-8-37-12-12zm102-16l12-54-9-14-11 26z"/><path class=a34 d="M2772 499l11-43-8-14-12 13zm23 6l11-43-8-13-12 13zm217-51l11 40-9-38-11-11zm22-13l12 39-9-39-11-10zm80-8l12-55-9-14-11 26zm23-17l12-54-9-15-12 25z"/><path class=a35 d="M2749 494l11-44-8-15-12 14zm308-67l12 38-9-41-11-9zm103-26l11-54-8-16-12 25z"/><path class=a36 d="M2726 489l12-44-9-16-11 14zm103-21l11 49-8-41-12-20zm251-57l11 38-8-42-12-8zm103-26l11-53-8-17-12 25z"/><path class=a37 d="M2703 485l12-44-9-17-11 15zm103-23l12 49-9-42-11-20zm297-67l11 38-8-43-12-9zm103-24l11-53-9-17-11 24z"/><path class=a38 d="M2658 479l11-45-8-18-12 16zm23 2l11-44-9-17-11 15zm102-25l12 49-9-43-11-20zm343-78l11 38-9-44-11-8zm102-21l12-52-9-18-11 23zm23-13l12-52-9-18-11 23z"/><path class=a39 d="M2612 476l12-46-9-18-11 16zm23 1l11-45-8-19-12 16zm103-32l11 49-9-45-11-20zm22 5l12 49-9-44-11-20zm389-88l11 39-9-45-11-9zm22-15l12 38-9-45-11-9zm103-15l11-52-8-19-12 23zm23-12l11-51-8-19-12 23z"/><path class=a40 d="M2566 475l12-46-9-19-11 17zm23 0l12-46-9-19-11 17zm126-34l11 48-8-46-12-19zm479-109l12 39-9-46-11-10zm126-22l11-52-9-19-11 22zm23-11l11-51-9-19-11 22z"/><path class=a41 d="M2498 479l11-47-8-20-12 18zm23-2l11-47-8-19-12 17zm23-1l11-47-9-19-11 17zm148-39l11 48-8-46-12-19zm525-119l11 39-8-47-12-9zm148-28l12-51-9-20-11 22zm23-10l12-50-9-20-11 22z"/><path class=a42 d="M2646 432l12 47-9-47-11-19zm23 2l12 47-9-46-11-19zm571-129l11 39-8-47-12-10zm23-13l11 40-9-48-11-10z"/><path class=a43 d="M2601 429l11 47-8-48-12-18zm23 1l11 47-9-48-11-17zm661-150l12 40-9-47-11-12zm23-11l12 41-9-49-11-11z"/><path class=a44 d="M2532 430l12 46-9-49-11-16zm23-1l11 46-8-48-12-17zm23 0l11 46-8-48-12-17zm753-171l12 41-9-48-12-12zm23-10l11 42-8-49-12-12zm23-9l11 41-8-48-12-13z"/><path class=a45 d="M2509 432l12 45-9-49-11-16zm891-202l11 42-9-49-11-13z"/><path class=a31 d="M2926 512l12-46-9-10-12 17zm23-1l11-48-8-10-12 19zm23-4l11-49-8-10-12 20zm23-7l11-50-9-10-11 22zm22-8l12-52-9-10-11 23z"/><path class=a32 d="M2880 510l12-45-9-11-11 16zm23 2l12-46-9-10-11 16zm137-31l12-52-9-11-11 23zm23-12l11-53-8-12-12 24z"/><path class=a33 d="M2858 507l11-44-9-12-11 15zm228-51l11-53-8-13-12 24z"/><path class=a34 d="M2835 504l11-45-8-12-12 14zm274-63l11-53-9-14-11 25z"/><path class=a35 d="M2789 495l12-44-9-14-11 14zm23 5l11-44-8-14-12 14zm103-34l11 46-9-39-11-17zm23 0l11 45-9-39-11-16zm22-3l12 44-9-39-11-15zm23-5l12 42-9-38-11-14zm23-8l11 42-8-39-12-13zm23-10l11 41-8-40-12-11zm103-13l11-53-9-15-11 25zm22-14l12-54-9-15-11 24z"/><path class=a36 d="M2766 492l12-45-9-15-11 15zm103-29l11 47-8-40-12-19zm23 2l11 47-8-40-12-18zm160-36l11 40-9-41-11-10zm22-13l12 40-9-42-11-10zm103-18l12-53-9-16-11 24z"/><path class=a37 d="M2721 485l11-44-9-17-11 15zm23 3l11-44-9-16-11 14zm102-29l12 48-9-41-11-19zm251-56l12 38-9-42-11-9zm103-18l11-53-8-17-12 24zm23-14l11-52-8-18-12 24z"/><path class=a38 d="M2698 483l11-45-8-18-12 16zm125-27l12 48-9-43-11-19zm297-68l12 39-9-43-12-10zm126-29l11-53-9-17-11 23z"/><path class=a39 d="M2652 480l12-46-9-18-11 16zm23 1l11-45-8-18-12 16zm103-34l11 48-8-44-12-19zm23 4l11 49-9-44-11-19zm342-77l11 39-8-45-12-9zm23-15l11 39-8-45-12-9zm102-13l12-51-9-19-11 23zm23-11l12-52-9-18-11 22z"/><path class=a40 d="M2584 480l11-47-8-19-12 17zm23-1l11-46-9-19-11 17zm22 0l12-46-9-18-11 16zm126-35l11 48-8-45-12-19zm434-99l11 40-9-46-11-10zm125-21l12-51-9-19-11 22zm23-10l11-51-8-20-12 23zm23-10l11-51-8-19-12 21z"/><path class=a41 d="M2515 484l12-47-9-20-11 18zm23-2l11-47-8-19-12 18zm23-1l11-47-8-19-12 17zm148-43l12 47-9-46-11-19zm23 3l12 47-9-46-12-18zm479-109l12 39-9-46-11-10zm23-13l12 40-9-47-11-11zm149-25l11-50-9-20-11 22zm22-8l12-51-9-19-11 21z"/><path class=a42 d="M2686 436l12 47-9-47-11-18zm571-130l11 40-8-47-12-10z"/><path class=a43 d="M2641 433l11 47-8-48-12-17zm23 1l11 47-9-47-11-18zm616-139l11 40-8-48-12-11zm23-12l11 41-8-48-12-11z"/><path class=a44 d="M2572 434l12 46-9-49-11-16zm23-1l12 46-9-48-11-17zm23 0l11 46-8-48-12-17zm708-160l11 41-9-48-11-12zm22-10l12 41-9-49-11-12zm23-10l12 41-9-48-11-12z"/><path class=a45 d="M2527 437l11 45-9-48-11-17zm22-2l12 46-9-49-11-16zm845-191l11 42-8-49-12-13zm23-9l11 42-8-49-12-12z"/><path class=a33 d="M2921 501l11-46-9-12-11 17zm22-1l12-47-9-11-11 18zm23-2l12-48-9-11-11 19zm23-4l11-49-8-11-12 20zm23-7l11-49-8-11-12 20zm23-7l11-51-9-11-11 21zm22-10l12-51-9-12-11 22z"/><path class=a34 d="M2875 499l11-45-8-13-12 16zm23 2l11-46-9-12-11 16zm182-42l12-51-9-13-11 23zm23-11l12-53-9-13-12 23z"/><path class=a35 d="M2829 495l12-45-9-14-11 15zm23 2l11-45-8-13-12 15zm274-62l11-52-8-15-12 24zm23-13l11-52-8-15-12 24z"/><path class=a36 d="M2806 492l12-44-9-16-11 16zm172-42l11 44-9-40-11-15zm22-5l12 42-9-40-11-13zm172-36l11-52-9-16-11 24z"/><path class=a37 d="M2761 488l11-45-8-17-12 16zm23 2l11-45-9-16-11 16zm125-35l12 46-9-41-12-17zm23 0l11 45-8-40-12-17zm23-2l11 45-8-40-12-16zm68-15l12 42-9-41-11-12zm23-9l11 41-8-41-12-11zm23-10l11 40-8-41-12-11zm125-22l12-53-9-16-11 23zm23-13l12-52-9-17-11 23z"/><path class=a38 d="M2715 484l12-45-9-18-12 16zm23 2l11-46-8-16-12 15zm125-34l12 47-9-42-11-18zm23 2l12 47-9-42-11-18zm206-46l11 40-9-43-11-10zm23-13l11 40-9-43-11-10zm125-23l11-52-8-18-12 23zm23-12l11-52-8-18-12 23z"/><path class=a39 d="M2669 483l12-46-9-18-11 16zm23 0l12-45-9-18-11 16zm149-33l11 47-9-43-11-18zm296-67l12 39-9-43-11-11zm149-34l11-52-8-18-12 22zm23-11l11-51-9-19-11 22z"/><path class=a40 d="M2624 483l11-46-8-19-12 17zm23 0l11-46-9-19-11 17zm148-38l11 47-8-44-12-19zm23 3l11 47-8-44-12-19zm342-78l12 39-9-44-11-10zm23-13l11 40-8-46-12-10zm148-30l12-51-9-18-11 22zm23-9l12-51-9-19-11 22z"/><path class=a41 d="M2532 489l12-47-9-19-11 18zm23-2l12-47-9-19-11 18zm23-1l12-47-9-20-11 18zm23-2l11-46-8-19-12 17zm148-44l12 48-9-46-11-18zm23 3l12 47-9-45-11-19zm434-99l11 40-8-46-12-10zm23-12l11 40-9-47-11-10zm148-24l11-50-8-20-12 22zm23-9l11-50-8-20-12 22zm23-8l11-51-9-19-11 21z"/><path class=a42 d="M2704 438l11 46-9-47-11-17zm23 1l11 47-9-47-11-18zm524-119l12 40-9-47-11-11zm23-12l12 41-9-48-11-11z"/><path class=a43 d="M2658 437l11 46-8-48-12-17zm23 0l11 46-8-47-12-17zm616-140l12 41-9-48-11-11zm23-10l11 40-8-47-12-12z"/><path class=a44 d="M2590 439l11 45-9-48-11-17zm22-1l12 45-9-48-11-16zm23-1l12 46-9-48-11-17zm708-161l11 42-8-48-12-12zm23-9l11 41-9-48-11-12zm22-9l12 41-9-48-11-13z"/><path class=a45 d="M2544 442l11 45-8-48-12-16zm23-2l11 46-8-49-12-16zm844-191l12 42-9-49-11-13zm23-9l12 42-9-48-12-13z"/><path class=a34 d="M2961 491l11-48-9-12-11 18zm22-3l12-48-9-13-11 19zm23-5l12-49-9-12-11 20zm23-6l11-49-8-12-12 20zm23-7l11-50-8-13-12 21z"/><path class=a35 d="M2892 493l12-46-9-13-11 16zm23 0l11-46-8-13-12 17zm23-1l11-46-8-13-12 18zm137-31l11-50-8-13-12 21zm23-9l11-51-9-14-11 22zm22-11l12-51-9-15-11 23z"/><path class=a36 d="M2846 491l12-45-9-15-11 16zm23 1l12-45-9-15-11 17zm274-62l12-52-9-14-11 22zm23-11l11-52-8-16-12 23z"/><path class=a37 d="M2801 488l11-45-8-16-12 16zm23 2l11-46-9-15-11 16zm365-83l11-52-8-16-12 23zm23-12l11-52-9-16-11 23z"/><path class=a38 d="M2755 486l12-45-9-17-11 16zm23 1l11-45-8-17-12 16zm148-40l12 45-9-41-11-17zm23-1l12 45-9-42-11-16zm23-3l11 45-8-42-12-15zm23-3l11 43-8-41-12-15zm23-6l11 43-9-41-11-14zm22-6l12 42-9-42-11-12zm23-8l12 41-9-42-11-12zm23-9l12 41-9-43-11-11zm148-27l12-52-9-17-11 23zm23-11l12-52-9-18-11 23z"/><path class=a39 d="M2710 486l11-46-9-18-11 16zm22 0l12-46-9-18-11 17zm149-39l11 46-8-43-12-18zm23 0l11 46-9-42-11-17zm205-46l11 40-8-43-12-11zm23-11l11 40-8-44-12-11zm148-28l12-52-9-18-11 23zm23-11l11-51-8-18-12 22z"/><path class=a40 d="M2641 487l11-46-8-19-12 17zm23-1l11-46-8-19-12 17zm23 0l11-46-9-19-11 17zm148-42l11 47-8-44-12-18zm23 2l11 46-8-43-12-18zm297-68l11 41-9-45-11-10zm22-11l12 40-9-45-11-11zm149-26l11-51-8-19-12 22zm23-10l11-51-9-19-11 22zm22-9l12-51-9-19-11 22z"/><path class=a41 d="M2573 492l11-47-9-19-11 18zm22-2l12-47-9-19-11 18zm23-1l12-47-9-19-11 17zm171-47l12 46-9-45-11-18zm23 1l12 47-9-45-11-18zm388-88l12 40-9-45-11-11zm23-12l11 41-8-46-12-11zm171-30l12-51-9-19-11 21zm23-9l12-50-9-20-12 22zm23-8l11-50-8-20-12 21z"/><path class=a42 d="M2550 495l11-47-8-20-12 18zm194-55l11 46-8-46-12-18zm23 1l11 46-9-46-11-17zm479-109l11 41-8-47-12-11zm23-11l11 41-8-47-12-12z"/><path class=a43 d="M2698 440l12 46-9-48-12-17zm23 0l11 46-8-47-12-17zm571-130l11 41-9-47-11-12zm22-10l12 41-9-48-11-11z"/><path class=a44 d="M2630 442l11 45-9-48-11-16zm22-1l12 45-9-48-11-16zm23-1l12 46-9-48-11-17zm662-150l12 41-9-48-11-12zm23-10l11 42-8-48-12-13zm23-9l11 42-8-49-12-12z"/><path class=a45 d="M2561 448l12 44-9-48-11-16zm23-3l11 45-8-48-12-16zm23-2l11 46-8-49-12-16zm799-181l11 42-9-48-11-13zm23-8l11 42-9-49-11-13zm22-8l12 42-9-49-11-13z"/><path class=a35 d="M2978 483l11-47-8-14-12 19zm23-3l11-48-9-14-11 19zm23-5l11-49-9-13-11 20zm22-6l12-49-9-13-11 20zm23-7l12-49-9-14-11 21z"/><path class=a36 d="M2909 488l12-46-9-15-11 17zm23-1l12-47-9-13-11 17zm23-1l11-48-8-13-12 18zm137-31l11-51-8-14-12 22zm23-9l11-51-8-14-12 22zm23-10l11-51-9-15-11 23z"/><path class=a37 d="M2864 488l11-46-8-15-12 17zm23 0l11-46-9-15-11 17zm273-62l12-51-9-15-11 22zm23-10l12-52-9-15-11 22z"/><path class=a38 d="M2795 488l12-46-9-17-11 16zm23 0l11-46-8-17-12 17zm23 0l11-46-8-16-12 17zm365-83l12-51-9-17-12 23zm23-10l11-52-8-17-12 23zm23-11l11-51-8-18-12 23z"/><path class=a39 d="M2750 488l11-47-9-17-11 17zm22-1l12-46-9-17-11 17zm194-49l12 45-9-42-11-16zm23-2l12 44-9-43-11-15zm23-4l12 43-9-42-12-15zm23-6l11 43-8-42-12-14zm23-6l11 42-8-42-12-13zm23-7l11 42-9-43-11-13zm194-39l11-52-9-17-11 22zm22-11l12-51-9-18-11 22z"/><path class=a40 d="M2681 490l12-47-9-18-12 17zm23-1l11-47-8-18-12 17zm23-1l11-46-8-18-12 17zm171-46l11 46-8-44-12-17zm23 0l11 45-8-43-12-17zm23-2l11 46-9-43-11-16zm159-36l12 42-9-43-11-13zm23-9l12 41-9-43-11-12zm23-10l11 41-8-44-12-12zm171-31l12-51-9-19-11 22zm23-10l11-51-8-18-12 21zm23-9l11-51-8-19-12 22z"/><path class=a41 d="M2590 498l11-48-8-19-12 18zm23-3l11-47-9-19-11 18zm22-2l12-47-9-19-11 18zm23-2l12-46-9-19-11 17zm194-49l12 46-9-44-11-18zm23 0l12 46-9-44-11-17zm297-67l11 41-8-45-12-11zm23-11l11 41-9-45-11-11zm194-38l11-51-9-19-11 22zm23-9l11-50-9-19-11 21zm22-8l12-50-9-20-11 21zm23-8l12-50-9-20-11 21z"/><path class=a42 d="M2567 500l11-47-8-20-12 18zm217-59l11 47-8-47-12-17zm23 1l11 46-9-46-11-17zm22 0l12 46-9-45-11-18zm389-88l11 41-9-46-11-12zm22-11l12 41-9-46-11-12zm23-10l12 41-9-47-11-12z"/><path class=a43 d="M2738 442l12 46-9-47-11-17zm23-1l11 46-8-46-12-17zm525-119l11 41-8-47-12-11zm23-10l11 42-8-48-12-12z"/><path class=a44 d="M2670 445l11 45-9-48-11-16zm23-2l11 46-9-48-11-16zm22-1l12 46-9-47-11-17zm617-139l11 41-9-48-11-12zm22-10l12 42-9-48-11-12zm23-9l12 42-9-48-11-13z"/><path class=a45 d="M2578 453l12 45-9-49-11-16zm23-3l12 45-9-48-11-16zm23-2l11 45-8-48-12-16zm23-2l11 45-8-48-12-16zm753-171l12 42-9-48-12-13zm23-8l11 42-8-49-12-12zm23-8l11 42-8-49-12-13zm23-8l11 42-9-49-11-13z"/><path class=a36 d="M2995 478l12-48-9-15-12 19zm23-4l11-49-8-14-12 19zm23-5l11-49-8-14-12 20zm23-6l11-49-9-14-11 20zm22-6l12-50-9-14-11 20z"/><path class=a37 d="M2904 486l11-47-8-16-12 18zm23-2l11-46-9-16-11 18zm22-1l12-47-9-15-11 18zm23-3l12-47-9-14-11 18zm137-31l12-50-9-14-11 21zm23-8l11-50-8-15-12 21zm23-8l11-51-8-15-12 21zm23-10l11-50-9-16-11 22z"/><path class=a38 d="M2858 487l12-46-9-17-11 17zm23-1l11-46-8-16-12 17zm320-72l11-51-9-16-11 22zm22-10l12-51-9-16-11 22z"/><path class=a39 d="M2790 489l11-47-9-17-11 17zm22-1l12-46-9-17-11 17zm23 0l12-47-9-16-11 17zm411-94l12-51-9-17-11 22zm23-9l11-51-8-18-12 22zm23-10l11-51-8-18-12 22z"/><path class=a40 d="M2721 492l12-47-9-18-11 17zm23-1l11-47-8-18-12 17zm23-1l11-47-8-18-12 18zm194-54l11 44-8-43-12-16zm23-3l11 45-9-44-11-15zm23-3l11 44-9-44-11-15zm22-5l12 44-9-43-11-15zm23-5l12 43-9-43-11-14zm23-6l11 43-8-44-12-13zm23-7l11 42-8-43-12-13zm23-8l11 42-9-44-11-12zm194-33l11-51-9-18-11 21zm22-10l12-50-9-19-11 22zm23-9l12-50-9-19-11 22z"/><path class=a41 d="M2630 500l11-47-8-20-12 19zm23-2l11-47-8-20-12 18zm23-2l11-47-9-19-11 17zm22-2l12-47-9-19-11 18zm194-54l12 46-9-45-11-17zm23-1l12 45-9-44-11-17zm23-1l11 45-8-44-12-17zm205-47l12 42-9-45-11-12zm23-9l12 41-9-44-11-12zm23-9l12 41-9-45-12-12zm194-35l12-50-9-19-12 22zm23-8l11-50-8-19-12 21zm23-8l11-50-8-20-12 21zm23-8l11-50-9-20-11 21z"/><path class=a42 d="M2584 506l12-48-9-20-11 19zm23-3l11-48-8-19-12 18zm240-62l11 46-8-46-12-16zm23 0l11 45-9-45-11-17zm342-78l11 41-8-45-12-12zm23-10l11 41-8-46-12-11zm239-47l12-50-9-19-11 20z"/><path class=a43 d="M2778 443l12 46-9-47-11-17zm23-1l11 46-8-46-12-17zm23 0l11 46-8-46-12-17zm434-99l11 42-9-47-11-12zm22-9l12 41-9-47-11-12zm23-10l12 42-9-48-11-12z"/><path class=a44 d="M2710 447l11 45-8-48-12-16zm23-2l11 46-9-48-11-16zm22-1l12 46-9-47-11-17zm571-129l11 41-8-47-12-12zm23-9l11 41-8-47-12-13zm23-9l11 41-9-47-11-13z"/><path class=a45 d="M2596 458l11 45-9-49-11-16zm22-3l12 45-9-48-11-16zm23-2l12 45-9-49-11-16zm23-2l12 45-9-49-11-16zm23-2l11 45-8-48-12-16zm708-161l11 42-9-48-11-13zm22-8l12 42-9-49-11-12zm23-8l12 42-9-49-11-13zm23-8l11 42-8-49-12-13zm23-8l11 43-8-49-12-13z"/><path class=a37 d="M2990 477l11-48-9-15-11 18zm22-4l12-48-9-15-11 19zm23-4l12-48-9-15-11 19zm23-4l11-49-8-15-12 20zm23-6l11-49-8-15-12 20zm23-6l11-50-9-15-11 21zm22-7l12-50-9-15-11 20z"/><path class=a38 d="M2898 485l12-46-9-17-11 18zm23-1l11-47-8-16-12 17zm23-2l11-47-8-16-12 18zm23-2l11-48-9-15-11 18zm182-42l12-50-9-15-11 21zm23-8l12-50-9-16-11 21zm23-8l11-51-8-16-12 21zm23-9l11-51-8-16-12 21z"/><path class=a39 d="M2830 489l11-46-8-18-12 18zm23-1l11-47-9-17-11 18zm22-1l12-47-9-17-11 18zm366-83l11-51-9-17-11 22zm22-9l12-51-9-17-11 22zm23-9l12-51-9-17-11 21z"/><path class=a40 d="M2761 494l12-47-9-18-11 17zm23-2l12-47-9-18-12 18zm23-1l11-47-8-18-12 18zm502-114l11-51-8-18-12 22zm23-9l11-50-8-19-12 22zm23-9l11-50-8-19-12 22z"/><path class=a41 d="M2670 502l11-47-8-19-12 18zm23-2l11-47-8-19-12 18zm23-2l11-47-9-19-11 18zm22-2l12-47-9-19-11 18zm240-64l12 45-9-45-12-15zm23-3l11 44-8-44-12-15zm23-4l11 44-8-44-12-15zm23-4l11 44-9-44-11-15zm22-5l12 43-9-44-11-14zm23-6l12 43-9-44-11-14zm23-7l11 43-8-45-12-13zm23-7l11 42-8-44-12-13zm240-45l11-51-9-18-11 21zm22-9l12-50-9-19-11 21zm23-8l12-50-9-19-11 21zm23-8l11-50-8-19-12 21z"/><path class=a42 d="M2602 511l11-48-9-19-11 18zm22-3l12-48-9-19-11 18zm23-3l12-47-9-20-11 18zm240-65l11 45-8-45-12-17zm23-1l11 45-9-46-11-16zm22-2l12 45-9-45-11-16zm23-2l12 45-9-45-11-16zm206-47l11 42-8-45-12-12zm23-8l11 42-9-46-11-12zm22-9l12 42-9-46-11-12zm23-9l12 42-9-46-11-12zm240-43l11-50-8-20-12 21zm23-8l11-49-9-20-11 21z"/><path class=a43 d="M2818 444l12 45-9-46-11-17zm23-1l12 45-9-46-11-17zm23-2l11 46-8-46-12-17zm388-88l11 42-8-46-12-13zm23-9l11 42-8-47-12-12zm23-9l11 42-9-47-11-12z"/><path class=a44 d="M2727 451l11 45-8-48-12-16zm23-2l11 45-8-48-12-16zm23-2l11 45-9-47-11-16zm23-2l11 46-9-47-11-17zm524-119l12 42-9-47-11-13zm23-8l12 41-9-47-11-13zm23-9l12 42-9-48-11-13zm23-9l11 42-8-48-12-12z"/><path class=a45 d="M2636 460l11 45-8-49-12-15zm23-2l11 44-9-48-11-16zm22-3l12 45-9-48-11-16zm23-2l12 45-9-48-11-16zm708-161l11 42-8-48-12-13zm23-8l11 42-9-48-11-13zm22-8l12 43-9-49-11-13zm23-7l12 42-9-48-11-14z"/><path class=a46 d="M2613 463l11 45-8-49-12-15zm890-201l11 42-8-49-12-13z"/><path class=a38 d="M2984 478l11-48-8-16-12 18zm23-3l11-48-8-16-12 18zm23-4l11-48-9-16-11 19zm22-4l12-49-9-16-11 20zm23-5l12-49-9-16-11 20zm23-6l11-49-8-16-12 20zm23-6l11-49-8-16-12 20zm23-7l11-49-8-16-12 20zm23-7l11-49-9-17-11 21z"/><path class=a39 d="M2893 487l11-47-9-17-11 18zm22-2l12-47-9-17-11 18zm23-2l12-47-9-17-11 18zm23-2l12-48-9-16-12 18zm228-52l12-50-9-17-11 21zm23-8l12-50-9-17-11 21zm23-8l11-50-8-18-12 22zm23-9l11-50-8-17-12 21z"/><path class=a40 d="M2801 495l12-47-9-18-11 17zm23-2l12-47-9-18-11 18zm23-2l11-47-8-18-12 18zm23-2l11-47-8-17-12 17zm411-93l11-50-9-18-11 21zm23-9l11-50-9-18-11 22zm22-8l12-50-9-18-11 21zm23-8l12-50-9-19-11 21z"/><path class=a41 d="M2687 507l12-47-9-20-11 19zm23-3l11-47-8-19-12 18zm23-2l11-48-8-18-12 18zm23-3l11-47-9-19-11 18zm23-2l11-47-9-19-11 18zm593-135l11-50-8-18-12 21zm23-8l11-50-8-19-12 21zm23-8l11-50-9-19-11 21zm22-7l12-50-9-19-11 20zm23-8l12-50-9-19-11 21z"/><path class=a42 d="M2619 516l11-47-8-20-12 19zm23-3l11-47-9-20-11 18zm22-3l12-48-9-19-11 18zm286-74l11 45-9-46-11-16zm23-3l11 45-9-46-11-15zm22-3l12 45-9-46-11-15zm23-3l12 44-9-45-11-15zm23-4l11 44-8-45-12-15zm23-5l11 44-8-45-12-15zm23-5l11 43-9-45-11-14zm22-6l12 43-9-45-11-14zm23-6l12 42-9-45-11-13zm23-7l12 42-9-45-11-13zm23-7l11 42-8-46-12-13zm23-8l11 42-8-46-12-13zm285-55l12-50-9-19-12 20zm23-7l11-50-8-20-12 21z"/><path class=a43 d="M2858 444l12 45-9-47-11-16zm23-2l12 45-9-46-11-16zm23-2l11 45-8-46-12-16zm23-2l11 45-8-46-12-16zm297-67l11 42-9-46-11-13zm22-8l12 41-9-46-11-13zm23-9l12 42-9-47-11-12zm23-8l12 41-9-46-12-13z"/><path class=a44 d="M2767 452l12 45-9-48-12-16zm23-2l11 45-8-48-12-16zm23-2l11 45-8-47-12-16zm23-2l11 45-9-47-11-16zm479-109l11 42-8-47-12-13zm23-8l11 42-8-48-12-12zm23-8l11 41-9-47-11-13zm22-9l12 42-9-48-11-12z"/><path class=a45 d="M2653 466l11 44-8-49-12-15zm23-4l11 45-8-48-12-16zm23-2l11 44-9-48-11-16zm22-3l12 45-9-48-11-16zm23-3l12 45-9-48-11-15zm662-150l12 42-9-48-11-13zm23-8l11 43-8-49-12-13zm23-7l11 42-8-48-12-13zm23-8l11 43-9-49-11-13zm23-7l11 43-9-49-11-13z"/><path class=a46 d="M2630 469l12 44-9-49-11-15zm890-202l12 42-9-48-11-14z"/><path class=a39 d="M2956 483l11-47-9-17-11 18zm22-3l12-47-9-17-11 18zm23-3l12-48-9-16-11 18zm23-4l11-48-8-16-12 19zm23-4l11-48-8-16-12 19zm23-4l11-49-9-16-11 20zm22-5l12-49-9-16-11 20zm23-5l12-49-9-17-11 20zm23-6l12-50-9-16-11 20zm23-7l11-49-8-17-12 21zm23-6l11-50-8-17-12 21zm23-8l11-49-9-17-11 20zm22-7l12-50-9-17-11 21z"/><path class=a40 d="M2841 496l12-48-9-18-11 18zm23-3l12-47-9-18-11 18zm23-2l11-48-8-17-12 18zm23-3l11-47-8-17-12 18zm23-2l11-48-8-17-12 18zm319-73l12-50-9-17-11 21zm23-7l12-50-9-18-12 21zm23-8l11-50-8-18-12 21zm23-8l11-50-8-19-12 21zm23-8l11-50-9-19-11 21z"/><path class=a41 d="M2727 509l12-48-9-19-11 18zm23-3l12-48-9-19-11 19zm23-3l11-47-8-19-12 18zm23-2l11-48-8-18-12 18zm23-3l11-47-9-19-11 18zm547-124l12-50-9-19-11 21zm23-8l12-50-9-19-11 21zm23-8l11-50-8-19-12 21zm23-7l11-50-8-19-12 20zm23-8l11-49-9-20-11 21z"/><path class=a42 d="M2636 522l11-48-8-19-12 18zm23-3l11-48-8-20-12 19zm23-4l11-48-9-19-11 19zm22-3l12-48-9-19-11 18zm354-91l12 44-9-45-11-15zm23-5l11 44-8-45-12-15zm23-5l11 44-8-46-12-14zm23-5l11 43-8-46-12-14zm354-70l11-50-9-19-11 20zm22-7l12-50-9-19-11 20zm23-7l12-50-9-19-11 20z"/><path class=a43 d="M2921 441l12 45-9-47-11-15zm23-3l12 45-9-46-11-16zm23-2l11 44-8-46-12-15zm23-3l11 44-8-46-12-15zm23-4l11 44-9-45-11-15zm22-4l12 44-9-45-11-15zm115-26l11 43-9-45-11-14zm22-6l12 43-9-46-11-14zm23-7l12 42-9-46-11-13zm23-7l11 42-8-46-12-13zm23-8l11 42-8-46-12-13zm23-8l11 43-9-47-11-13z"/><path class=a44 d="M2830 451l11 45-8-48-12-16zm23-3l11 45-8-47-12-16zm23-2l11 45-9-47-11-16zm22-3l12 45-9-46-11-16zm389-87l11 42-9-47-11-13zm22-8l12 42-9-48-11-12zm23-8l12 42-9-48-11-13zm23-8l11 42-8-48-12-13z"/><path class=a45 d="M2693 467l11 45-8-49-12-15zm23-3l11 45-8-49-12-15zm23-3l11 45-8-48-12-16zm23-3l11 45-9-48-11-16zm22-2l12 45-9-48-11-16zm23-3l12 45-9-48-11-15zm571-129l11 42-8-48-12-13zm23-8l11 42-9-48-11-13zm22-8l12 43-9-49-11-13zm23-7l12 42-9-48-11-13zm23-7l12 42-9-49-12-13zm23-8l11 43-8-49-12-13z"/><path class=a46 d="M2647 474l12 45-9-49-11-15zm23-3l12 44-9-48-11-16zm845-192l11 43-8-49-12-13zm23-7l11 43-9-49-11-13z"/><path class=a39 d="M3041 473l12-48-9-17-11 19zm23-4l12-48-9-17-12 19zm23-5l11-48-8-17-12 19zm23-5l11-48-8-17-12 20zm23-5l11-49-9-17-11 20zm22-6l12-49-9-17-11 20zm23-6l12-49-9-17-11 20z"/><path class=a40 d="M2904 493l12-48-9-18-11 19zm23-3l12-47-9-18-11 18zm23-3l11-48-8-17-12 18zm23-3l11-48-8-17-12 18zm23-3l11-48-9-17-11 18zm22-4l12-48-9-17-11 19zm183-41l11-50-8-17-12 20zm23-7l11-50-8-17-12 20zm23-7l11-50-9-17-11 20zm23-7l11-50-9-18-11 21zm22-8l12-50-9-18-11 21zm23-7l12-50-9-18-11 21z"/><path class=a41 d="M2767 510l12-47-9-19-11 18zm23-3l12-47-9-19-11 18zm23-3l11-47-8-19-12 18zm23-3l11-47-8-19-12 19zm23-2l11-48-9-18-11 18zm23-3l11-48-9-18-11 18zm456-104l11-50-8-18-12 21zm23-7l11-50-8-19-12 21zm23-8l11-50-9-18-11 20zm22-7l12-50-9-19-11 21zm23-8l12-49-9-19-11 20zm23-7l12-50-9-19-11 21z"/><path class=a42 d="M2653 528l12-48-9-20-11 19zm23-4l11-48-8-20-12 19zm23-4l11-47-8-20-12 19zm23-3l11-48-8-19-12 18zm23-3l11-48-9-19-11 18zm730-166l11-50-8-19-12 21zm23-7l11-50-8-19-12 20zm23-7l11-49-9-20-11 20zm22-7l12-49-9-20-11 20z"/><path class=a43 d="M3007 433l11 44-8-46-12-15zm23-4l11 44-8-46-12-15zm23-4l11 44-9-46-11-15zm23-4l11 43-9-46-11-14zm22-5l12 43-9-45-11-15zm23-5l12 43-9-46-11-14zm23-6l11 43-8-46-12-14zm23-6l11 43-8-46-12-14zm23-6l11 43-9-47-11-13zm22-7l12 43-9-47-11-13z"/><path class=a44 d="M2870 451l12 45-9-48-12-15zm23-3l11 45-8-47-12-16zm23-3l11 45-8-47-12-16zm23-2l11 44-9-47-11-15zm22-4l12 45-9-47-11-15zm23-3l12 45-9-47-11-15zm251-57l12 43-9-47-11-13zm23-7l12 43-9-47-12-13zm23-7l11 42-8-47-12-13zm23-8l11 43-8-47-12-14zm23-7l11 42-9-47-11-13zm22-8l12 43-9-48-11-13z"/><path class=a45 d="M2733 469l12 45-9-49-11-15zm23-3l11 44-8-48-12-15zm23-3l11 44-8-48-12-15zm23-3l11 44-9-48-11-15zm22-3l12 44-9-47-11-16zm23-3l12 45-9-48-11-16zm525-119l12 42-9-48-11-13zm23-8l11 43-8-48-12-13zm23-7l11 42-8-48-12-13zm23-7l11 42-8-48-12-13zm23-8l11 43-9-48-11-14zm22-7l12 43-9-49-11-13z"/><path class=a46 d="M2665 480l11 44-9-49-11-15zm22-4l12 44-9-48-11-16zm23-3l12 44-9-49-11-15zm799-182l12 43-9-49-11-13zm23-6l11 42-8-49-12-13zm23-7l11 43-8-49-12-14z"/><path class=a40 d="M2967 489l12-48-9-18-11 19zm23-3l11-48-8-18-12 19zm23-4l11-48-8-18-12 19zm23-4l11-48-9-17-11 18zm23-4l11-48-9-18-11 19zm22-4l12-49-9-17-11 19zm23-5l12-49-9-17-11 19zm23-5l11-49-8-17-12 20zm23-5l11-49-8-18-12 20zm23-6l11-49-9-17-11 19zm22-6l12-49-9-18-11 20zm23-6l12-50-9-17-11 20zm23-7l12-49-9-18-12 20zm23-7l11-49-8-18-12 21zm23-6l11-50-8-18-12 20z"/><path class=a41 d="M2830 508l12-47-9-19-11 18zm23-3l12-48-9-18-12 18zm23-3l11-48-8-18-12 18zm23-3l11-48-8-18-12 18zm23-3l11-48-9-18-11 18zm22-4l12-47-9-18-11 18zm366-82l11-50-9-18-11 20zm22-8l12-49-9-19-11 21zm23-7l12-49-9-19-11 21zm23-7l11-50-8-18-12 20zm23-7l11-50-8-19-12 21zm23-7l11-50-8-19-12 21z"/><path class=a42 d="M2670 533l12-48-9-19-11 18zm23-4l12-48-9-19-11 19zm23-3l12-48-9-20-11 19zm23-4l11-48-8-19-12 18zm23-4l11-47-8-20-12 19zm23-3l11-48-9-19-11 19zm22-3l12-48-9-19-11 18zm640-145l11-50-9-19-11 20zm22-7l12-50-9-19-11 20zm23-7l12-50-9-19-11 20zm23-7l11-49-8-20-12 20zm23-7l11-49-8-20-12 21zm23-6l11-50-9-19-11 20z"/><path class=a44 d="M2933 448l11 44-8-47-12-15zm23-3l11 44-8-47-12-15zm23-4l11 45-9-47-11-16zm22-3l12 44-9-47-11-15zm23-4l12 44-9-47-11-15zm23-4l12 44-9-47-12-14zm23-4l11 44-8-47-12-15zm23-5l11 44-8-47-12-14zm23-5l11 44-9-46-11-15zm22-5l12 44-9-47-11-14zm23-5l12 43-9-47-11-14zm23-6l11 43-8-47-12-13zm23-6l11 43-8-47-12-14zm23-7l11 43-9-47-11-13zm23-6l11 42-9-46-11-14zm22-7l12 43-9-48-11-13zm23-7l12 43-9-48-11-13zm23-7l11 42-8-47-12-13z"/><path class=a45 d="M2773 471l12 44-9-48-11-16zm23-4l11 45-8-49-12-15zm23-3l11 44-8-48-12-15zm23-3l11 44-9-48-11-15zm23-4l11 45-9-48-11-15zm22-3l12 45-9-48-11-15zm23-3l12 45-9-48-11-15zm434-98l11 42-8-47-12-14zm23-7l11 42-9-48-11-13zm22-8l12 43-9-48-11-13zm23-7l12 43-9-48-11-14zm23-7l12 43-9-49-11-13zm23-7l11 43-8-49-12-13zm23-7l11 43-8-49-12-13z"/><path class=a46 d="M2682 485l11 44-8-48-12-15zm23-4l11 45-8-49-12-15zm23-3l11 44-9-49-11-15zm22-4l12 44-9-48-11-15zm754-171l11 43-9-49-11-13zm22-6l12 42-9-48-11-14zm23-7l12 43-9-49-11-14zm23-7l12 43-9-49-12-13z"/><path class=a40 d="M3053 480l11-48-8-18-12 19zm23-5l11-48-8-18-12 20zm23-4l11-48-9-18-11 19zm22-5l12-48-9-18-11 19zm23-5l12-49-9-17-11 19zm23-5l11-49-8-18-12 20zm23-6l11-49-8-17-12 19zm23-6l11-49-8-17-12 20zm23-6l11-49-9-18-11 20z"/><path class=a41 d="M2870 509l12-48-9-19-11 19zm23-3l12-48-9-19-11 19zm23-4l11-48-8-18-12 18zm23-3l11-48-8-19-12 19zm23-4l11-48-9-18-11 19zm22-4l12-47-9-19-11 19zm23-3l12-48-9-18-11 19zm23-4l12-48-9-18-11 19zm228-52l12-49-9-18-11 20zm23-6l12-50-9-18-11 20zm23-7l11-49-8-19-12 21zm23-7l11-49-8-19-12 21zm23-6l11-50-9-19-11 21zm22-7l12-50-9-19-11 21zm23-7l12-50-9-19-11 21zm23-7l12-50-9-19-11 21z"/><path class=a42 d="M2688 539l11-48-8-20-12 19zm23-4l11-48-9-20-11 19zm22-4l12-48-9-20-11 19zm23-4l12-48-9-19-11 19zm23-4l11-47-8-20-12 19zm23-3l11-48-8-19-12 18zm23-4l11-48-9-19-11 19zm23-3l11-48-9-19-11 18zm593-135l11-49-8-20-12 21zm23-7l11-49-8-19-12 20zm23-6l11-50-9-19-11 20zm22-7l12-50-9-19-11 20zm23-7l12-49-9-20-11 21zm23-6l12-50-9-19-12 20zm23-7l11-49-8-20-12 20z"/><path class=a44 d="M2996 444l11 44-8-47-12-16zm23-4l11 44-8-47-12-15zm23-4l11 44-9-47-11-15zm22-4l12 43-9-46-11-15zm23-5l12 44-9-47-11-15zm23-4l11 43-8-47-12-14zm23-5l11 43-8-47-12-14zm23-6l11 44-9-47-11-14zm22-5l12 43-9-47-11-14zm23-6l12 43-9-46-11-14zm23-6l12 43-9-47-11-13zm23-6l11 43-8-47-12-14zm23-6l11 43-8-48-12-13zm23-7l11 43-9-47-11-14z"/><path class=a45 d="M2836 468l12 45-9-49-12-15zm23-3l11 44-8-48-12-15zm23-4l11 45-8-48-12-16zm23-3l11 44-9-48-11-15zm22-4l12 45-9-48-11-15zm23-3l12 44-9-47-11-16zm23-4l11 44-8-47-12-15zm342-77l12 42-9-47-11-14zm23-7l12 43-9-48-11-14zm23-7l11 43-8-48-12-14zm23-7l11 43-8-48-12-14zm23-7l11 43-8-48-12-14zm23-7l11 43-9-48-11-14zm22-6l12 42-9-48-11-14z"/><path class=a46 d="M2699 491l12 44-9-49-11-15zm23-4l11 44-8-49-12-15zm23-4l11 44-8-48-12-16zm23-4l11 44-9-48-11-15zm22-3l12 44-9-49-11-15zm23-4l12 44-9-48-11-15zm662-150l12 43-9-49-11-13zm23-7l11 43-8-49-12-13zm23-7l11 43-8-48-12-14zm23-6l11 43-9-49-11-14zm23-7l11 43-9-49-11-13zm22-6l12 43-9-49-11-14z"/><path class=a41 d="M2933 506l12-48-9-19-11 19zm23-4l11-48-8-18-12 18zm23-4l11-48-8-18-12 19zm23-3l11-49-8-18-12 19zm23-4l11-49-9-18-11 19zm22-5l12-48-9-18-11 19zm23-4l12-48-9-18-11 19zm23-4l11-49-8-18-12 19zm23-5l11-48-8-18-12 19zm23-5l11-48-9-18-11 19zm23-5l11-48-9-19-11 20zm22-5l12-49-9-18-11 20zm23-6l12-48-9-19-11 20zm23-5l11-49-8-18-12 19zm23-6l11-49-8-19-12 20zm23-6l11-49-9-19-11 20zm22-7l12-49-9-18-11 20zm23-6l12-49-9-19-11 20zm23-6l12-50-9-18-12 20zm23-7l11-49-8-19-12 20zm23-7l11-49-8-19-12 20z"/><path class=a42 d="M2705 545l11-48-8-20-12 19zm23-4l11-48-8-20-12 19zm23-4l11-48-9-20-11 19zm22-4l12-48-9-20-11 19zm23-4l12-48-9-20-11 19zm23-4l12-48-9-20-12 19zm23-4l11-48-8-19-12 18zm23-4l11-48-8-19-12 19zm23-4l11-48-9-19-11 19zm22-3l12-48-9-19-11 19zm503-114l11-50-9-19-11 21zm22-7l12-49-9-19-11 20zm23-6l12-50-9-19-11 20zm23-7l11-49-8-20-12 21zm23-7l11-49-8-19-12 20zm23-6l11-49-9-20-11 20zm23-6l11-50-9-19-11 20zm22-7l12-49-9-20-11 20zm23-6l12-49-9-20-11 20z"/><path class=a44 d="M3104 429l12 44-9-47-11-15zm23-4l12 43-9-47-11-14zm23-5l12 43-9-47-12-14zm23-5l11 43-8-47-12-15zm23-6l11 43-8-47-12-14zm23-5l11 43-9-48-11-14z"/><path class=a45 d="M2876 469l12 44-9-48-11-15zm23-4l11 45-8-48-12-16zm23-3l11 44-8-48-12-15zm23-4l11 44-9-48-11-15zm22-4l12 44-9-47-11-15zm23-4l12 45-9-48-11-15zm23-4l12 45-9-48-11-15zm23-4l11 44-8-47-12-15zm23-4l11 44-8-47-12-15zm23-4l11 44-9-48-11-14zm159-36l12 43-9-48-11-13zm23-6l12 43-9-48-11-14zm23-6l11 42-8-47-12-14zm23-7l11 43-8-48-12-13zm23-6l11 43-9-48-11-14zm23-7l11 43-9-48-11-13zm22-6l12 42-9-48-11-13zm23-7l12 43-9-48-11-14zm23-7l11 43-8-48-12-14zm23-6l11 43-8-49-12-13z"/><path class=a46 d="M2716 497l12 44-9-49-11-15zm23-4l12 44-9-49-11-15zm23-4l11 44-8-49-12-15zm23-4l11 44-8-49-12-15zm23-4l11 44-9-49-11-15zm23-4l11 44-9-49-11-15zm22-4l12 44-9-48-11-15zm617-140l11 43-9-48-11-14zm22-6l12 42-9-48-11-14zm23-7l12 43-9-49-11-13zm23-6l12 43-9-49-12-14zm23-7l11 43-8-49-12-13zm23-6l11 43-8-49-12-14zm23-6l11 43-9-49-11-14z"/></g>
<path d="M1007.5 105.5L1007.5 399.0L1352.5 535.5L1809.0 432.0M1352.5 535.5L1364.1 540.1M1466.6 509.6L1478.2 514.2M1580.8 483.8L1592.4 488.3M1694.9 457.9L1706.5 462.5M1809.0 432.0L1820.6 436.6M1352.5 535.5L1340.3 538.3M1266.2 501.4L1254.1 504.1M1180.0 467.2L1167.8 470.0M1093.8 433.1L1081.6 435.9M1007.5 399.0L995.3 401.8M1007.5 332.0L995.9 327.4M1007.5 265.0L995.9 260.4M1007.5 198.0L995.9 193.4M1007.5 131.0L995.9 126.4" stroke="#4d4d4d" stroke-width="2.2" fill="none" stroke-linejoin="round"/>
</g>
<g>
<path d="M435.5 1131.5L81.1 1012.8M663.2 1086.0L308.9 967.3M891.0 1040.5L536.6 921.8M435.5 1131.5L891.0 1040.5M258.3 1072.2L713.8 981.1M81.1 1012.8L536.6 921.8M81.1 1012.8L81.1 759.1M308.9 967.3L308.9 713.6M536.6 921.8L536.6 668.1M81.1 973.4L536.6 882.4M81.1 934.0L536.6 843.0M81.1 894.6L536.6 803.6M81.1 855.2L536.6 764.2M81.1 815.8L536.6 724.8M81.1 776.4L536.6 685.4M891.0 1040.5L891.0 786.8M713.8 981.1L713.8 727.4M536.6 921.8L536.6 668.1M891.0 1001.1L536.6 882.4M891.0 961.7L536.6 843.0M891.0 922.3L536.6 803.6M891.0 882.9L536.6 764.2M891.0 843.5L536.6 724.8M891.0 804.1L536.6 685.4" stroke="#e4e4e4" stroke-width="2.4" fill="none"/>
<g transform="matrix(0.45550 -0.09100 -0.35440 -0.11870 486.05 1026.65)" fill="none" stroke-width="2.6" stroke-linejoin="round">
<path stroke="#463bdd" vector-effect="non-scaling-stroke" d="M133 404l15-91 12 35 4 34 8-14 8-60 9 8 7 59 8-2 5-57 9-16 1-16 9 32 0 17 8 12 4-29 10-16 2-15 1 15 7 10 8-2 5-56 3-10 8-3 16 100 23-207-3-16 4-16-4-16 3-16-5-16 3-16-5-16-16-159-16 100-8-3-3-10-5-56-8-2-7 10-1 15-2-15-10-16-4-29-8 12 0 17-9 32-1-16-9-16-5-57-8-2-7 59-9 8-8-60-8-14-4 34-12 35-16-93-6 58-10 34-16-94-16 94-10-34-6-58-16 93-12-35-4-34-8 14-8 60-9-8-7-59-8 2-5 57-9 16-1 16-9-32 0-17-8-12-4 29-10 16-2 15-1-15-7-10-8 2-5 56-3 10-8 3-16-100-23 207 3 16-4 16 4 16-3 16 5 16-3 16 5 16 16 159 16-100 8 3 3 10 5 56 8 2 7-10 1-15 2 15 10 16 4 29 8-12 0-17 9-32 1 16 9 16 5 57 8 2 7-59 9-8 8 60 8 14 4-34 12-35 16 93 6-58 10-34 16 94 16-94 10 34zM-147 236l4-8-5-8 11-16-1-24 5-16-3-16 7-16-6-16 3-12 7-4-7-4-3-12 6-16-7-16 0-48-12-24 5-8-5-8 0 16-10 16-4 104 4 104 10 16-3 8zM349 236l-1-16 10-16 4-104-4-104-10-16 0-16-5 8 5 8-12 24 0 48-7 16 6 16-3 12-7 4 7 4 3 12-6 16 7 16 0 48 12 24-5 8zM-196 36l0-5-3 5zM399 36l-3-5 0 8zM-196 76l2-8-2-10-8 10zM397 76l7-8-8-10-2 10zM-195 108l1-8-2-11-8 11 8 11zM399 108l5-11-8-8 0 22zM-196 140l2-8-2-9-8 9zM399 140l5-9-8-8 0 19zM-196 164l-3 0 3 5zM399 164l-3-3 0 8z"/>
<path stroke="#4756f7" vector-effect="non-scaling-stroke" d="M236 500l8-87 8-14 16 76 8-90 8-19 16 134 16-159 8 2 2 5 6 61 8-9 8-36 16 14 16-129 10 67 6 88 8-6 18-298-18-298-8-6-6 88-10 67-16-129-16 14-8-36-8-9-6 61-2 5-8 2-16-159-16 134-8-19-8-90-16 76-8-14-8-87-16 100-8-12-8-93-8-1-8 91-8 6-10-91-6-16-7 72-9 33-16-127-7 86-9 41-16-131-16 131-9-41-7-86-16 127-9-33-7-72-6 16-10 91-8-6-8-91-8 1-8 93-8 12-16-100-8 87-8 14-16-76-8 90-8 19-16-134-16 159-8-2-2-5-6-61-8 9-8 36-16-14-16 129-10-67-6-88-8 6-18 298 18 298 8 6 6-88 10-67 16 129 16-14 8 36 8 9 6-61 2-5 8-2 16 159 16-134 8 19 8 90 16-76 8 14 8 87M-299 276l8-176-9-180-7 180 7 180zM-242 276l8-80 3-128-8-136-5-14-8 0-5 14-4 64 0 200 4 72 5 14 8 0zM454 276l6-40 3-168-3-104-8-46-8 0-5 14-8 168 8 168 5 14 8 0zM500-80l-9 180 9 180M-36 500l16-100 8 12 8 88M204 500l8-88 8-12 16 100M5 500l7-85 8-6 10 91M38 500l5-56 9-33 11 89M71 500l13-89 12 89M104 500l12-89 13 89M137 500l11-89 9 33 5 56M170 500l10-91 8 6 7 85"/>
<path stroke="#3b72fe" vector-effect="non-scaling-stroke" d="M500-271l-15 219-9 50-16-202-8 7-12-15-4-23-9 87-7 14-8-52-8-127-8-4-7 105-9 36-16-137-10 61-6 9-16-98-7 89-9 21-16-175-16 163-9-41-7-102-16 113-10-43-6-87-8 38-8 90-8-14-8-114-6-1-10 107-8 15-8-96-8-40-7 102-9 33-16-156-6 91-10 66-16-160-16 160-10-66-6-91-16 156-9-33-7-102-8 40-8 96-8-15-10-107-6 1-8 114-8 14-8-90-8-38-6 87-10 43-16-113-7 102-9 41-16-163-16 175-9-21-7-89-16 98-6-9-10-61-16 137-9-36-7-105-8 4-8 127-8 52-7-14-9-87-4 23-12 15-8-7-16 202-9-50-15-219-12 203-4 168 4 168 12 203 15-219 9-50 16 202 8-7 12 15 4 23 9-87 7-14 8 52 7 114M-346 308l6-40 4-168-4-168-8-44-6 12-3 32-4 200 4 136 3 32 6 12zM-396 268l4-168-4-174-6 6 3 16-6 16-1 136 1 136 6 16-3 16 6 6zM-276 21l-1-9 1-5 1 5zM476 21l-1-9 1-5 1 5zM-276 193l-1-5 1-9 1 9zM476 193l-1-5 1-9 1 9zM405 500l7-114 8-52 7 14 9 87 4-23 12-15 8 7 16-202 9 50 15 219M-195 500l6-88 9-36 14 124M366 500l14-124 9 36 6 88M-129 500l5-53 8-16 7 69M309 500l7-69 8 16 5 53M-162 500l8-48 6-9 7 57M-90 500l6-57 9 57M275 500l9-57 6 57M341 500l7-57 6 9 8 48M-55 500l3-27 8 27M-23 500l3-25 7 9 2 16M211 500l2-16 7-9 3 25M244 500l8-27 3 27M12 500l8-18 1 18M49 500l3-17 1 17M82 500l2-18 2 18M114 500l2-18 2 18M147 500l1-17 3 17M179 500l1-18 8 18"/>
<path stroke="#2c8ef1" vector-effect="non-scaling-stroke" d="M35-500l-15 154-8-14-8-120-8 1-8 126-8 13-8-102-8-41-6 103-10 43-16-142-8 123-8 46-16-190-16 200-10-48-6-93-16 130-10-37-6-66-16 154-8-24-8-129-8 3-7 126-9 62-16-124-9 62-7 12-8-34-4 6-12 130-8 0-1-10-15-201-24 336-16-167-16 6-2 10-6 64-5 200 4 232 7 96 2 10 16 6 16-167 19 255M66-500l-14 155-8-35-8-120M98-500l-14 156-15-156M131-500l-15 156-14-156M164-500l-8 120-8 35-14-155M500-381l-15 201-1 10-8 0-12-130-4-6-8 34-7-12-9-62-16 124-9-62-7-126-8-3-8 129-8 24-16-154-6 66-10 37-16-130-6 93-10 48-16-200-16 190-8-46-8-123-16 142-10-43-6-103-8 41-8 102-8-13-8-126-8-1-8 120-8 14-15-154M-396 436l13-336-13-342-8 6-9 336 9 337 8 5zM-452 308l6-8 3-32 3-168-3-168-3-32-6-9-6 209zM-500 280l4-180-4-180M-294 500l9-120 1-10 8 0 12 130M464 500l12-130 8 0 1 10 9 120M-229 500l9-78 10 78M410 500l10-78 9 78M-189 500l9-40 4 40M376 500l4-40 9 40M-258 500l6-28 9 28M443 500l9-28 6 28"/>
<path stroke="#1fa6e2" vector-effect="non-scaling-stroke" d="M-165-500l-15 173-8-24-8-147-8 7-7 143-9 48-16-143-8 87-8 21-8-51-8-12-6 114-10 38-16-231-16 264-8 17-9-104-7-14-8 32-8-4-8 9-8 161-8 43-16-277-8 6-15 444 13 400M-135-500l-13 129-10-41-6-88M-104-500l-12 145-9-57-6-88M-71-500l-5 81-8 49-11-130M-39-500l-5 80-8 32-9-112M-7-500l-5 89-8 14-7-103M26-500l-6 95-8-9-5-86M60-500l-8 97-8-34-4-63M93-500l-9 100-11-100M127-500l-11 100-9-100M160-500l-4 63-8 34-8-97M193-500l-5 86-8 9-6-95M227-500l-7 103-8-14-5-89M261-500l-9 112-8-32-5-80M295-500l-11 130-8-49-5-81M331-500l-6 88-9 57-12-145M364-500l-6 88-10 41-13-129M500-477l-16 231-10-38-6-114-8 12-8 51-8-21-8-87-16 143-9-48-7-143-8-7-8 147-8 24-15-173M-500 471l8-171 4-200-4-200-8-171M-443 404l8-136 2-232-6-200-5-42-8-2-10 140-1 304 5 128 6 44zM-394 500l14-227 8 43 8 161 8 9 8-4 3 18M-333 500l9-104 8 17 5 87M-288 500l4-54 8 23 2 31M474 500l2-31 8-23 4 54"/>
<path stroke="#01b8ca" vector-effect="non-scaling-stroke" d="M-303-500l-13 216-8 2-8-123-8 4-8 56-16-38-16 200-16-259-8 4-15 322-1 10-8 3-8-165-8-18-10 10-6 16-9 360 9 360 6 16 10 10 8-18 8-165 8 3 11 194M-238-500l-6 84-8 29-8-73-8-22-7 134-9 35-13-187M-207-500l-5 99-8 43-13-142M-172-500l-8 118-8-27-5-91M-141-500l-7 81-8-30-4-51M-109-500l-7 92-11-92M-75-500l-9 83-7-83M-43-500l-9 60-5-60M-10-500l-2 35-8 20-4-55M23-500l-3 49-8-18-2-31M56-500l-4 52-9-52M89-500l-5 55-7-55M123-500l-7 55-5-55M157-500l-9 52-4-52M190-500l-2 31-8 18-3-49M224-500l-4 55-8-20-2-35M257-500l-5 60-9-60M291-500l-7 83-9-83M327-500l-11 92-7-92M360-500l-4 51-8 30-7-81M393-500l-5 91-8 27-8-118M433-500l-13 142-8-43-5-99M497-500l-13 187-9-35-7-134-8 22-8 73-8-29-6-84M-496 500l14-400-18-481M-390 500l10-117 10 117M-325 500l1-18 8 2 1 16"/>
<path stroke="#2bc3a8" vector-effect="non-scaling-stroke" d="M-404-500l-16 292-8-36-8-130-16 31-8-4-16 305-24-435M-307-500l-9 155-8-15-8-132-8 22-8 68-8-14-8-59-16 206-9-79-6-152M-271-500l-5 88-8 40-9-128M-242-500l-10 61-6-61M-209-500l-3 51-8 38-6-89M-176-500l-4 63-8-26-2-37M-145-500l-3 31-7-31M-112-500l-4 46-6-46M-80-500l-4 33-3-33M-49-500l-3 17-1-17M-17-500l-3 8 0-8M52-500l0 6-1-6M85-500l-1 11-1-11M117-500l-1 11-1-11M149-500l-1 6 0-6M220-500l0 8-3-8M253-500l-1 17-3-17M287-500l-3 33-4-33M322-500l-6 46-4-46M355-500l-7 31-3-31M390-500l-2 37-8 26-4-63M426-500l-6 89-8-38-3-51M458-500l-6 61-10-61M493-500l-9 128-8-40-5-88M-491 500l15-258 12 258M-431 500l3-56 8-36 7 92M-383 500l3-31 3 31"/>
<path stroke="#53cc7d" vector-effect="non-scaling-stroke" d="M-407-500l-13 219-16-186-7 47-9 21-8-30-7 65-9 179-8-40-13-275M-368-500l-12 165-7-53-6-112M-343-500l-5 53-11-53M-310-500l-6 98-8-19-5-79M-274-500l-10 81-5-81M-249-500l-3 18-2-18M-212-500l-8 38-3-38M-179-500l-1 19-5-19M385-500l-5 19-1-19M423-500l-3 38-8-38M454-500l-2 18-3-18M489-500l-5 81-10-81M-487 500l4-80 7-35 6 115M-422 500l2-19 1 19"/>
<path stroke="#97ca48" vector-effect="non-scaling-stroke" d="M-440-500l-12 55-8-49-6 26-10 188-8-16-10-204M-409-500l-11 155-13-155M-373-500l-7 112-10-112M-347-500l-1 6-2-6M-313-500l-3 54-9-54M-279-500l-5 31-2-31M486-500l-2 31-5-31M-484 500l8-20 1 20"/>
<path stroke="#d5be28" vector-effect="non-scaling-stroke" d="M-469-500l-7 145-8 3-7-148M-450-500l-2 10-1-10M-411-500l-9 96-8-96M-376-500l-4 59-8-59M-316-500l0 8-1-8"/>
<path stroke="#febf3c" vector-effect="non-scaling-stroke" d="M-472-500l-4 81-8 12-5-93M-415-500l-5 50-4-50M-379-500l-1 15-2-15"/>
<path stroke="#f7dc2a" vector-effect="non-scaling-stroke" d="M-475-500l-1 23-8 26-2-49"/>
<path stroke="#f9fa15" vector-effect="non-scaling-stroke" d=""/>
</g>
<g transform="scale(0.5)" stroke-width="1.4" stroke-linejoin="round"><path class=f18 d="M1100 1706l7 33-34-21-7-40z"/><path class=f25 d="M1093 1657l7 49-34-28-7-57z"/><path class=f24 d="M1085 1667l8-10-34-36-8 15z"/><path class=f18 d="M1078 1710l7-43-34-31-7 52z"/><path class=f17 d="M1071 1724l7-14-34-22-7 9z"/><path class=f18 d="M1063 1714l8 10-34-27-8-18z"/><path class=f17 d="M1056 1725l7-11-34-35-7 14z"/><path class=f15 d="M1049 1740l7-15-34-32-7 24z"/><path class=f18 d="M1042 1721l7 19-34-23-7-21z"/><path class=f21 d="M1034 1696l8 25-34-25-8-35z"/><path class=f18 d="M1027 1722l7-26-34-35-7 28z"/><path class=f12 d="M1020 1775l7-53-34-33-7 62z"/><path class=f11 d="M1012 1778l8-3-34-24-8 3z"/><path class=f17 d="M1005 1735l7 43-34-24-7-53z"/><path class=f19 d="M998 1721l7 14-34-34-7-14z"/><path class=f15 d="M991 1757l7-36-34-34-7 45z"/><path class=f12 d="M983 1780l8-23-34-25-8 26z"/><path class=f14 d="M976 1764l7 16-34-22-7-25z"/><path class=f15 d="M969 1758l7 6-34-31-7-10z"/><path class=f12 d="M961 1784l8-26-34-35-8 34z"/><path class=f11 d="M954 1794l7-10-34-27-7 15z"/><path class=f15 d="M947 1766l7 28-34-22-7-36z"/><path class=f16 d="M940 1756l7 10-34-30-7-16z"/><path class=f12 d="M932 1793l8-37-34-36-8 45z"/><path class=f8 d="M925 1823l7-30-34-28-7 36z"/><path class=f11 d="M918 1799l7 24-34-22-7-30z"/><path class=f15 d="M910 1770l8 29-34-28-8-37z"/><path class=f13 d="M903 1790l7-20-34-36-7 26z"/><path class=f9 d="M896 1824l7-34-34-30-7 42z"/><path class=f10 d="M889 1816l7 8-34-22-7-13z"/><path class=f13 d="M881 1791l8 25-34-27-8-33z"/><path class=f12 d="M874 1805l7-14-34-35-7 17z"/><path class=f8 d="M867 1836l7-31-34-32-7 40z"/><path class=f9 d="M859 1828l8 8-34-23-8-10z"/><path class=f13 d="M852 1798l7 30-34-25-7-39z"/><path class=f12 d="M845 1808l7-10-34-34-7 10z"/><path class=f7 d="M830 1847l8-2 7-37-34-34-7 47-8 2z"/><path class=f12 d="M816 1812l7 3 7 32-34-24-7-42-7-4z"/><path class=f8 d="M808 1847l8-35-34-35-8 45z"/><path class=f7 d="M801 1858l7-11-34-25-7 13z"/><path class=f11 d="M794 1829l7 29-34-23-7-38z"/><path class=f12 d="M787 1818l7 11-34-32-7-14z"/><path class=f8 d="M779 1850l8-32-34-35-8 40z"/><path class=f6 d="M772 1868l7-18-34-27-7 23z"/><path class=f10 d="M765 1841l7 27-34-22-7-35z"/><path class=f12 d="M757 1823l8 18-34-30-8-24z"/><path class=f9 d="M750 1851l7-28-34-36-7 35z"/><path class=f6 d="M743 1875l7-24-34-29-7 31z"/><path class=f9 d="M736 1854l7 21-34-22-7-28z"/><path class=f12 d="M728 1829l8 25-34-29-8-32z"/><path class=f10 d="M721 1850l7-21-34-36-7 27z"/><path class=f6 d="M714 1879l7-29-34-30-7 37z"/><path class=f8 d="M706 1865l8 14-34-22-8-19z"/><path class=f12 d="M699 1836l7 29-34-27-7-38z"/><path class=f11 d="M692 1849l7-13-34-36-7 17z"/><path class=f7 d="M685 1881l7-32-34-32-8 42z"/><path class=f8 d="M677 1873l8 8-35-22-7-11z"/><path class=f12 d="M663 1847l7-6 7 32-34-25-7-42-7 7z"/><path class=f7 d="M648 1883l7-1 8-35-34-34-8 45-7 1z"/><path class=f12 d="M641 1848l7 35-34-24-7-44z"/><path class=f13 d="M634 1842l7 6-34-33-8-8z"/><path class=f9 d="M626 1874l8-32-35-35-7 42z"/><path class=f8 d="M619 1885l7-11-34-25-7 14z"/><path class=f12 d="M612 1857l7 28-34-22-7-38z"/><path class=f13 d="M604 1846l8 11-34-32-8-14z"/><path class=f10 d="M597 1874l7-28-34-35-7 36z"/><path class=f9 d="M590 1885l7-11-34-27-7 16z"/><path class=f13 d="M582 1854l8 31-34-22-8-39z"/><path class=f15 d="M575 1837l7 17-34-30-7-23z"/><path class=f11 d="M568 1869l7-32-34-36-7 40z"/><path class=f8 d="M561 1896l7-27-34-28-7 33z"/><path class=f12 d="M553 1869l8 27-34-22-8-33z"/><path class=f16 d="M546 1834l7 35-34-28-7-43z"/><path class=f15 d="M539 1847l7-13-34-36-7 19z"/><path class=f11 d="M531 1878l8-31-34-30-8 39z"/><path class=f12 d="M524 1871l7 7-34-22-7-11z"/><path class=f15 d="M517 1849l7 22-34-26-7-32z"/><path class=f14 d="M510 1858l7-9-34-36-7 13z"/><path class=f12 d="M502 1876l8-18-34-32-8 28z"/><path class=f15 d="M495 1856l7 20-34-22-7-23z"/><path class=f19 d="M488 1823l7 33-34-25-7-43z"/><path class=f17 d="M480 1840l8-17-34-35-8 18z"/><path class=f11 d="M473 1886l7-46-34-34-7 56z"/><path class=f12 d="M466 1885l7 1-34-24-7-1z"/><path class=f18 d="M459 1836l7 49-34-24-7-59z"/><path class=f21 d="M451 1812l8 24-34-34-8-24z"/><path class=f18 d="M444 1840l7-28-34-34-7 37z"/><path class=f15 d="M437 1862l7-22-34-25-7 25z"/><path class=f17 d="M429 1850l8 12-34-22-8-22z"/><path class=f18 d="M422 1843l7 7-34-32-7-11z"/><path class=f17 d="M415 1855l7-12-34-36-7 21z"/><path class=f18 d="M408 1844l7 11-34-27-7-6z"/><path class=f24 d="M400 1803l8 41-34-22-8-49z"/><path class=f25 d="M393 1797l7 6-34-30-7-12z"/><path class=f18 d="M386 1849l7-52-34-36-7 60z"/><path class=f14 d="M378 1885l8-36-34-28-8 42z"/><path class=f19 d="M371 1846l7 39-34-22-7-46z"/><path class=f27 d="M357 1782l7 3 7 61-34-29-7-68-7 3z"/><path class=f23 d="M349 1819l8-37-34-30-8 45z"/><path class=f21 d="M342 1836l7-17-34-22-7 12z"/><path class=f22 d="M327 1830l8-1 7 7-34-27-7-15-8 4z"/><path class=f23 d="M320 1821l7 9-34-32-7 1z"/><path class=f29 d="M313 1777l7 44-34-22-7-47z"/><path class=f33 d="M306 1745l7 32-34-25-7-41z"/><path class=f28 d="M298 1786l8-41-34-34-8 42z"/><path class=f20 d="M284 1854l7 2 7-70-34-33-7 79-7-2z"/><path class=f30 d="M276 1777l8 77-34-24-8-87z"/><path class=f37 d="M269 1723l7 54-34-34-7-55z"/><path class=f34 d="M262 1744l7-21-34-35-7 31z"/><path class=f29 d="M255 1789l7-45-34-25-7 48z"/><path class=f27 d="M240 1807l7 0 8-18-34-22-8 8-7-4z"/><path class=f29 d="M233 1794l7 13-34-36-7-4z"/><path class=f35 d="M225 1747l8 47-34-27-8-42z"/><path class=f42 d="M218 1690l7 57-34-22-7-65z"/><path class=f41 d="M211 1703l7-13-34-30-7 7z"/><path class=f30 d="M204 1790l7-87-34-36-8 94z"/><path class=f24 d="M196 1843l8-53-35-29-7 60z"/><path class=f15 d="M1140 1744l7 26-40-31-7-33z"/><path class=f21 d="M1132 1702l8 42-40-38-7-49z"/><path class=f20 d="M1125 1706l7-4-39-45-8 10z"/><path class=f16 d="M1118 1741l7-35-40-39-7 43z"/><path class=f14 d="M1096 1766l7-7 7 1 8-19-40-31-7 14-8-10-7 11z"/><path class=f13 d="M1089 1772l7-6-40-41-7 15z"/><path class=f15 d="M1081 1755l8 17-40-32-7-19z"/><path class=f17 d="M1074 1740l7 15-39-34-8-25z"/><path class=f14 d="M1067 1765l7-25-40-44-7 26z"/><path class=f9 d="M1052 1811l7-4 8-42-40-43-7 53-8 3z"/><path class=f13 d="M1045 1777l7 34-40-33-7-43z"/><path class=f15 d="M1038 1765l7 12-40-42-7-14z"/><path class=f12 d="M1030 1791l8-26-40-44-7 36z"/><path class=f10 d="M1023 1812l7-21-39-34-8 23z"/><path class=f11 d="M1008 1803l8 3 7 6-40-32-7-16-7-6z"/><path class=f9 d="M994 1825l7-5 7-17-39-45-8 26-7 10z"/><path class=f11 d="M987 1805l7 20-40-31-7-28z"/><path class=f12 d="M979 1801l8 4-40-39-7-10z"/><path class=f9 d="M972 1831l7-30-39-45-8 37z"/><path class=f6 d="M965 1854l7-23-40-38-7 30z"/><path class=f8 d="M957 1837l8 17-40-31-7-24z"/><path class=f11 d="M950 1815l7 22-39-38-8-29z"/><path class=f9 d="M943 1829l7-14-40-45-7 20z"/><path class=f6 d="M936 1855l7-26-40-39-7 34z"/><path class=f7 d="M928 1851l8 4-40-31-7-8z"/><path class=f9 d="M921 1836l7 15-39-35-8-25z"/><path class=f8 d="M914 1846l7-10-40-45-7 14z"/><path class=f6 d="M899 1862l7 6 8-22-40-41-7 31-8-8z"/><path class=f9 d="M892 1842l7 20-40-34-7-30z"/><path class=f8 d="M885 1850l7-8-40-44-7 10z"/><path class=f5 d="M870 1880l7-2 8-28-40-42-7 37-8 2z"/><path class=f8 d="M855 1855l8 2 7 23-40-33-7-32-7-3z"/><path class=f5 d="M848 1881l7-26-39-43-8 35z"/><path class=f4 d="M841 1890l7-9-40-34-7 11z"/><path class=f7 d="M834 1870l7 20-40-32-7-29z"/><path class=f8 d="M826 1863l8 7-40-41-7-11z"/><path class=f5 d="M819 1886l7-23-39-45-8 32z"/><path class=f4 d="M812 1899l7-13-40-36-7 18z"/><path class=f6 d="M804 1881l8 18-40-31-7-27z"/><path class=f8 d="M797 1869l7 12-39-40-8-18z"/><path class=f6 d="M790 1888l7-19-40-46-7 28z"/><path class=f4 d="M783 1906l7-18-40-37-7 24z"/><path class=f6 d="M775 1891l8 15-40-31-7-21z"/><path class=f8 d="M768 1874l7 17-39-37-8-25z"/><path class=f6 d="M761 1889l7-15-40-45-7 21z"/><path class=f4 d="M753 1911l8-22-40-39-7 29z"/><path class=f5 d="M746 1901l7 10-39-32-8-14z"/><path class=f8 d="M739 1881l7 20-40-36-7-29z"/><path class=f7 d="M731 1890l8-9-40-45-7 13z"/><path class=f4 d="M724 1913l7-23-39-41-7 32z"/><path class=f5 d="M717 1907l7 6-39-32-8-8z"/><path class=f8 d="M702 1889l8-4 7 22-40-34-7-32-7 6z"/><path class=f5 d="M688 1916l7-1 7-26-39-42-8 35-7 1z"/><path class=f8 d="M680 1891l8 25-40-33-7-35z"/><path class=f9 d="M673 1886l7 5-39-43-7-6z"/><path class=f6 d="M659 1917l7-8 7-23-39-44-8 32-7 11z"/><path class=f8 d="M651 1898l8 19-40-32-7-28z"/><path class=f9 d="M644 1891l7 7-39-41-8-11z"/><path class=f7 d="M637 1910l7-19-40-45-7 28z"/><path class=f6 d="M629 1916l8-6-40-36-7 11z"/><path class=f9 d="M622 1893l7 23-39-31-8-31z"/><path class=f11 d="M615 1882l7 11-40-39-7-17z"/><path class=f8 d="M608 1907l7-25-40-45-7 32z"/><path class=f6 d="M600 1927l8-20-40-38-7 27z"/><path class=f9 d="M593 1907l7 20-39-31-8-27z"/><path class=f12 d="M586 1879l7 28-40-38-7-35z"/><path class=f11 d="M578 1887l8-8-40-45-7 13z"/><path class=f9 d="M564 1907l7 2 7-22-39-40-8 31-7-7z"/><path class=f11 d="M549 1899l8-6 7 14-40-36-7-22-7 9z"/><path class=f10 d="M542 1908l7-9-39-41-8 18z"/><path class=f12 d="M535 1890l7 18-40-32-7-20z"/><path class=f15 d="M527 1867l8 23-40-34-7-33z"/><path class=f13 d="M520 1882l7-15-39-44-8 17z"/><path class=f9 d="M506 1918l7 1 7-37-40-42-7 46-7-1z"/><path class=f14 d="M498 1878l8 40-40-33-7-49z"/><path class=f17 d="M491 1856l7 22-39-42-8-24z"/><path class=f15 d="M484 1874l7-18-40-44-7 28z"/><path class=f13 d="M476 1894l8-20-40-34-7 22z"/><path class=f14 d="M455 1891l7-4 7 4 7 3-39-32-8-12-7-7-7 12z"/><path class=f16 d="M447 1875l8 16-40-36-7-11z"/><path class=f20 d="M440 1843l7 32-39-31-8-41z"/><path class=f21 d="M433 1842l7 1-40-40-7-6z"/><path class=f15 d="M425 1887l8-45-40-45-7 52z"/><path class=f12 d="M418 1916l7-29-39-38-8 36z"/><path class=f16 d="M411 1883l7 33-40-31-7-39z"/><path class=f23 d="M404 1831l7 52-40-37-7-61z"/><path class=f24 d="M396 1821l8 10-40-46-7-3z"/><path class=f21 d="M389 1850l7-29-39-39-8 37z"/><path class=f18 d="M374 1874l8-2 7-22-40-31-7 17-7-7z"/><path class=f19 d="M367 1871l7 3-39-45-8 1z"/><path class=f21 d="M360 1853l7 18-40-41-7-9z"/><path class=f26 d="M353 1811l7 42-40-32-7-44z"/><path class=f29 d="M345 1789l8 22-40-34-7-32z"/><path class=f25 d="M338 1829l7-40-39-44-8 41z"/><path class=f17 d="M331 1889l7-60-40-43-7 70z"/><path class=f18 d="M323 1887l8 2-40-33-7-2z"/><path class=f26 d="M316 1819l7 68-39-33-8-77z"/><path class=f33 d="M309 1767l7 52-40-42-7-54z"/><path class=f32 d="M302 1778l7-11-40-44-7 21z"/><path class=f27 d="M294 1821l8-43-40-34-7 45z"/><path class=f23 d="M280 1851l7-3 7-27-39-32-8 18-7 0z"/><path class=f26 d="M272 1830l8 21-40-44-7-13z"/><path class=f33 d="M265 1778l7 52-39-36-8-47z"/><path class=f39 d="M258 1729l7 49-40-31-7-57z"/><path class=f37 d="M250 1748l8-19-40-39-7 13z"/><path class=f27 d="M243 1827l7-79-39-45-7 87z"/><path class=f22 d="M236 1873l7-46-39-37-8 53z"/><path class=f13 d="M1179 1774l8 20-40-24-7-26z"/><path class=f18 d="M1165 1737l7 1 7 36-39-30-8-42-7 4z"/><path class=f15 d="M1157 1766l8-29-40-31-7 35z"/><path class=f12 d="M1150 1788l7-22-39-25-8 19z"/><path class=f11 d="M1136 1799l7-4 7-7-40-28-7-1-7 7z"/><path class=f12 d="M1128 1797l8 2-40-33-7 6z"/><path class=f14 d="M1121 1782l7 15-39-25-8-17z"/><path class=f15 d="M1114 1775l7 7-40-27-7-15z"/><path class=f12 d="M1106 1799l8-24-40-35-7 25z"/><path class=f8 d="M1099 1833l7-34-39-34-8 42z"/><path class=f7 d="M1092 1837l7-4-40-26-7 4z"/><path class=f11 d="M1085 1811l7 26-40-26-7-34z"/><path class=f12 d="M1077 1800l8 11-40-34-7-12z"/><path class=f10 d="M1070 1818l7-18-39-35-8 26z"/><path class=f8 d="M1048 1839l7-1 8-1 7-19-40-27-7 21-7-6-8-3z"/><path class=f7 d="M1034 1849l7-1 7-9-40-36-7 17-7 5z"/><path class=f9 d="M1019 1837l7 0 8 12-40-24-7-20-8-4z"/><path class=f6 d="M1012 1861l7-24-40-36-7 30z"/><path class=f4 d="M1004 1878l8-17-40-30-7 23z"/><path class=f6 d="M997 1867l7 11-39-24-8-17z"/><path class=f8 d="M990 1851l7 16-40-30-7-22z"/><path class=f7 d="M983 1860l7-9-40-36-7 14z"/><path class=f5 d="M968 1880l7-1 8-19-40-31-7 26-8-4z"/><path class=f6 d="M953 1879l8-7 7 8-40-29-7-15-7 10z"/><path class=f4 d="M946 1893l7-14-39-33-8 22z"/><path class=f5 d="M939 1889l7 4-40-25-7-6z"/><path class=f6 d="M924 1884l8-7 7 12-40-27-7-20-7 8z"/><path class=f3 d="M910 1906l7-2 7-20-39-34-8 28-7 2z"/><path class=f5 d="M902 1891l8 15-40-26-7-23z"/><path class=f6 d="M895 1890l7 1-39-34-8-2z"/><path class=f4 d="M888 1908l7-18-40-35-7 26z"/><path class=f3 d="M881 1915l7-7-40-27-7 9z"/><path class=f5 d="M866 1899l7 4 8 12-40-25-7-20-8-7z"/><path class=f4 d="M859 1914l7-15-40-36-7 23z"/><path class=f3 d="M851 1923l8-9-40-28-7 13z"/><path class=f4 d="M844 1912l7 11-39-24-8-18z"/><path class=f5 d="M837 1905l7 7-40-31-7-12z"/><path class=f4 d="M829 1918l8-13-40-36-7 19z"/><path class=f2 d="M822 1930l7-12-39-30-7 18z"/><path class=f4 d="M815 1921l7 9-39-24-8-15z"/><path class=f5 d="M808 1910l7 11-40-30-7-17z"/><path class=f4 d="M800 1921l8-11-40-36-7 15z"/><path class=f3 d="M793 1935l7-14-39-32-8 22z"/><path class=f4 d="M786 1929l7 6-40-24-7-10z"/><path class=f5 d="M771 1923l7-7 8 13-40-28-7-20-8 9z"/><path class=f3 d="M764 1938l7-15-40-33-7 23z"/><path class=f4 d="M757 1934l7 4-40-25-7-6z"/><path class=f6 d="M749 1920l8 14-40-27-7-22z"/><path class=f5 d="M742 1923l7-3-39-35-8 4z"/><path class=f3 d="M727 1942l8-1 7-18-40-34-7 26-7 1z"/><path class=f6 d="M713 1921l7 4 7 17-39-26-8-25-7-5z"/><path class=f5 d="M706 1936l7-15-40-35-7 23z"/><path class=f4 d="M698 1942l8-6-40-27-7 8z"/><path class=f6 d="M684 1927l7 4 7 11-39-25-8-19-7-7z"/><path class=f5 d="M669 1940l7-2 8-11-40-36-7 19-8 6z"/><path class=f7 d="M662 1925l7 15-40-24-7-23z"/><path class=f8 d="M655 1918l7 7-40-32-7-11z"/><path class=f6 d="M647 1937l8-19-40-36-7 25z"/><path class=f4 d="M640 1951l7-14-39-30-8 20z"/><path class=f6 d="M633 1937l7 14-40-24-7-20z"/><path class=f9 d="M618 1918l7-2 8 21-40-30-7-28-8 8z"/><path class=f7 d="M604 1936l7-2 7-16-40-31-7 22-7-2z"/><path class=f8 d="M582 1933l7-2 7-2 8 7-40-29-7-14-8 6-7 9z"/><path class=f10 d="M574 1917l8 16-40-25-7-18z"/><path class=f12 d="M567 1902l7 15-39-27-8-23z"/><path class=f11 d="M560 1916l7-14-40-35-7 15z"/><path class=f7 d="M553 1944l7-28-40-34-7 37z"/><path class=f8 d="M545 1944l8 0-40-25-7-1z"/><path class=f12 d="M538 1912l7 32-39-26-8-40z"/><path class=f15 d="M531 1891l7 21-40-34-7-22z"/><path class=f14 d="M523 1901l8-10-40-35-7 18z"/><path class=f12 d="M516 1919l7-18-39-27-8 20z"/><path class=f11 d="M502 1923l7 1 7-5-40-25-7-3-7-4z"/><path class=f12 d="M494 1919l8 4-40-36-7 4z"/><path class=f15 d="M487 1900l7 19-39-28-8-16z"/><path class=f18 d="M472 1878l8-4 7 26-40-25-7-32-7-1z"/><path class=f13 d="M465 1916l7-38-39-36-8 45z"/><path class=f10 d="M458 1940l7-24-40-29-7 29z"/><path class=f14 d="M451 1913l7 27-40-24-7-33z"/><path class=f20 d="M443 1867l8 46-40-30-7-52z"/><path class=f22 d="M436 1853l7 14-39-36-8-10z"/><path class=f19 d="M429 1875l7-22-40-32-7 29z"/><path class=f16 d="M421 1900l8-25-40-25-7 22z"/><path class=f15 d="M414 1910l7-10-39-28-8 2z"/><path class=f16 d="M407 1904l7 6-40-36-7-3z"/><path class=f20 d="M400 1878l7 26-40-33-7-18z"/><path class=f25 d="M392 1838l8 40-40-25-7-42z"/><path class=f27 d="M385 1824l7 14-39-27-8-22z"/><path class=f22 d="M378 1863l7-39-40-35-7 40z"/><path class=f16 d="M363 1913l7 2 8-52-40-34-7 60-8-2z"/><path class=f24 d="M356 1853l7 60-40-26-7-68z"/><path class=f30 d="M341 1805l7-3 8 51-40-34-7-52-7 11z"/><path class=f25 d="M334 1846l7-41-39-27-8 43z"/><path class=f21 d="M327 1881l7-35-40-25-7 27z"/><path class=f20 d="M319 1887l8-6-40-33-7 3z"/><path class=f24 d="M312 1858l7 29-39-36-8-21z"/><path class=f31 d="M305 1802l7 56-40-28-7-52z"/><path class=f37 d="M297 1761l8 41-40-24-7-49z"/><path class=f34 d="M290 1784l7-23-39-32-8 19z"/><path class=f25 d="M283 1857l7-73-40-36-7 79z"/><path class=f20 d="M276 1898l7-41-40-30-7 46z"/><path class=f12 d="M1219 1798l7 17-39-21-8-20z"/><path class=f16 d="M1212 1768l7 30-40-24-7-36z"/><path class=f17 d="M1204 1763l8 5-40-30-7-1z"/><path class=f14 d="M1197 1786l7-23-39-26-8 29z"/><path class=f11 d="M1190 1812l7-26-40-20-7 22z"/><path class=f9 d="M1175 1825l8-1 7-12-40-24-7 7-7 4z"/><path class=f11 d="M1168 1818l7 7-39-26-8-2z"/><path class=f12 d="M1161 1804l7 14-40-21-7-15z"/><path class=f13 d="M1153 1803l8 1-40-22-7-7z"/><path class=f10 d="M1146 1826l7-23-39-28-8 24z"/><path class=f7 d="M1139 1855l7-29-40-27-7 34z"/><path class=f6 d="M1132 1858l7-3-40-22-7 4z"/><path class=f9 d="M1124 1839l8 19-40-21-7-26z"/><path class=f10 d="M1117 1829l7 10-39-28-8-11z"/><path class=f9 d="M1110 1841l7-12-40-29-7 18z"/><path class=f7 d="M1102 1858l8-17-40-23-7 19z"/><path class=f6 d="M1073 1869l8 3 7-4 7-3 7-7-39-21-8 1-7 1-7 9-7 1z"/><path class=f8 d="M1066 1862l7 7-39-20-8-12z"/><path class=f7 d="M1059 1866l7-4-40-25-7 0z"/><path class=f5 d="M1051 1885l8-19-40-29-7 24z"/><path class=f4 d="M1044 1898l7-13-39-24-8 17z"/><path class=f5 d="M1037 1891l7 7-40-20-7-11z"/><path class=f6 d="M1022 1886l8-5 7 10-40-24-7-16-7 9z"/><path class=f4 d="M993 1905l7-4 8 2 7-4 7-13-39-26-8 19-7 1-7-8-8 7z"/><path class=f3 d="M986 1913l7-8-40-26-7 14z"/><path class=f4 d="M979 1911l7 2-40-20-7-4z"/><path class=f5 d="M971 1906l8 5-40-22-7-12z"/><path class=f4 d="M964 1912l7-6-39-29-8 7z"/><path class=f2 d="M949 1927l8-2 7-13-40-28-7 20-7 2z"/><path class=f4 d="M935 1919l7 0 7 8-39-21-8-15-7-1z"/><path class=f3 d="M927 1930l8-11-40-29-7 18z"/><path class=f2 d="M920 1935l7-5-39-22-7 7z"/><path class=f3 d="M906 1928l7 1 7 6-39-20-8-12-7-4z"/><path class=f2 d="M891 1944l7-6 8-10-40-29-7 15-8 9z"/><path class=f3 d="M876 1934l8 4 7 6-40-21-7-11-7-7z"/><path class=f2 d="M855 1946l7 4 7-7 7-9-39-29-8 13-7 12-7-9z"/><path class=f3 d="M840 1946l7-6 8 6-40-25-7-11-8 11z"/><path class=f2 d="M825 1952l8 3 7-9-40-25-7 14-7-6z"/><path class=f3 d="M811 1950l7-5 7 7-39-23-8-13-7 7z"/><path class=f2 d="M804 1959l7-9-40-27-7 15z"/><path class=f3 d="M796 1956l8 3-40-21-7-4z"/><path class=f4 d="M782 1951l7-3 7 8-39-22-8-14-7 3z"/><path class=f2 d="M767 1963l7-1 8-11-40-28-7 18-8 1z"/><path class=f4 d="M760 1953l7 10-40-21-7-17z"/><path class=f5 d="M753 1949l7 4-40-28-7-4z"/><path class=f4 d="M745 1958l8-9-40-28-7 15z"/><path class=f3 d="M738 1963l7-5-39-22-8 6z"/><path class=f4 d="M709 1961l7 0 7-5 8 2 7 5-40-21-7-11-7-4-8 11-7 2z"/><path class=f6 d="M694 1948l8 2 7 11-40-21-7-15-7-7z"/><path class=f5 d="M687 1961l7-13-39-30-8 19z"/><path class=f4 d="M680 1971l7-10-40-24-7 14z"/><path class=f5 d="M672 1961l8 10-40-20-7-14z"/><path class=f7 d="M665 1945l7 16-39-24-8-21z"/><path class=f8 d="M658 1944l7 1-40-29-7 2z"/><path class=f6 d="M629 1958l7 0 7 1 8-5 7-10-40-26-7 16-7 2-8-7-7 2z"/><path class=f7 d="M621 1954l8 4-40-27-7 2z"/><path class=f9 d="M614 1940l7 14-39-21-8-16z"/><path class=f10 d="M607 1930l7 10-40-23-7-15z"/><path class=f9 d="M600 1944l7-14-40-28-7 14z"/><path class=f6 d="M592 1966l8-22-40-28-7 28z"/><path class=f7 d="M585 1965l7 1-39-22-8 0z"/><path class=f10 d="M578 1940l7 25-40-21-7-32z"/><path class=f13 d="M570 1920l8 20-40-28-7-21z"/><path class=f12 d="M563 1924l7-4-39-29-8 10z"/><path class=f11 d="M556 1940l7-16-40-23-7 18z"/><path class=f9 d="M541 1952l8-1 7-11-40-21-7 5-7-1z"/><path class=f11 d="M534 1943l7 9-39-29-8-4z"/><path class=f14 d="M527 1920l7 23-40-24-7-19z"/><path class=f17 d="M519 1900l8 20-40-20-7-26z"/><path class=f16 d="M512 1908l7-8-39-26-8 4z"/><path class=f12 d="M505 1941l7-33-40-30-7 38z"/><path class=f10 d="M498 1960l7-19-40-25-7 24z"/><path class=f13 d="M490 1938l8 22-40-20-7-27z"/><path class=f18 d="M483 1896l7 42-39-25-8-46z"/><path class=f20 d="M476 1878l7 18-40-29-7-14z"/><path class=f18 d="M468 1895l8-17-40-25-7 22z"/><path class=f15 d="M461 1923l7-28-39-20-8 25z"/><path class=f13 d="M454 1939l7-16-40-23-7 10z"/><path class=f14 d="M446 1931l8 8-40-29-7-6z"/><path class=f19 d="M439 1899l7 32-39-27-7-26z"/><path class=f24 d="M432 1861l7 38-39-21-8-40z"/><path class=f25 d="M425 1853l7 8-40-23-7-14z"/><path class=f20 d="M417 1891l8-38-40-29-7 39z"/><path class=f15 d="M403 1934l7 2 7-45-39-28-8 52-7-2z"/><path class=f22 d="M395 1881l8 53-40-21-7-60z"/><path class=f28 d="M388 1830l7 51-39-28-8-51z"/><path class=f29 d="M381 1828l7 2-40-28-7 3z"/><path class=f24 d="M374 1867l7-39-40-23-7 41z"/><path class=f19 d="M366 1908l8-41-40-21-7 35z"/><path class=f18 d="M359 1916l7-8-39-27-8 6z"/><path class=f23 d="M352 1881l7 35-40-29-7-29z"/><path class=f31 d="M344 1822l8 59-40-23-7-56z"/><path class=f35 d="M337 1786l7 36-39-20-8-41z"/><path class=f32 d="M330 1813l7-27-40-25-7 23z"/><path class=f24 d="M323 1882l7-69-40-29-7 73z"/><path class=f19 d="M315 1918l8-36-40-25-7 41z"/><path class=f10 d="M1259 1825l7 13-40-23-7-17z"/><path class=f14 d="M1251 1798l8 27-40-27-7-30z"/><path class=f15 d="M1244 1790l7 8-39-30-8-5z"/><path class=f13 d="M1237 1809l7-19-40-27-7 23z"/><path class=f9 d="M1230 1837l7-28-40-23-7 26z"/><path class=f7 d="M1222 1854l8-17-40-25-7 12z"/><path class=f8 d="M1215 1853l7 1-39-30-8 1z"/><path class=f9 d="M1208 1841l7 12-40-28-7-7z"/><path class=f11 d="M1193 1833l7-4 8 12-40-23-7-14-8-1z"/><path class=f8 d="M1186 1855l7-22-40-30-7 23z"/><path class=f5 d="M1171 1882l8-3 7-24-40-29-7 29-7 3z"/><path class=f7 d="M1164 1868l7 14-39-24-8-19z"/><path class=f8 d="M1149 1865l8-7 7 10-40-29-7-10-7 12z"/><path class=f6 d="M1142 1881l7-16-39-24-8 17z"/><path class=f5 d="M1135 1893l7-12-40-23-7 7z"/><path class=f4 d="M1128 1898l7-5-40-28-7 3z"/><path class=f5 d="M1113 1893l7 4 8 1-40-30-7 4-8-3z"/><path class=f6 d="M1106 1890l7 3-40-24-7-7z"/><path class=f5 d="M1098 1896l8-6-40-28-7 4z"/><path class=f3 d="M1091 1912l7-16-39-30-8 19z"/><path class=f2 d="M1084 1921l7-9-40-27-7 13z"/><path class=f3 d="M1077 1918l7 3-40-23-7-7z"/><path class=f4 d="M1062 1913l7-2 8 7-40-27-7-10-8 5z"/><path class=f3 d="M1055 1923l7-10-40-27-7 13z"/><path class=f2 d="M1004 1941l7-6 7 1 7 1 8-3 7-4 7-1 8-6-40-24-7 4-8-2-7 4-7 8-7-2-8-5-7 6z"/><path class=f1 d="M989 1951l7-2 8-8-40-29-7 13-8 2z"/><path class=f2 d="M974 1948l8 0 7 3-40-24-7-8-7 0z"/><path class=f1 d="M909 1969l7-5 7 1 8 2 7-4 7-5 8-1 7 2 7-4 7-7-39-29-8 11-7 5-7-6-7-1-8 10-7 6-7-6-8-4-7 9z"/><path class=f0 d="M902 1974l7-5-40-26-7 7z"/><path class=f1 d="M836 1981l7 1 8-4 7-3 7 3 7 1 8-5 7-4 7 2 8 2-40-24-7-4-8-6-7 6-7 9-8-3-7-7-7 5-7 9-8-3z"/><path class=f2 d="M821 1980l8-2 7 3-40-25-7-8-7 3z"/><path class=f1 d="M807 1987l7-1 7-6-39-29-8 11-7 1z"/><path class=f2 d="M756 1987l7-1 7 0 8 0 7-3 7-4 8 2 7 6-40-24-7-10-7-4-8 9-7 5-7-5-8-2-7 5z"/><path class=f3 d="M749 1984l7 3-40-26-7 0z"/><path class=f4 d="M734 1978l7-1 8 7-40-23-7-11-8-2z"/><path class=f3 d="M727 1988l7-10-40-30-7 13z"/><path class=f2 d="M719 1994l8-6-40-27-7 10z"/><path class=f3 d="M712 1987l7 7-39-23-8-10z"/><path class=f5 d="M705 1975l7 12-40-26-7-16z"/><path class=f6 d="M698 1971l7 4-40-30-7-1z"/><path class=f5 d="M683 1985l7-8 8-6-40-27-7 10-8 5z"/><path class=f4 d="M676 1988l7-3-40-26-7-1z"/><path class=f5 d="M668 1986l8 2-40-30-7 0z"/><path class=f6 d="M661 1977l7 9-39-28-8-4z"/><path class=f8 d="M647 1960l7 4 7 13-40-23-7-14-7-10z"/><path class=f7 d="M639 1973l8-13-40-30-7 14z"/><path class=f5 d="M625 1989l7 1 7-17-39-29-8 22-7-1z"/><path class=f8 d="M617 1969l8 20-40-24-7-25z"/><path class=f11 d="M603 1949l7 0 7 20-39-29-8-20-7 4z"/><path class=f9 d="M595 1963l8-14-40-25-7 16z"/><path class=f8 d="M588 1979l7-16-39-23-7 11z"/><path class=f7 d="M581 1982l7-3-39-28-8 1z"/><path class=f9 d="M574 1968l7 14-40-30-7-9z"/><path class=f13 d="M566 1943l8 25-40-25-7-23z"/><path class=f15 d="M559 1927l7 16-39-23-8-20z"/><path class=f14 d="M552 1938l7-11-40-27-7 8z"/><path class=f10 d="M544 1967l8-29-40-30-7 33z"/><path class=f8 d="M537 1983l7-16-39-26-7 19z"/><path class=f11 d="M530 1964l7 19-39-23-8-22z"/><path class=f16 d="M523 1926l7 38-40-26-7-42z"/><path class=f19 d="M515 1906l8 20-40-30-7-18z"/><path class=f17 d="M508 1918l7-12-39-28-8 17z"/><path class=f13 d="M501 1949l7-31-40-23-7 28z"/><path class=f11 d="M493 1969l8-20-40-26-7 16z"/><path class=f13 d="M486 1959l7 10-39-30-8-8z"/><path class=f17 d="M479 1922l7 37-40-28-7-32z"/><path class=f22 d="M472 1886l7 36-40-23-7-38z"/><path class=f23 d="M464 1882l8 4-40-25-7-8z"/><path class=f18 d="M457 1919l7-37-39-29-8 38z"/><path class=f13 d="M450 1960l7-41-40-28-7 45z"/><path class=f14 d="M442 1958l8 2-40-24-7-2z"/><path class=f20 d="M435 1910l7 48-39-24-8-53z"/><path class=f26 d="M428 1860l7 50-40-29-7-51z"/><path class=f28 d="M421 1852l7 8-40-30-7-2z"/><path class=f23 d="M413 1890l8-38-40-24-7 39z"/><path class=f18 d="M406 1936l7-46-39-23-8 41z"/><path class=f16 d="M399 1946l7-10-40-28-7 8z"/><path class=f21 d="M391 1907l8 39-40-30-7-35z"/><path class=f29 d="M384 1846l7 61-39-26-8-59z"/><path class=f33 d="M377 1814l7 32-40-24-7-36z"/><path class=f30 d="M370 1843l7-29-40-28-7 27z"/><path class=f22 d="M362 1908l8-65-40-30-7 69z"/><path class=f18 d="M355 1941l7-33-39-26-8 36z"/><path class=f9 d="M1298 1844l8 11-40-17-7-13z"/><path class=f13 d="M1291 1820l7 24-39-19-8-27z"/><path class=f14 d="M1284 1810l7 10-40-22-7-8z"/><path class=f12 d="M1277 1827l7-17-40-20-7 19z"/><path class=f9 d="M1269 1856l8-29-40-18-7 28z"/><path class=f6 d="M1262 1876l7-20-39-19-8 17z"/><path class=f7 d="M1255 1874l7 2-40-22-7-1z"/><path class=f9 d="M1247 1859l8 15-40-21-7-12z"/><path class=f10 d="M1233 1854l7-6 7 11-39-18-8-12-7 4z"/><path class=f7 d="M1226 1877l7-23-40-21-7 22z"/><path class=f5 d="M1218 1897l8-20-40-22-7 24z"/><path class=f4 d="M1211 1901l7-4-39-18-8 3z"/><path class=f6 d="M1204 1889l7 12-40-19-7-14z"/><path class=f7 d="M1189 1884l7-4 8 9-40-21-7-10-8 7z"/><path class=f5 d="M1182 1899l7-15-40-19-7 16z"/><path class=f4 d="M1175 1914l7-15-40-18-7 12z"/><path class=f3 d="M1167 1920l8-6-40-21-7 5z"/><path class=f4 d="M1160 1916l7 4-39-22-8-1z"/><path class=f5 d="M1145 1910l8 0 7 6-40-19-7-4-7-3z"/><path class=f4 d="M1138 1918l7-8-39-20-8 6z"/><path class=f3 d="M1131 1931l7-13-40-22-7 16z"/><path class=f2 d="M1116 1938l7 1 8-8-40-19-7 9-7-3z"/><path class=f3 d="M1102 1934l7-1 7 5-39-20-8-7-7 2z"/><path class=f2 d="M1087 1948l7-8 8-6-40-21-7 10-8 6z"/><path class=f1 d="M1065 1955l7-1 8-2 7-4-40-19-7 1-7 4-8 3z"/><path class=f2 d="M1058 1955l7 0-40-18-7-1z"/><path class=f1 d="M1043 1962l8-5 7-2-40-19-7-1-7 6z"/><path class=f0 d="M1029 1970l7-2 7-6-39-21-8 8-7 2z"/><path class=f1 d="M1014 1970l7-1 8 1-40-19-7-3-8 0z"/><path class=f0 d="M876 2000l7 0 7-1 8-2 7 0 7-1 7-2 8-2 7 0 7-1 8-2 7-3 7-1 7 0 8-3 7-2 7-2 8-1 7-3 7-4-40-22-7 7-7 4-7-2-8 1-7 5-7 4-8-2-7-1-7 5-7 5-8-2-7-2-7 4-8 5-7-1-7-3-7 3-8 4-7-1z"/><path class=f1 d="M861 2001l7-2 8 1-40-19-7-3-8 2z"/><path class=f0 d="M847 2005l7 0 7-4-40-21-7 6-7 1z"/><path class=f1 d="M832 2000l7 3 8 2-40-18-7-6-8-2z"/><path class=f2 d="M825 2001l7-1-40-21-7 4z"/><path class=f1 d="M803 2008l7-1 7-3 8-3-40-18-7 3-8 0-7 0z"/><path class=f2 d="M788 2002l8 4 7 2-40-22-7 1-7-3z"/><path class=f3 d="M774 2000l7-2 7 4-39-18-8-7-7 1z"/><path class=f2 d="M759 2012l7-5 8-7-40-22-7 10-8 6z"/><path class=f3 d="M752 2007l7 5-40-18-7-7z"/><path class=f4 d="M745 1997l7 10-40-20-7-12z"/><path class=f5 d="M730 1995l7-4 8 6-40-22-7-4-8 6z"/><path class=f4 d="M723 2004l7-9-40-18-7 8z"/><path class=f3 d="M715 2010l8-6-40-19-7 3z"/><path class=f4 d="M708 2007l7 3-39-22-8-2z"/><path class=f5 d="M701 1995l7 12-40-21-7-9z"/><path class=f7 d="M686 1982l7 1 8 12-40-18-7-13-7-4z"/><path class=f6 d="M679 1994l7-12-39-22-8 13z"/><path class=f4 d="M672 2008l7-14-40-21-7 17z"/><path class=f5 d="M664 2008l8 0-40-18-7-1z"/><path class=f7 d="M657 1990l7 18-39-19-8-20z"/><path class=f10 d="M642 1967l8 4 7 19-40-21-7-20-7 0z"/><path class=f9 d="M635 1981l7-14-39-18-8 14z"/><path class=f7 d="M628 2000l7-19-40-18-7 16z"/><path class=f6 d="M621 2004l7-4-40-21-7 3z"/><path class=f9 d="M613 1987l8 17-40-22-7-14z"/><path class=f12 d="M606 1961l7 26-39-19-8-25z"/><path class=f14 d="M599 1947l7 14-40-18-7-16z"/><path class=f13 d="M591 1960l8-13-40-20-7 11z"/><path class=f9 d="M584 1987l7-27-39-22-8 29z"/><path class=f8 d="M577 2001l7-14-40-20-7 16z"/><path class=f10 d="M570 1984l7 17-40-18-7-19z"/><path class=f15 d="M562 1948l8 36-40-20-7-38z"/><path class=f18 d="M555 1926l7 22-39-22-8-20z"/><path class=f17 d="M548 1936l7-10-40-20-7 12z"/><path class=f13 d="M540 1968l8-32-40-18-7 31z"/><path class=f10 d="M533 1991l7-23-39-19-8 20z"/><path class=f12 d="M526 1980l7 11-40-22-7-10z"/><path class=f17 d="M519 1940l7 40-40-21-7-37z"/><path class=f21 d="M511 1904l8 36-40-18-7-36z"/><path class=f22 d="M504 1904l7 0-39-18-8-4z"/><path class=f17 d="M497 1941l7-37-40-22-7 37z"/><path class=f13 d="M482 1976l7 2 8-37-40-22-7 41-8-2z"/><path class=f19 d="M475 1931l7 45-40-18-7-48z"/><path class=f25 d="M468 1881l7 50-40-21-7-50z"/><path class=f27 d="M460 1871l8 10-40-21-7-8z"/><path class=f22 d="M453 1908l7-37-39-19-8 38z"/><path class=f17 d="M446 1956l7-48-40-18-7 46z"/><path class=f15 d="M438 1968l8-12-40-20-7 10z"/><path class=f21 d="M431 1926l7 42-39-22-8-39z"/><path class=f29 d="M424 1863l7 63-40-19-7-61z"/><path class=f33 d="M417 1834l7 29-40-17-7-32z"/><path class=f29 d="M409 1865l8-31-40-20-7 29z"/><path class=f21 d="M402 1928l7-63-39-22-8 65z"/><path class=f18 d="M395 1959l7-31-40-20-7 33z"/><path class=f9 d="M1338 1858l7 10-39-13-8-11z"/><path class=f12 d="M1331 1834l7 24-40-14-7-24z"/><path class=f14 d="M1324 1824l7 10-40-14-7-10z"/><path class=f12 d="M1316 1840l8-16-40-14-7 17z"/><path class=f9 d="M1309 1869l7-29-39-13-8 29z"/><path class=f6 d="M1302 1890l7-21-40-13-7 20z"/><path class=f7 d="M1294 1888l8 2-40-14-7-2z"/><path class=f9 d="M1287 1871l7 17-39-14-8-15z"/><path class=f10 d="M1272 1868l8-7 7 10-40-12-7-11-7 6z"/><path class=f7 d="M1265 1890l7-22-39-14-7 23z"/><path class=f5 d="M1251 1913l7-3 7-20-39-13-8 20-7 4z"/><path class=f6 d="M1243 1903l8 10-40-12-7-12z"/><path class=f7 d="M1229 1897l7-3 7 9-39-14-8-9-7 4z"/><path class=f5 d="M1221 1912l8-15-40-13-7 15z"/><path class=f4 d="M1214 1928l7-16-39-13-7 15z"/><path class=f3 d="M1207 1934l7-6-39-14-8 6z"/><path class=f4 d="M1200 1929l7 5-40-14-7-4z"/><path class=f5 d="M1185 1923l7 0 8 6-40-13-7-6-8 0z"/><path class=f4 d="M1178 1933l7-10-40-13-7 8z"/><path class=f3 d="M1170 1945l8-12-40-15-7 13z"/><path class=f2 d="M1156 1951l7 0 7-6-39-14-8 8-7-1z"/><path class=f3 d="M1134 1953l7-6 8 0 7 4-40-13-7-5-7 1-8 6z"/><path class=f2 d="M1127 1961l7-8-40-13-7 8z"/><path class=f1 d="M1105 1967l7 1 7-1 8-6-40-13-7 4-8 2-7 1z"/><path class=f2 d="M1098 1968l7-1-40-12-7 0z"/><path class=f1 d="M1076 1980l7-4 7-5 8-3-40-13-7 2-8 5-7 6z"/><path class=f0 d="M1068 1982l8-2-40-12-7 2z"/><path class=f1 d="M1047 1986l7-2 7-1 7-1-39-12-8-1-7 1-7 4z"/><path class=f0 d="M923 2013l7-1 7-1 8-1 7-1 7-2 7-1 8-1 7-1 7-2 8-2 7-1 7-2 7-2 8-1 7-2 7-3 8-3-40-12-7 3-8 1-7 2-7 2-8 3-7 0-7 1-7 3-8 2-7 1-7 0-8 2-7 2-7 1-7 0-8 2-7 1z"/><path class=f1 d="M901 2015l7-2 7 0 8 0-40-13-7 0-8-1-7 2z"/><path class=f0 d="M894 2017l7-2-40-14-7 4z"/><path class=f1 d="M872 2014l7 3 7 1 8-1-40-12-7 0-8-2-7-3z"/><path class=f2 d="M864 2014l8 0-40-14-7 1z"/><path class=f1 d="M843 2022l7-2 7-3 7-3-39-13-8 3-7 3-7 1z"/><path class=f2 d="M835 2019l8 3-40-14-7-2z"/><path class=f3 d="M813 2014l8-3 7 3 7 5-39-13-8-4-7-4-7 2z"/><path class=f2 d="M799 2024l7-3 7-7-39-14-8 7-7 5z"/><path class=f3 d="M791 2020l8 4-40-12-7-5z"/><path class=f4 d="M784 2011l7 9-39-13-7-10z"/><path class=f5 d="M770 2007l7-2 7 6-39-14-8-6-7 4z"/><path class=f4 d="M762 2017l8-10-40-12-7 9z"/><path class=f3 d="M755 2024l7-7-39-13-8 6z"/><path class=f4 d="M748 2021l7 3-40-14-7-3z"/><path class=f5 d="M740 2008l8 13-40-14-7-12z"/><path class=f7 d="M726 1996l7 0 7 12-39-13-8-12-7-1z"/><path class=f6 d="M719 2008l7-12-40-14-7 12z"/><path class=f5 d="M704 2020l7 1 8-13-40-14-7 14-8 0z"/><path class=f7 d="M697 2004l7 16-40-12-7-18z"/><path class=f10 d="M682 1980l7 5 8 19-40-14-7-19-8-4z"/><path class=f9 d="M675 1994l7-14-40-13-7 14z"/><path class=f7 d="M668 2013l7-19-40-13-7 19z"/><path class=f6 d="M660 2018l8-5-40-13-7 4z"/><path class=f9 d="M653 2000l7 18-39-14-8-17z"/><path class=f12 d="M646 1973l7 27-40-13-7-26z"/><path class=f14 d="M638 1961l8 12-40-12-7-14z"/><path class=f12 d="M631 1974l7-13-39-14-8 13z"/><path class=f9 d="M624 2000l7-26-40-14-7 27z"/><path class=f8 d="M617 2013l7-13-40-13-7 14z"/><path class=f10 d="M609 1997l8 16-40-12-7-17z"/><path class=f15 d="M602 1962l7 35-39-13-8-36z"/><path class=f18 d="M595 1939l7 23-40-14-7-22z"/><path class=f17 d="M587 1948l8-9-40-13-7 10z"/><path class=f13 d="M580 1981l7-33-39-12-8 32z"/><path class=f10 d="M573 2005l7-24-40-13-7 23z"/><path class=f12 d="M566 1993l7 12-40-14-7-11z"/><path class=f17 d="M558 1953l8 40-40-13-7-40z"/><path class=f22 d="M544 1918l7-1 7 36-39-13-8-36-7 0z"/><path class=f17 d="M536 1954l8-36-40-14-7 37z"/><path class=f13 d="M522 1989l7 2 7-37-39-13-8 37-7-2z"/><path class=f19 d="M515 1945l7 44-40-13-7-45z"/><path class=f25 d="M507 1895l8 50-40-14-7-50z"/><path class=f27 d="M500 1884l7 11-39-14-8-10z"/><path class=f22 d="M493 1921l7-37-40-13-7 37z"/><path class=f17 d="M485 1970l8-49-40-13-7 48z"/><path class=f15 d="M478 1982l7-12-39-14-8 12z"/><path class=f21 d="M471 1939l7 43-40-14-7-42z"/><path class=f29 d="M464 1876l7 63-40-13-7-63z"/><path class=f33 d="M456 1847l8 29-40-13-7-29z"/><path class=f29 d="M449 1880l7-33-39-13-8 31z"/><path class=f21 d="M442 1941l7-61-40-15-7 63z"/><path class=f18 d="M434 1971l8-30-40-13-7 31z"/><path class=f9 d="M1378 1873l7 10-40-15-7-10z"/><path class=f12 d="M1370 1849l8 24-40-15-7-24z"/><path class=f14 d="M1363 1839l7 10-39-15-7-10z"/><path class=f12 d="M1356 1855l7-16-39-15-8 16z"/><path class=f8 d="M1349 1884l7-29-40-15-7 29z"/><path class=f6 d="M1334 1903l7 2 8-21-40-15-7 21-8-2z"/><path class=f9 d="M1327 1887l7 16-40-15-7-17z"/><path class=f10 d="M1319 1876l8 11-40-16-7-10z"/><path class=f9 d="M1312 1883l7-7-39-15-8 7z"/><path class=f7 d="M1305 1905l7-22-40-15-7 22z"/><path class=f5 d="M1298 1925l7-20-40-15-7 20z"/><path class=f4 d="M1290 1928l8-3-40-15-7 3z"/><path class=f6 d="M1283 1918l7 10-39-15-8-10z"/><path class=f7 d="M1268 1912l8-3 7 9-40-15-7-9-7 3z"/><path class=f5 d="M1261 1927l7-15-39-15-8 15z"/><path class=f3 d="M1247 1949l7-6 7-16-40-15-7 16-7 6z"/><path class=f4 d="M1239 1944l8 5-40-15-7-5z"/><path class=f5 d="M1225 1938l7 0 7 6-39-15-8-6-7 0z"/><path class=f4 d="M1217 1947l8-9-40-15-7 10z"/><path class=f2 d="M1196 1966l7 1 7-7 7-13-39-14-8 12-7 6-7 0z"/><path class=f3 d="M1181 1962l7 0 8 4-40-15-7-4-8 0z"/><path class=f2 d="M1174 1968l7-6-40-15-7 6z"/><path class=f1 d="M1123 1991l7-5 7-3 8-1 7 1 7-2 7-5 8-8-40-15-7 8-8 6-7 1-7-1-7 1-8 3-7 5z"/><path class=f0 d="M926 2033l7-1 8-2 7-2 7 0 7 0 8-1 7-1 7-1 8-1 7-2 7-1 7-1 8-1 7-2 7-2 8-1 7-2 7-1 7-2 8-2 7-2 7-3 8-3 7-1 7-1 7-2 8-4-40-15-7 4-8 2-7 1-7 1-7 2-8 3-7 3-7 2-8 1-7 2-7 2-7 1-8 2-7 2-7 1-8 1-7 1-7 2-7 1-8 1-7 1-7 1-8 0-7 0-7 2-7 2-8 1z"/><path class=f1 d="M875 2034l7 3 7-2 8-3 7-3 7 0 8 2 7 2-40-15-7-1-7-3-8 0-7 3-7 3-7 2-8-3z"/><path class=f2 d="M868 2029l7 5-40-15-7-5z"/><path class=f3 d="M853 2029l7-3 8 3-40-15-7-3-8 3z"/><path class=f2 d="M831 2035l7 5 8-4 7-7-40-15-7 7-7 3-8-4z"/><path class=f4 d="M824 2026l7 9-40-15-7-9z"/><path class=f5 d="M809 2023l8-3 7 6-40-15-7-6-7 2z"/><path class=f4 d="M802 2032l7-9-39-16-8 10z"/><path class=f3 d="M787 2036l8 3 7-7-40-15-7 7-7-3z"/><path class=f5 d="M780 2023l7 13-39-15-8-13z"/><path class=f7 d="M766 2010l7 1 7 12-40-15-7-12-7 0z"/><path class=f6 d="M758 2023l8-13-40-14-7 12z"/><path class=f4 d="M751 2036l7-13-39-15-8 13z"/><path class=f5 d="M744 2035l7 1-40-15-7-1z"/><path class=f7 d="M736 2019l8 16-40-15-7-16z"/><path class=f9 d="M729 2000l7 19-39-15-8-19z"/><path class=f10 d="M722 1995l7 5-40-15-7-5z"/><path class=f9 d="M715 2009l7-14-40-15-7 14z"/><path class=f6 d="M700 2033l7-5 8-19-40-15-7 19-8 5z"/><path class=f8 d="M693 2015l7 18-40-15-7-18z"/><path class=f12 d="M685 1989l8 26-40-15-7-27z"/><path class=f14 d="M678 1976l7 13-39-16-8-12z"/><path class=f12 d="M671 1989l7-13-40-15-7 13z"/><path class=f9 d="M664 2015l7-26-40-15-7 26z"/><path class=f8 d="M656 2029l8-14-40-15-7 13z"/><path class=f10 d="M649 2012l7 17-39-16-8-16z"/><path class=f14 d="M642 1977l7 35-40-15-7-35z"/><path class=f17 d="M634 1954l8 23-40-15-7-23z"/><path class=f16 d="M627 1964l7-10-39-15-8 9z"/><path class=f13 d="M620 1996l7-32-40-16-7 33z"/><path class=f10 d="M613 2019l7-23-40-15-7 24z"/><path class=f11 d="M605 2008l8 11-40-14-7-12z"/><path class=f17 d="M598 1968l7 40-39-15-8-40z"/><path class=f21 d="M583 1933l8-1 7 36-40-15-7-36-7 1z"/><path class=f17 d="M576 1969l7-36-39-15-8 36z"/><path class=f13 d="M562 2004l7 2 7-37-40-15-7 37-7-2z"/><path class=f19 d="M554 1960l8 44-40-15-7-44z"/><path class=f25 d="M547 1910l7 50-39-15-8-50z"/><path class=f27 d="M540 1899l7 11-40-15-7-11z"/><path class=f22 d="M532 1936l8-37-40-15-7 37z"/><path class=f16 d="M525 1985l7-49-39-15-8 49z"/><path class=f15 d="M518 1997l7-12-40-15-7 12z"/><path class=f21 d="M511 1954l7 43-40-15-7-43z"/><path class=f29 d="M503 1891l8 63-40-15-7-63z"/><path class=f32 d="M496 1862l7 29-39-15-8-29z"/><path class=f29 d="M489 1894l7-32-40-15-7 33z"/><path class=f21 d="M481 1956l8-62-40-14-7 61z"/><path class=f17 d="M474 1986l7-30-39-15-8 30z"/><path class=f10 d="M1417 1882l8 12-40-11-7-10z"/><path class=f13 d="M1410 1857l7 25-39-9-8-24z"/><path class=f14 d="M1403 1848l7 9-40-8-7-10z"/><path class=f12 d="M1396 1866l7-18-40-9-7 16z"/><path class=f9 d="M1388 1895l8-29-40-11-7 29z"/><path class=f7 d="M1374 1912l7 1 7-18-39-11-8 21-7-2z"/><path class=f9 d="M1366 1898l8 14-40-9-7-16z"/><path class=f11 d="M1359 1886l7 12-39-11-8-11z"/><path class=f10 d="M1352 1892l7-6-40-10-7 7z"/><path class=f7 d="M1345 1914l7-22-40-9-7 22z"/><path class=f5 d="M1330 1939l7-3 8-22-40-9-7 20-8 3z"/><path class=f6 d="M1323 1927l7 12-40-11-7-10z"/><path class=f8 d="M1315 1917l8 10-40-9-7-9z"/><path class=f7 d="M1308 1922l7-5-39-8-8 3z"/><path class=f6 d="M1301 1938l7-16-40-10-7 15z"/><path class=f4 d="M1279 1955l7 2 8-6 7-13-40-11-7 16-7 6-8-5z"/><path class=f5 d="M1264 1948l8 1 7 6-40-11-7-6-7 0z"/><path class=f4 d="M1257 1956l7-8-39-10-8 9z"/><path class=f3 d="M1250 1969l7-13-40-9-7 13z"/><path class=f2 d="M1235 1975l8 3 7-9-40-9-7 7-7-1z"/><path class=f3 d="M1213 1979l8-8 7-1 7 5-39-9-8-4-7 0-7 6z"/><path class=f2 d="M1199 1990l7-4 7-7-39-11-8 8-7 5z"/><path class=f1 d="M1184 1993l8-1 7-2-40-9-7 2-7-1z"/><path class=f2 d="M1170 1994l7-1 7 0-39-11-8 1-7 3z"/><path class=f1 d="M1126 2012l7-5 8 0 7 1 7-2 7-7 8-5-40-8-7 5-8 4-7 2-7 1-7 1-8 3z"/><path class=f0 d="M1119 2016l7-4-40-10-7 3z"/><path class=f1 d="M1104 2017l7-1 8 0-40-11-7 2-8 2z"/><path class=f0 d="M1024 2035l7 0 8-3 7-3 7 1 7 0 8-3 7-4 7 0 8 0 7-2 7-4-40-8-7 2-7 1-7 2-8 1-7 2-7 2-8 1-7 1-7 1-7 2-8 1z"/><path class=f1 d="M1009 2036l8-2 7 1-40-10-7 1-7 1z"/><path class=f0 d="M1002 2039l7-3-39-9-8 1z"/><path class=f1 d="M958 2040l8 4 7-1 7-4 7-3 8 2 7 1-40-11-7 0-7 0-7 2-8 2-7 1-7-2z"/><path class=f2 d="M944 2040l7-2 7 2-39-9-8-2-7 0z"/><path class=f1 d="M929 2044l7-1 8-3-40-11-7 3-8 3z"/><path class=f2 d="M915 2044l7 1 7-1-40-9-7 2-7-3z"/><path class=f3 d="M893 2037l7-1 7 4 8 4-40-10-7-5-8-3-7 3z"/><path class=f2 d="M878 2051l7-6 8-8-40-8-7 7-8 4z"/><path class=f3 d="M871 2045l7 6-40-11-7-5z"/><path class=f4 d="M864 2034l7 11-40-10-7-9z"/><path class=f5 d="M849 2034l7-5 8 5-40-8-7-6-8 3z"/><path class=f4 d="M827 2045l7 2 8-5 7-8-40-11-7 9-7 7-8-3z"/><path class=f6 d="M820 2034l7 11-40-9-7-13z"/><path class=f7 d="M813 2021l7 13-40-11-7-12z"/><path class=f8 d="M805 2019l8 2-40-10-7-1z"/><path class=f6 d="M798 2031l7-12-39-9-8 13z"/><path class=f5 d="M783 2046l8 1 7-16-40-8-7 13-7-1z"/><path class=f7 d="M776 2027l7 19-39-11-8-16z"/><path class=f10 d="M769 2008l7 19-40-8-7-19z"/><path class=f11 d="M762 2006l7 2-40-8-7-5z"/><path class=f9 d="M754 2020l8-14-40-11-7 14z"/><path class=f7 d="M740 2041l7-4 7-17-39-11-8 19-7 5z"/><path class=f9 d="M732 2026l8 15-40-8-7-18z"/><path class=f12 d="M725 2000l7 26-39-11-8-26z"/><path class=f14 d="M718 1985l7 15-40-11-7-13z"/><path class=f13 d="M711 1997l7-12-40-9-7 13z"/><path class=f10 d="M703 2025l8-28-40-8-7 26z"/><path class=f8 d="M696 2040l7-15-39-10-8 14z"/><path class=f10 d="M689 2022l7 18-40-11-7-17z"/><path class=f15 d="M681 1985l8 37-40-10-7-35z"/><path class=f18 d="M674 1964l7 21-39-8-8-23z"/><path class=f17 d="M667 1975l7-11-40-10-7 10z"/><path class=f13 d="M660 2006l7-31-40-11-7 32z"/><path class=f10 d="M652 2028l8-22-40-10-7 23z"/><path class=f12 d="M645 2017l7 11-39-9-8-11z"/><path class=f17 d="M638 1979l7 38-40-9-7-40z"/><path class=f22 d="M623 1941l7 2 8 36-40-11-7-36-8 1z"/><path class=f18 d="M616 1978l7-37-40-8-7 36z"/><path class=f13 d="M601 2015l8 2 7-39-40-9-7 37-7-2z"/><path class=f19 d="M594 1969l7 46-39-11-8-44z"/><path class=f26 d="M587 1918l7 51-40-9-7-50z"/><path class=f27 d="M579 1909l8 9-40-8-7-11z"/><path class=f23 d="M572 1947l7-38-39-10-8 37z"/><path class=f17 d="M565 1994l7-47-40-11-7 49z"/><path class=f16 d="M557 2005l8-11-40-9-7 12z"/><path class=f21 d="M550 1964l7 41-39-8-7-43z"/><path class=f29 d="M543 1902l7 62-39-10-8-63z"/><path class=f33 d="M536 1872l7 30-40-11-7-29z"/><path class=f29 d="M528 1902l8-30-40-10-7 32z"/><path class=f21 d="M521 1966l7-64-39-8-8 62z"/><path class=f18 d="M514 1997l7-31-40-10-7 30z"/><path class=f11 d="M1457 1884l7 15-39-5-8-12z"/><path class=f15 d="M1450 1856l7 28-40-2-7-25z"/><path class=f16 d="M1443 1850l7 6-40 1-7-9z"/><path class=f13 d="M1435 1870l8-20-40-2-7 18z"/><path class=f10 d="M1428 1897l7-27-39-4-8 29z"/><path class=f8 d="M1421 1912l7-15-40-2-7 18z"/><path class=f9 d="M1413 1913l8-1-40 1-7-1z"/><path class=f10 d="M1406 1902l7 11-39-1-8-14z"/><path class=f12 d="M1392 1891l7-2 7 13-40-4-7-12-7 6z"/><path class=f9 d="M1384 1914l8-23-40 1-7 22z"/><path class=f6 d="M1370 1943l7-4 7-25-39 0-8 22-7 3z"/><path class=f8 d="M1362 1927l8 16-40-4-7-12z"/><path class=f9 d="M1348 1926l7-9 7 10-39 0-8-10-7 5z"/><path class=f7 d="M1341 1942l7-16-40-4-7 16z"/><path class=f6 d="M1333 1952l8-10-40-4-7 13z"/><path class=f5 d="M1319 1957l7-1 7-4-39-1-8 6-7-2z"/><path class=f6 d="M1311 1954l8 3-40-2-7-6z"/><path class=f7 d="M1304 1949l7 5-39-5-8-1z"/><path class=f6 d="M1297 1955l7-6-40-1-7 8z"/><path class=f4 d="M1290 1971l7-16-40 1-7 13z"/><path class=f3 d="M1282 1982l8-11-40-2-7 9z"/><path class=f4 d="M1275 1977l7 5-39-4-8-3z"/><path class=f5 d="M1260 1973l8-4 7 8-40-2-7-5-7 1z"/><path class=f4 d="M1253 1984l7-11-39-2-8 8z"/><path class=f3 d="M1202 1999l7-5 8 2 7 2 7-5 8-4 7 0 7-5-40-5-7 7-7 4-7 2-8 1-7 0-7 1-8 5z"/><path class=f2 d="M1188 2012l7-2 7-11-40 0-7 7-7 2z"/><path class=f3 d="M1173 2007l7 0 8 5-40-4-7-1-8 0z"/><path class=f2 d="M1166 2015l7-8-40 0-7 5z"/><path class=f1 d="M1158 2020l8-5-40-3-7 4z"/><path class=f2 d="M1136 2023l8-7 7 0 7 4-39-4-8 0-7 1-7 4z"/><path class=f1 d="M1129 2028l7-5-39-2-7 2z"/><path class=f2 d="M1107 2029l8-7 7 2 7 4-39-5-8 0-7 0-7 4z"/><path class=f1 d="M1100 2035l7-6-39-2-8 3z"/><path class=f2 d="M1078 2033l7-5 8 4 7 3-40-5-7 0-7-1-7 3z"/><path class=f1 d="M1071 2039l7-6-39-1-8 3z"/><path class=f2 d="M1049 2037l7-3 8 4 7 1-40-4-7 0-7-1-8 2z"/><path class=f1 d="M1042 2043l7-6-40-1-7 3z"/><path class=f2 d="M1034 2042l8 1-40-4-7-1z"/><path class=f3 d="M1020 2039l7-3 7 6-39-4-8-2-7 3z"/><path class=f2 d="M1005 2048l8-1 7-8-40 0-7 4-7 1z"/><path class=f3 d="M954 2047l8-3 7 1 7 2 7-4 8-6 7 3 7 8-39-4-8-4-7-2-7 2-8 3-7 1-7 1-7-1z"/><path class=f4 d="M947 2045l7 2-39-3-8-4z"/><path class=f5 d="M932 2036l8 1 7 8-40-5-7-4-7 1z"/><path class=f4 d="M925 2047l7-11-39 1-8 8z"/><path class=f3 d="M918 2055l7-8-40-2-7 6z"/><path class=f4 d="M911 2047l7 8-40-4-7-6z"/><path class=f6 d="M903 2033l8 14-40-2-7-11z"/><path class=f7 d="M896 2030l7 3-39 1-8-5z"/><path class=f6 d="M889 2038l7-8-40-1-7 5z"/><path class=f5 d="M874 2046l7-1 8-7-40-4-7 8-8 5z"/><path class=f6 d="M867 2045l7 1-40 1-7-2z"/><path class=f7 d="M860 2038l7 7-40 0-7-11z"/><path class=f9 d="M845 2018l7 7 8 13-40-4-7-13-8-2z"/><path class=f8 d="M838 2032l7-14-40 1-7 12z"/><path class=f6 d="M823 2050l7 1 8-19-40-1-7 16-8-1z"/><path class=f9 d="M816 2028l7 22-40-4-7-19z"/><path class=f12 d="M801 2009l8-1 7 20-40-1-7-19-7-2z"/><path class=f10 d="M794 2024l7-15-39-3-8 14z"/><path class=f9 d="M787 2038l7-14-40-4-7 17z"/><path class=f8 d="M779 2040l8-2-40-1-7 4z"/><path class=f10 d="M772 2028l7 12-39 1-8-15z"/><path class=f13 d="M765 2004l7 24-40-2-7-26z"/><path class=f16 d="M758 1986l7 18-40-4-7-15z"/><path class=f15 d="M750 1996l8-10-40-1-7 12z"/><path class=f11 d="M743 2027l7-31-39 1-8 28z"/><path class=f9 d="M736 2044l7-17-40-2-7 15z"/><path class=f12 d="M728 2024l8 20-40-4-7-18z"/><path class=f17 d="M721 1984l7 40-39-2-8-37z"/><path class=f19 d="M714 1965l7 19-40 1-7-21z"/><path class=f18 d="M707 1979l7-14-40-1-7 11z"/><path class=f14 d="M699 2009l8-30-40-4-7 31z"/><path class=f12 d="M692 2027l7-18-39-3-8 22z"/><path class=f14 d="M685 2018l7 9-40 1-7-11z"/><path class=f18 d="M677 1983l8 35-40-1-7-38z"/><path class=f23 d="M670 1946l7 37-39-4-8-36z"/><path class=f24 d="M663 1941l7 5-40-3-7-2z"/><path class=f19 d="M655 1978l8-37-40 0-7 37z"/><path class=f14 d="M648 2021l7-43-39 0-7 39z"/><path class=f15 d="M641 2019l7 2-39-4-8-2z"/><path class=f21 d="M634 1969l7 50-40-4-7-46z"/><path class=f27 d="M626 1918l8 51-40 0-7-51z"/><path class=f28 d="M619 1913l7 5-39 0-8-9z"/><path class=f24 d="M612 1951l7-38-40-4-7 38z"/><path class=f18 d="M604 1995l8-44-40-4-7 47z"/><path class=f17 d="M597 2004l7-9-39-1-8 11z"/><path class=f22 d="M590 1967l7 37-40 1-7-41z"/><path class=f30 d="M583 1907l7 60-40-3-7-62z"/><path class=f34 d="M575 1873l8 34-40-5-7-30z"/><path class=f31 d="M568 1902l7-29-39-1-8 30z"/><path class=f23 d="M561 1968l7-66-40 0-7 64z"/><path class=f19 d="M553 2002l8-34-40-2-7 31z"/><path class=f12 d="M1497 1888l7 18-40-7-7-15z"/><path class=f16 d="M1490 1855l7 33-40-4-7-28z"/><path class=f17 d="M1482 1852l8 3-40 1-7-6z"/><path class=f14 d="M1475 1878l7-26-39-2-8 20z"/><path class=f11 d="M1468 1902l7-24-40-8-7 27z"/><path class=f10 d="M1453 1914l7-2 8-10-40-5-7 15-8 1z"/><path class=f11 d="M1446 1909l7 5-40-1-7-11z"/><path class=f13 d="M1431 1891l8 4 7 14-40-7-7-13-7 2z"/><path class=f11 d="M1424 1915l7-24-39 0-8 23z"/><path class=f7 d="M1409 1949l8-3 7-31-40-1-7 25-7 4z"/><path class=f10 d="M1402 1927l7 22-39-6-8-16z"/><path class=f11 d="M1395 1917l7 10-40 0-7-10z"/><path class=f9 d="M1388 1931l7-14-40 0-7 9z"/><path class=f7 d="M1366 1956l7-2 7-5 8-18-40-5-7 16-8 10-7 4z"/><path class=f6 d="M1358 1962l8-6-40 0-7 1z"/><path class=f7 d="M1351 1961l7 1-39-5-8-3z"/><path class=f8 d="M1337 1954l7-3 7 10-40-7-7-5-7 6z"/><path class=f5 d="M1329 1975l8-21-40 1-7 16z"/><path class=f4 d="M1322 1990l7-15-39-4-8 11z"/><path class=f5 d="M1315 1981l7 9-40-8-7-5z"/><path class=f7 d="M1307 1969l8 12-40-4-7-8z"/><path class=f6 d="M1300 1975l7-6-39 0-8 4z"/><path class=f4 d="M1286 1993l7-2 7-16-40-2-7 11-7 5z"/><path class=f5 d="M1271 1994l7-6 8 5-40-4-7 0-8 4z"/><path class=f3 d="M1264 2004l7-10-40-1-7 5z"/><path class=f4 d="M1256 2002l8 2-40-6-7-2z"/><path class=f5 d="M1242 2000l7-6 7 8-39-6-8-2-7 5z"/><path class=f3 d="M1227 2018l7-2 8-16-40-1-7 11-7 2z"/><path class=f4 d="M1213 2007l7 0 7 11-39-6-8-5-7 0z"/><path class=f3 d="M1205 2021l8-14-40 0-7 8z"/><path class=f2 d="M1198 2027l7-6-39-6-8 5z"/><path class=f4 d="M1183 2016l8 2 7 9-40-7-7-4-7 0z"/><path class=f3 d="M1176 2028l7-12-39 0-8 7z"/><path class=f2 d="M1169 2035l7-7-40-5-7 5z"/><path class=f3 d="M1162 2027l7 8-40-7-7-4z"/><path class=f4 d="M1154 2022l8 5-40-3-7-2z"/><path class=f3 d="M1147 2032l7-10-39 0-8 7z"/><path class=f2 d="M1140 2042l7-10-40-3-7 6z"/><path class=f3 d="M1132 2035l8 7-40-7-7-3z"/><path class=f4 d="M1125 2028l7 7-39-3-8-4z"/><path class=f3 d="M1118 2036l7-8-40 0-7 5z"/><path class=f2 d="M1111 2047l7-11-40-3-7 6z"/><path class=f3 d="M1103 2042l8 5-40-8-7-1z"/><path class=f4 d="M1089 2038l7-5 7 9-39-4-8-4-7 3z"/><path class=f2 d="M1081 2050l8-12-40-1-7 6z"/><path class=f3 d="M1074 2047l7 3-39-7-8-1z"/><path class=f4 d="M1060 2039l7-3 7 11-40-5-7-6-7 3z"/><path class=f3 d="M1045 2054l7-1 8-14-40 0-7 8-8 1z"/><path class=f5 d="M1030 2037l8 4 7 13-40-6-7-8-7-3z"/><path class=f4 d="M1023 2049l7-12-39 0-8 6z"/><path class=f3 d="M1016 2054l7-5-40-6-7 4z"/><path class=f5 d="M1001 2044l8 3 7 7-40-7-7-2-7-1z"/><path class=f4 d="M987 2052l7 0 7-8-39 0-8 3-7-2z"/><path class=f6 d="M979 2039l8 13-40-7-7-8z"/><path class=f7 d="M972 2036l7 3-39-2-8-1z"/><path class=f5 d="M965 2051l7-15-40 0-7 11z"/><path class=f4 d="M958 2062l7-11-40-4-7 8z"/><path class=f5 d="M950 2051l8 11-40-7-7-8z"/><path class=f8 d="M936 2033l7 0 7 18-39-4-8-14-7-3z"/><path class=f7 d="M928 2045l8-12-40-3-7 8z"/><path class=f6 d="M921 2049l7-4-39-7-8 7z"/><path class=f7 d="M899 2045l8 2 7-1 7 3-40-4-7 1-7-1-7-7z"/><path class=f9 d="M892 2030l7 15-39-7-8-13z"/><path class=f11 d="M885 2019l7 11-40-5-7-7z"/><path class=f10 d="M877 2032l8-13-40-1-7 14z"/><path class=f7 d="M863 2056l7 1 7-25-39 0-8 19-7-1z"/><path class=f11 d="M856 2028l7 28-40-6-7-22z"/><path class=f13 d="M841 2014l7-6 8 20-40 0-7-20-8 1z"/><path class=f11 d="M834 2031l7-17-40-5-7 15z"/><path class=f10 d="M819 2040l7-1 8-8-40-7-7 14-8 2z"/><path class=f11 d="M812 2033l7 7-40 0-7-12z"/><path class=f14 d="M805 2012l7 21-40-5-7-24z"/><path class=f17 d="M797 1989l8 23-40-8-7-18z"/><path class=f16 d="M790 1995l7-6-39-3-8 10z"/><path class=f12 d="M783 2031l7-36-40 1-7 31z"/><path class=f10 d="M775 2052l8-21-40-4-7 17z"/><path class=f13 d="M768 2027l7 25-39-8-8-20z"/><path class=f19 d="M761 1984l7 43-40-3-7-40z"/><path class=f21 d="M753 1968l8 16-40 0-7-19z"/><path class=f19 d="M746 1986l7-18-39-3-7 14z"/><path class=f15 d="M739 2013l7-27-39-7-8 30z"/><path class=f14 d="M732 2027l7-14-40-4-7 18z"/><path class=f15 d="M724 2020l8 7-40 0-7-9z"/><path class=f19 d="M717 1990l7 30-39-2-8-35z"/><path class=f24 d="M710 1951l7 39-40-7-7-37z"/><path class=f25 d="M702 1941l8 10-40-5-7-5z"/><path class=f21 d="M695 1979l7-38-39 0-8 37z"/><path class=f15 d="M681 2025l7 2 7-48-40-1-7 43-7-2z"/><path class=f23 d="M673 1969l8 56-40-6-7-50z"/><path class=f29 d="M659 1918l7 0 7 51-39 0-8-51-7-5z"/><path class=f24 d="M651 1958l8-40-40-5-7 38z"/><path class=f20 d="M644 1996l7-38-39-7-8 44z"/><path class=f19 d="M637 2004l7-8-40-1-7 9z"/><path class=f23 d="M630 1972l7 32-40 0-7-37z"/><path class=f31 d="M622 1914l8 58-40-5-7-60z"/><path class=f36 d="M615 1876l7 38-39-7-8-34z"/><path class=f33 d="M608 1901l7-25-40-3-7 29z"/><path class=f24 d="M600 1971l8-70-40 1-7 66z"/><path class=f20 d="M593 2009l7-38-39-3-8 34z"/><path class=f14 d="M1537 1888l7 22-40-4-7-18z"/><path class=f19 d="M1522 1850l7 0 8 38-40 0-7-33-8-3z"/><path class=f15 d="M1515 1882l7-32-40 2-7 26z"/><path class=f13 d="M1507 1903l8-21-40-4-7 24z"/><path class=f12 d="M1486 1913l7-2 7-5 7-3-39-1-8 10-7 2-7-5z"/><path class=f14 d="M1478 1897l8 16-40-4-7-14z"/><path class=f16 d="M1471 1886l7 11-39-2-8-4z"/><path class=f13 d="M1464 1911l7-25-40 5-7 24z"/><path class=f8 d="M1449 1952l7-3 8-38-40 4-7 31-8 3z"/><path class=f12 d="M1442 1923l7 29-40-3-7-22z"/><path class=f13 d="M1435 1912l7 11-40 4-7-10z"/><path class=f11 d="M1427 1933l8-21-40 5-7 14z"/><path class=f9 d="M1405 1950l8 1 7 2 7-20-39-2-8 18-7 5-7 2z"/><path class=f8 d="M1391 1965l7-2 7-13-39 6-8 6-7-1z"/><path class=f10 d="M1376 1948l8 2 7 15-40-4-7-10-7 3z"/><path class=f7 d="M1369 1975l7-27-39 6-8 21z"/><path class=f5 d="M1362 1994l7-19-40 0-7 15z"/><path class=f7 d="M1354 1981l8 13-40-4-7-9z"/><path class=f9 d="M1347 1963l7 18-39 0-8-12z"/><path class=f8 d="M1340 1974l7-11-40 6-7 6z"/><path class=f6 d="M1325 1994l7 1 8-21-40 1-7 16-7 2z"/><path class=f7 d="M1311 1991l7-8 7 11-39-1-8-5-7 6z"/><path class=f5 d="M1296 2004l7 4 8-17-40 3-7 10-8-2z"/><path class=f7 d="M1281 1996l8-7 7 15-40-2-7-8-7 6z"/><path class=f4 d="M1267 2021l7-2 7-23-39 4-8 16-7 2z"/><path class=f6 d="M1260 2003l7 18-40-3-7-11z"/><path class=f7 d="M1252 2002l8 1-40 4-7 0z"/><path class=f4 d="M1245 2023l7-21-39 5-8 14z"/><path class=f3 d="M1238 2030l7-7-40-2-7 6z"/><path class=f6 d="M1223 2010l7 5 8 15-40-3-7-9-8-2z"/><path class=f4 d="M1216 2029l7-19-40 6-7 12z"/><path class=f3 d="M1209 2039l7-10-40-1-7 7z"/><path class=f5 d="M1201 2025l8 14-40-4-7-8z"/><path class=f6 d="M1194 2016l7 9-39 2-8-5z"/><path class=f5 d="M1187 2032l7-16-40 6-7 10z"/><path class=f3 d="M1179 2046l8-14-40 0-7 10z"/><path class=f5 d="M1172 2035l7 11-39-4-8-7z"/><path class=f6 d="M1165 2022l7 13-40 0-7-7z"/><path class=f5 d="M1158 2034l7-12-40 6-7 8z"/><path class=f3 d="M1150 2051l8-17-40 2-7 11z"/><path class=f4 d="M1143 2043l7 8-39-4-8-5z"/><path class=f6 d="M1128 2036l8-8 7 15-40-1-7-9-7 5z"/><path class=f3 d="M1121 2054l7-18-39 2-8 12z"/><path class=f4 d="M1114 2049l7 5-40-4-7-3z"/><path class=f7 d="M1107 2031l7 18-40-2-7-11z"/><path class=f6 d="M1099 2035l8-4-40 5-7 3z"/><path class=f4 d="M1085 2057l7-1 7-21-39 4-8 14-7 1z"/><path class=f7 d="M1070 2033l7 4 8 20-40-3-7-13-8-4z"/><path class=f5 d="M1056 2058l7-7 7-18-40 4-7 12-7 5z"/><path class=f7 d="M1041 2038l7 6 8 14-40-4-7-7-8-3z"/><path class=f6 d="M1026 2056l8-4 7-14-40 6-7 8-7 0z"/><path class=f8 d="M1019 2038l7 18-39-4-8-13z"/><path class=f9 d="M1012 2030l7 8-40 1-7-3z"/><path class=f7 d="M1005 2051l7-21-40 6-7 15z"/><path class=f5 d="M997 2067l8-16-40 0-7 11z"/><path class=f7 d="M990 2050l7 17-39-5-8-11z"/><path class=f10 d="M975 2031l8-4 7 23-40 1-7-18-7 0z"/><path class=f8 d="M961 2050l7 0 7-19-39 2-8 12-7 4z"/><path class=f9 d="M939 2049l7-5 8-4 7 10-40-1-7-3-7 1-8-2z"/><path class=f11 d="M932 2032l7 17-40-4-7-15z"/><path class=f13 d="M924 2014l8 18-40-2-7-11z"/><path class=f12 d="M917 2028l7-14-39 5-8 13z"/><path class=f8 d="M902 2059l8 1 7-32-40 4-7 25-7-1z"/><path class=f13 d="M895 2024l7 35-39-3-7-28z"/><path class=f16 d="M888 2003l7 21-39 4-8-20z"/><path class=f14 d="M881 2016l7-13-40 5-7 6z"/><path class=f12 d="M859 2034l7 2 7-1 8-19-40-2-7 17-8 8-7 1z"/><path class=f13 d="M851 2034l8 0-40 6-7-7z"/><path class=f15 d="M844 2016l7 18-39-1-7-21z"/><path class=f19 d="M830 1989l7-2 7 29-39-4-8-23-7 6z"/><path class=f14 d="M822 2030l8-41-40 6-7 36z"/><path class=f11 d="M815 2056l7-26-39 1-8 21z"/><path class=f15 d="M808 2027l7 29-40-4-7-25z"/><path class=f21 d="M800 1978l8 49-40 0-7-43z"/><path class=f23 d="M793 1966l7 12-39 6-8-16z"/><path class=f20 d="M786 1991l7-25-40 2-7 18z"/><path class=f17 d="M779 2014l7-23-40-5-7 27z"/><path class=f16 d="M771 2021l8-7-40-1-7 14z"/><path class=f17 d="M764 2017l7 4-39 6-8-7z"/><path class=f20 d="M757 1994l7 23-40 3-7-30z"/><path class=f25 d="M749 1953l8 41-40-4-7-39z"/><path class=f28 d="M742 1936l7 17-39-2-8-10z"/><path class=f23 d="M735 1975l7-39-40 5-7 38z"/><path class=f16 d="M728 2030l7-55-40 4-7 48z"/><path class=f17 d="M720 2028l8 2-40-3-7-2z"/><path class=f25 d="M713 1965l7 63-39-3-8-56z"/><path class=f31 d="M698 1920l8-7 7 52-40 4-7-51-7 0z"/><path class=f26 d="M691 1962l7-42-39-2-8 40z"/><path class=f22 d="M684 1993l7-31-40-4-7 38z"/><path class=f21 d="M677 1998l7-5-40 3-7 8z"/><path class=f25 d="M669 1973l8 25-40 6-7-32z"/><path class=f32 d="M662 1918l7 55-39-1-8-58z"/><path class=f38 d="M655 1874l7 44-40-4-7-38z"/><path class=f35 d="M647 1895l8-21-40 2-7 25z"/><path class=f26 d="M640 1971l7-76-39 6-8 70z"/><path class=f21 d="M633 2014l7-43-40 0-7 38z"/><path class=f17 d="M1576 1879l8 29-40 2-7-22z"/><path class=f22 d="M1562 1840l7-6 7 45-39 9-8-38-7 0z"/><path class=f17 d="M1554 1879l8-39-40 10-7 32z"/><path class=f15 d="M1547 1895l7-16-39 3-8 21z"/><path class=f16 d="M1540 1891l7 4-40 8-7 3z"/><path class=f15 d="M1533 1899l7-8-40 15-7 5z"/><path class=f14 d="M1525 1909l8-10-40 12-7 2z"/><path class=f17 d="M1518 1891l7 18-39 4-8-16z"/><path class=f19 d="M1511 1872l7 19-40 6-7-11z"/><path class=f16 d="M1503 1897l8-25-40 14-7 25z"/><path class=f10 d="M1489 1947l7-3 7-47-39 14-8 38-7 3z"/><path class=f15 d="M1482 1910l7 37-40 5-7-29z"/><path class=f17 d="M1474 1897l8 13-40 13-7-11z"/><path class=f13 d="M1467 1927l7-30-39 15-8 21z"/><path class=f11 d="M1460 1949l7-22-40 6-7 20z"/><path class=f12 d="M1452 1939l8 10-40 4-7-2z"/><path class=f13 d="M1445 1935l7 4-39 12-8-1z"/><path class=f11 d="M1438 1955l7-20-40 15-7 13z"/><path class=f10 d="M1430 1962l8-7-40 8-7 2z"/><path class=f13 d="M1423 1939l7 23-39 3-7-15z"/><path class=f14 d="M1416 1932l7 7-39 11-8-2z"/><path class=f10 d="M1409 1966l7-34-40 16-7 27z"/><path class=f7 d="M1401 1991l8-25-40 9-7 19z"/><path class=f10 d="M1394 1972l7 19-39 3-8-13z"/><path class=f13 d="M1387 1947l7 25-40 9-7-18z"/><path class=f11 d="M1379 1963l8-16-40 16-7 11z"/><path class=f8 d="M1365 1987l7 5 7-29-39 11-8 21-7-1z"/><path class=f11 d="M1358 1968l7 19-40 7-7-11z"/><path class=f10 d="M1350 1979l8-11-40 15-7 8z"/><path class=f7 d="M1343 2005l7-26-39 12-8 17z"/><path class=f8 d="M1336 1998l7 7-40 3-7-4z"/><path class=f11 d="M1328 1974l8 24-40 6-7-15z"/><path class=f10 d="M1321 1983l7-9-39 15-8 7z"/><path class=f6 d="M1307 2017l7-3 7-31-40 13-7 23-7 2z"/><path class=f10 d="M1292 1988l7 2 8 27-40 4-7-18-8-1z"/><path class=f7 d="M1285 2017l7-29-40 14-7 21z"/><path class=f6 d="M1277 2027l8-10-40 6-7 7z"/><path class=f9 d="M1270 2003l7 24-39 3-8-15z"/><path class=f10 d="M1263 1995l7 8-40 12-7-5z"/><path class=f7 d="M1256 2021l7-26-40 15-7 19z"/><path class=f5 d="M1248 2036l8-15-40 8-7 10z"/><path class=f8 d="M1241 2015l7 21-39 3-8-14z"/><path class=f10 d="M1234 2000l7 15-40 10-7-9z"/><path class=f7 d="M1226 2023l8-23-40 16-7 16z"/><path class=f5 d="M1219 2043l7-20-39 9-8 14z"/><path class=f7 d="M1212 2026l7 17-40 3-7-11z"/><path class=f10 d="M1205 2006l7 20-40 9-7-13z"/><path class=f8 d="M1197 2023l8-17-40 16-7 12z"/><path class=f5 d="M1190 2048l7-25-39 11-8 17z"/><path class=f7 d="M1183 2036l7 12-40 3-7-8z"/><path class=f10 d="M1175 2012l8 24-40 7-7-15z"/><path class=f9 d="M1168 2023l7-11-39 16-8 8z"/><path class=f6 d="M1161 2050l7-27-40 13-7 18z"/><path class=f7 d="M1154 2043l7 7-40 4-7-5z"/><path class=f10 d="M1139 2022l7-5 8 26-40 6-7-18-8 4z"/><path class=f6 d="M1124 2052l8 0 7-30-40 13-7 21-7 1z"/><path class=f10 d="M1117 2024l7 28-39 5-8-20z"/><path class=f11 d="M1110 2018l7 6-40 13-7-4z"/><path class=f8 d="M1103 2045l7-27-40 15-7 18z"/><path class=f7 d="M1095 2054l8-9-40 6-7 7z"/><path class=f10 d="M1088 2032l7 22-39 4-8-14z"/><path class=f11 d="M1081 2023l7 9-40 12-7-6z"/><path class=f8 d="M1066 2053l7-8 8-22-40 15-7 14-8 4z"/><path class=f11 d="M1059 2027l7 26-40 3-7-18z"/><path class=f13 d="M1052 2014l7 13-40 11-7-8z"/><path class=f10 d="M1044 2042l8-28-40 16-7 21z"/><path class=f7 d="M1037 2064l7-22-39 9-8 16z"/><path class=f10 d="M1030 2041l7 23-40 3-7-17z"/><path class=f14 d="M1022 2011l8 30-40 9-7-23z"/><path class=f13 d="M1015 2021l7-10-39 16-8 4z"/><path class=f10 d="M1008 2046l7-25-40 10-7 19z"/><path class=f11 d="M1000 2043l8 3-40 4-7 0z"/><path class=f13 d="M993 2025l7 18-39 7-7-10z"/><path class=f12 d="M986 2032l7-7-39 15-8 4z"/><path class=f11 d="M979 2045l7-13-40 12-7 5z"/><path class=f13 d="M971 2026l8 19-40 4-7-17z"/><path class=f17 d="M964 1999l7 27-39 6-8-18z"/><path class=f15 d="M957 2015l7-16-40 15-7 14z"/><path class=f10 d="M942 2055l7 0 8-40-40 13-7 32-8-1z"/><path class=f16 d="M935 2011l7 44-40 4-7-35z"/><path class=f19 d="M928 1988l7 23-40 13-7-21z"/><path class=f17 d="M920 2010l8-22-40 15-7 13z"/><path class=f14 d="M913 2031l7-21-39 6-8 19z"/><path class=f15 d="M906 2024l7 7-40 4-7 1z"/><path class=f16 d="M898 2019l8 5-40 12-7-2z"/><path class=f15 d="M891 2026l7-7-39 15-8 0z"/><path class=f17 d="M884 2013l7 13-40 8-7-18z"/><path class=f22 d="M869 1974l8 3 7 36-40 3-7-29-7 2z"/><path class=f17 d="M862 2021l7-47-39 15-8 41z"/><path class=f13 d="M855 2053l7-32-40 9-7 26z"/><path class=f17 d="M847 2018l8 35-40 3-7-29z"/><path class=f25 d="M840 1962l7 56-39 9-8-49z"/><path class=f26 d="M833 1955l7 7-40 16-7-12z"/><path class=f22 d="M826 1988l7-33-40 11-7 25z"/><path class=f20 d="M804 2005l7 1 7 1 8-19-40 3-7 23-8 7-7-4z"/><path class=f22 d="M796 1990l8 15-40 12-7-23z"/><path class=f28 d="M789 1947l7 43-39 4-8-41z"/><path class=f31 d="M782 1921l7 26-40 6-7-17z"/><path class=f26 d="M775 1961l7-40-40 15-7 39z"/><path class=f18 d="M767 2025l8-64-40 14-7 55z"/><path class=f19 d="M760 2023l7 2-39 5-8-2z"/><path class=f28 d="M753 1952l7 71-40 5-7-63z"/><path class=f35 d="M745 1899l8 53-40 13-7-52z"/><path class=f33 d="M738 1914l7-15-39 14-8 7z"/><path class=f28 d="M731 1958l7-44-40 6-7 42z"/><path class=f25 d="M716 1983l8-2 7-23-40 4-7 31-7 5z"/><path class=f27 d="M709 1965l7 18-39 15-8-25z"/><path class=f34 d="M702 1915l7 50-40 8-7-55z"/><path class=f40 d="M694 1863l8 52-40 3-7-44z"/><path class=f39 d="M687 1879l7-16-39 11-8 21z"/><path class=f29 d="M680 1962l7-83-40 16-7 76z"/><path class=f23 d="M673 2011l7-49-40 9-7 43z"/><path class=f19 d="M1616 1871l7 36-39 1-8-29z"/><path class=f26 d="M1609 1818l7 53-40 8-7-45z"/><path class=f25 d="M1601 1830l8-12-40 16-7 6z"/><path class=f19 d="M1594 1878l7-48-39 10-8 39z"/><path class=f18 d="M1587 1889l7-11-40 1-7 16z"/><path class=f20 d="M1580 1875l7 14-40 6-7-4z"/><path class=f18 d="M1572 1887l8-12-40 16-7 8z"/><path class=f16 d="M1565 1907l7-20-39 12-8 10z"/><path class=f19 d="M1558 1887l7 20-40 2-7-18z"/><path class=f23 d="M1550 1857l8 30-40 4-7-19z"/><path class=f19 d="M1543 1884l7-27-39 15-8 25z"/><path class=f12 d="M1528 1945l8-4 7-57-40 13-7 47-7 3z"/><path class=f18 d="M1521 1897l7 48-39 2-7-37z"/><path class=f20 d="M1514 1882l7 15-39 13-8-13z"/><path class=f15 d="M1507 1923l7-41-40 15-7 30z"/><path class=f13 d="M1499 1947l8-24-40 4-7 22z"/><path class=f15 d="M1492 1927l7 20-39 2-8-10z"/><path class=f17 d="M1485 1919l7 8-40 12-7-4z"/><path class=f13 d="M1477 1949l8-30-40 16-7 20z"/><path class=f12 d="M1470 1961l7-12-39 6-8 7z"/><path class=f16 d="M1463 1929l7 32-40 1-7-23z"/><path class=f18 d="M1456 1916l7 13-40 10-7-7z"/><path class=f13 d="M1448 1958l8-42-40 16-7 34z"/><path class=f9 d="M1441 1990l7-32-39 8-8 25z"/><path class=f12 d="M1434 1964l7 26-40 1-7-19z"/><path class=f17 d="M1426 1931l8 33-40 8-7-25z"/><path class=f14 d="M1419 1953l7-22-39 16-8 16z"/><path class=f9 d="M1412 1991l7-38-40 10-7 29z"/><path class=f11 d="M1405 1981l7 10-40 1-7-5z"/><path class=f15 d="M1397 1952l8 29-40 6-7-19z"/><path class=f13 d="M1390 1967l7-15-39 16-8 11z"/><path class=f9 d="M1383 2003l7-36-40 12-7 26z"/><path class=f10 d="M1375 1994l8 9-40 2-7-7z"/><path class=f14 d="M1368 1960l7 34-39 4-8-24z"/><path class=f13 d="M1361 1969l7-9-40 14-7 9z"/><path class=f8 d="M1346 2014l8-2 7-43-40 14-7 31-7 3z"/><path class=f13 d="M1339 1976l7 38-39 3-8-27z"/><path class=f14 d="M1332 1973l7 3-40 14-7-2z"/><path class=f9 d="M1324 2013l8-40-40 15-7 29z"/><path class=f7 d="M1317 2025l7-12-39 4-8 10z"/><path class=f12 d="M1310 1991l7 34-40 2-7-24z"/><path class=f14 d="M1303 1979l7 12-40 12-7-8z"/><path class=f9 d="M1295 2015l8-36-40 16-7 26z"/><path class=f7 d="M1288 2035l7-20-39 6-8 15z"/><path class=f11 d="M1281 2005l7 30-40 1-7-21z"/><path class=f14 d="M1273 1984l8 21-40 10-7-15z"/><path class=f10 d="M1266 2015l7-31-39 16-8 23z"/><path class=f7 d="M1259 2043l7-28-40 8-7 20z"/><path class=f10 d="M1252 2018l7 25-40 0-7-17z"/><path class=f14 d="M1244 1990l8 28-40 8-7-20z"/><path class=f11 d="M1237 2013l7-23-39 16-8 17z"/><path class=f7 d="M1230 2047l7-34-40 10-7 25z"/><path class=f9 d="M1222 2030l8 17-40 1-7-12z"/><path class=f14 d="M1215 1997l7 33-39 6-8-24z"/><path class=f12 d="M1208 2012l7-15-40 15-7 11z"/><path class=f7 d="M1201 2048l7-36-40 11-7 27z"/><path class=f9 d="M1193 2039l8 9-40 2-7-7z"/><path class=f14 d="M1186 2002l7 37-39 4-8-26z"/><path class=f13 d="M1179 2009l7-7-40 15-7 5z"/><path class=f8 d="M1164 2049l7 0 8-40-40 13-7 30-8 0z"/><path class=f13 d="M1157 2010l7 39-40 3-7-28z"/><path class=f14 d="M1150 2003l7 7-40 14-7-6z"/><path class=f10 d="M1142 2040l8-37-40 15-7 27z"/><path class=f9 d="M1135 2052l7-12-39 5-8 9z"/><path class=f13 d="M1128 2020l7 32-40 2-7-22z"/><path class=f15 d="M1120 2007l8 13-40 12-7-9z"/><path class=f11 d="M1113 2039l7-32-39 16-8 22z"/><path class=f9 d="M1106 2052l7-13-40 6-7 8z"/><path class=f14 d="M1098 2017l8 35-40 1-7-26z"/><path class=f17 d="M1091 1998l7 19-39 10-7-13z"/><path class=f12 d="M1084 2034l7-36-39 16-8 28z"/><path class=f9 d="M1077 2063l7-29-40 8-7 22z"/><path class=f13 d="M1069 2033l8 30-40 1-7-23z"/><path class=f18 d="M1062 1995l7 38-39 8-8-30z"/><path class=f16 d="M1055 2011l7-16-40 16-7 10z"/><path class=f12 d="M1047 2045l8-34-40 10-7 25z"/><path class=f13 d="M1040 2036l7 9-39 1-8-3z"/><path class=f17 d="M1033 2009l7 27-40 7-7-18z"/><path class=f15 d="M1026 2020l7-11-40 16-7 7z"/><path class=f13 d="M1018 2043l8-23-40 12-7 13z"/><path class=f15 d="M1011 2022l7 21-39 2-8-19z"/><path class=f20 d="M1004 1984l7 38-40 4-7-27z"/><path class=f18 d="M996 2001l8-17-40 15-7 16z"/><path class=f12 d="M982 2052l7 0 7-51-39 14-8 40-7 0z"/><path class=f19 d="M975 1997l7 55-40 3-7-44z"/><path class=f23 d="M967 1974l8 23-40 14-7-23z"/><path class=f19 d="M960 2006l7-32-39 14-8 22z"/><path class=f16 d="M953 2029l7-23-40 4-7 21z"/><path class=f18 d="M945 2013l8 16-40 2-7-7z"/><path class=f20 d="M938 2003l7 10-39 11-8-5z"/><path class=f18 d="M931 2020l7-17-40 16-7 7z"/><path class=f19 d="M924 2012l7 8-40 6-7-13z"/><path class=f25 d="M916 1967l8 45-40 1-7-36z"/><path class=f26 d="M909 1957l7 10-39 10-8-3z"/><path class=f19 d="M902 2013l7-56-40 17-7 47z"/><path class=f15 d="M894 2052l8-39-40 8-7 32z"/><path class=f20 d="M887 2010l7 42-39 1-8-35z"/><path class=f28 d="M873 1945l7 1 7 64-40 8-7-56-7-7z"/><path class=f24 d="M865 1987l8-42-40 10-7 33z"/><path class=f22 d="M858 2001l7-14-39 1-8 19z"/><path class=f23 d="M843 1993l8-3 7 11-40 6-7-1-7-1z"/><path class=f24 d="M836 1988l7 5-39 12-8-15z"/><path class=f30 d="M829 1943l7 45-40 2-7-43z"/><path class=f35 d="M822 1907l7 36-40 4-7-26z"/><path class=f30 d="M814 1948l8-41-40 14-7 40z"/><path class=f21 d="M800 2020l7 2 7-74-39 13-8 64-7-2z"/><path class=f31 d="M792 1938l8 82-40 3-7-71z"/><path class=f38 d="M785 1884l7 54-39 14-8-53z"/><path class=f35 d="M778 1910l7-26-40 15-7 15z"/><path class=f30 d="M771 1956l7-46-40 4-7 44z"/><path class=f28 d="M763 1969l8-13-40 2-7 23z"/><path class=f29 d="M756 1967l7 2-39 12-8 2z"/><path class=f30 d="M749 1959l7 8-40 16-7-18z"/><path class=f36 d="M741 1914l8 45-40 6-7-50z"/><path class=f43 d="M734 1853l7 61-39 1-8-52z"/><path class=f42 d="M727 1863l7-10-40 10-7 16z"/><path class=f31 d="M720 1954l7-91-40 16-7 83z"/><path class=f24 d="M712 2010l8-56-40 8-7 49z"/><path class=f22 d="M1656 1860l7 44-40 3-7-36z"/><path class=f30 d="M1648 1798l8 62-40 11-7-53z"/><path class=f28 d="M1641 1817l7-19-39 20-8 12z"/><path class=f21 d="M1634 1875l7-58-40 13-7 48z"/><path class=f20 d="M1626 1881l8-6-40 3-7 11z"/><path class=f24 d="M1619 1856l7 25-39 8-7-14z"/><path class=f22 d="M1612 1872l7-16-39 19-8 12z"/><path class=f18 d="M1605 1904l7-32-40 15-7 20z"/><path class=f21 d="M1597 1880l8 24-40 3-7-20z"/><path class=f27 d="M1590 1839l7 41-39 7-8-30z"/><path class=f23 d="M1583 1867l7-28-40 18-7 27z"/><path class=f15 d="M1575 1936l8-69-40 17-7 57z"/><path class=f14 d="M1568 1940l7-4-39 5-8 4z"/><path class=f22 d="M1561 1880l7 60-40 5-7-48z"/><path class=f24 d="M1554 1864l7 16-40 17-7-15z"/><path class=f18 d="M1546 1916l8-52-40 18-7 41z"/><path class=f15 d="M1539 1944l7-28-39 7-8 24z"/><path class=f19 d="M1532 1912l7 32-40 3-7-20z"/><path class=f21 d="M1524 1900l8 12-40 15-7-8z"/><path class=f16 d="M1517 1941l7-41-39 19-8 30z"/><path class=f14 d="M1510 1958l7-17-40 8-7 12z"/><path class=f19 d="M1503 1916l7 42-40 3-7-32z"/><path class=f22 d="M1495 1896l8 20-40 13-7-13z"/><path class=f16 d="M1488 1947l7-51-39 20-8 42z"/><path class=f11 d="M1481 1988l7-41-40 11-7 32z"/><path class=f15 d="M1473 1953l8 35-40 2-7-26z"/><path class=f21 d="M1466 1911l7 42-39 11-8-33z"/><path class=f17 d="M1459 1940l7-29-40 20-7 22z"/><path class=f11 d="M1452 1988l7-48-40 13-7 38z"/><path class=f14 d="M1444 1972l8 16-40 3-7-10z"/><path class=f19 d="M1437 1932l7 40-39 9-8-29z"/><path class=f16 d="M1430 1952l7-20-40 20-7 15z"/><path class=f11 d="M1422 1999l8-47-40 15-7 36z"/><path class=f12 d="M1415 1987l7 12-39 4-8-9z"/><path class=f18 d="M1408 1941l7 46-40 7-7-34z"/><path class=f17 d="M1401 1952l7-11-40 19-7 9z"/><path class=f10 d="M1386 2009l7-2 8-55-40 17-7 43-8 2z"/><path class=f17 d="M1379 1960l7 49-40 5-7-38z"/><path class=f18 d="M1371 1954l8 6-40 16-7-3z"/><path class=f11 d="M1364 2006l7-52-39 19-8 40z"/><path class=f10 d="M1357 2022l7-16-40 7-7 12z"/><path class=f15 d="M1350 1976l7 46-40 3-7-34z"/><path class=f18 d="M1342 1960l8 16-40 15-7-12z"/><path class=f12 d="M1335 2007l7-47-39 19-8 36z"/><path class=f9 d="M1328 2033l7-26-40 8-7 20z"/><path class=f14 d="M1320 1992l8 41-40 2-7-30z"/><path class=f18 d="M1313 1964l7 28-39 13-8-21z"/><path class=f13 d="M1306 2004l7-40-40 20-7 31z"/><path class=f9 d="M1299 2040l7-36-40 11-7 28z"/><path class=f13 d="M1291 2007l8 33-40 3-7-25z"/><path class=f18 d="M1284 1970l7 37-39 11-8-28z"/><path class=f14 d="M1277 2001l7-31-40 20-7 23z"/><path class=f9 d="M1269 2044l8-43-40 12-7 34z"/><path class=f12 d="M1262 2021l7 23-39 3-8-17z"/><path class=f18 d="M1255 1977l7 44-40 9-7-33z"/><path class=f15 d="M1248 1997l7-20-40 20-7 15z"/><path class=f10 d="M1240 2045l8-48-40 15-7 36z"/><path class=f11 d="M1233 2032l7 13-39 3-8-9z"/><path class=f18 d="M1226 1984l7 48-40 7-7-37z"/><path class=f17 d="M1218 1992l8-8-40 18-7 7z"/><path class=f10 d="M1204 2045l7-1 7-52-39 17-8 40-7 0z"/><path class=f17 d="M1196 1993l8 52-40 4-7-39z"/><path class=f18 d="M1189 1985l7 8-39 17-7-7z"/><path class=f12 d="M1182 2034l7-49-39 18-8 37z"/><path class=f11 d="M1175 2049l7-15-40 6-7 12z"/><path class=f16 d="M1167 2005l8 44-40 3-7-32z"/><path class=f19 d="M1160 1988l7 17-39 15-8-13z"/><path class=f14 d="M1153 2030l7-42-40 19-7 32z"/><path class=f11 d="M1145 2050l8-20-40 9-7 13z"/><path class=f17 d="M1138 2004l7 46-39 2-8-35z"/><path class=f21 d="M1131 1978l7 26-40 13-7-19z"/><path class=f15 d="M1124 2023l7-45-40 20-7 36z"/><path class=f11 d="M1116 2061l8-38-40 11-7 29z"/><path class=f16 d="M1109 2023l7 38-39 2-8-30z"/><path class=f22 d="M1102 1975l7 48-40 10-7-38z"/><path class=f19 d="M1094 1998l8-23-40 20-7 16z"/><path class=f14 d="M1087 2043l7-45-39 13-8 34z"/><path class=f16 d="M1080 2028l7 15-40 2-7-9z"/><path class=f21 d="M1073 1990l7 38-40 8-7-27z"/><path class=f19 d="M1065 2005l8-15-40 19-7 11z"/><path class=f15 d="M1058 2040l7-35-39 15-8 23z"/><path class=f18 d="M1051 2015l7 25-40 3-7-21z"/><path class=f24 d="M1043 1966l8 49-40 7-7-38z"/><path class=f22 d="M1036 1985l7-19-39 18-8 17z"/><path class=f14 d="M1029 2048l7-63-40 16-7 51z"/><path class=f15 d="M1022 2047l7 1-40 4-7 0z"/><path class=f23 d="M1014 1981l8 66-40 5-7-55z"/><path class=f27 d="M1007 1955l7 26-39 16-8-23z"/><path class=f21 d="M1000 2000l7-45-40 19-7 32z"/><path class=f18 d="M992 2026l8-26-40 6-7 23z"/><path class=f22 d="M985 1998l7 28-39 3-8-16z"/><path class=f24 d="M978 1984l7 14-40 15-7-10z"/><path class=f20 d="M971 2012l7-28-40 19-7 17z"/><path class=f21 d="M963 2009l8 3-40 8-7-8z"/><path class=f28 d="M956 1954l7 55-39 3-8-45z"/><path class=f30 d="M949 1937l7 17-40 13-7-10z"/><path class=f22 d="M941 2003l8-66-40 20-7 56z"/><path class=f17 d="M934 2050l7-47-39 10-8 39z"/><path class=f23 d="M927 1999l7 51-40 2-7-42z"/><path class=f32 d="M912 1932l8-6 7 73-40 11-7-64-7-1z"/><path class=f25 d="M898 1992l7-8 7-52-39 13-8 42-7 14z"/><path class=f28 d="M890 1971l8 21-40 9-7-11z"/><path class=f27 d="M883 1978l7-7-39 19-8 3z"/><path class=f26 d="M876 1985l7-7-40 15-7-5z"/><path class=f32 d="M869 1937l7 48-40 3-7-45z"/><path class=f39 d="M861 1888l8 49-40 6-7-36z"/><path class=f33 d="M854 1931l7-43-39 19-8 41z"/><path class=f23 d="M839 2016l8 2 7-87-40 17-7 74-7-2z"/><path class=f35 d="M832 1922l7 94-39 4-8-82z"/><path class=f42 d="M825 1866l7 56-40 16-7-54z"/><path class=f38 d="M818 1904l7-38-40 18-7 26z"/><path class=f32 d="M803 1955l7-2 8-49-40 6-7 46-8 13z"/><path class=f33 d="M788 1951l8-3 7 7-40 14-7-2-7-8z"/><path class=f38 d="M781 1911l7 40-39 8-8-45z"/><path class=f47 d="M766 1843l8-2 7 70-40 3-7-61-7 10z"/><path class=f34 d="M759 1943l7-100-39 20-7 91z"/><path class=f26 d="M752 2008l7-65-39 11-8 56zm943-168l8 54-40 10-7-44z"/><path class=f36 d="M1688 1767l7 73-39 20-8-62z"/><path class=f32 d="M1681 1795l7-28-40 31-7 19z"/><path class=f24 d="M1666 1864l7 1 8-70-40 22-7 58-8 6z"/><path class=f29 d="M1659 1826l7 38-40 17-7-25z"/><path class=f27 d="M1652 1848l7-22-40 30-7 16z"/><path class=f21 d="M1644 1892l8-44-40 24-7 32z"/><path class=f25 d="M1637 1865l7 27-39 12-8-24z"/><path class=f32 d="M1630 1810l7 55-40 15-7-41z"/><path class=f28 d="M1622 1840l8-30-40 29-7 28z"/><path class=f18 d="M1608 1927l7-4 7-83-39 27-8 69-7 4z"/><path class=f27 d="M1601 1853l7 74-40 13-7-60z"/><path class=f30 d="M1593 1835l8 18-40 27-7-16z"/><path class=f21 d="M1586 1902l7-67-39 29-8 52z"/><path class=f18 d="M1579 1933l7-31-40 14-7 28z"/><path class=f24 d="M1571 1887l8 46-40 11-7-32z"/><path class=f26 d="M1564 1870l7 17-39 25-8-12z"/><path class=f19 d="M1557 1924l7-54-40 30-7 41z"/><path class=f17 d="M1550 1948l7-24-40 17-7 17z"/><path class=f23 d="M1542 1894l8 54-40 10-7-42z"/><path class=f27 d="M1535 1866l7 28-39 22-8-20z"/><path class=f20 d="M1528 1927l7-61-40 30-7 51z"/><path class=f14 d="M1520 1978l8-51-40 20-7 41z"/><path class=f19 d="M1513 1933l7 45-39 10-8-35z"/><path class=f26 d="M1506 1880l7 53-40 20-7-42z"/><path class=f22 d="M1499 1918l7-38-40 31-7 29z"/><path class=f14 d="M1491 1978l8-60-40 22-7 48z"/><path class=f17 d="M1484 1955l7 23-39 10-8-16z"/><path class=f24 d="M1477 1903l7 52-40 17-7-40z"/><path class=f21 d="M1469 1928l8-25-40 29-7 20z"/><path class=f14 d="M1462 1988l7-60-39 24-8 47z"/><path class=f16 d="M1455 1972l7 16-40 11-7-12z"/><path class=f24 d="M1448 1913l7 59-40 15-7-46z"/><path class=f22 d="M1440 1926l8-13-40 28-7 11z"/><path class=f14 d="M1426 1996l7-2 7-68-39 26-8 55-7 2z"/><path class=f22 d="M1418 1933l8 63-40 13-7-49z"/><path class=f23 d="M1411 1926l7 7-39 27-8-6z"/><path class=f15 d="M1404 1991l7-65-40 28-7 52z"/><path class=f13 d="M1397 2010l7-19-40 15-7 16z"/><path class=f20 d="M1389 1952l8 58-40 12-7-46z"/><path class=f23 d="M1382 1930l7 22-39 24-8-16z"/><path class=f16 d="M1375 1990l7-60-40 30-7 47z"/><path class=f12 d="M1367 2022l8-32-40 17-7 26z"/><path class=f19 d="M1360 1970l7 52-39 11-8-41z"/><path class=f23 d="M1353 1934l7 36-40 22-7-28z"/><path class=f17 d="M1346 1985l7-51-40 30-7 40z"/><path class=f12 d="M1338 2030l8-45-40 19-7 36z"/><path class=f17 d="M1331 1988l7 42-39 10-8-33z"/><path class=f23 d="M1324 1939l7 49-40 19-7-37z"/><path class=f19 d="M1316 1978l8-39-40 31-7 31z"/><path class=f12 d="M1309 2034l7-56-39 23-8 43z"/><path class=f16 d="M1302 2004l7 30-40 10-7-23z"/><path class=f23 d="M1294 1947l8 57-40 17-7-44z"/><path class=f20 d="M1287 1972l7-25-39 30-7 20z"/><path class=f13 d="M1280 2033l7-61-39 25-8 48z"/><path class=f15 d="M1273 2017l7 16-40 12-7-13z"/><path class=f23 d="M1265 1955l8 62-40 15-7-48z"/><path class=f22 d="M1258 1965l7-10-39 29-8 8z"/><path class=f14 d="M1243 2032l8-1 7-66-40 27-7 52-7 1z"/><path class=f22 d="M1236 1966l7 66-39 13-8-52z"/><path class=f24 d="M1229 1956l7 10-40 27-7-8z"/><path class=f16 d="M1222 2019l7-63-40 29-7 49z"/><path class=f14 d="M1214 2037l8-18-40 15-7 15z"/><path class=f21 d="M1207 1980l7 57-39 12-8-44z"/><path class=f24 d="M1200 1958l7 22-40 25-7-17z"/><path class=f17 d="M1192 2013l8-55-40 30-7 42z"/><path class=f14 d="M1185 2039l7-26-39 17-8 20z"/><path class=f22 d="M1178 1982l7 57-40 11-7-46z"/><path class=f26 d="M1171 1947l7 35-40 22-7-26z"/><path class=f19 d="M1163 2003l8-56-40 31-7 45z"/><path class=f14 d="M1156 2051l7-48-39 20-8 38z"/><path class=f20 d="M1149 2003l7 48-40 10-7-38z"/><path class=f27 d="M1141 1945l8 58-40 20-7-48z"/><path class=f23 d="M1134 1976l7-31-39 30-8 23z"/><path class=f17 d="M1127 2032l7-56-40 22-7 45z"/><path class=f19 d="M1120 2011l7 21-40 11-7-15z"/><path class=f26 d="M1112 1960l8 51-40 17-7-38z"/><path class=f24 d="M1105 1981l7-21-39 30-8 15z"/><path class=f18 d="M1098 2029l7-48-40 24-7 35z"/><path class=f21 d="M1090 2001l8 28-40 11-7-25z"/><path class=f30 d="M1083 1937l7 64-39 14-8-49z"/><path class=f27 d="M1076 1958l7-21-40 29-7 19z"/><path class=f18 d="M1061 2034l8 1 7-77-40 27-7 63-7-1z"/><path class=f28 d="M1054 1954l7 80-39 13-8-66z"/><path class=f32 d="M1047 1927l7 27-40 27-7-26z"/><path class=f25 d="M1039 1985l8-58-40 28-7 45z"/><path class=f21 d="M1032 2015l7-30-39 15-8 26z"/><path class=f27 d="M1025 1973l7 42-40 11-7-28z"/><path class=f29 d="M1018 1954l7 19-40 25-7-14z"/><path class=f24 d="M1003 1999l7-4 8-41-40 30-7 28-8-3z"/><path class=f32 d="M996 1932l7 67-40 10-7-55z"/><path class=f36 d="M988 1907l8 25-40 22-7-17z"/><path class=f26 d="M981 1983l7-76-39 30-8 66z"/><path class=f19 d="M974 2040l7-57-40 20-7 47z"/><path class=f27 d="M967 1980l7 60-40 10-7-51z"/><path class=f38 d="M959 1896l8 84-40 19-7-73z"/><path class=f36 d="M952 1910l7-14-39 30-8 6z"/><path class=f28 d="M937 1975l8-1 7-64-40 22-7 52-7 8z"/><path class=f33 d="M930 1941l7 34-39 17-8-21z"/><path class=f32 d="M923 1953l7-12-40 30-7 7z"/><path class=f29 d="M916 1974l7-21-40 25-7 7z"/><path class=f36 d="M908 1922l8 52-40 11-7-48z"/><path class=f44 d="M901 1860l7 62-39 15-8-49z"/><path class=f38 d="M894 1904l7-44-40 28-7 43z"/><path class=f26 d="M879 2003l7 2 8-101-40 27-7 87-8-2z"/><path class=f40 d="M872 1895l7 108-40 13-7-94z"/><path class=f47 d="M864 1837l8 58-40 27-7-56z"/><path class=f41 d="M857 1889l7-52-39 29-7 38z"/><path class=f35 d="M850 1942l7-53-39 15-8 49z"/><path class=f36 d="M843 1930l7 12-40 11-7 2z"/><path class=f38 d="M835 1918l8 12-40 25-7-7z"/><path class=f36 d="M828 1933l7-15-39 30-8 3z"/><path class=f41 d="M821 1901l7 32-40 18-7-40z"/><path class=f51 d="M813 1818l8 83-40 10-7-70z"/><path class=f52 d="M806 1813l7 5-39 23-8 2z"/><path class=f38 d="M799 1924l7-111-40 30-7 100z"/><path class=f29 d="M792 1998l7-74-40 19-7 65z"/><path class=f31 d="M1735 1821l7 64-39 9-8-54z"/><path class=f41 d="M1728 1736l7 85-40 19-7-73z"/><path class=f37 d="M1720 1772l8-36-40 31-7 28z"/><path class=f27 d="M1713 1855l7-83-39 23-8 70z"/><path class=f28 d="M1706 1847l7 8-40 10-7-1z"/><path class=f35 d="M1699 1795l7 52-40 17-7-38z"/><path class=f31 d="M1691 1822l8-27-40 31-7 22z"/><path class=f24 d="M1684 1882l7-60-39 26-8 44z"/><path class=f28 d="M1677 1851l7 31-40 10-7-27z"/><path class=f37 d="M1669 1781l8 70-40 14-7-55z"/><path class=f33 d="M1662 1813l7-32-39 29-8 30z"/><path class=f21 d="M1648 1915l7-4 7-98-40 27-7 83-7 4z"/><path class=f32 d="M1640 1825l8 90-40 12-7-74z"/><path class=f35 d="M1633 1806l7 19-39 28-8-18z"/><path class=f25 d="M1626 1887l7-81-40 29-7 67z"/><path class=f21 d="M1618 1922l8-35-40 15-7 31z"/><path class=f28 d="M1611 1862l7 60-39 11-8-46z"/><path class=f31 d="M1604 1839l7 23-40 25-7-17z"/><path class=f23 d="M1597 1907l7-68-40 31-7 54z"/><path class=f19 d="M1589 1938l8-31-40 17-7 24z"/><path class=f28 d="M1582 1872l7 66-39 10-8-54z"/><path class=f33 d="M1575 1834l7 38-40 22-7-28z"/><path class=f24 d="M1567 1908l8-74-40 32-7 61z"/><path class=f16 d="M1560 1969l7-61-39 19-8 51z"/><path class=f23 d="M1553 1914l7 55-40 9-7-45z"/><path class=f32 d="M1546 1849l7 65-40 19-7-53z"/><path class=f26 d="M1538 1895l8-46-40 31-7 38z"/><path class=f17 d="M1531 1968l7-73-39 23-8 60z"/><path class=f21 d="M1524 1938l7 30-40 10-7-23z"/><path class=f30 d="M1516 1872l8 66-40 17-7-52z"/><path class=f26 d="M1509 1902l7-30-39 31-8 25z"/><path class=f17 d="M1502 1978l7-76-40 26-7 60z"/><path class=f19 d="M1495 1958l7 20-40 10-7-16z"/><path class=f29 d="M1487 1883l8 75-40 14-7-59z"/><path class=f27 d="M1480 1898l7-15-39 30-8 13z"/><path class=f17 d="M1465 1984l8-2 7-84-40 28-7 68-7 2z"/><path class=f27 d="M1458 1905l7 79-39 12-8-63z"/><path class=f28 d="M1451 1896l7 9-40 28-7-7z"/><path class=f18 d="M1443 1977l8-81-40 30-7 65z"/><path class=f16 d="M1436 2000l7-23-39 14-7 19z"/><path class=f25 d="M1429 1926l7 74-39 10-8-58z"/><path class=f29 d="M1422 1899l7 27-40 26-7-22z"/><path class=f20 d="M1414 1973l8-74-40 31-7 60z"/><path class=f15 d="M1407 2013l7-40-39 17-8 32z"/><path class=f23 d="M1400 1947l7 66-40 9-7-52z"/><path class=f29 d="M1392 1902l8 45-40 23-7-36z"/><path class=f21 d="M1385 1965l7-63-39 32-7 51z"/><path class=f14 d="M1378 2021l7-56-39 20-8 45z"/><path class=f21 d="M1371 1968l7 53-40 9-7-42z"/><path class=f29 d="M1363 1908l8 60-40 20-7-49z"/><path class=f23 d="M1356 1956l7-48-39 31-8 39z"/><path class=f15 d="M1349 2024l7-68-40 22-7 56z"/><path class=f20 d="M1341 1987l8 37-40 10-7-30z"/><path class=f29 d="M1334 1916l7 71-39 17-8-57z"/><path class=f25 d="M1327 1947l7-31-40 31-7 25z"/><path class=f16 d="M1320 2023l7-76-40 25-7 61z"/><path class=f18 d="M1312 2003l8 20-40 10-7-16z"/><path class=f28 d="M1305 1925l7 78-39 14-8-62z"/><path class=f27 d="M1298 1937l7-12-40 30-7 10z"/><path class=f17 d="M1283 2020l7-1 8-82-40 28-7 66-8 1z"/><path class=f27 d="M1276 1939l7 81-40 12-7-66z"/><path class=f29 d="M1269 1927l7 12-40 27-7-10z"/><path class=f19 d="M1261 2005l8-78-40 29-7 63z"/><path class=f17 d="M1254 2027l7-22-39 14-8 18z"/><path class=f26 d="M1247 1955l7 72-40 10-7-57z"/><path class=f30 d="M1239 1927l8 28-40 25-7-22z"/><path class=f21 d="M1232 1996l7-69-39 31-8 55z"/><path class=f17 d="M1225 2030l7-34-40 17-7 26z"/><path class=f26 d="M1218 1960l7 70-40 9-7-57z"/><path class=f32 d="M1210 1916l8 44-40 22-7-35z"/><path class=f23 d="M1203 1984l7-68-39 31-8 56z"/><path class=f16 d="M1196 2042l7-58-40 19-7 48z"/><path class=f24 d="M1188 1983l8 59-40 9-7-48z"/><path class=f33 d="M1181 1913l7 70-39 20-8-58z"/><path class=f28 d="M1174 1953l7-40-40 32-7 31z"/><path class=f19 d="M1167 2023l7-70-40 23-7 56z"/><path class=f23 d="M1159 1994l8 29-40 9-7-21z"/><path class=f31 d="M1152 1929l7 65-39 17-8-51z"/><path class=f28 d="M1145 1955l7-26-40 31-7 21z"/><path class=f21 d="M1137 2018l8-63-40 26-7 48z"/><path class=f25 d="M1130 1986l7 32-39 11-8-28z"/><path class=f35 d="M1123 1908l7 78-40 15-7-64z"/><path class=f32 d="M1116 1930l7-22-40 29-7 21z"/><path class=f21 d="M1101 2022l7 1 8-93-40 28-7 77-8-1z"/><path class=f33 d="M1094 1926l7 96-40 12-7-80z"/><path class=f37 d="M1086 1897l8 29-40 28-7-27z"/><path class=f28 d="M1079 1970l7-73-39 30-8 58z"/><path class=f24 d="M1072 2004l7-34-40 15-7 30z"/><path class=f31 d="M1065 1948l7 56-40 11-7-42z"/><path class=f35 d="M1057 1923l8 25-40 25-7-19z"/><path class=f28 d="M1050 1978l7-55-39 31-8 41z"/><path class=f27 d="M1043 1989l7-11-40 17-7 4z"/><path class=f37 d="M1035 1909l8 80-40 10-7-67z"/><path class=f41 d="M1028 1875l7 34-39 23-8-25z"/><path class=f31 d="M1021 1963l7-88-40 32-7 76z"/><path class=f22 d="M1014 2031l7-68-40 20-7 57z"/><path class=f31 d="M1006 1960l8 71-40 9-7-60z"/><path class=f43 d="M999 1864l7 96-39 20-8-84z"/><path class=f41 d="M992 1888l7-24-40 32-7 14z"/><path class=f31 d="M984 1964l8-76-40 22-7 64z"/><path class=f32 d="M977 1958l7 6-39 10-8 1z"/><path class=f38 d="M970 1910l7 48-40 17-7-34z"/><path class=f36 d="M962 1928l8-18-40 31-7 12z"/><path class=f32 d="M955 1963l7-35-39 25-7 21z"/><path class=f39 d="M948 1907l7 56-39 11-8-52z"/><path class=f49 d="M941 1830l7 77-40 15-7-62z"/><path class=f43 d="M933 1877l8-47-40 30-7 44z"/><path class=f29 d="M926 1993l7-116-39 27-8 101z"/><path class=f30 d="M919 1991l7 2-40 12-7-2z"/><path class=f45 d="M911 1867l8 124-40 12-7-108z"/><path class=f53 d="M904 1807l7 60-39 28-8-58z"/><path class=f45 d="M897 1874l7-67-40 30-7 52z"/><path class=f38 d="M890 1931l7-57-40 15-7 53z"/><path class=f41 d="M882 1905l8 26-40 11-7-12z"/><path class=f44 d="M875 1887l7 18-39 25-8-12z"/><path class=f40 d="M868 1916l7-29-40 31-7 15z"/><path class=f43 d="M860 1891l8 25-40 17-7-32z"/><path class=f56 d="M853 1796l7 95-39 10-8-83z"/><path class=f58 d="M846 1781l7 15-40 22-7-5z"/><path class=f42 d="M839 1904l7-123-40 32-7 111z"/><path class=f32 d="M831 1988l8-84-40 20-7 74z"/><path class=f35 d="M1775 1800l7 76-40 9-7-64z"/><path class=f47 d="M1767 1701l8 99-40 21-7-85z"/><path class=f42 d="M1760 1748l7-47-39 35-8 36z"/><path class=f30 d="M1753 1846l7-98-40 24-7 83z"/><path class=f32 d="M1746 1829l7 17-40 9-7-8z"/><path class=f40 d="M1738 1761l8 68-40 18-7-52z"/><path class=f36 d="M1731 1795l7-34-39 34-8 27z"/><path class=f27 d="M1724 1871l7-76-40 27-7 60z"/><path class=f32 d="M1716 1836l8 35-40 11-7-31z"/><path class=f43 d="M1709 1749l7 87-39 15-8-70z"/><path class=f39 d="M1702 1783l7-34-40 32-7 32z"/><path class=f24 d="M1687 1902l8-3 7-116-40 30-7 98-7 4z"/><path class=f38 d="M1680 1795l7 107-39 13-8-90z"/><path class=f41 d="M1673 1774l7 21-40 30-7-19z"/><path class=f28 d="M1665 1872l8-98-40 32-7 81z"/><path class=f24 d="M1658 1911l7-39-39 15-8 35z"/><path class=f33 d="M1651 1835l7 76-40 11-7-60z"/><path class=f37 d="M1644 1805l7 30-40 27-7-23z"/><path class=f27 d="M1636 1889l8-84-40 34-7 68z"/><path class=f22 d="M1629 1929l7-40-39 18-8 31z"/><path class=f33 d="M1622 1848l7 81-40 9-7-66z"/><path class=f39 d="M1614 1800l8 48-40 24-7-38z"/><path class=f28 d="M1607 1887l7-87-39 34-8 74z"/><path class=f19 d="M1600 1960l7-73-40 21-7 61z"/><path class=f28 d="M1593 1893l7 67-40 9-7-55z"/><path class=f38 d="M1585 1814l8 79-40 21-7-65z"/><path class=f31 d="M1578 1871l7-57-39 35-8 46z"/><path class=f20 d="M1571 1959l7-88-40 24-7 73z"/><path class=f25 d="M1563 1920l8 39-40 9-7-30z"/><path class=f35 d="M1556 1838l7 82-39 18-8-66z"/><path class=f31 d="M1549 1875l7-37-40 34-7 30z"/><path class=f20 d="M1541 1967l8-92-40 27-7 76z"/><path class=f23 d="M1534 1943l7 24-39 11-7-20z"/><path class=f35 d="M1527 1851l7 92-39 15-8-75z"/><path class=f33 d="M1520 1868l7-17-40 32-7 15z"/><path class=f20 d="M1505 1971l7-2 8-101-40 30-7 84-8 2z"/><path class=f32 d="M1498 1875l7 96-40 13-7-79z"/><path class=f34 d="M1490 1864l8 11-40 30-7-9z"/><path class=f22 d="M1483 1962l7-98-39 32-8 81z"/><path class=f19 d="M1476 1989l7-27-40 15-7 23z"/><path class=f30 d="M1469 1899l7 90-40 11-7-74z"/><path class=f34 d="M1461 1865l8 34-40 27-7-27z"/><path class=f23 d="M1454 1955l7-90-39 34-8 74z"/><path class=f18 d="M1447 2003l7-48-40 18-7 40z"/><path class=f28 d="M1439 1923l8 80-40 10-7-66z"/><path class=f35 d="M1432 1868l7 55-39 24-8-45z"/><path class=f25 d="M1425 1944l7-76-40 34-7 63z"/><path class=f17 d="M1418 2012l7-68-40 21-7 56z"/><path class=f25 d="M1410 1947l8 65-40 9-7-53z"/><path class=f35 d="M1403 1873l7 74-39 21-8-60z"/><path class=f28 d="M1396 1932l7-59-40 35-7 48z"/><path class=f18 d="M1388 2015l8-83-40 24-7 68z"/><path class=f23 d="M1381 1969l7 46-39 9-8-37z"/><path class=f34 d="M1374 1883l7 86-40 18-7-71z"/><path class=f30 d="M1367 1920l7-37-40 33-7 31z"/><path class=f19 d="M1359 2012l8-92-40 27-7 76z"/><path class=f22 d="M1352 1988l7 24-39 11-8-20z"/><path class=f34 d="M1345 1893l7 95-40 15-7-78z"/><path class=f32 d="M1337 1907l8-14-40 32-7 12z"/><path class=f20 d="M1323 2007l7-1 7-99-39 30-8 82-7 1z"/><path class=f33 d="M1316 1909l7 98-40 13-7-81z"/><path class=f35 d="M1308 1895l8 14-40 30-7-12z"/><path class=f23 d="M1301 1990l7-95-39 32-8 78z"/><path class=f20 d="M1294 2016l7-26-40 15-7 22z"/><path class=f31 d="M1286 1928l8 88-40 11-7-72z"/><path class=f35 d="M1279 1894l7 34-39 27-8-28z"/><path class=f25 d="M1272 1979l7-85-40 33-7 69z"/><path class=f20 d="M1265 2020l7-41-40 17-7 34z"/><path class=f31 d="M1257 1935l8 85-40 10-7-70z"/><path class=f38 d="M1250 1881l7 54-39 25-8-44z"/><path class=f28 d="M1243 1963l7-82-40 35-7 68z"/><path class=f19 d="M1235 2033l8-70-40 21-7 58z"/><path class=f28 d="M1228 1962l7 71-39 9-8-59z"/><path class=f39 d="M1221 1879l7 83-40 21-7-70z"/><path class=f33 d="M1214 1929l7-50-40 34-7 40z"/><path class=f22 d="M1206 2013l8-84-40 24-7 70z"/><path class=f27 d="M1199 1976l7 37-39 10-8-29z"/><path class=f37 d="M1192 1896l7 80-40 18-7-65z"/><path class=f33 d="M1184 1928l8-32-40 33-7 26z"/><path class=f24 d="M1177 2007l7-79-39 27-8 63z"/><path class=f28 d="M1170 1971l7 36-40 11-7-32z"/><path class=f41 d="M1163 1876l7 95-40 15-7-78z"/><path class=f38 d="M1155 1900l8-24-40 32-7 22z"/><path class=f24 d="M1141 2009l7 1 7-110-39 30-8 93-7-1z"/><path class=f39 d="M1133 1896l8 113-40 13-7-96z"/><path class=f43 d="M1126 1865l7 31-39 30-8-29z"/><path class=f32 d="M1119 1955l7-90-40 32-7 73z"/><path class=f27 d="M1112 1993l7-38-40 15-7 34z"/><path class=f36 d="M1104 1921l8 72-40 11-7-56z"/><path class=f40 d="M1097 1890l7 31-39 27-8-25z"/><path class=f32 d="M1090 1960l7-70-40 33-7 55z"/><path class=f30 d="M1082 1980l8-20-40 18-7 11z"/><path class=f42 d="M1075 1885l7 95-39 9-8-80z"/><path class=f47 d="M1068 1841l7 44-40 24-7-34z"/><path class=f35 d="M1060 1942l8-101-40 34-7 88z"/><path class=f25 d="M1053 2022l7-80-39 21-7 68z"/><path class=f36 d="M1046 1939l7 83-39 9-8-71z"/><path class=f49 d="M1039 1830l7 109-40 21-7-96z"/><path class=f45 d="M1031 1864l8-34-40 34-7 24z"/><path class=f34 d="M1024 1955l7-91-39 24-8 76z"/><path class=f36 d="M1017 1940l7 15-40 9-7-6z"/><path class=f44 d="M1009 1876l8 64-40 18-7-48z"/><path class=f41 d="M1002 1901l7-25-39 34-8 18z"/><path class=f35 d="M995 1952l7-51-40 27-7 35z"/><path class=f43 d="M988 1892l7 60-40 11-7-56z"/><path class=f55 d="M980 1798l8 94-40 15-7-77z"/><path class=f49 d="M973 1847l7-49-39 32-8 47z"/><path class=f32 d="M966 1980l7-133-40 30-7 116z"/><path class=f33 d="M958 1978l8 2-40 13-7-2z"/><path class=f51 d="M951 1837l7 141-39 13-8-124z"/><path class=f58 d="M944 1775l7 62-40 30-7-60z"/><path class=f48 d="M937 1859l7-84-40 32-7 67z"/><path class=f41 d="M929 1920l8-61-40 15-7 57z"/><path class=f46 d="M922 1877l7 43-39 11-8-26z"/><path class=f49 d="M915 1854l7 23-40 28-7-18z"/><path class=f44 d="M907 1899l8-45-40 33-7 29z"/><path class=f46 d="M900 1882l7 17-39 17-8-25z"/><path class=f60 d="M893 1772l7 110-40 9-7-95z"/><path class=f63 d="M886 1747l7 25-40 24-7-15z"/><path class=f47 d="M878 1883l8-136-40 34-7 123z"/><path class=f35 d="M871 1979l7-96-39 21-8 84z"/></g>
<path d="M81.1 759.1L81.1 1012.8L435.5 1131.5L891.0 1040.5M435.5 1131.5L447.4 1135.5M663.2 1086.0L675.1 1090.0M891.0 1040.5L902.9 1044.5M435.5 1131.5L423.2 1133.9M258.3 1072.2L246.0 1074.6M81.1 1012.8L68.8 1015.2M81.1 973.4L69.2 969.4M81.1 934.0L69.2 930.0M81.1 894.6L69.2 890.6M81.1 855.2L69.2 851.2M81.1 815.8L69.2 811.8M81.1 776.4L69.2 772.4" stroke="#4d4d4d" stroke-width="2.2" fill="none" stroke-linejoin="round"/>
</g>
<g>
<path d="M1361.0 1131.0L1012.4 1013.2M1587.7 1087.0L1239.1 969.2M1814.3 1043.0L1465.7 925.2M1361.0 1131.0L1814.3 1043.0M1186.7 1072.1L1640.0 984.1M1012.4 1013.2L1465.7 925.2M1012.4 1013.2L1012.4 757.0M1239.1 969.2L1239.1 713.0M1465.7 925.2L1465.7 669.0M1012.4 1013.2L1465.7 925.2M1012.4 949.4L1465.7 861.4M1012.4 885.6L1465.7 797.6M1012.4 821.8L1465.7 733.8M1012.4 758.0L1465.7 670.0M1814.3 1043.0L1814.3 786.8M1640.0 984.1L1640.0 727.9M1465.7 925.2L1465.7 669.0M1814.3 1043.0L1465.7 925.2M1814.3 979.2L1465.7 861.4M1814.3 915.4L1465.7 797.6M1814.3 851.6L1465.7 733.8M1814.3 787.8L1465.7 670.0" stroke="#e4e4e4" stroke-width="2.4" fill="none"/>
<g transform="matrix(0.90660 -0.17600 -0.69720 -0.23560 1413.35 1028.10)" fill="none" stroke-width="2.7" stroke-linejoin="round">
<path stroke="#4536d4" vector-effect="non-scaling-stroke" d="M2-96l1-5-4-2-3 4zM1-42l5-4 1-5-8-6-6 8 3 5zM-48-44l4-7-7-5-5 7 4 5zM52-44l4-7-7-5-6 7 3 4zM3 8l5-5 0-5-4-5-6-1-5 4-1 7 5 5zM-46 6l3-8-4-5-5 0-5 5 1 5 5 4zM53 6l4-5-1-5-5-3-5 1-4 5 2 5 5 3zM-97 3l0-5-5 0 0 5zM102 3l0-5-5 0 0 5zM3 56l4-8-4-5-5 0-5 5 0 5 5 4zM-46 55l2-7-3-4-5 0-3 9 4 3zM53 55l2-9-9-1-2 8 5 3zM2 103l1-5-5-2-1 5z"/>
<path stroke="#484cef" vector-effect="non-scaling-stroke" d="M2-146l1-5-5-1-1 5zM-50-149l0-1 0 1zM50-149l0-1 0 1zM-48-91l5-4 1-6-3-5-6-2-7 9 4 7zM4-91l4-5 1-6-6-6-7 0-5 6 1 6 6 5zM51-91l7-9-3-6-6-2-5 3-3 6 4 6zM-97-95l2-7-7-2-2 7zM102-95l2-6-6-3-3 7zM3-39l7-6 1-7-6-8-7-1-8 6-1 8 6 7zM-45-40l5-6 1-6-6-7-7-1-8 6 0 7 6 7zM54-40l6-6 0-6-6-8-8 0-6 6 0 8 6 6zM-96-42l5-5-1-5-4-5-6 0-5 5 0 6 6 4zM103-42l4-10-4-5-7 0-4 5 0 6 6 4zM-149-50l-1 0 1 0zM150-50l-1 0zM-47 11l7-5 2-7-6-8-7-3-8 6-2 7 6 9zM4 11l7-6 1-7-7-9-7-1-9 7-1 8 8 8zM52 11l7-5 2-7-5-8-7-3-9 6-2 7 6 8zM-97 9l5-4 2-6-5-6-6-2-6 4-1 6 4 7zM102 9l6-5 0-6-4-6-6-1-6 4-2 6 5 7zM-147 3l0-5-5 0 0 5zM152 3l0-5-5 0 0 5zM1 61l7-3 4-8-4-8-8-4-7 4-5 8 5 8zM-47 60l6-5 2-6-5-8-7-2-7 5-2 7 5 8zM53 60l6-5 1-6-4-7-7-3-8 5-2 7 6 8zM-97 58l5-4 1-6-5-5-5-1-5 3-2 6 4 6zM102 58l5-4 0-6-4-5-5-1-5 3-2 6 5 6zM-149 50l-1 0 1 0zM150 50l-1 0zM-48 108l7-9-4-6-6-2-6 4-1 6 4 6zM4 108l5-5-1-7-4-5-6 0-6 5-1 7 7 5zM51 108l7-9-3-6-6-2-5 3-3 6 4 6zM-97 104l2-7-7-2-2 7zM102 104l2-7-7-2-2 7zM2 153l1-5-4-2-3 4zM-50 149l0 1zM50 149l0 1z"/>
<path stroke="#4562fc" vector-effect="non-scaling-stroke" d="M2-140l5-4 2-6-4-6-6-2-6 4-2 7 4 5zM-47-141l5-4 0-6-4-5-5-1-6 3-1 7 4 5zM52-141l5-5 1-5-4-5-6-1-5 4-1 6 4 5zM-97-145l2-7-7-1-2 7zM102-145l1-7-7-1-1 7zM-46-87l7-7 2-7-6-8-8-3-8 6-3 9 7 8zM2-86l8-6 3-8-5-9-9-3-9 5-3 8 7 11zM53-87l7-7 2-7-6-8-8-2-9 6-2 8 8 9zM-96-90l6-6 0-6-5-6-7-1-6 5-1 8 6 6zM103-90l5-5 1-6-4-6-7-2-7 4-1 8 5 6zM-147-95l3-6-7-3-3 7zM152-95l2-7-8-2-1 7zM0-34l10-6 6-10-6-10-10-5-10 5-6 10 6 10zM-47-35l8-6 4-9-5-9-10-5-10 5-4 10 8 12zM52-35l9-7 3-9-6-10-9-3-11 7-3 8 8 11zM-97-37l8-7 2-7-5-8-9-3-8 6-3 7 6 9zM102-37l8-7 2-7-6-8-7-3-9 5-3 8 6 9zM-145-42l4-5 0-5-5-5-6 0-5 5 0 6 6 4zM153-42l4-10-4-5-7 0-5 5 0 5 5 5zM2 16l10-7 5-9-6-10-11-7-11 7-6 10 8 12zM-47 15l11-9 2-7-8-11-9-4-11 9-3 8 9 12zM53 15l9-7 3-9-7-11-9-4-11 7-4 10 10 12zM-96 13l8-7 2-7-6-9-9-3-8 6-3 8 7 10zM103 13l7-7 2-7-6-9-8-3-10 7-2 7 8 10zM-147 9l6-5 1-5-4-6-7-2-6 5-1 7 6 5zM152 9l5-4 1-6-4-6-6-2-6 4-2 6 5 7zM2 65l10-7 4-9-7-10-9-5-10 6-6 10 7 11zM-47 64l10-8 2-7-7-11-9-3-10 8-3 8 8 11zM53 64l9-8 2-7-6-11-9-3-11 8-3 8 9 11zM-96 61l7-6 2-7-7-9-7-2-8 6-3 8 7 9zM103 61l7-6 1-7-6-9-7-2-9 7-2 7 7 9zM-146 58l5-5 0-5-4-5-6-1-5 4-1 5 5 6zM152 58l4-4 1-6-4-5-5-1-6 3-1 6 4 6zM5 111l6-6 2-7-7-10-7-2-9 7-3 8 8 10zM-47 111l7-5 3-7-5-9-9-3-8 6-3 8 7 9zM53 111l6-5 3-7-5-9-8-3-9 6-3 8 7 9zM-96 109l5-5 1-6-4-7-7-2-6 5-2 7 5 7zM103 109l5-5 1-6-4-7-7-1-7 4-2 7 6 7zM-146 104l1-7-7-2-2 7zM152 104l1-8-7-1-1 7zM3 158l5-5 1-7-5-5-6-1-6 5-1 6 5 6zM-46 156l4-5 0-5-4-4-6-1-5 5 0 7 5 4zM54 156l4-5-1-5-4-5-7 1-4 4 0 7 6 4zM-97 154l2-6-6-4-3 7zM102 154l2-6-6-4-3 7z"/>
<path stroke="#3479fd" vector-effect="non-scaling-stroke" d="M4-192l3-5-1-5-5-4-5 1-3 5 1 5 5 4zM-49-192l6-8-7-5-6 6zM50-192l6-8-7-5-6 6zM-99-199l0-1-1 0 0 2zM100-199l0-1-1 1 1 1zM-50-136l8-4 5-9-4-8-9-4-9 4-3 8 5 9zM4-136l8-8 1-7-5-8-9-3-9 6-3 9 8 10zM50-136l8-4 4-9-3-8-9-4-9 4-4 8 5 9zM-95-140l5-6 0-6-6-6-6-1-7 6 0 7 7 7zM103-140l6-6 0-6-5-6-8 0-6 5 0 7 6 6zM-146-145l1-7-7-1-1 7zM152-145l1-7-7-1-1 7zM2-81l11-10 4-9-7-11-10-5-11 6-6 11 10 14zM-47-82l10-9 4-9-7-11-10-4-11 6-5 10 9 13zM52-82l10-9 4-9-7-11-10-4-11 6-5 10 10 13zM-99-85l10-6 4-9-5-9-10-4-10 6-3 8 6 10zM100-85l9-5 4-10-5-10-9-3-10 6-4 8 6 10zM-146-90l6-5 1-6-5-7-7-1-6 4-2 8 5 6zM153-90l5-6 1-6-6-7-7 0-6 5-1 7 6 7zM-198-99l0-1-2 0 0 1zM200-99l0-1-2 0 0 1zM-47-30l18-20-11-13-10-6-13 9-6 11 14 17zM1-27l20-23-10-12-11-8-11 8-10 12 14 17zM52-30l13-12 4-8-9-13-11-6-14 10-6 10 16 18zM-96-34l10-8 4-8-8-11-10-5-11 7-4 10 9 13zM103-34l10-8 2-9-7-11-9-4-12 7-5 10 12 14zM-147-37l8-7 3-7-6-8-8-3-8 5-3 8 6 10zM152-37l7-7 2-7-6-9-7-2-9 6-3 7 7 9zM-197-44l4-7-3-4-5-1-4 9zM201-44l4-7-7-5-5 7 3 5zM2 23l21-23-23-23-23 23 21 22zM-47 20l20-20-23-21-12 10-8 11 15 18zM53 20l17-20-7-11-13-10-23 21 18 19zM-95 16l11-10 3-7-10-12-9-4-12 8-4 10 11 14zM104 16l10-10 2-7-7-11-10-5-13 8-5 10 13 14zM-146 13l8-7 3-7-7-10-9-2-9 7-2 9 7 8zM153 13l7-7 2-7-6-9-8-3-10 7-3 7 9 11zM-195 6l4-5-1-5-5-3-5 1-4 5 1 5 5 3zM203 6l3-5-1-5-5-3-5 1-4 5 2 5 5 3zM4 69l17-19-21-23-21 23 16 18zM-49 69l10-7 10-12-8-12-13-9-13 11-6 10 9 13zM50 69l11-8 8-11-6-10-13-11-12 9-9 12 11 13zM-96 65l11-9 3-7-8-11-10-5-12 8-3 10 10 13zM103 65l10-9 2-7-6-11-10-5-11 7-6 10 11 13zM-145 61l7-6 1-7-7-9-7-2-8 6-2 8 6 9zM153 61l7-6 1-7-6-9-7-2-9 7-3 7 8 9zM-195 55l1-9-8-1-3 4 1 5zM202 55l2-9-4-3-5 2-1 8zM1 116l10-6 6-10-6-11-11-8-11 8-6 11 7 11zM-47 115l10-7 4-9-7-11-10-6-11 8-5 10 9 12zM53 115l9-7 4-9-7-12-10-5-11 8-5 10 10 13zM-96 113l9-8 2-7-7-10-9-3-10 8-2 8 8 10zM103 113l8-7 2-7-5-10-9-4-10 6-4 9 8 11zM-146 109l6-5 1-6-5-7-7-2-6 5-2 7 5 7zM153 109l5-5 1-6-5-7-6-2-7 5-2 7 6 7zM-198 100l0-1-2 0 0 1zM200 100l0-1-2 0 0 1zM-48 161l8-5 3-7-5-9-8-4-8 5-4 9 5 9zM4 161l7-6 2-7-7-10-7-3-10 8-2 8 8 10zM51 161l8-5 3-7-5-9-8-4-9 6-3 8 6 8zM-97 159l6-5 2-6-5-7-7-2-7 5-1 7 4 7zM102 159l6-5 1-6-4-7-6-2-7 4-3 7 5 7zM-147 154l3-6-7-4-3 7zM152 154l1-8-7-1-1 7zM-48 205l4-7-7-5-5 7 4 5zM1 206l6-7-7-8-7 8 2 5zM52 205l4-7-7-5-6 7 3 4zM-99 199l-1-1 0 2 1 0zM100 199l0-1-1 1 1 1z"/>
<path stroke="#2c8ff1" vector-effect="non-scaling-stroke" d="M0-247l1-2-1-1-1 1zM3-187l7-7 1-7-6-8-7-1-8 6-1 8 7 8zM-46-189l6-6 1-6-6-7-7-1-7 5-1 8 6 7zM54-189l6-6 0-7-6-7-8 0-6 6-1 7 7 8zM-96-191l5-10-5-5-6-1-5 5 0 6 5 5zM103-191l4-10-4-6-7 1-4 4 0 6 4 5zM-148-199l-1-1-1 0 0 2zM150-199l-1-1-1 1 1 1zM-49-131l10-8 6-10-6-10-11-6-11 6-5 10 7 12zM1-130l13-11 3-9-7-11-10-5-11 6-7 11 9 13zM50-131l10-7 6-11-5-10-11-6-11 6-6 10 7 11zM-97-135l9-7 3-8-6-9-10-4-9 7-3 9 8 10zM102-135l9-7 2-8-5-9-9-4-10 6-4 8 8 11zM-145-140l6-6-1-6-5-6-7 0-6 6-1 6 7 6zM153-140l6-6-1-6-5-6-7-1-6 6-1 7 7 7zM-198-149l0-1-2 0 0 1zM200-149l0-1-2 0 1 2zM2 121l23-18 21 16 7 1 18-20-16-24 9-13 12-8 24 16 18-16 1-9-16-21 18-26-18-24 15-20 2-6-20-20-24 16-13-9-8-12 16-24-18-20-7 1-21 16-26-18-24 18-20-15-6-2-20 20 16 24-9 13-12 8-24-16-20 19 1 6 16 21-18 26 18 24-15 20-2 6 20 20 24-16 13 9 8 12-16 24 17 19 8 0 21-16 21 17zM-97-80l18-20-11-12-10-5-11 7-6 11 11 15zM102-80l11-11 4-9-7-11-11-6-13 8-7 10 15 16zM-148-85l9-6 5-9-6-9-10-4-9 6-4 8 6 10zM150-85l9-6 4-9-5-9-9-4-10 6-5 8 7 10zM-197-91l7-9-4-6-6-2-5 3-2 6 3 6zM201-91l5-4 1-6-3-5-6-2-6 4-2 5 4 7zM-22-57l-10-3-13-15 6-10 14-11 19 20-4 9zM28-57l-10-4-12-14 6-10 13-11 20 20-5 9zM-146-34l15-16-9-11-10-5-11 7-4 10 10 14zM153-34l9-8 3-9-7-11-10-4-12 9-5 8 13 14zM-198-39l7-3 3-8-3-7-8-4-7 4-4 7 4 8zM199-39l7-3 4-8-4-7-7-4-8 4-3 7 3 8zM-75-6l-10-6-11-13 11-14 10-6 13 10 5 10-7 11zM76-6l-11-7-8-12 5-10 13-10 10 6 11 14zM-22-9l-10-2-11-14 6-10 11-7 10 4 8 12-4 9zM28-8l-10-4-10-13 6-10 11-8 11 7 7 11-5 9zM-149 18l11-7 8-11-10-13-10-4-11 7-5 10 7 12zM150 18l11-8 5-10-6-11-11-7-11 7-8 11 10 13zM-196 11l7-6 2-6-5-8-8-3-7 5-3 8 5 8zM202 11l6-5 2-7-5-8-7-3-9 6-2 7 7 9zM-249 1l2-1-2-1-1 1zM249 1l1-1-1-1-2 1zM-72 44l-9-2-15-17 20-19 11 7 8 12-3 8zM79 44l-9-2-13-16 5-10 13-10 10 6 11 13zM-25 43l-11-7-7-11 8-11 10-6 11 7 6 10-6 10zM25 43l-11-8-6-10 6-10 11-7 10 6 8 11-7 11zM-145 65l10-9 4-7-10-12-9-4-11 8-4 10 10 13zM153 65l10-9 2-7-6-11-10-5-11 7-7 10 12 13zM-196 60l7-6 1-6-6-8-7-1-7 6-1 8 5 6zM202 60l6-5 1-7-4-7-7-2-8 5-2 7 6 8zM-25 96l-14-11-6-10 10-13 10-5 11 7 8 11-6 10zM25 96l-13-11-6-10 8-11 11-7 10 5 10 13-6 10zM-96 116l12-10 5-7-12-14-9-6-12 11-5 10 11 14zM103 116l10-8 4-9-8-13-10-7-14 12-6 9 14 14zM-146 113l8-7 4-7-7-10-9-4-9 6-4 10 8 10zM153 113l8-8 2-7-7-10-8-3-10 8-3 8 9 11zM-197 108l7-9-4-6-6-2-6 4-1 6 3 5zM201 108l5-4 1-6-4-5-5-2-6 4-1 6 4 6zM4 165l10-9 4-7-7-11-11-8-13 10-4 10 10 13zM-50 165l12-6 5-10-7-11-10-7-10 7-6 11 5 10zM50 165l11-6 5-10-6-11-10-7-10 7-7 11 6 10zM-97 163l9-7 3-7-6-10-9-5-9 6-4 10 6 10zM102 163l8-6 3-8-5-10-9-5-10 7-4 9 7 10zM-147 159l7-5 1-6-5-7-6-2-6 4-3 7 5 8zM152 159l6-5 1-6-5-8-6-1-7 5-2 7 5 7zM-198 150l0-1-2 0 0 1zM200 150l0-1-2 0 0 1zM2 210l7-5 3-7-6-9-7-2-8 5-3 8 6 8zM-46 209l6-5 1-6-5-8-7-2-8 5-1 8 6 8zM53 209l7-6 0-7-5-6-7-2-8 6-1 7 6 7zM-96 206l5-5-1-5-4-5-6 0-5 5 0 7 5 4zM103 206l4-5 0-5-4-5-7 0-4 5 0 7 6 4zM-149 200l0-2-1 0 0 2zM150 200l0-2-1 0 0 2zM1 249l-1-2-1 2 1 1z"/>
<path stroke="#22a2e4" vector-effect="non-scaling-stroke" d="M-103-250l3 5 4-5M-57-250l2 6 5 3 6-3 2-6M-8-250l2 7 6 3 6-3 2-7M42-250l2 6 6 3 5-3 2-6M96-250l4 5 3-5M3-182l10-10 3-8-7-10-10-4-11 8-4 9 11 13zM-46-184l9-8 2-8-6-9-10-4-10 7-3 9 9 12zM53-184l9-8 2-8-6-10-9-3-11 7-3 9 10 12zM-97-186l8-6 2-8-5-8-9-3-9 6-2 8 7 9zM102-186l7-6 3-8-6-8-8-3-9 6-2 8 7 9zM-146-191l5-5 0-6-5-5-6 1-5 4 0 6 5 5zM153-191l4-10-4-5-7-1-4 5-1 6 5 5zM2 170l23-18 21 16 9-1 16-17-15-24 8-12 14-7 22 17 23-23-16-25 8-13 13-7 22 15 16-15 2-10-16-21 18-26-18-24 16-20 1-6-19-20-24 15-13-9-6-12 17-23-23-23-25 16-13-8-7-12 15-23-17-18-8 0-21 16-26-18-24 18-20-16-6-1-20 19 15 24-9 13-12 6-23-17-23 23 16 25-8 13-12 7-23-15-18 17 0 8 16 21-18 26 18 24-16 20-1 6 19 20 24-15 13 9 6 13-17 22 23 23 25-16 13 8 7 13-15 22 16 17 9 1 21-16 21 17zM-97-129l18-21-11-12-10-5-11 7-6 11 12 17 5 4zM102-129l13-13 2-8-8-12-10-5-13 8-7 10 17 20zM-146-135l9-7 3-8-6-9-10-4-10 7-3 9 8 10zM152-135l8-7 3-9-7-9-8-3-10 7-4 7 9 12zM-196-141l5-5 0-5-4-5-6-1-5 4-1 6 5 5zM202-141l4-4 1-6-4-6-7 0-5 4 0 6 4 5zM-24-108l-10-4-10-13 6-10 13-11 12 10 6 10-5 10zM28-109l-10-3-11-13 5-10 13-11 11 9 8 11-5 9zM-147-80l19-20-13-14-9-3-12 8-5 10 11 15zM151-80l12-11 4-9-7-11-11-6-11 6-10 12 17 18zM-195-87l7-7 2-7-6-8-9-2-8 5-2 9 7 9zM203-87l6-7 2-7-6-9-7-2-10 7-2 8 8 9zM-250-96l5-4-5-3M250-103l-5 3 5 4M-74-60l-10-3-8-12 5-10 11-7 10 5 6 11-3 9zM78-60l-10-3-8-12 4-10 11-7 10 5 7 11-4 9zM-24-61l-10-4-6-10 5-10 10-5 9 4 5 10-3 9zM26-61l-9-4-6-10 5-10 9-5 9 4 6 10-4 9zM-196-35l9-7 4-8-7-10-10-4-10 6-3 9 7 11zM201-35l9-7 3-9-7-10-8-3-11 7-4 8 10 12zM-250-42l6-2 3-6-3-5-6-2M250-57l-6 2-3 5 3 6 6 2M-124-7l-10-4-12-14 9-11 11-8 10 6 8 12-5 10zM128-7l-12-5-8-13 6-10 11-9 10 6 11 13zM-72-11l-10-3-8-10 3-8 11-8 9 4 6 10-3 8zM78-11l-10-3-7-11 5-10 9-5 9 4 6 10-3 9zM-24-12l-8-3-6-9 3-8 9-6 8 3 6 9-3 8zM26-12l-8-4-6-9 5-9 8-4 9 4 4 9-3 8zM-196 15l11-9 3-7-9-11-9-4-10 7-4 10 9 12zM202 15l9-7 3-9-8-11-8-4-12 9-4 8 11 12zM-250 8l7-2 3-6-3-6-7-2M250-8l-7 2-3 6 3 6 7 2M-122 43l-9-2-15-16 10-12 10-6 10 5 8 12-3 9zM129 43l-10-3-11-14 5-10 12-9 10 5 11 13zM-72 39l-10-2-8-11 3-8 11-7 9 3 6 10-3 8zM79 39l-10-2-8-11 3-8 10-7 9 3 7 10-2 7zM-22 38l-9-2-7-10 3-8 9-6 8 3 6 9-2 7zM28 38l-9-2-7-10 3-8 9-6 9 3 5 9-2 7zM-196 64l10-8 3-7-8-11-9-3-9 6-4 10 8 11zM202 64l9-8 2-7-7-11-8-3-11 8-4 8 10 11zM-250 57l6-2 3-5-3-6-6-2M250 42l-6 2-3 6 3 5 6 2M-72 92l-10-3-10-13 5-10 11-6 10 4 6 11-3 9zM79 91l-10-2-9-13 3-8 11-8 10 3 8 12-3 8zM-24 90l-8-3-8-11 4-8 10-7 9 4 6 10-4 9zM26 90l-8-3-7-11 4-9 10-6 10 5 5 9-4 9zM-145 116l17-17-22-20-12 11-5 10 11 14zM153 116l10-8 4-9-8-13-10-7-21 21 16 15zM-196 111l7-5 3-7-5-9-9-3-8 6-3 8 6 9zM202 111l7-6 2-7-6-9-7-2-9 6-3 8 7 9zM-250 103l5-3-5-4M250 96l-5 4 5 3M-22 145l-8-2-14-17 6-10 12-8 10 5 9 12-3 8zM28 145l-9-3-12-16 7-11 11-7 10 6 9 11-4 8zM-97 166l12-8 6-9-21-21-14 13-3 9 10 13zM102 166l11-8 4-9-6-11-12-10-20 22 12 13zM-147 163l9-7 4-7-7-10-9-5-9 6-4 10 7 10zM152 163l8-7 3-7-5-10-9-5-10 7-5 9 8 10zM-199 158l7-4 2-5-9-8-5 2-3 6 2 6zM199 158l6-3 2-6-3-6-5-2-6 3-3 6 4 6zM1 214l10-6 5-9-6-11-10-6-10 6-6 11 7 11zM-46 213l9-8 2-7-6-10-9-5-10 7-4 10 8 11zM53 213l9-8 2-7-6-11-9-4-11 8-3 9 8 10zM-95 210l7-6 1-6-6-9-8-3-8 7-2 8 7 9zM104 210l6-6 1-8-6-8-7-2-9 7-2 8 8 9zM-145 206l4-5 0-5-5-5-6 0-5 5 0 7 6 4zM153 206l4-5 0-5-4-5-7 0-5 5 0 6 5 5zM8 250l-2-7-6-3-6 3-2 7M-42 250l-2-6-6-3-5 3-2 6M57 250l-2-6-5-3-6 3-2 6M-96 250l-4-5-3 5M103 250l-3-5-4 5"/>
<path stroke="#0eb2d4" vector-effect="non-scaling-stroke" d="M-153-250l4 5 3-5M-109-250l3 7 6 4 7-3 3-8M-61-250l3 9 8 5 9-5 3-9M-12-250l3 10 9 5 9-5 3-10M38-250l3 9 9 5 8-5 3-9M90-250l3 8 7 3 6-4 3-7M146-250l3 5 4-5M2 218l19-18-15-24 12-15 11-2 14 12 1 8-15 21 15 15 11 0 14-15-15-24 10-13 14-6 22 15 23-21 0-3-15-20 7-14 13-6 22 16 20-20 1-6-15-22 10-15 12-6 21 14 14-10 3-13-15-16-5 0-21 15-12-10-5-10 5-10 12-9 21 14 5 1 15-16-1-11-16-15-19 14-6 1-12-10-4-9 5-10 12-10 21 15 5 0 13-12 3-9-7-11-10-7-24 15-14-11-5-12 15-23-21-23-3 0-20 15-14-7-6-12 16-23-20-20-6-1-22 15-15-10-6-11 14-23-14-15-10-1-15 15 0 5 15 21-10 12-10 5-10-5-9-12 14-21 1-5-17-16-11 3-14 15 14 19 1 6-10 12-9 4-10-5-10-12 15-21 0-5-12-13-9-3-11 7-7 10 15 24-11 14-12 5-23-15-23 21 0 4 15 20-7 13-12 6-23-16-20 20-1 7 15 21-10 15-11 6-23-14-15 14-1 10 15 15 5 0 21-15 12 10 5 10-5 10-12 9-21-14-5-1-16 17 3 12 15 13 19-14 6-1 12 10 4 9-5 10-12 10-21-15-5 0-13 13-3 8 7 11 10 7 24-15 14 11 5 13-15 22 21 23 4 0 20-15 13 7 6 13-16 22 20 20 7 1 21-15 15 10 6 12-14 22 14 15 11 0 15-15-15-21 1-8 14-12 12 2 11 15-15 24 12 14zM-96-181l11-11 3-8-9-11-10-3-10 7-4 10 11 15zM103-181l9-10 3-9-6-10-10-5-11 6-6 10 12 16zM-146-186l7-6 3-8-6-9-9-2-8 6-2 8 6 9zM152-186l7-6 2-8-5-8-8-3-9 6-3 8 8 9zM-198-192l6-8-8-5-5 8zM200-192l5-8-7-5-5 8zM-149-127l22-22-13-13-10-5-12 8-5 10 6 10zM149-127l12-12 6-10-7-12-11-6-10 6-12 12zM-198-136l8-5 4-9-5-8-9-3-7 4-4 8 5 9zM200-136l8-5 3-9-5-8-7-3-9 4-4 8 5 9zM-250-146l5-3-5-4M250-153l-5 4 5 3M-74-111l-10-3-7-11 4-9 11-8 9 4 7 12-4 9zM78-111l-10-3-8-11 5-10 10-7 10 6 6 10-4 9zM-24-112l-8-3-7-10 5-10 9-5 9 5 5 9-4 8zM26-112l-8-3-7-10 5-10 9-5 9 5 5 9-4 8zM-197-82l13-10 4-8-10-11-10-4-10 6-5 10 9 13zM201-82l10-9 4-9-6-10-10-6-12 7-7 10 13 14zM-250-90l8-3 3-7-4-6-7-3M250-109l-7 3-4 6 4 7 7 3M-122-61l-10-2-10-12 6-10 10-6 9 4 6 11-3 8zM129-61l-10-2-8-11 3-10 11-7 9 4 8 11-3 7zM-74-64l-8-2-6-9 3-7 9-6 7 3 6 9-3 7zM78-64l-9-2-6-9 4-9 8-4 8 3 5 9-3 7zM-25-65l-7-3-4-7 4-7 7-4 7 4 3 7-3 6zM25-65l-7-4-3-6 3-7 7-4 7 4 4 7-3 7zM-250-38l9-3 5-9-5-8-9-3M250-61l-9 3-5 8 5 9 9 3M-122-12l-10-2-8-10 3-8 10-7 8 3 7 10-3 7zM129-12l-9-1-8-11 3-8 10-7 9 4 6 9-3 7zM-74-15l-7-2-5-7 2-7 8-5 7 3 4 7-2 7zM78-15l-8-2-5-7 2-7 7-5 7 3 5 7-2 6zM-21-17l-6 0-6-5 0-7 6-5 6 1 4 6zM29-17l-6 0-6-5 0-7 6-4 6 0 5 6-1 5zM-250 12l10-3 5-9-5-9-10-3M250-12l-10 3-5 9 5 9 10 3M-124 39l-8-3-8-10 4-8 10-7 8 4 6 9-3 9zM128 39l-9-3-7-10 3-8 10-7 10 5 5 9-3 8zM-72 35l-8-1-6-6 2-8 7-5 7 2 5 7-1 6zM78 35l-8-1-5-8 3-7 6-4 7 2 5 7-2 6zM-24 34l-6-2-4-6 2-6 6-4 6 2 4 6-2 6zM26 34l-7-3-3-6 3-6 6-3 6 3 3 6zM-250 61l9-3 5-8-5-9-9-3M250 38l-9 3-5 9 5 8 9 3M-125 91l-9-4-8-11 4-8 12-8 10 5 5 10-5 10zM126 91l-8-4-7-11 4-9 10-7 10 5 7 10-6 10zM-74 88l-8-3-6-9 3-7 9-6 9 4 4 8-3 8zM76 88l-7-3-6-9 4-8 8-5 9 4 4 8-3 8zM-21 85l-8 0-6-7 1-8 7-5 6 1 6 7 0 6zM29 85l-8 0-6-7 1-8 7-5 7 1 5 7 0 6zM-196 115l12-9 4-7-11-13-9-4-10 8-5 10 9 12zM202 115l9-7 4-9-6-11-10-6-12 8-7 10 11 12zM-250 109l7-3 4-6-3-7-8-3M250 90l-7 3-4 7 4 6 7 3M-72 141l-10-2-9-13 4-8 11-7 9 4 7 10-4 9zM78 142l-10-4-8-12 5-10 10-5 10 5 6 9-4 9zM-21 139l-9-1-9-10 3-9 9-6 8 2 7 9-1 7zM29 139l-9-1-8-10 2-9 10-7 9 3 6 9-2 7zM-147 166l20-17-22-22-13 13-5 10 10 13zM152 166l11-8 4-9-6-10-12-12-22 22 14 14zM-197 161l8-5 3-7-5-9-9-4-8 5-3 9 5 9zM201 161l7-5 3-7-4-9-8-4-9 5-4 9 6 9zM-250 153l5-4-5-3M250 146l-5 3 5 4M-96 214l10-8 4-7-8-12-10-7-11 10-4 10 9 12zM103 214l9-8 3-8-7-13-9-5-13 11-4 9 11 12zM-145 210l7-6 2-6-6-9-9-3-8 7-2 8 7 9zM154 210l6-6 1-8-6-8-7-2-9 7-2 8 8 9zM-197 205l4-7-7-6-5 8 3 4zM201 205l4-7-7-5-5 7 3 5zM-38 250l-3-9-9-5-8 5-3 9M12 250l-3-10-9-5-9 5-3 10M61 250l-3-9-8-5-9 5-3 9M-90 250l-3-7-7-4-6 4-3 7M109 250l-3-7-6-4-7 4-3 7M-146 250l-3-5-4 5M153 250l-4-5-3 5"/>
<path stroke="#0ebdbb" vector-effect="non-scaling-stroke" d="M-158-250l2 8 7 3 7-3 2-8M-112-250l3 10 9 6 10-6 4-10M-65-250l4 10 11 10 12-10 4-10M-17-250l4 9 13 13 13-13 4-9M34-250l4 10 12 10 11-10 4-10M86-250l4 10 10 6 9-6 3-10M140-250l2 8 7 3 7-3 2-8M1 224l24-18 24 16 26-18 21 14 8-1 16-17-13-22 7-14 14-7 22 15 21-19 0-7-14-20 8-13 13-6 22 13 17-15 1-9-14-21 18-26-16-24 18-25-18-25 16-25-18-25 13-20 1-6-8-12-10-7-24 14-13-9-6-12 15-23-19-21-7 0-20 14-13-8-6-12 13-23-17-18-8 1-20 13-26-18-24 16-25-18-25 18-25-16-25 18-20-13-6-1-12 8-7 10 14 24-9 13-12 6-23-15-21 20 0 6 14 20-8 13-12 6-23-13-18 18 1 7 13 20-18 26 16 24-18 25 18 25-16 25 18 25-13 20-1 6 8 12 10 7 24-14 13 9 6 13-15 22 20 21 6 0 20-14 13 8 6 13-13 22 16 17 8 1 21-14 26 18 24-16zM-146-181l12-11 3-8-9-11-10-4-11 8-4 10 11 15zM152-181l10-10 3-9-7-11-10-3-11 7-6 8 13 16zM-199-187l8-4 4-8-4-7-8-4-7 4-4 7 4 8zM199-187l7-4 4-8-4-7-7-4-8 4-4 7 4 8zM-72-161l-10-2-10-12 4-9 12-10 10 6 7 12-5 9zM79-161l-10-2-9-12 4-10 11-9 10 6 7 12-3 7zM-22-162l-10-3-8-10 4-9 10-8 9 4 6 11-3 8zM28-162l-10-3-7-10 4-10 10-7 9 6 6 10-3 7zM-198-131l18-18-7-10-12-6-10 5-6 11 8 12zM200-131l11-9 4-10-6-10-10-5-12 6-7 10 11 14zM-250-140l8-2 3-7-3-7-8-2M250-158l-7 2-4 7 4 7 7 2M-122-112l-10-2-9-11 5-9 10-7 9 4 5 11-2 7zM129-112l-10-2-7-11 4-10 9-6 9 5 7 10-3 7zM-74-115l-8-2-5-8 3-7 8-5 7 3 5 8-3 7zM78-115l-8-1-6-8 2-7 8-6 7 2 6 8-2 7zM-24-116l-7-3-4-6 3-7 6-3 6 1 5 8-3 6zM26-116l-7-3-4-6 4-7 6-4 6 3 4 7-2 6zM-250-86l10-4 6-10-6-9-10-3M250-112l-10 3-6 9 6 10 10 4M-174-60l-10-3-10-12 6-10 12-7 10 6 6 10-4 9zM179-60l-10-2-9-13 5-10 10-7 9 4 10 12-4 7zM-122-65l-9-1-6-8 2-7 8-6 7 2 5 8-1 7zM129-65l-9-1-5-8 2-7 7-6 7 2 6 8-2 7zM-72-68l-7 0-4-6 1-5 5-4 5 1 4 5zM79-68l-6 0-5-4 0-7 5-4 5 0 5 4 0 7zM-24-70l-7-4 5-7 7 5zM26-70l-6-4 4-7 7 5zM-250-34l10-4 10-12-10-11-10-4M250-65l-10 4-10 11 10 12 10 4M-174-11l-10-3-8-11 6-9 10-6 9 4 5 10-3 9zM179-11l-10-3-7-10 3-9 10-7 9 4 8 10-3 7zM-122-16l-8-1-5-7 1-6 7-5 6 1 5 7-1 6zM129-16l-7 0-5-6 1-8 6-5 6 1 5 7-1 6zM-74-20l-7-4 5-7 6 5zM78-20l-8-4 4-7 7 5zM-24-23l-3-1 1-3 3 1zM26-23l-3-1 1-3 3 1zM-250 17l9-4 13-13-13-13-9-4M250-17l-9 4-13 13 13 13 9 4M-172 39l-10-2-10-11 4-8 11-7 8 3 7 10-2 7zM180 39l-9-1-9-10 2-9 10-8 9 2 8 11-2 7zM-122 34l-8 0-5-6 1-8 7-4 6 1 4 6 0 6zM129 34l-7 0-6-6 2-7 6-5 7 2 4 6-1 6zM-72 30l-9-2 3-8 8 3zM78 30l-8-3 4-7 7 4zM-25 28l-3-3 3-2 2 2zM25 28l-2-3 2-2 3 2zM-250 65l10-4 10-11-10-12-10-4M250 34l-10 4-10 12 10 11 10 4M-172 91l-9-1-13-14 5-8 12-8 8 2 8 12-2 9zM179 92l-10-3-9-13 5-10 10-6 10 4 9 11-4 8zM-122 86l-8 0-7-8 2-8 8-6 7 2 5 8-1 7zM129 86l-8 0-6-8 1-8 8-6 7 2 6 8-1 6zM-72 83l-7-1-4-4 1-6 5-4 6 1 3 5zM78 83l-6 0-4-5 1-7 5-3 5 1 4 5-1 5zM-22 80l-8-2 3-8 7 3zM28 81l-8-3 3-8 7 3zM-250 112l10-3 6-9-6-10-10-4M250 86l-10 4-6 10 6 9 10 3M-122 140l-10-2-9-12 4-8 10-6 8 2 7 10-2 9zM129 140l-9-1-8-11 2-9 10-7 10 3 7 10-3 8zM-72 137l-8-1-7-8 2-8 8-5 7 1 6 8-2 7zM79 137l-8-1-7-8 2-8 8-5 7 2 6 7-2 7zM-22 135l-8-1-5-6 1-7 7-5 6 2 5 6-1 6zM28 135l-8-1-4-6 2-8 6-4 6 2 5 6-1 6zM-198 165l11-6 7-10-9-11-10-7-10 8-6 11 8 11zM200 165l10-6 5-10-6-11-10-7-13 9-6 10 10 11zM-250 158l8-2 3-7-3-7-8-2M250 140l-7 2-4 7 4 7 7 2M-75 194l-10-6-7-12 6-10 11-6 10 6 6 10-6 10zM76 194l-10-6-7-12 6-10 10-6 11 6 6 10-6 10zM-24 191l-8-3-8-12 4-8 10-6 9 3 6 10-3 9zM26 192l-8-4-7-12 4-9 10-5 9 4 6 9-4 9zM-145 214l10-8 4-7-9-13-10-6-11 10-4 10 9 12zM153 214l9-8 3-8-7-12-9-6-14 11-4 9 12 12zM-195 209l7-6 0-7-6-7-7-1-7 6-1 7 5 7zM203 209l6-6 0-7-5-7-6-1-9 6-1 7 7 8zM17 250l-4-9-13-13-13 13-4 9M-34 250l-4-10-12-10-11 10-4 10M65 250l-4-10-11-10-12 10-4 10M-86 250l-4-10-10-6-9 6-3 10M112 250l-3-10-9-6-10 6-4 10M-140 250l-2-7-7-4-7 4-2 7M158 250l-2-7-7-4-7 4-2 7"/>
<path stroke="#32c69e" vector-effect="non-scaling-stroke" d="M-206-250l2 6 5 3 6-3 2-6M-162-250l4 10 9 6 10-7 4-9M-116-250l14 24-8 10-16 11-20-13-9 2-14 16 13 23-7 12-12 9-24-13-12 8-7 14 12 17 1 6-19 21-3 0-15-11-8-2M-70-250l13 25-8 11-10 5-11-5-11-12 16-24M-23-250l15 24-6 10-11 6-11-6-7-10 16-24M27-250l16 24-7 10-11 6-11-6-6-10 15-24M81-250l16 24-11 12-11 5-10-5-8-11 13-25M250-116l-24 14-10-8-11-16 13-20-2-9-16-14-22 13-13-7-9-12 13-24-8-12-13-7-18 12-6 1-21-19 0-3 11-15 2-8M135-250l4 9 10 7 9-6 4-10M191-250l2 6 6 3 5-3 2-6M-195-184l9-8 3-8-7-9-10-4-10 6-3 10 9 13zM203-184l8-8 2-8-6-10-9-3-11 7-4 9 11 12zM-250-191l6-2 3-6-3-5-6-2M250-206l-6 2-3 5 3 6 6 2M-125-161l-11-5-6-10 6-10 10-7 10 6 5 11-4 9zM126-161l-9-4-6-10 4-10 10-8 10 6 7 11-5 9zM-72-165l-9-1-7-9 3-8 9-6 7 3 5 9-1 7zM79-165l-9-1-6-8 2-8 8-7 7 3 7 9-2 7zM-22-166l-9-1-5-8 3-7 7-5 6 2 5 8-1 6zM28-166l-8-1-5-8 2-7 7-5 6 2 6 8-2 6zM-250-135l9-4 7-10-6-9-10-4M250-162l-10 4-6 9 7 10 9 4M-174-111l-10-3-9-11 6-10 11-7 9 5 6 11-4 9zM179-111l-10-3-8-11 4-9 10-8 9 4 9 12-4 7zM-122-116l-8 0-6-8 2-7 7-5 7 2 5 7-1 6zM129-116l-8 0-6-8 2-7 7-5 7 2 5 7-1 6zM-72-119l-5 0-5-5 5-8 5 0 3 5zM79-120l-5 1-5-3 0-5 4-5 9 3zM-25-121l-5-5 5-4 4 4zM25-121l-4-5 4-4 5 4zM-250-81l24-16 12 11 5 11-5 10-11 8-25-13M250-70l-25 13-11-8-5-10 5-11 12-11 24 16M-174-64l-8-2-7-8 3-7 9-7 8 3 5 9-3 7zM178-64l-9-2-5-9 4-8 7-5 8 3 6 9-3 7zM-125-69l-5-1-3-5 7-7 7 6zM126-69l-5-1-2-5 6-7 8 6-2 5zM-250-27l24-16 10 7 6 11-6 11-10 6-24-15M250-23l-24 15-10-6-6-11 6-11 10-7 24 16M-174-15l-7-1-6-8 2-6 8-6 7 3 4 7-1 6zM178-15l-8-2-4-7 2-7 7-5 8 3 4 7-2 6zM-124-21l-6-3 3-5 6 3zM128-21l-7-3 3-5 6 3zM-250 23l24-15 10 6 6 11-6 11-10 7-24-16M250 27l-24 16-10-7-6-11 6-11 10-6 24 15M-174 35l-7-1-6-8 2-6 8-5 7 2 4 7-1 7zM179 35l-8-1-5-6 1-8 7-5 7 1 6 8-2 6zM-124 29l-6-3 3-5 6 3zM128 29l-7-3 3-5 6 3zM-250 70l25-13 11 8 5 10-5 11-12 11-24-16M250 81l-24 16-12-11-5-11 5-10 11-8 25 13M-174 88l-8-3-7-9 3-7 9-5 7 1 6 9-2 8zM178 88l-9-3-5-9 4-8 7-5 9 4 5 8-4 8zM-122 82l-10-3 0-5 3-5 5 0 5 4zM129 82l-9-3-1-5 4-5 5 0 4 4zM-250 116l8-2 15-11 3 0 19 21-1 6-12 18 7 13 12 8 24-13 12 9 7 13-13 22 14 16 9 2 20-13 16 11 8 10-14 24M116 250l-14-24 8-10 16-11 20 13 9-2 14-16-13-22 7-13 12-9 24 13 12-8 7-13-12-18-1-6 19-21 4 0 15 11 7 2M-174 142l-8-3-11-13 6-10 11-5 9 4 6 10-4 9zM179 141l-10-3-8-12 4-9 10-6 10 4 8 10-4 8zM-125 136l-7-3-4-7 2-7 8-4 7 3 4 7-3 8zM128 136l-8-2-5-8 3-7 7-4 8 3 3 7-2 6zM-75 133l-7-7 6-7 7 6-1 5zM76 133l-5-2-2-5 1-5 5-2 7 6zM-25 130l-5-4 5-5 4 5zM26 130l-5-2 3-7 6 4zM-250 162l10-4 6-9-7-10-9-4M250 135l-9 4-7 10 6 9 10 4M-125 193l-10-6-7-11 5-8 11-7 9 4 6 10-4 10zM126 193l-10-6-5-11 4-9 10-6 11 5 6 10-6 10zM-71 188l-9-1-8-9 2-8 9-6 8 2 5 8-1 7zM79 188l-9-1-6-9 1-8 9-6 8 2 6 8-2 7zM-22 186l-8-1-6-7 2-7 7-5 7 1 5 7-1 7zM28 186l-8-1-5-7 2-8 7-4 7 2 5 7-2 6zM-195 213l10-8 2-7-8-11-9-4-9 7-4 10 8 11zM203 213l8-8 2-7-7-11-8-4-11 8-4 9 10 11zM-250 206l6-2 3-5-3-6-6-2M250 191l-6 2-3 6 3 5 6 2M-81 250l-16-24 11-12 11-5 10 5 8 11-13 25M70 250l-13-25 8-11 10-5 11 5 11 12-16 24M-27 250l-16-24 7-10 11-6 11 6 6 10-15 24M23 250l-15-24 6-10 11-6 11 6 7 10-16 24M-135 250l-4-9-10-7-9 6-4 10M162 250l-4-10-9-6-10 7-4 9M-191 250l-2-6-6-3-5 3-2 6M206 250l-2-6-5-3-6 3-2 6"/>
<path stroke="#57cc7a" vector-effect="non-scaling-stroke" d="M-250-247l3-3M-210-250l3 9 8 5 9-5 3-9M-166-250l2 8 12 16-9 11-14 11-22-13-13 6-7 14 13 22-20 22-3 1-15-12-8-2M-122-250l14 25-8 11-10 5-11-6-9-11 16-24M130-250l16 24-9 11-11 6-10-5-8-11 14-25M250-166l-7 2-17 12-11-9-11-14 13-22-6-13-13-7-23 13-22-20-1-3 12-15 2-8M187-250l3 9 9 5 8-5 3-9M247-250l3 3M-74-212l-10-4-6-9 3-9 11-8 9 4 6 12-4 8zM76-212l-10-5-5-9 5-10 9-6 10 6 5 10-4 9zM-25-214l-9-4-4-8 4-9 9-5 9 5 4 9-4 8zM25-214l-9-4-4-8 4-9 9-5 9 5 4 9-4 8zM-250-187l9-3 5-9-5-8-9-3M250-210l-9 3-5 8 5 9 9 3M-172-161l-10-2-12-12 5-9 13-10 9 5 6 12-2 8zM179-161l-10-2-9-12 4-10 11-9 9 5 10 13-4 7zM-125-165l-8-2-4-8 2-7 9-6 7 4 5 8-4 7zM126-165l-7-3-4-7 3-8 7-5 8 3 4 9-3 7zM-72-169l-7 0-4-5 1-5 5-5 6 1 3 6zM78-168l-6-1-4-5 1-6 5-4 6 2 3 5 0 5zM-22-171l-9-3 4-7 7 2zM28-171l-8-3 3-7 7 2zM-250-130l24-16 11 9 6 11-5 10-11 8-25-14M250-122l-25 14-11-8-5-10 6-11 11-9 24 16M-174-115l-8-2-6-8 3-7 8-5 7 2 5 8-2 7zM179-115l-8-1-6-8 2-8 8-5 8 2 5 9-2 6zM-125-120l-6-5 5-7 6 6zM126-120l-6-5 5-6 7 5zM-225-61l-10-4-7-10 6-10 10-5 9 4 5 10-4 9zM228-61l-10-4-6-10 5-10 9-5 10 5 6 10-6 9zM-176-67l-8-8 2-5 6-3 5 2 3 6-2 5zM176-67l-6-3-2-5 3-6 5-2 6 3 2 5zM-225-12l-10-4-5-9 5-9 9-4 8 4 4 9-3 8zM228-12l-9-3-5-9 3-8 8-6 9 3 6 9-3 7zM-174-20l-8-4 5-7 7 5zM178-20l-8-4 5-7 7 5zM-224 38l-8-2-8-10 3-7 10-7 8 3 5 9-2 8zM229 38l-9-2-6-10 3-8 8-6 9 3 6 9-2 7zM-174 31l-7-3 0-5 4-3 7 4zM179 30l-8-2 3-8 7 3zM-224 90l-8-2-10-12 4-8 11-7 8 3 7 10-3 9zM228 90l-9-3-7-11 5-10 9-5 10 5 6 9-5 9zM-172 83l-7 0-5-5 1-5 4-5 7 0 3 5 1 5zM179 83l-6 0-5-5 1-6 5-4 6 1 4 5zM-250 122l25-14 11 8 5 10-6 11-11 9-24-16M250 130l-24 16-11-9-6-11 5-10 11-8 25 14M-172 137l-9-1-7-8 2-8 7-5 8 1 6 8-1 7zM180 136l-9 0-6-8 2-8 7-5 7 1 7 8-1 6zM-125 131l-7-5 6-6 6 5zM126 132l-6-6 5-6 6 5zM-250 166l8-2 15-12 3 1 20 22-13 23 7 13 13 6 22-13 14 11 9 11-12 17-2 7M166 250l-2-7-12-17 9-11 14-11 23 13 12-6 7-13-13-23 20-22 4-1 15 12 7 2M-175 194l-9-5-10-13 7-10 11-6 9 5 7 10-4 10zM178 194l-10-5-8-13 5-9 10-7 10 4 9 11-3 8zM-124 188l-8-3-5-9 3-7 8-4 7 3 4 7-2 8zM128 188l-9-3-5-9 4-7 7-4 8 3 4 7-2 8zM-74 184l-6-1-3-5 1-7 6-3 6 2 2 5zM76 184l-6-2-3-6 3-6 5-2 8 7-2 6zM-24 182l-7-4 5-8 7 5zM28 181l-8-2 3-8 8 3zM-250 210l9-3 5-8-5-9-9-3M250 187l-9 3-5 9 5 8 9 3M-130 250l-16-24 9-11 11-6 10 5 8 11-14 25M122 250l-14-25 8-11 10-5 11 6 9 11-16 24M-72 242l-9-2-9-12 3-9 11-7 9 4 6 9-3 8zM79 241l-9-1-9-12 3-9 10-7 10 4 6 9-2 8zM-24 240l-7-2-7-10 3-9 9-5 9 3 5 8-3 9zM26 240l-8-4-6-10 4-8 9-4 9 4 4 8-4 9zM-187 250l-3-9-9-5-8 5-3 9M210 250l-3-9-8-5-9 5-3 9M-247 250l-3-3M250 247l-3 3"/>
<path stroke="#8ecb4e" vector-effect="non-scaling-stroke" d="M-250-240l7-2 3-8M-214-250l4 10 11 10 14-11 3-9M-170-250l12 23-7 12-12 6-22-13-11 8-12 15 12 18 1 7-12 14-8 2-21-12M250-170l-22 12-13-7-6-12 13-22-8-11-15-12-18 12-7 1-14-12-2-8 12-21M182-250l3 9 14 11 11-10 4-10M240-250l3 7 7 3M-122-214l-10-1-8-10 3-9 11-7 7 3 7 11-2 7zM129-213l-10-3-7-9 4-10 9-6 9 4 6 10-2 7zM-74-216l-7-2-5-7 2-7 8-5 6 2 5 8-2 7zM78-216l-8-2-5-7 3-8 7-4 6 2 5 8-1 6zM-25-217l-6-3-3-6 3-6 6-3 6 3 3 6-3 6zM25-217l-6-3-3-6 3-6 6-3 6 3 3 6-3 6zM-250-182l9-3 11-14-10-11-10-4M250-214l-10 4-10 11 11 14 9 3M-172-165l-10-1-7-9 3-7 9-7 7 3 6 9-2 7zM180-165l-9 0-7-9 2-8 8-6 8 2 7 9-2 6zM-122-170l-7 0-3-4 3-8 5-1 5 4zM129-170l-5 1-5-5 0-5 5-4 5 1 4 4zM-225-112l-10-4-6-9 5-9 10-6 9 5 4 9-4 9zM228-112l-9-3-6-10 4-10 9-5 9 4 6 10-3 7zM-176-119l-5-2-2-5 3-5 5-2 6 8zM176-119l-7-6 6-8 5 2 3 5-2 5zM-225-65l-8-2-4-8 3-7 8-4 6 2 4 8-3 7zM226-65l-6-2-4-8 3-7 7-4 8 4 3 7-3 7zM-222-17l-7 0-6-5 1-7 5-5 7 1 4 6zM230-17l-6 0-6-5 0-7 6-5 6 1 5 6 0 5zM-225 34l-6-2-4-6 2-6 6-4 6 2 3 6-1 6zM228 34l-7-2-3-6 1-6 6-4 6 2 4 6-1 6zM-222 85l-8 0-7-7 1-7 7-6 7 1 6 7-1 7zM230 85l-7 0-7-7 2-8 6-5 7 1 6 8-1 6zM-226 140l-9-4-6-10 4-8 11-6 9 4 4 10-4 9zM226 140l-8-5-5-9 5-10 8-4 11 6 4 8-6 10zM-175 133l-5-2-3-5 2-5 5-2 7 6zM178 133l-6-2-3-5 6-7 5 1 3 5zM-250 170l23-12 12 7 6 13-13 21 8 11 15 12 18-12 7-1 14 12 2 8-12 21M170 250l-12-22 7-13 13-6 21 13 11-8 12-15-12-18-1-7 12-14 8-2 21 12M-172 188l-9-1-8-9 3-8 9-6 7 2 6 8-2 7zM180 188l-9-1-6-8 1-9 8-6 8 2 6 8 0 6zM-124 183l-5-1-4-4 6-9 8 5 0 5zM128 183l-5-1-4-4 5-9 5 1 4 4zM-250 214l10-4 10-11-11-14-9-3M250 182l-9 3-11 14 10 11 10 4M-122 240l-9-1-9-11 4-9 9-6 8 3 7 9-2 8zM129 241l-9-2-8-11 3-9 9-6 10 3 6 9-2 8zM-72 237l-8-1-6-8 1-7 8-5 7 2 5 6-1 7zM79 237l-8-1-6-7 1-7 7-6 7 1 6 7-1 6zM-24 235l-6-1-4-6 2-7 6-3 6 1 4 6-2 6zM26 235l-6-2-4-5 2-7 6-3 6 1 4 6-2 6zM-182 250l-3-9-14-11-11 10-4 10M214 250l-4-10-11-10-14 11-3 9M-240 250l-3-7-7-3M250 240l-7 3-3 7"/>
<path stroke="#c3c22b" vector-effect="non-scaling-stroke" d="M-250-235l10-5 5-10M-218-250l12 24-8 12-12 8-24-12M250-218l-24 12-12-8-8-12 12-24M235-250l5 10 10 5M-174-212l-11-4-7-10 6-10 10-6 9 5 5 10-3 8zM178-212l-9-3-7-10 4-10 9-7 10 5 7 11-6 9zM-122-217l-8-1-5-6 1-7 7-5 6 1 5 6-1 7zM129-217l-8-1-5-6 2-7 6-5 7 2 5 7-2 6zM-72-221l-9-3 4-8 7 3zM78-221l-8-3 4-8 7 5zM-24-224l-4-1 2-4 3 2zM26-224l-3-1 1-4 4 2zM-224-162l-10-3-8-10 5-10 11-7 9 6 5 10-3 7zM229-162l-10-3-7-10 4-10 9-7 9 4 8 12-4 7zM-174-168l-5-1-5-5 1-6 6-4 5 2 4 5-1 5zM179-169l-6 0-5-5 1-5 5-5 6 1 4 6zM-225-116l-7-3-4-6 2-7 8-4 6 3 3 7-2 6zM228-116l-8-3-3-6 2-6 6-5 8 3 3 7-2 6zM-225-70l-7-4 5-7 7 5zM228-70l-7-4 4-7 7 5zM-226-22l-3-3 3-3 3 3zM226-22l-3-3 3-3 3 3zM-225 28l-4-2 2-3 3 1zM228 28l-4-2 1-3 4 1zM-226 81l-6-6 6-5 6 5zM226 81l-6-6 6-5 6 5zM-224 135l-7-1-5-6 1-7 8-5 6 2 4 6-1 6zM229 135l-8-1-4-6 1-7 6-5 7 2 5 6-1 6zM-225 192l-9-4-8-12 5-8 11-6 9 4 5 9-4 10zM228 192l-9-4-7-12 4-8 9-6 10 4 7 9-4 9zM-175 184l-6-2-3-6 2-5 6-3 8 7-2 6zM178 184l-6-1-4-5 2-7 5-3 6 2 3 5zM-250 218l24-12 12 8 8 12-12 24M218 250l-12-24 8-12 12-8 24 12M-172 241l-9-1-11-12 4-9 11-7 8 3 7 10-2 8zM179 242l-9-2-8-12 3-9 10-7 10 4 7 9-3 8zM-125 236l-7-2-4-8 3-6 7-3 7 3 3 6-3 7zM126 236l-6-2-4-8 3-6 6-3 8 3 3 6-3 7zM-72 231l-9-2 3-8 8 3zM78 232l-5-1-3-3 4-7 7 4zM-25 229l-3-3 3-3 3 3zM25 229l-3-3 3-3 3 3zM-235 250l-5-10-10-5M250 235l-10 5-5 10"/>
<path stroke="#edba33" vector-effect="non-scaling-stroke" d="M-250-228l13-10 9-12M-224-250l14 21-5 13-7 5-7 1-21-14M250-224l-21 14-13-5-5-7-1-7 14-21M228-250l10 13 12 9M-174-216l-7-1-6-8 3-7 7-5 7 2 4 8-1 6zM178-216l-8-2-4-7 2-7 7-5 7 2 5 8-2 6zM-124-222l-6-3 3-5 6 2zM128-222l-7-3 3-5 6 2zM-224-166l-8-1-5-8 2-7 8-5 6 2 5 8-1 6zM229-166l-8-1-5-7 2-7 7-6 8 3 4 7-1 6zM-225-121l-6-4 4-5 5 4zM228-121l-6-4 3-5 6 4zM-225 130l-6-4 4-5 5 4zM228 130l-6-4 3-5 6 4zM-224 187l-7-2-6-7 2-8 8-4 6 2 5 6-1 7zM229 187l-8-2-5-7 2-8 7-4 8 2 4 7-2 6zM-250 224l21-14 13 5 5 8 1 6-14 21M224 250l-14-21 1-6 5-8 13-5 21 14M-172 237l-8-1-7-7 2-8 6-5 8 1 5 7 0 6zM179 237l-8-1-5-7 1-8 7-5 7 2 6 7-2 6zM-124 230l-6-2 3-6 6 3zM128 230l-7-2 3-6 6 3zM-228 250l-10-12-12-10M250 228l-12 10-10 12"/>
<path stroke="#fec735" vector-effect="non-scaling-stroke" d="M-225-214l-10-3-5-9 5-9 9-5 8 5 4 9-3 7zM228-214l-9-3-5-9 4-9 8-5 9 5 5 9-4 7zM-174-221l-5 0-3-4 5-7 7 5zM179-221l-8-3 3-8 7 3zM-226-170l-6-6 6-6 6 6zM226-170l-6-6 6-6 6 6zM-224 181l-7-2 2-8 8 3zM229 181l-8-2 3-8 8 3zM-225 240l-9-3-6-11 5-8 9-4 9 4 3 8-3 9zM228 240l-8-2-6-10 3-9 8-5 9 3 6 8-3 9zM-174 232l-5-1-3-3 5-7 7 4zM179 231l-8-2 2-8 8 3z"/>
<path stroke="#f6e028" vector-effect="non-scaling-stroke" d="M-225-217l-7-3-4-6 4-7 6-3 6 4 3 6-3 6zM228-217l-7-2-4-6 2-6 6-4 6 1 4 7-1 6zM-224 235l-7-1-4-6 1-7 7-4 6 2 4 6zM229 235l-6-1-5-5 0-6 6-5 6 0 5 6-1 6z"/>
<path stroke="#f8f818" vector-effect="non-scaling-stroke" d="M-225-223l-4-2 2-4 3 2zM228-224l-5-1 2-4 4 2zM-225 229l-4-1 2-4 4 1zM228 229l-4-1 1-5 4 2z"/>
</g>
<g transform="scale(0.5)" stroke-width="1.4" stroke-linejoin="round"><path class=r15 d="M2487 1771l11-21-9 8-11 21z"/><path class=r16 d="M2396 1782l11-19-8 8-12 19zm181-35l12-23-9 8-11 23z"/><path class=r17 d="M2498 1750l11-48-8 8-12 48z"/><path class=r18 d="M2305 1781l12-18-9 8-11 18zm102-18l12-46-9 8-11 46zm182-39l11-49-9 8-11 49zm79-14l11-24-8 8-12 24z"/><path class=r19 d="M2317 1763l11-45-9 8-11 45z"/><path class=r20 d="M2679 1686l12-51-9 8-11 51z"/><path class=r21 d="M2215 1766l11-16-9 8-11 16zm294-64l12-47-9 7-11 48zm250-41l11-26-9 8-11 26z"/><path class=r22 d="M2226 1750l12-43-9 8-12 43zm193-33l11-46-9 7-11 47zm181-42l11-49-8 8-12 49z"/><path class=r23 d="M2328 1718l11-44-8 8-12 44zm442-83l11-52-8 8-12 52z"/><path class=r24 d="M2691 1635l11-51-9 8-11 51z"/><path class=r25 d="M2124 1739l12-14-9 8-12 14zm725-140l12-28-9 8-11 27z"/><path class=r26 d="M2136 1725l11-41-9 7-11 42zm102-18l11-43-9 8-11 43zm192-36l11-20-8 8-12 19zm91-16l11-22-9 8-11 21z"/><path class=r27 d="M2339 1674l12-19-9 8-11 19zm272-48l12-23-9 8-11 23zm250-55l11-54-9 8-11 54z"/><path class=r28 d="M2781 1583l12-53-9 8-11 53z"/><path class=r29 d="M2702 1584l11-24-8 7-12 25z"/><path class=r30 d="M2034 1700l11-13-9 7-11 13zm113-16l11-42-9 8-11 41zm102-20l11-16-9 7-11 17z"/><path class=r31 d="M2045 1687l11-40-9 8-11 39z"/><path class=r32 d="M2793 1530l11-26-9 8-11 26zm79-13l11-54-8 8-12 54z"/><path class=r33 d="M2158 1642l12-15-9 8-12 15z"/><path class=r35 d="M2056 1647l12-40-9 8-12 40z"/><path class=r37 d="M2883 1463l12-28-9 8-11 28z"/><path class=r38 d="M2068 1607l11-14-9 8-11 14z"/><path class=r21 d="M2416 1728l12-46-9 35-12 46zm91-12l11-48-9 34-11 48zm91-26l11-49-9 34-11 49z"/><path class=r23 d="M2688 1652l12-51-9 34-12 51z"/><path class=r25 d="M2428 1682l11-46-9 35-11 46zm90-14l12-48-9 35-12 47z"/><path class=r26 d="M2609 1641l11-50-9 35-11 49zm170-40l11-53-9 35-11 52z"/><path class=r28 d="M2700 1601l11-51-9 34-11 51z"/><path class=r31 d="M2790 1548l12-52-9 34-12 53zm80-11l11-54-9 34-11 54z"/><path class=r36 d="M2881 1483l11-54-9 34-11 54z"/><path class=r24 d="M2516 1681l11-48-9 35-11 48z"/><path class=r25 d="M2425 1694l11-46-8 34-12 46zm181-39l12-49-9 35-11 49z"/><path class=r27 d="M2697 1617l11-51-8 35-12 51z"/><path class=r28 d="M2527 1633l11-48-8 35-12 48z"/><path class=r29 d="M2436 1648l12-47-9 35-11 46zm182-42l11-49-9 34-11 50z"/><path class=r30 d="M2788 1566l11-53-9 35-11 53z"/><path class=r31 d="M2708 1566l12-51-9 35-11 51z"/><path class=r34 d="M2878 1502l12-54-9 35-11 54z"/><path class=r35 d="M2799 1513l11-52-8 35-12 52z"/><path class=r39 d="M2890 1448l11-54-9 35-11 54z"/><path class=r24 d="M2422 1705l12-20-9 9-11 19zm91-12l11-21-8 9-12 21zm91-24l11-22-9 8-11 23z"/><path class=r25 d="M2524 1672l12-47-9 8-11 48z"/><path class=r26 d="M2332 1703l11-18-9 9-11 18zm102-18l11-46-9 9-11 46zm181-38l11-49-8 8-12 49zm79-14l12-25-9 9-11 24z"/><path class=r27 d="M2343 1685l11-44-8 8-12 45z"/><path class=r28 d="M2706 1608l11-50-9 8-11 51z"/><path class=r29 d="M2241 1689l11-16-8 8-12 16zm544-106l11-26-8 9-12 26z"/><path class=r30 d="M2252 1673l12-43-9 8-11 43zm193-34l11-46-8 8-12 47zm91-14l11-48-9 8-11 48zm90-27l12-50-9 9-11 49z"/><path class=r31 d="M2354 1641l12-45-9 9-11 44zm442-84l12-52-9 8-11 53z"/><path class=r32 d="M2717 1558l11-51-8 8-12 51z"/><path class=r33 d="M2150 1662l12-15-9 9-11 14zm726-141l11-27-9 8-11 27z"/><path class=r34 d="M2162 1647l11-41-9 8-11 42zm102-17l11-43-9 8-11 43zm192-37l12-20-9 8-11 20zm91-16l11-22-8 9-12 21z"/><path class=r35 d="M2366 1596l11-18-9 8-11 19zm272-48l11-23-9 8-11 24zm249-54l11-54-8 8-12 54z"/><path class=r36 d="M2808 1505l11-53-9 9-11 52z"/><path class=r37 d="M2728 1507l12-25-9 8-11 25z"/><path class=r38 d="M2060 1622l11-13-9 8-11 13zm113-16l11-42-8 9-12 41zm102-19l11-17-8 8-12 17z"/><path class=r39 d="M2071 1609l11-40-8 9-12 39z"/><path class=r40 d="M2819 1452l11-26-8 8-12 27zm79-12l12-55-9 9-11 54z"/><path class=r42 d="M2184 1564l12-15-9 9-11 15z"/><path class=r43 d="M2082 1569l12-40-9 9-11 40z"/><path class=r45 d="M2910 1385l11-28-9 9-11 28z"/><path class=r46 d="M2094 1529l11-13-9 8-11 14z"/><path class=r21 d="M2522 1722l11-21-9-29-11 21z"/><path class=r22 d="M2431 1733l11-19-8-29-12 20zm181-35l12-22-9-29-11 22z"/><path class=r23 d="M2340 1732l12-18-9-29-11 18zm102-18l12-46-9-29-11 46zm68-8l12 16-9-29-11-16zm23-5l11-48-8-28-12 47zm68-18l11 15-8-29-12-15zm102-22l11-24-8-29-12 25z"/><path class=r24 d="M2420 1715l11 18-9-28-11-19zm204-39l11-50-9-28-11 49z"/><path class=r25 d="M2352 1714l11-44-9-29-11 44zm340-66l11 13-9-28-11-14z"/><path class=r26 d="M2250 1717l11-16-9-28-11 16zm79-5l11 20-8-29-12-20zm385-75l12-51-9-28-11 50zm80-25l11-26-9-29-11 26z"/><path class=r27 d="M2454 1668l11-46-9-29-11 46zm90-15l12-47-9-29-11 48z"/><path class=r28 d="M2261 1701l11-43-8-28-12 43zm374-75l11-49-8-29-12 50zm147-26l12 12-9-29-11-12z"/><path class=r29 d="M2238 1696l12 21-9-28-11-22zm125-26l11-45-8-29-12 45zm442-84l11-52-8-29-12 52z"/><path class=r30 d="M2726 1586l11-51-9-28-11 51z"/><path class=r31 d="M2159 1690l11-14-8-29-12 15zm397-84l11-22-9-29-11 22zm328-56l12-28-9-28-11 27z"/><path class=r32 d="M2170 1676l12-41-9-29-11 41zm102-18l12-43-9-28-11 43zm193-36l11-20-8-29-12 20zm181-45l12-23-9-29-11 23zm227-38l11 11-8-29-12-10z"/><path class=r33 d="M2148 1667l11 23-9-28-11-23zm226-42l12-18-9-29-11 18zm102-23l12 17-9-29-11-17zm91-18l11 16-8-29-12-16zm249-50l12-53-9-29-11 53zm80-12l11-54-9-28-11 54z"/><path class=r34 d="M2386 1607l11 18-9-28-11-19zm272-53l11 14-9-29-11-14z"/><path class=r35 d="M2182 1635l11-42-9-29-11 42zm102-20l11-16-9-29-11 17zm453-80l11-24-8-29-12 25zm125-32l11 36-9-28-11-37z"/><path class=r36 d="M2068 1651l12-13-9-29-11 13z"/><path class=r37 d="M2080 1638l11-40-9-29-11 40zm215-39l11 20-8-29-12-20zm453-88l12 12-9-29-11-12zm216-45l11 9-9-29-11-9z"/><path class=r38 d="M2828 1481l11-26-9-29-11 26zm79-13l11-54-8-29-12 55z"/><path class=r39 d="M2193 1593l11-15-8-29-12 15zm657-127l12 37-9-29-11-37z"/><path class=r40 d="M2204 1578l12 22-9-29-11-22zm635-123l11 11-8-29-12-11z"/><path class=r41 d="M2091 1598l11-40-8-29-12 40zm861-167l12 35-9-29-11-35z"/><path class=r43 d="M2918 1414l12-28-9-29-11 28z"/><path class=r44 d="M2102 1558l12-14-9-28-11 13zm839-163l11 36-8-29-12-35z"/><path class=r45 d="M2114 1544l11 24-9-29-11-23zm816-158l11 9-9-28-11-10z"/><path class=r16 d="M2530 1777l12-21-9-55-11 21z"/><path class=r17 d="M2440 1788l11-19-9-55-11 19zm181-35l11-23-8-54-12 22z"/><path class=r18 d="M2451 1769l11-46-8-55-12 46zm68-9l11 17-8-55-12-16zm23-4l11-48-9-55-11 48zm68-18l11 15-9-55-11-15z"/><path class=r19 d="M2349 1787l11-18-8-55-12 18zm79-17l12 18-9-55-11-18zm204-40l12-49-9-55-11 50zm80-14l11-24-9-55-11 24z"/><path class=r20 d="M2360 1769l12-45-9-54-11 44zm340-66l12 13-9-55-11-13z"/><path class=r21 d="M2338 1767l11 20-9-55-11-20zm385-75l11-51-8-55-12 51z"/><path class=r22 d="M2258 1772l12-16-9-55-11 16zm250-55l11 43-9-54-11-44zm45-9l11-47-8-55-12 47zm249-41l12-26-9-55-11 26z"/><path class=r23 d="M2270 1756l11-43-9-55-11 43zm147-31l11 45-8-55-12-45zm45-2l12-46-9-55-11 46zm136-27l12 42-9-55-11-41zm46-15l11-49-9-55-11 49zm147-26l11 12-8-55-12-12z"/><path class=r24 d="M2247 1751l11 21-8-55-12-21zm125-27l11-44-9-55-11 45zm317-61l11 40-8-55-12-40zm125-22l11-52-9-55-11 52z"/><path class=r25 d="M2326 1721l12 46-9-55-11-46zm408-80l12-51-9-55-11 51z"/><path class=r26 d="M2168 1745l11-14-9-55-11 14zm328-71l12 43-9-55-11-43zm68-13l12-22-9-55-11 22zm329-56l11-28-8-55-12 28z"/><path class=r27 d="M2179 1731l11-41-8-55-12 41zm102-18l11-43-8-55-12 43zm193-36l11-20-9-55-11 20zm113-22l11 41-8-54-12-42zm193-38l11 38-9-55-11-38zm102-23l11 11-9-55-11-11z"/><path class=r28 d="M2156 1722l12 23-9-55-11-23zm80-19l11 48-9-55-11-48zm147-23l11-19-8-54-12 18zm23 0l11 45-9-55-11-45zm79-23l11 17-8-55-12-17zm91-18l11 16-9-55-11-16zm79-7l11-23-8-55-12 23zm23-9l11 40-9-55-11-40zm147-34l11-53-8-55-12 53zm79-12l12-54-9-55-11 54z"/><path class=r30 d="M2315 1674l11 47-8-55-12-47zm79-13l12 19-9-55-11-18zm272-52l12 14-9-55-11-14zm80-19l11-24-9-55-11 24z"/><path class=r31 d="M2077 1706l11-13-8-55-12 13zm113-16l12-42-9-55-11 42zm102-20l12-16-9-55-11 16zm476-92l12 39-9-55-11-39zm102-20l12 36-9-55-11-36z"/><path class=r32 d="M2088 1693l12-40-9-55-11 40zm216-39l11 20-9-55-11-20zm453-88l11 12-8-55-12-12zm215-45l12 9-9-55-11-9z"/><path class=r33 d="M2145 1673l11 49-8-55-12-49zm79-18l12 48-9-55-11-48zm612-119l12-26-9-55-11 26zm80-13l11-54-9-55-11 54z"/><path class=r34 d="M2202 1648l11-15-9-55-11 15zm657-128l11 38-8-55-12-37z"/><path class=r35 d="M2213 1633l11 22-8-55-12-22zm635-123l11 10-9-54-11-11z"/><path class=r36 d="M2100 1653l11-40-9-55-11 40zm861-167l11 35-8-55-12-35z"/><path class=r38 d="M2134 1623l11 50-9-55-11-50zm793-154l11-28-8-55-12 28z"/><path class=r39 d="M2111 1613l11-14-8-55-12 14zm839-163l11 36-9-55-11-36z"/><path class=r40 d="M2122 1599l12 24-9-55-11-24zm816-158l12 9-9-55-11-9z"/><path class=r11 d="M2539 1832l11-21-8-55-12 21z"/><path class=r12 d="M2448 1843l12-19-9-55-11 19zm182-35l11-23-9-55-11 23z"/><path class=r13 d="M2528 1815l11 17-9-55-11-17zm22-4l12-48-9-55-11 48z"/><path class=r14 d="M2358 1841l11-17-9-55-11 18zm79-16l11 18-8-55-12-18zm23-1l11-46-9-55-11 46zm158-31l12 15-9-55-11-15zm23-8l11-49-8-55-12 49zm79-14l12-24-9-55-11 24z"/><path class=r15 d="M2369 1824l11-45-8-55-12 45zm340-66l11 13-8-55-12-13z"/><path class=r16 d="M2346 1822l12 19-9-54-11-20zm386-75l11-51-9-55-11 51z"/><path class=r17 d="M2267 1827l11-16-8-55-12 16zm249-55l12 43-9-55-11-43zm46-9l11-48-9-54-11 47zm249-41l11-26-8-55-12 26z"/><path class=r18 d="M2278 1811l12-43-9-55-11 43zm148-31l11 45-9-55-11-45zm45-2l11-47-8-54-12 46zm136-27l11 42-8-55-12-42zm45-15l12-49-9-55-11 49zm148-26l11 12-9-55-11-12z"/><path class=r19 d="M2256 1806l11 21-9-55-11-21zm124-27l12-44-9-55-11 44zm318-61l11 40-9-55-11-40zm124-22l12-53-9-54-11 52z"/><path class=r20 d="M2335 1775l11 47-8-55-12-46zm408-79l11-51-8-55-12 51z"/><path class=r21 d="M2176 1800l12-15-9-54-11 14zm726-141l11-27-9-55-11 28z"/><path class=r22 d="M2188 1785l11-41-9-54-11 41zm102-17l11-43-9-55-11 43zm192-37l12-20-9-54-11 20zm23-2l11 43-8-55-12-43zm68-14l11-21-8-55-12 22zm23-6l11 42-9-55-11-41zm192-38l12 39-9-55-11-38zm102-22l12 10-9-54-11-11z"/><path class=r23 d="M2165 1777l11 23-8-55-12-23zm227-42l11-19-9-55-11 19zm22 0l12 45-9-55-11-45zm80-24l11 18-9-55-11-17zm90-17l12 15-9-54-11-16zm80-7l11-24-9-54-11 23zm22-10l12 41-9-55-11-40zm227-45l11-54-8-55-12 54z"/><path class=r24 d="M2244 1758l12 48-9-55-11-48zm590-115l11-52-9-55-11 53z"/><path class=r25 d="M2324 1729l11 46-9-54-11-47zm79-13l11 19-8-55-12-19zm272-53l11 14-8-54-12-14zm79-18l12-25-9-54-11 24z"/><path class=r26 d="M2086 1760l11-13-9-54-11 13zm113-16l11-41-8-55-12 42zm102-19l11-17-8-54-12 16zm476-92l11 38-8-54-12-39zm102-21l11 37-8-55-12-36z"/><path class=r27 d="M2097 1747l11-39-8-55-12 40zm215-39l12 21-9-55-11-20zm454-88l11 13-9-55-11-12zm215-44l11 8-8-54-12-9z"/><path class=r28 d="M2154 1728l11 49-9-55-11-49zm79-18l11 48-8-55-12-48zm612-119l11-27-8-54-12 26zm79-13l12-54-9-55-11 54z"/><path class=r29 d="M2210 1703l12-15-9-55-11 15zm658-128l11 37-9-54-11-38z"/><path class=r31 d="M2108 1708l12-40-9-55-11 40zm114-20l11 22-9-55-11-22zm634-124l12 11-9-55-11-10zm114-24l11 36-9-55-11-35z"/><path class=r33 d="M2142 1678l12 50-9-55-11-50zm794-154l11-28-9-55-11 28z"/><path class=r34 d="M2120 1668l11-14-9-55-11 14zm838-163l12 35-9-54-11-36z"/><path class=r35 d="M2131 1654l11 24-8-55-12-24zm816-158l11 9-8-55-12-9z"/><path class=r9 d="M2548 1860l11-21-9-28-11 21z"/><path class=r10 d="M2457 1871l11-19-8-28-12 19zm181-35l12-23-9-28-11 23z"/><path class=r11 d="M2366 1870l12-18-9-28-11 17zm102-18l12-46-9-28-11 46zm68-9l12 17-9-28-11-17zm23-4l11-48-8-28-12 48zm68-18l11 15-8-28-12-15zm102-22l11-24-8-28-12 24z"/><path class=r12 d="M2446 1853l11 18-9-28-11-18zm204-40l11-49-9-28-11 49z"/><path class=r13 d="M2355 1850l11 20-8-29-12-19zm23 2l11-45-9-28-11 45zm340-66l11 13-9-28-11-13zm22-11l12-51-9-28-11 51z"/><path class=r14 d="M2276 1855l11-16-9-28-11 16zm544-105l11-26-9-28-11 26z"/><path class=r15 d="M2480 1806l11-47-9-28-11 47zm90-15l12-48-9-28-11 48z"/><path class=r16 d="M2287 1839l12-43-9-28-12 43zm374-75l11-49-8-28-12 49zm147-26l12 12-9-28-11-12z"/><path class=r17 d="M2265 1834l11 21-9-28-11-21zm124-27l11-44-8-28-12 44zm442-83l11-53-8-28-12 53z"/><path class=r18 d="M2752 1724l11-51-9-28-11 51z"/><path class=r19 d="M2185 1828l12-14-9-29-12 15zm306-69l11-20-8-28-12 20zm91-16l11-21-9-28-11 21zm328-56l12-27-9-28-11 27z"/><path class=r20 d="M2197 1814l11-42-9-28-11 41zm102-18l11-43-9-28-11 43zm373-81l12-23-9-29-11 24zm227-38l11 10-8-28-12-10z"/><path class=r21 d="M2174 1805l11 23-9-28-11-23zm226-42l12-19-9-28-11 19zm102-24l12 18-9-28-11-18zm91-17l11 15-8-28-12-15zm249-51l12-52-9-28-11 52zm80-11l11-54-9-28-11 54z"/><path class=r22 d="M2412 1744l11 19-9-28-11-19zm272-52l11 14-9-29-11-14z"/><path class=r23 d="M2208 1772l11-41-9-28-11 41zm102-19l11-17-9-28-11 17zm453-80l11-25-8-28-12 25z"/><path class=r24 d="M2095 1788l11-13-9-28-11 13z"/><path class=r25 d="M2106 1775l11-39-9-28-11 39zm215-39l12 21-9-28-12-21zm453-88l12 13-9-28-11-13zm216-44l11 8-9-28-11-8z"/><path class=r26 d="M2854 1619l11-26-9-29-11 27zm79-13l11-54-8-28-12 54z"/><path class=r27 d="M2219 1731l12-15-9-28-12 15z"/><path class=r28 d="M2117 1736l12-40-9-28-12 40zm114-20l11 22-9-28-11-22zm634-123l11 10-8-28-12-11zm113-24l12 35-9-28-11-36z"/><path class=r31 d="M2944 1552l12-28-9-28-11 28z"/><path class=r32 d="M2129 1696l11-14-9-28-11 14zm838-163l11 36-8-29-12-35z"/><path class=r33 d="M2140 1682l11 24-9-28-11-24zm816-158l11 9-9-28-11-9z"/><path class=r10 d="M2557 1850l11-21-9 10-11 21z"/><path class=r11 d="M2466 1862l11-20-9 10-11 19zm181-36l12-22-9 9-12 23z"/><path class=r12 d="M2477 1842l12-46-9 10-12 46zm91-13l11-47-9 9-11 48z"/><path class=r13 d="M2375 1860l12-18-9 10-12 18zm284-56l11-49-9 9-11 49zm79-14l11-24-9 9-11 24z"/><path class=r14 d="M2387 1842l11-44-9 9-11 45z"/><path class=r15 d="M2749 1766l12-51-9 9-12 51z"/><path class=r16 d="M2285 1846l11-16-9 9-11 16zm204-50l11-46-9 9-11 47zm90-14l12-48-9 9-12 48zm250-42l11-26-9 10-11 26z"/><path class=r17 d="M2296 1830l11-43-8 9-12 43zm374-75l11-50-9 10-11 49z"/><path class=r18 d="M2398 1798l11-45-9 10-11 44zm442-84l11-52-9 9-11 53z"/><path class=r19 d="M2761 1715l11-51-9 9-11 51z"/><path class=r20 d="M2194 1819l11-15-8 10-12 14zm397-85l11-22-9 10-11 21zm328-56l12-27-9 9-12 27z"/><path class=r21 d="M2205 1804l12-41-9 9-11 42zm102-17l12-43-9 9-11 43zm193-37l11-20-9 9-11 20z"/><path class=r22 d="M2409 1753l12-18-9 9-12 19zm272-48l12-23-9 10-12 23zm170-43l12-53-9 10-12 52zm80-11l11-54-9 9-11 54z"/><path class=r24 d="M2319 1744l11-17-9 9-11 17zm453-80l11-25-9 9-11 25z"/><path class=r25 d="M2103 1779l12-13-9 9-11 13zm114-16l11-42-9 10-11 41z"/><path class=r26 d="M2115 1766l11-40-9 10-11 39z"/><path class=r27 d="M2863 1609l11-26-9 10-11 26zm79-12l11-55-9 10-11 54z"/><path class=r28 d="M2228 1721l11-15-8 10-12 15z"/><path class=r30 d="M2126 1726l11-40-8 10-12 40z"/><path class=r32 d="M2953 1542l12-28-9 10-12 28z"/><path class=r33 d="M2137 1686l12-13-9 9-11 14z"/><path class=r16 d="M2577 1793l11-47-9 36-11 47zm90-25l12-49-9 36-11 49z"/><path class=r18 d="M2758 1729l11-50-8 36-12 51z"/><path class=r20 d="M2588 1746l11-48-8 36-12 48z"/><path class=r21 d="M2679 1719l11-50-9 36-11 50zm170-41l11-52-9 36-11 52z"/><path class=r23 d="M2769 1679l12-51-9 36-11 51z"/><path class=r26 d="M2860 1626l11-53-8 36-12 53zm79-12l12-54-9 37-11 54z"/><path class=r31 d="M2951 1560l11-54-9 36-11 55z"/><path class=r19 d="M2585 1757l12-48-9 37-11 47z"/><path class=r20 d="M2676 1731l11-49-8 37-12 49z"/><path class=r22 d="M2767 1693l11-51-9 37-11 50z"/><path class=r24 d="M2597 1709l11-47-9 36-11 48zm90-27l12-49-9 36-11 50z"/><path class=r25 d="M2857 1642l12-52-9 36-11 52z"/><path class=r26 d="M2778 1642l11-51-8 37-12 51z"/><path class=r29 d="M2948 1578l11-54-8 36-12 54z"/><path class=r30 d="M2869 1590l11-53-9 36-11 53z"/><path class=r34 d="M2959 1524l12-54-9 36-11 54z"/><path class=r19 d="M2492 1779l11-19-8 10-12 19zm91-11l11-21-9 10-11 21zm90-24l12-23-9 10-11 23z"/><path class=r20 d="M2594 1747l11-48-8 10-12 48z"/><path class=r21 d="M2401 1778l12-18-9 10-11 18zm102-18l12-46-9 10-11 46zm182-39l11-49-9 10-11 49zm79-14l11-24-8 10-12 24z"/><path class=r23 d="M2413 1760l11-45-9 11-11 44zm362-77l12-51-9 10-11 51z"/><path class=r24 d="M2311 1763l11-16-9 10-11 16zm544-105l11-26-9 10-11 26z"/><path class=r25 d="M2322 1747l11-43-8 10-12 43zm193-33l11-46-9 10-11 46zm90-15l12-47-9 10-11 47z"/><path class=r26 d="M2696 1672l11-49-8 10-12 49zm170-40l11-52-8 10-12 52z"/><path class=r27 d="M2424 1715l11-44-8 10-12 45z"/><path class=r28 d="M2220 1736l11-14-8 10-12 14zm567-104l11-51-9 10-11 51zm158-36l12-28-9 10-11 28z"/><path class=r29 d="M2231 1722l12-42-9 11-11 41zm102-18l12-43-9 10-11 43zm193-36l11-20-8 10-12 20zm91-16l11-22-9 10-11 22z"/><path class=r30 d="M2435 1671l12-19-9 10-11 19zm272-48l12-23-9 10-11 23z"/><path class=r31 d="M2877 1580l12-53-9 10-11 53zm80-12l11-54-9 10-11 54z"/><path class=r32 d="M2798 1581l11-24-8 10-12 24z"/><path class=r33 d="M2243 1680l11-41-9 10-11 42zm102-19l11-16-9 10-11 16z"/><path class=r35 d="M2141 1683l11-39-9 10-11 40zm827-169l11-54-8 10-12 54z"/><path class=r36 d="M2889 1527l11-26-9 10-11 26z"/><path class=r37 d="M2254 1639l11-15-8 10-12 15z"/><path class=r38 d="M2152 1644l11-40-8 10-12 40z"/><path class=r40 d="M2979 1460l12-28-9 10-11 28z"/><path class=r42 d="M2163 1604l12-14-9 10-11 14z"/><path class=r16 d="M2591 1795l12-21-9-27-11 21z"/><path class=r17 d="M2501 1806l11-19-9-27-11 19zm181-35l11-22-8-28-12 23z"/><path class=r18 d="M2580 1779l11 16-8-27-12-17zm23-5l11-47-9-28-11 48z"/><path class=r19 d="M2410 1805l11-18-8-27-12 18zm79-17l12 18-9-27-11-18zm23-1l11-46-8-27-12 46zm159-31l11 15-9-27-11-15zm22-7l12-50-9-27-11 49zm80-15l11-24-9-27-11 24z"/><path class=r20 d="M2421 1787l12-44-9-28-11 45zm340-66l12 13-9-27-11-13z"/><path class=r21 d="M2399 1785l11 20-9-27-11-20zm385-75l11-51-8-27-12 51z"/><path class=r22 d="M2319 1790l12-16-9-27-11 16zm295-63l11-48-8-27-12 47zm249-42l12-26-9-27-11 26z"/><path class=r23 d="M2331 1774l11-43-9-27-11 43zm192-33l12-46-9-27-11 46zm182-42l11-49-9-27-11 49zm147-26l11 12-8-27-12-12z"/><path class=r24 d="M2308 1769l11 21-8-27-12-21zm125-26l11-45-9-27-11 44zm442-84l11-52-9-27-11 52z"/><path class=r25 d="M2795 1659l12-51-9-27-11 51z"/><path class=r26 d="M2229 1763l11-14-9-27-11 14zm725-140l11-28-8-27-12 28z"/><path class=r27 d="M2240 1749l11-41-8-28-12 42zm102-18l11-43-8-27-12 43zm193-36l11-20-9-27-11 20zm90-16l12-22-9-27-11 22zm318-67l11 11-9-27-11-11z"/><path class=r28 d="M2217 1740l12 23-9-27-11-23zm227-42l11-18-8-28-12 19zm272-48l11-23-8-27-12 23zm249-55l12-54-9-27-11 54z"/><path class=r29 d="M2546 1675l11 17-8-27-12-17zm91-18l11 16-9-27-11-16zm249-50l11-53-8-27-12 53z"/><path class=r30 d="M2455 1680l12 18-9-27-11-19zm272-53l12 14-9-27-11-14zm80-19l11-24-9-27-11 24z"/><path class=r31 d="M2138 1724l11-13-8-28-12 13zm113-16l12-42-9-27-11 41zm102-20l12-16-9-27-11 16z"/><path class=r32 d="M2149 1711l12-40-9-27-11 39zm216-39l11 20-9-27-11-20zm453-88l11 12-8-27-12-12zm215-45l12 9-9-28-11-8z"/><path class=r33 d="M2897 1554l12-26-9-27-11 26zm80-13l11-54-9-27-11 54z"/><path class=r34 d="M2263 1666l11-15-9-27-11 15z"/><path class=r36 d="M2161 1671l11-40-9-27-11 40zm113-20l11 22-8-27-12-22zm635-123l11 11-9-28-11-10zm113-24l11 35-8-27-12-35z"/><path class=r38 d="M2988 1487l11-28-8-27-12 28z"/><path class=r39 d="M2172 1631l11-13-8-28-12 14z"/><path class=r40 d="M2183 1618l12 23-9-27-11-24zm816-159l12 9-9-27-11-9z"/><path class=r12 d="M2509 1860l12-20-9-53-11 19zm91-12l11-21-8-53-12 21zm91-24l11-22-9-53-11 22z"/><path class=r14 d="M2419 1858l11-18-9-53-11 18zm79-17l11 19-8-54-12-18zm23-1l11-46-9-53-11 46zm68-8l11 16-9-53-11-16zm22-5l12-47-9-53-11 47zm68-18l12 15-9-53-11-15zm23-7l11-49-8-54-12 50zm79-14l12-24-9-54-11 24z"/><path class=r16 d="M2407 1838l12 20-9-53-11-20zm23 2l11-44-8-53-12 44zm340-66l11 14-8-54-12-13zm23-10l11-51-9-54-11 51z"/><path class=r17 d="M2328 1844l11-16-8-54-12 16zm544-106l11-26-8-53-12 26z"/><path class=r18 d="M2339 1828l12-43-9-54-11 43zm193-34l11-46-8-53-12 46zm45-5l12 43-9-53-11-44zm46-9l11-48-9-53-11 48zm45-12l11 41-8-53-12-41zm193-42l11 12-9-53-11-12z"/><path class=r19 d="M2317 1822l11 22-9-54-11-21zm170-25l11 44-9-53-11-45zm226-44l12-50-9-53-11 49zm170-41l12-52-9-53-11 52z"/><path class=r20 d="M2441 1796l12-45-9-53-11 45zm318-62l11 40-9-53-11-40z"/><path class=r21 d="M2237 1817l12-15-9-53-11 14zm159-25l11 46-8-53-12-46zm408-79l11-51-8-54-12 51zm159-37l11-27-9-54-11 28z"/><path class=r22 d="M2249 1802l11-41-9-53-11 41zm102-17l11-43-9-54-11 43zm192-37l12-20-9-53-11 20zm23-3l11 44-8-54-12-43zm68-13l11-22-8-53-12 22zm23-6l11 42-9-53-11-42zm192-38l12 38-9-53-11-38zm102-22l12 10-9-53-11-11z"/><path class=r23 d="M2475 1752l12 45-9-54-11-45zm250-49l11-23-9-53-11 23z"/><path class=r24 d="M2226 1794l11 23-8-54-12-23zm79-20l12 48-9-53-11-48zm148-23l11-18-9-53-11 18zm102-23l11 17-9-53-11-17zm90-18l12 16-9-53-11-16zm102-16l12 40-9-53-11-40zm148-34l11-53-9-53-11 53zm79-11l11-54-8-54-12 54z"/><path class=r25 d="M2385 1745l11 47-9-53-11-47zm79-12l11 19-8-54-12-18zm272-53l11 14-8-53-12-14zm79-18l12-25-9-53-11 24z"/><path class=r26 d="M2260 1761l11-42-8-53-12 42zm102-19l11-17-8-53-12 16zm476-93l11 39-8-53-12-39zm102-20l11 37-8-54-12-36z"/><path class=r27 d="M2147 1777l11-13-9-53-11 13zm226-52l12 20-9-53-11-20zm454-88l11 12-9-53-11-12z"/><path class=r28 d="M2158 1764l11-40-8-53-12 40zm57-20l11 50-9-54-11-49zm770-149l12-55-9-53-11 54zm57-3l11 9-8-53-12-9z"/><path class=r29 d="M2294 1726l11 48-8-53-12-48zm612-119l11-26-8-53-12 26z"/><path class=r30 d="M2271 1719l12-15-9-53-11 15zm658-127l11 37-9-53-11-37z"/><path class=r31 d="M2169 1724l12-40-9-53-11 40zm114-20l11 22-9-53-11-22zm634-123l12 11-9-53-11-11zm114-24l11 35-9-53-11-35z"/><path class=r33 d="M2203 1694l12 50-9-53-11-50zm794-154l11-28-9-53-11 28z"/><path class=r35 d="M2181 1684l11-13-9-53-11 13zm838-162l12 35-9-53-11-36z"/><path class=r36 d="M2192 1671l11 23-8-53-12-23zm816-159l11 10-8-54-12-9z"/><path class=r7 d="M2609 1902l11-21-9-54-11 21z"/><path class=r8 d="M2518 1913l11-20-8-53-12 20zm181-35l12-23-9-53-11 22z"/><path class=r9 d="M2428 1911l11-18-9-53-11 18zm101-18l12-46-9-53-11 46zm68-8l12 17-9-54-11-16zm23-4l11-48-8-53-12 47zm68-18l11 15-8-54-12-15zm102-22l11-24-8-53-12 24z"/><path class=r10 d="M2507 1895l11 18-9-53-11-19zm204-40l11-49-9-53-11 49z"/><path class=r11 d="M2439 1893l11-44-9-53-11 44zm340-66l11 14-9-53-11-14z"/><path class=r12 d="M2337 1897l11-16-9-53-11 16zm79-6l12 20-9-53-12-20zm385-74l12-51-9-53-11 51zm80-26l11-25-9-54-11 26z"/><path class=r13 d="M2541 1847l11-46-9-53-11 46zm45-5l11 43-8-53-12-43zm45-9l12-48-9-53-11 48zm46-12l11 42-9-54-11-41z"/><path class=r14 d="M2348 1881l12-43-9-53-12 43zm148-31l11 45-9-54-11-44zm226-44l11-50-8-53-12 50zm147-26l12 11-9-53-11-12z"/><path class=r15 d="M2326 1876l11 21-9-53-11-22zm124-27l12-45-9-53-12 45zm317-62l12 40-9-53-11-40zm125-21l11-53-8-53-12 52z"/><path class=r16 d="M2405 1845l11 46-9-53-11-46zm408-79l11-51-9-53-11 51z"/><path class=r17 d="M2246 1870l12-15-9-53-12 15zm306-69l11-20-8-53-12 20zm23-3l11 44-9-53-11-44zm68-13l11-21-9-54-11 22zm22-6l12 42-9-53-11-42zm306-50l12-27-9-53-11 27z"/><path class=r18 d="M2258 1855l11-41-9-53-11 41zm102-17l11-43-9-53-11 43zm124-33l12 45-9-53-12-45zm249-49l12-23-9-53-11 23zm125-15l11 39-8-54-12-38zm102-22l11 10-8-53-12-10z"/><path class=r19 d="M2235 1847l11 23-9-53-11-23zm79-19l12 48-9-54-12-48zm148-24l11-18-9-53-11 18zm101-23l12 17-9-53-11-17zm91-17l11 15-8-53-12-16zm102-17l11 40-8-53-12-40zm147-34l12-52-9-54-11 53zm80-11l11-54-9-53-11 54z"/><path class=r20 d="M2473 1786l11 19-9-53-11-19zm272-53l11 14-9-53-11-14z"/><path class=r21 d="M2269 1814l11-41-9-54-11 42zm102-19l11-17-9-53-11 17zm23 3l11 47-9-53-11-47zm430-83l11-25-8-53-12 25zm23-12l11 38-9-53-11-39zm102-21l11 37-9-53-11-37z"/><path class=r22 d="M2156 1830l11-13-9-53-11 13z"/><path class=r23 d="M2167 1817l11-40-9-53-11 40zm215-39l12 20-9-53-12-20zm453-88l12 13-9-54-11-12zm216-45l11 9-9-53-11-9z"/><path class=r24 d="M2224 1797l11 50-9-53-11-50zm79-18l11 49-9-54-11-48zm612-118l11-27-9-53-11 26zm79-13l11-54-8-54-12 55z"/><path class=r25 d="M2280 1773l12-16-9-53-12 15zm657-128l12 37-9-53-11-37z"/><path class=r26 d="M2178 1777l12-39-9-54-12 40zm114-20l11 22-9-53-11-22zm634-123l11 11-8-53-12-11zm113-24l12 35-9-53-11-35z"/><path class=r29 d="M2212 1748l12 49-9-53-12-50zm793-154l12-28-9-54-11 28z"/><path class=r30 d="M2190 1738l11-14-9-53-11 13zm838-163l11 35-8-53-12-35z"/><path class=r31 d="M2201 1724l11 24-9-54-11-23zm816-158l11 9-9-53-11-10z"/><path class=r5 d="M2527 1939l11-19-9-27-11 20zm91-11l11-21-9-26-11 21zm90-24l12-22-9-27-12 23z"/><path class=r7 d="M2436 1938l12-18-9-27-11 18zm80-17l11 18-9-26-11-18zm22-1l12-46-9-27-12 46zm68-8l12 16-9-26-12-17zm23-5l11-47-9-27-11 48zm68-18l11 15-9-26-11-15zm23-7l11-50-9-26-11 49zm79-15l11-24-9-26-11 24z"/><path class=r9 d="M2425 1918l11 20-8-27-12-20zm23 2l11-44-9-27-11 44zm340-66l11 13-9-26-11-14zm22-11l12-51-9-26-12 51z"/><path class=r10 d="M2346 1923l11-16-9-26-11 16zm544-105l11-26-9-26-11 25z"/><path class=r11 d="M2550 1874l11-46-9-27-11 46zm90-14l12-48-9-27-12 48z"/><path class=r12 d="M2334 1902l12 21-9-26-11-21zm23 5l11-43-8-26-12 43zm374-75l11-49-9-27-11 50zm147-26l12 12-9-27-12-11zm23-14l11-52-9-27-11 53z"/><path class=r13 d="M2459 1876l11-45-8-27-12 45z"/><path class=r14 d="M2255 1896l11-14-8-27-12 15zm567-104l11-51-9-26-11 51zm158-36l12-28-9-26-12 27z"/><path class=r15 d="M2368 1864l12-43-9-26-11 43zm193-36l11-20-9-27-11 20zm91-16l11-22-9-26-11 21z"/><path class=r16 d="M2266 1882l12-41-9-27-11 41zm476-99l12-23-9-27-12 23zm227-38l11 11-9-27-11-10z"/><path class=r17 d="M2244 1873l11 23-9-26-11-23zm226-42l12-18-9-27-11 18zm102-23l12 17-9-27-12-17zm91-18l11 16-9-27-11-15zm249-50l12-53-9-26-12 52zm80-12l11-54-9-26-11 54z"/><path class=r18 d="M2482 1813l11 18-9-26-11-19zm272-53l11 14-9-27-11-14zm79-19l11-24-9-27-11 25z"/><path class=r19 d="M2278 1841l11-42-9-26-11 41zm102-20l11-16-9-27-11 17z"/><path class=r20 d="M2164 1857l12-13-9-27-11 13z"/><path class=r21 d="M2176 1844l11-40-9-27-11 40zm215-39l11 20-8-27-12-20zm453-88l12 12-9-26-12-13zm216-45l11 9-9-27-11-9z"/><path class=r22 d="M2924 1687l11-26-9-27-11 27zm79-13l11-54-9-26-11 54z"/><path class=r23 d="M2289 1799l11-15-8-27-12 16z"/><path class=r24 d="M2187 1804l11-40-8-26-12 39zm113-20l12 22-9-27-11-22zm635-123l11 11-9-27-11-11z"/><path class=r26 d="M3014 1620l12-28-9-26-12 28z"/><path class=r28 d="M2198 1764l12-13-9-27-11 14z"/><path class=r29 d="M2210 1751l11 23-9-26-11-24zm816-159l11 9-9-26-11-9z"/><path class=r6 d="M2626 1917l12-21-9 11-11 21z"/><path class=r7 d="M2536 1928l11-19-9 11-11 19zm181-35l11-23-8 12-12 22z"/><path class=r8 d="M2547 1909l11-46-8 11-12 46zm91-13l11-48-9 12-11 47z"/><path class=r9 d="M2445 1927l11-18-8 11-12 18zm283-57l12-49-9 11-11 50zm80-14l11-24-9 11-11 24z"/><path class=r10 d="M2456 1909l12-44-9 11-11 44z"/><path class=r11 d="M2819 1832l11-51-8 11-12 51z"/><path class=r12 d="M2354 1912l12-16-9 11-11 16zm204-49l12-46-9 11-11 46zm91-15l11-47-8 11-12 48zm249-41l12-26-9 11-11 26z"/><path class=r13 d="M2366 1896l11-43-9 11-11 43zm374-75l11-49-9 11-11 49z"/><path class=r14 d="M2468 1865l11-45-9 11-11 45zm442-84l11-52-9 11-11 52z"/><path class=r15 d="M2830 1781l12-51-9 11-11 51z"/><path class=r16 d="M2264 1885l11-14-9 11-11 14zm396-84l12-22-9 11-11 22zm329-56l11-28-8 11-12 28z"/><path class=r17 d="M2275 1871l11-41-8 11-12 41zm102-18l11-43-8 11-12 43zm193-36l11-20-9 11-11 20zm181-45l11-23-8 11-12 23z"/><path class=r18 d="M2479 1820l11-19-8 12-12 18zm442-91l11-53-8 11-12 53zm79-12l12-54-9 11-11 54z"/><path class=r20 d="M2388 1810l12-16-9 11-11 16zm454-80l11-24-9 11-11 24z"/><path class=r21 d="M2286 1830l12-42-9 11-11 42z"/><path class=r22 d="M2184 1833l12-40-9 11-11 40z"/><path class=r23 d="M2932 1676l12-26-9 11-11 26zm80-13l11-54-9 11-11 54z"/><path class=r24 d="M2298 1788l11-15-9 11-11 15z"/><path class=r26 d="M2196 1793l11-40-9 11-11 40z"/><path class=r28 d="M3023 1609l11-28-8 11-12 28z"/><path class=r12 d="M2737 1833l11-49-8 37-12 49z"/><path class=r14 d="M2828 1794l11-50-9 37-11 51z"/><path class=r17 d="M2748 1784l12-50-9 38-11 49z"/><path class=r18 d="M2918 1743l12-52-9 38-11 52z"/><path class=r19 d="M2839 1744l11-51-8 37-12 51z"/><path class=r22 d="M2930 1691l11-53-9 38-11 53zm79-11l11-54-8 37-12 54z"/><path class=r27 d="M3020 1626l12-55-9 38-11 54z"/><path class=r18 d="M2836 1757l12-51-9 38-11 50z"/><path class=r21 d="M2757 1746l11-50-8 38-12 50zm170-41l11-52-8 38-12 52z"/><path class=r23 d="M2848 1706l11-51-9 38-11 51z"/><path class=r26 d="M2938 1653l12-53-9 38-11 53zm80-11l11-54-9 38-11 54z"/><path class=r31 d="M3029 1588l11-55-8 38-12 55z"/><path class=r15 d="M2652 1830l12-21-9 11-11 21z"/><path class=r16 d="M2562 1841l11-19-9 11-11 20zm181-35l11-23-8 12-12 22z"/><path class=r17 d="M2573 1822l11-46-8 11-12 46zm91-13l11-48-9 12-11 47z"/><path class=r18 d="M2471 1840l11-18-8 11-12 18zm283-57l12-49-9 12-11 49zm80-14l11-24-9 12-11 24z"/><path class=r19 d="M2482 1822l12-45-9 12-11 44z"/><path class=r20 d="M2845 1745l11-51-8 12-12 51z"/><path class=r21 d="M2380 1825l12-16-9 12-11 16zm204-49l12-47-9 12-11 46zm91-15l11-48-8 12-12 48zm249-41l12-26-9 11-11 26z"/><path class=r22 d="M2392 1809l11-43-9 12-11 43zm374-75l11-49-9 11-11 50z"/><path class=r23 d="M2494 1777l11-44-9 11-11 45zm442-83l11-53-9 12-11 52z"/><path class=r24 d="M2856 1694l12-51-9 12-11 51z"/><path class=r25 d="M2686 1713l12-21-9 11-11 22zm329-56l11-27-8 12-12 27z"/><path class=r26 d="M2301 1784l11-42-8 12-12 41zm102-18l11-43-8 12-12 43zm193-37l11-20-9 12-11 20zm181-44l11-24-8 12-12 23z"/><path class=r27 d="M2505 1733l11-19-8 12-12 18zm442-92l11-52-8 11-12 53zm79-11l12-54-9 12-11 54z"/><path class=r29 d="M2414 1723l12-17-9 12-11 17zm454-80l11-25-9 12-11 25z"/><path class=r30 d="M2312 1742l12-41-9 12-11 41z"/><path class=r31 d="M2210 1745l12-39-9 11-11 40z"/><path class=r32 d="M2958 1589l12-27-9 12-11 26zm80-13l11-54-9 11-11 55z"/><path class=r33 d="M2324 1701l11-15-9 11-11 16z"/><path class=r35 d="M2222 1706l11-40-9 11-11 40z"/><path class=r37 d="M3049 1522l11-28-8 11-12 28z"/><path class=r13 d="M2661 1855l11-21-8-25-12 21z"/><path class=r14 d="M2570 1867l12-20-9-25-11 19zm182-36l11-22-9-26-11 23z"/><path class=r15 d="M2480 1865l11-18-9-25-11 18zm102-18l11-46-9-25-11 46zm68-8l11 16-9-25-11-17zm22-5l12-47-9-26-11 48zm68-18l12 15-9-25-11-15zm102-21l12-25-9-25-11 24z"/><path class=r16 d="M2559 1848l11 19-8-26-12-18zm204-39l11-49-8-26-12 49z"/><path class=r17 d="M2468 1845l12 20-9-25-11-20zm23 2l11-44-8-26-12 45zm340-66l11 14-8-26-12-13zm23-11l11-50-9-26-11 51z"/><path class=r18 d="M2389 1851l11-16-8-26-12 16zm544-106l11-26-8-25-12 26z"/><path class=r19 d="M2593 1801l11-46-8-26-12 47zm91-14l11-48-9-26-11 48z"/><path class=r20 d="M2400 1835l12-43-9-26-11 43zm374-75l12-50-9-25-11 49zm148-27l11 12-9-25-11-12z"/><path class=r21 d="M2378 1829l11 22-9-26-11-21zm124-26l12-45-9-25-11 44zm442-84l12-52-9-26-11 53z"/><path class=r22 d="M2865 1720l11-51-8-26-12 51z"/><path class=r23 d="M2298 1824l12-15-9-25-11 14zm306-69l12-20-9-26-11 20zm91-16l11-22-8-25-12 21zm329-56l11-28-9-25-11 27z"/><path class=r24 d="M2310 1809l11-41-9-26-11 42zm102-17l11-43-9-26-11 43zm374-82l11-23-9-26-11 24zm226-37l12 10-9-26-11-10z"/><path class=r25 d="M2287 1801l11 23-8-26-12-23zm227-43l11-18-9-26-11 19zm102-23l11 17-9-25-11-18zm90-18l12 16-9-26-11-15zm250-50l11-53-9-25-11 52zm79-12l11-53-8-26-12 54z"/><path class=r26 d="M2525 1740l11 19-8-26-12-19zm272-53l11 14-8-26-12-14z"/><path class=r27 d="M2321 1768l11-42-8-25-12 41zm102-19l11-17-8-26-12 17zm453-80l12-25-9-26-11 25z"/><path class=r28 d="M2208 1784l11-13-9-26-11 13z"/><path class=r29 d="M2219 1771l11-40-8-25-12 39zm215-39l12 20-9-25-11-21zm454-88l11 12-9-25-11-13zm215-45l11 9-8-26-12-8z"/><path class=r30 d="M2967 1614l11-26-8-26-12 27zm79-12l12-55-9-25-11 54z"/><path class=r31 d="M2332 1726l12-15-9-25-11 15z"/><path class=r32 d="M2230 1731l12-40-9-25-11 40zm114-20l11 22-9-25-11-22zm634-123l12 11-9-26-11-11z"/><path class=r35 d="M3058 1547l11-28-9-25-11 28z"/><path class=r36 d="M2242 1691l11-13-9-26-11 14z"/><path class=r37 d="M2253 1678l11 23-8-25-12-24zm816-159l11 10-8-26-12-9z"/><path class=r8 d="M2670 1907l11-21-9-52-11 21z"/><path class=r9 d="M2579 1918l12-19-9-52-12 20zm181-35l12-22-9-52-11 22z"/><path class=r10 d="M2658 1891l12 16-9-52-11-16zm23-5l11-48-8-51-12 47z"/><path class=r11 d="M2489 1917l11-18-9-52-11 18zm79-17l11 18-9-51-11-19zm23-1l11-46-9-52-11 46zm158-31l11 15-8-52-12-15zm23-7l11-50-9-51-11 49zm79-15l11-24-8-52-12 25z"/><path class=r12 d="M2500 1899l11-44-9-52-11 44zm340-66l11 13-9-51-11-14z"/><path class=r13 d="M2477 1897l12 20-9-52-12-20zm385-75l12-51-9-51-11 50z"/><path class=r14 d="M2398 1902l11-16-9-51-11 16zm249-55l11 44-8-52-12-43zm45-9l12-47-9-52-11 48zm250-41l11-26-9-52-11 26z"/><path class=r15 d="M2409 1886l12-43-9-51-12 43zm148-31l11 45-9-52-11-44zm45-2l11-46-9-52-11 46zm136-26l11 41-9-52-11-41zm45-16l11-49-8-52-12 50zm147-26l12 12-9-52-11-12z"/><path class=r16 d="M2387 1881l11 21-9-51-11-22zm124-26l12-45-9-52-12 45zm317-62l12 40-9-52-11-40zm125-22l11-52-8-52-12 52z"/><path class=r17 d="M2466 1851l11 46-9-52-11-46zm408-80l11-51-9-51-11 51z"/><path class=r18 d="M2307 1875l12-14-9-52-12 15zm725-140l12-28-9-52-11 28z"/><path class=r19 d="M2319 1861l11-41-9-52-11 41zm102-18l11-43-9-51-11 43zm192-36l11-20-8-52-12 20zm23-3l11 43-9-51-11-44zm68-13l11-22-9-52-11 22zm22-6l12 42-9-52-11-42zm193-38l11 38-8-52-12-38zm102-23l11 11-8-52-12-10z"/><path class=r20 d="M2296 1852l11 23-9-51-11-23zm227-42l11-18-9-52-11 18zm22 0l12 45-9-51-12-45zm249-48l12-23-9-52-11 23zm23-9l11 40-8-52-12-40zm227-46l11-54-9-51-11 53z"/><path class=r21 d="M2375 1833l12 48-9-52-12-48zm249-46l12 17-9-52-11-17zm91-18l11 16-8-52-12-16zm249-50l12-53-9-52-11 53z"/><path class=r22 d="M2455 1804l11 47-9-52-11-47zm79-12l11 18-9-51-11-19zm272-53l11 14-9-52-11-14zm79-19l11-24-8-52-12 25z"/><path class=r23 d="M2217 1836l11-13-9-52-11 13zm113-16l11-42-9-52-11 42zm102-20l11-16-9-52-11 17zm476-92l11 39-9-52-11-39zm102-20l11 36-9-51-11-37z"/><path class=r24 d="M2228 1823l11-40-9-52-11 40zm215-39l12 20-9-52-12-20zm453-88l12 12-9-52-11-12zm216-45l11 9-9-52-11-9z"/><path class=r25 d="M2285 1803l11 49-9-51-11-50zm79-18l11 48-9-52-11-48zm612-119l11-26-9-52-11 26zm79-13l11-54-8-52-12 55z"/><path class=r26 d="M2341 1778l12-15-9-52-12 15zm657-127l12 37-9-52-11-37z"/><path class=r28 d="M2239 1783l12-40-9-52-12 40zm114-20l11 22-9-52-11-22zm634-123l11 11-8-52-12-11zm113-24l12 35-9-52-11-35z"/><path class=r30 d="M2273 1753l12 50-9-52-12-50zm793-154l12-28-9-52-11 28z"/><path class=r31 d="M2251 1743l11-14-9-51-11 13zm838-163l11 36-8-52-12-35z"/><path class=r32 d="M2262 1729l11 24-9-52-11-23zm816-158l11 9-9-51-11-10z"/><path class=r4 d="M2679 1959l11-21-9-52-11 21z"/><path class=r5 d="M2588 1970l11-20-8-51-12 19zm181-35l12-23-9-51-12 22z"/><path class=r6 d="M2497 1968l12-17-9-52-11 18zm80-16l11 18-9-52-11-18zm22-2l12-46-9-51-11 46zm68-8l12 17-9-52-12-16zm23-4l11-48-9-52-11 48zm68-18l11 15-9-52-11-15zm23-8l11-49-9-52-11 50zm79-14l11-24-9-52-11 24z"/><path class=r8 d="M2486 1949l11 19-8-51-12-20zm23 2l11-45-9-51-11 44zm340-66l11 13-9-52-11-13zm22-11l12-51-9-52-12 51z"/><path class=r9 d="M2407 1954l11-16-9-52-11 16zm544-106l11-25-9-52-11 26z"/><path class=r10 d="M2611 1904l11-46-9-51-11 46zm45-5l11 43-9-51-11-44zm45-9l12-48-9-51-12 47zm46-12l11 42-9-52-11-41z"/><path class=r11 d="M2418 1938l11-43-8-52-12 43zm147-31l12 45-9-52-11-45zm227-44l11-50-9-51-11 49zm147-26l12 11-9-51-12-12z"/><path class=r12 d="M2395 1933l12 21-9-52-11-21zm125-27l11-45-8-51-12 45zm317-62l12 41-9-52-12-40zm125-21l11-53-9-51-11 52z"/><path class=r13 d="M2316 1927l11-15-8-51-12 14zm159-25l11 47-9-52-11-46zm408-79l11-51-9-52-11 51zm158-37l12-27-9-52-12 28z"/><path class=r14 d="M2429 1895l12-43-9-52-11 43zm193-37l11-20-9-51-11 20zm23-3l11 44-9-52-11-43zm68-13l11-21-9-52-11 22zm22-6l12 42-9-51-12-42zm193-38l11 39-9-52-11-38z"/><path class=r15 d="M2327 1912l12-41-9-51-11 41zm227-50l11 45-8-52-12-45zm249-49l12-23-9-51-12 23zm227-37l11 10-9-51-11-11z"/><path class=r16 d="M2305 1904l11 23-9-52-11-23zm79-19l11 48-8-52-12-48zm147-24l12-18-9-51-11 18zm102-23l12 17-9-51-12-17zm91-17l11 15-9-51-11-16zm102-17l11 40-9-51-11-40zm147-34l12-52-9-52-12 53zm80-11l11-54-9-52-11 54z"/><path class=r17 d="M2463 1856l12 46-9-51-11-47zm80-13l11 19-9-52-11-18zm272-53l11 14-9-51-11-14zm79-18l11-25-9-51-11 24z"/><path class=r18 d="M2339 1871l11-41-9-52-11 42zm102-19l11-17-9-51-11 16zm476-92l11 38-9-51-11-39zm102-21l11 37-9-52-11-36z"/><path class=r19 d="M2225 1887l12-13-9-51-11 13z"/><path class=r20 d="M2237 1874l11-40-9-51-11 40zm215-39l11 21-8-52-12-20zm453-88l12 13-9-52-12-12zm216-44l11 8-9-51-11-9z"/><path class=r21 d="M2293 1854l12 50-9-52-11-49zm80-18l11 49-9-52-11-48zm612-118l11-27-9-51-11 26zm79-13l11-54-9-52-11 54z"/><path class=r22 d="M2350 1830l11-16-8-51-12 15zm657-128l12 37-9-51-12-37z"/><path class=r23 d="M2248 1834l11-39-8-52-12 40zm113-20l12 22-9-51-11-22zm635-123l11 11-9-51-11-11zm113-24l12 36-9-52-12-35z"/><path class=r26 d="M2282 1805l11 49-8-51-12-50zm793-154l12-28-9-52-12 28z"/><path class=r27 d="M2259 1795l12-14-9-52-11 14zm839-163l11 35-9-51-11-36z"/><path class=r28 d="M2271 1781l11 24-9-52-11-24zm816-158l11 9-9-52-11-9z"/><path class=r2 d="M2597 1995l11-20-9-25-11 20zm90-11l12-21-9-25-11 21zm91-24l11-23-8-25-12 23z"/><path class=r4 d="M2506 1993l11-18-8-24-12 17zm79-16l12 18-9-25-11-18zm23-2l11-46-8-25-12 46zm68-8l11 17-8-25-12-17zm23-4l11-48-9-25-11 48zm68-18l11 15-9-25-11-15zm22-8l12-49-9-25-11 49zm80-14l11-24-9-25-11 24z"/><path class=r6 d="M2495 1973l11 20-9-25-11-19zm22 2l12-44-9-25-11 45zm340-66l12 14-9-25-11-13zm23-10l11-51-8-25-12 51z"/><path class=r7 d="M2415 1979l12-16-9-25-11 16zm544-106l12-25-9-25-11 25z"/><path class=r8 d="M2619 1929l12-46-9-25-11 46zm91-14l11-48-8-25-12 48z"/><path class=r9 d="M2404 1958l11 21-8-25-12-21zm23 5l11-43-9-25-11 43zm374-75l11-50-9-25-11 50zm147-26l11 11-8-25-12-11zm23-14l11-53-9-25-11 53z"/><path class=r10 d="M2529 1931l11-45-9-25-11 45z"/><path class=r11 d="M2325 1952l11-15-9-25-11 15zm566-104l12-51-9-25-11 51zm159-37l11-27-8-25-12 27z"/><path class=r12 d="M2438 1920l11-43-8-25-12 43zm193-37l11-20-9-25-11 20zm90-16l12-21-9-25-11 21z"/><path class=r13 d="M2336 1937l11-41-8-25-12 41zm476-99l11-23-8-25-12 23zm227-37l11 10-9-25-11-10z"/><path class=r14 d="M2313 1929l12 23-9-25-11-23zm227-43l11-18-8-25-12 18zm102-23l11 17-8-25-12-17zm91-17l11 15-9-25-11-15zm249-51l11-52-8-25-12 52zm79-11l12-54-9-25-11 54z"/><path class=r15 d="M2551 1868l12 19-9-25-11-19zm272-53l12 14-9-25-11-14zm80-18l11-25-9-25-11 25z"/><path class=r16 d="M2347 1896l12-41-9-25-11 41zm102-19l12-17-9-25-11 17z"/><path class=r17 d="M2234 1912l11-13-8-25-12 13z"/><path class=r18 d="M2245 1899l12-40-9-25-11 40zm216-39l11 20-9-24-11-21zm453-88l11 12-8-24-12-13zm215-45l12 9-9-25-11-8z"/><path class=r19 d="M2993 1743l12-27-9-25-11 27zm80-13l11-54-9-25-11 54z"/><path class=r20 d="M2359 1855l11-16-9-25-11 16z"/><path class=r21 d="M2257 1859l11-39-9-25-11 39zm113-20l11 22-8-25-12-22zm635-123l11 11-9-25-11-11z"/><path class=r23 d="M3084 1676l11-28-8-25-12 28z"/><path class=r25 d="M2268 1820l11-14-8-25-12 14z"/><path class=r26 d="M2279 1806l12 24-9-25-11-24zm816-158l12 9-9-25-11-9z"/><path class=r3 d="M2696 1971l11-21-8 13-12 21z"/><path class=r4 d="M2605 1982l12-19-9 12-11 20zm182-35l11-23-9 13-11 23z"/><path class=r5 d="M2707 1950l12-48-9 13-11 48z"/><path class=r6 d="M2515 1981l11-18-9 12-11 18zm102-18l11-46-9 12-11 46zm181-39l11-49-8 13-12 49zm79-14l12-24-9 13-11 24z"/><path class=r7 d="M2526 1963l11-45-8 13-12 44z"/><path class=r8 d="M2889 1886l11-51-9 13-11 51z"/><path class=r9 d="M2719 1902l11-48-9 13-11 48zm249-41l11-26-8 13-12 25z"/><path class=r10 d="M2435 1950l12-43-9 13-11 43zm193-33l11-46-8 12-12 46zm181-42l12-49-9 12-11 50z"/><path class=r11 d="M2537 1918l12-44-9 12-11 45zm442-83l12-52-9 12-11 53z"/><path class=r12 d="M2900 1835l11-51-8 13-12 51z"/><path class=r13 d="M3059 1798l11-27-9 13-11 27z"/><path class=r14 d="M2345 1925l11-42-9 13-11 41zm102-18l11-43-9 13-11 43zm192-36l12-20-9 12-11 20zm91-17l11-21-8 13-12 21z"/><path class=r15 d="M2549 1874l11-19-9 13-11 18zm272-48l11-23-9 12-11 23zm249-55l11-54-8 13-12 54z"/><path class=r16 d="M2991 1783l11-53-9 13-11 52z"/><path class=r17 d="M2911 1784l12-25-9 13-11 25z"/><path class=r18 d="M2356 1883l11-41-8 13-12 41zm102-19l11-17-8 13-12 17z"/><path class=r19 d="M2254 1886l11-39-8 12-12 40z"/><path class=r20 d="M3002 1730l11-26-8 12-12 27zm79-13l12-54-9 13-11 54z"/><path class=r23 d="M2265 1847l12-40-9 13-11 39z"/><path class=r25 d="M3093 1663l11-28-9 13-11 28z"/><path class=r15 d="M2988 1796l11-53-8 40-12 52z"/><path class=r19 d="M3079 1732l11-54-9 39-11 54z"/><path class=r20 d="M2999 1743l12-52-9 39-11 53z"/><path class=r24 d="M3090 1678l11-54-8 39-12 54z"/><path class=r19 d="M2997 1756l11-52-9 39-11 53z"/><path class=r23 d="M3087 1692l12-54-9 40-11 54z"/><path class=r24 d="M3008 1704l11-53-8 40-12 52z"/><path class=r28 d="M3099 1638l11-54-9 40-11 54z"/><path class=r13 d="M2631 1890l12-19-9 13-11 19zm91-11l11-21-8 13-12 21zm91-24l11-23-9 14-11 22z"/><path class=r15 d="M2541 1889l11-18-9 13-11 18zm102-18l11-46-9 13-11 46zm90-13l12-48-9 14-11 47zm91-26l11-49-8 13-12 50zm79-14l12-24-9 13-11 24z"/><path class=r17 d="M2552 1871l11-45-8 14-12 44zm363-77l11-51-9 13-11 51z"/><path class=r18 d="M2994 1769l11-26-8 13-12 26z"/><path class=r19 d="M2461 1858l12-43-9 14-11 42zm193-33l11-47-8 14-12 46zm91-15l11-48-9 14-11 48z"/><path class=r20 d="M2835 1783l12-49-9 13-11 49zm170-40l12-52-9 13-11 52z"/><path class=r21 d="M2563 1826l12-44-9 13-11 45z"/><path class=r22 d="M2926 1743l11-51-8 13-12 51zm159-37l11-27-9 13-11 28z"/><path class=r23 d="M2371 1833l11-42-9 14-11 41zm102-18l11-43-9 13-11 44zm192-37l12-19-9 13-11 20zm91-16l11-21-8 13-12 22z"/><path class=r24 d="M2847 1734l11-23-9 13-11 23z"/><path class=r25 d="M2575 1782l11-19-9 14-11 18zm442-91l11-53-9 13-11 53zm79-12l11-54-8 13-12 54z"/><path class=r26 d="M2937 1692l12-25-9 14-11 24z"/><path class=r27 d="M2382 1791l11-41-8 13-12 42z"/><path class=r29 d="M2280 1794l11-39-8 13-12 40z"/><path class=r30 d="M3028 1638l11-26-8 13-12 26zm79-13l12-54-9 13-11 54z"/><path class=r32 d="M2291 1755l12-40-9 13-11 40z"/><path class=r34 d="M3119 1571l11-28-9 13-11 28z"/><path class=r11 d="M2640 1914l12-19-9-24-12 19zm91-11l11-21-9-24-11 21zm90-24l12-23-9-24-11 23z"/><path class=r13 d="M2550 1913l11-18-9-24-11 18zm79-17l11 18-9-24-11-18zm23-1l11-46-9-24-11 46zm68-9l11 17-9-24-11-17zm22-4l12-48-9-24-12 48zm68-18l11 15-8-24-12-15zm23-8l11-49-9-24-11 49zm79-14l11-24-8-24-12 24z"/><path class=r15 d="M2538 1893l12 20-9-24-12-20zm23 2l11-45-9-24-11 45zm340-66l11 13-9-24-11-13zm22-11l12-51-9-24-11 51z"/><path class=r16 d="M2459 1898l11-16-9-24-11 16zm544-105l11-26-9-24-11 26z"/><path class=r17 d="M2470 1882l12-43-9-24-12 43zm193-33l11-47-9-24-11 47zm91-15l11-48-9-24-11 48zm237-53l12 12-9-24-11-12z"/><path class=r18 d="M2448 1877l11 21-9-24-11-21zm396-70l11-49-8-24-12 49zm170-40l11-53-8-23-12 52z"/><path class=r19 d="M2572 1850l12-44-9-24-12 44z"/><path class=r20 d="M2368 1871l12-14-9-24-12 14zm567-104l11-51-9-24-11 51zm158-37l12-27-9-24-11 27z"/><path class=r21 d="M2482 1839l11-43-9-24-11 43zm192-37l12-20-9-23-12 19zm91-16l11-21-9-24-11 21z"/><path class=r22 d="M2380 1857l11-42-9-24-11 42zm475-99l12-24-9-23-11 23zm227-38l11 10-8-24-12-10z"/><path class=r23 d="M2357 1848l11 23-9-24-11-23zm227-42l11-19-9-24-11 19zm102-24l11 18-9-24-11-17zm90-17l11 15-8-24-12-15zm249-51l12-52-9-24-11 53zm80-11l11-54-9-24-11 54z"/><path class=r24 d="M2595 1787l11 19-9-24-11-19zm272-53l11 14-9-23-11-14zm79-18l11-25-8-24-12 25z"/><path class=r25 d="M2391 1815l11-41-9-24-11 41zm102-19l11-17-9-24-11 17z"/><path class=r26 d="M2278 1831l11-13-9-24-11 13zm226-52l12 21-9-24-12-21zm453-88l12 13-9-24-11-13z"/><path class=r27 d="M2289 1818l11-39-9-24-11 39zm884-171l11 8-9-24-11-8z"/><path class=r28 d="M3037 1662l11-27-9-23-11 26zm79-13l11-54-8-24-12 54z"/><path class=r29 d="M2402 1774l12-15-9-24-12 15z"/><path class=r30 d="M2300 1779l12-40-9-24-12 40zm114-20l11 22-9-24-11-22zm634-124l11 11-8-24-12-10z"/><path class=r32 d="M3127 1595l12-28-9-24-11 28z"/><path class=r34 d="M2312 1739l11-14-9-24-11 14z"/><path class=r35 d="M2323 1725l11 24-9-24-11-24zm816-158l11 9-9-24-11-9z"/><path class=r6 d="M2740 1953l11-21-9-50-11 21z"/><path class=r7 d="M2649 1964l11-19-8-50-12 19zm181-35l12-23-9-50-12 23z"/><path class=r8 d="M2728 1936l12 17-9-50-11-17zm23-4l11-48-8-50-12 48z"/><path class=r9 d="M2558 1963l12-18-9-50-11 18zm80-17l11 18-9-50-11-18zm22-1l12-46-9-50-11 46zm159-31l11 15-9-50-11-15zm23-8l11-49-9-50-11 49zm79-14l11-24-9-50-11 24z"/><path class=r10 d="M2570 1945l11-45-9-50-11 45zm340-66l11 13-9-50-11-13z"/><path class=r11 d="M2547 1943l11 20-8-50-12-20zm385-75l12-51-9-50-12 51z"/><path class=r12 d="M2468 1948l11-16-9-50-11 16zm249-55l11 43-8-50-12-43zm45-9l12-47-9-51-11 48zm250-41l11-26-9-50-11 26z"/><path class=r13 d="M2479 1932l11-43-8-50-12 43zm147-31l12 45-9-50-11-45zm46-2l11-46-9-51-11 47zm136-27l11 42-9-50-11-42zm45-15l11-49-9-50-11 49zm147-26l12 12-9-50-12-12z"/><path class=r14 d="M2456 1927l12 21-9-50-11-21zm125-27l11-44-8-50-12 44zm317-61l12 40-9-50-12-40zm125-22l11-52-9-51-11 53z"/><path class=r15 d="M2536 1896l11 47-9-50-11-47zm408-79l11-51-9-50-11 51z"/><path class=r16 d="M2377 1921l11-14-8-50-12 14zm725-140l12-28-9-50-12 27z"/><path class=r17 d="M2388 1907l12-42-9-50-11 42zm102-18l12-43-9-50-11 43zm193-36l11-20-8-51-12 20zm23-3l11 43-9-50-11-43zm68-13l11-22-9-50-11 21zm22-6l12 41-9-50-12-42zm193-38l11 38-9-50-11-39zm102-23l11 11-9-51-11-10z"/><path class=r18 d="M2366 1898l11 23-9-50-11-23zm226-42l12-19-9-50-11 19zm23 0l11 45-8-50-12-45zm79-23l12 17-9-50-11-18zm91-18l11 16-9-51-11-15zm79-7l12-23-9-51-12 24zm23-9l11 40-9-50-11-41zm227-46l11-54-9-50-11 54z"/><path class=r19 d="M2445 1879l11 48-8-50-12-48zm589-114l12-53-9-50-12 52z"/><path class=r20 d="M2524 1850l12 46-9-50-11-46zm80-13l11 19-9-50-11-19zm272-52l11 14-9-51-11-14zm79-19l11-24-9-51-11 25z"/><path class=r21 d="M2286 1881l12-13-9-50-11 13zm114-16l11-41-9-50-11 41zm102-19l11-16-9-51-11 17zm476-92l11 39-9-51-11-38zm102-21l11 37-9-50-11-37z"/><path class=r22 d="M2298 1868l11-39-9-50-11 39zm215-38l11 20-8-50-12-21zm453-88l12 12-9-50-12-13zm216-45l11 8-9-50-11-8z"/><path class=r23 d="M2354 1849l12 49-9-50-11-49zm80-18l11 48-9-50-11-48zm612-119l11-26-9-51-11 27zm79-13l11-54-9-50-11 54z"/><path class=r24 d="M2411 1824l11-15-8-50-12 15zm657-128l12 37-9-50-12-37z"/><path class=r26 d="M2309 1829l11-40-8-50-12 40zm113-20l12 22-9-50-11-22zm635-123l11 10-9-50-11-11zm113-24l12 35-9-50-12-36z"/><path class=r28 d="M2343 1799l11 50-8-50-12-50zm793-154l12-28-9-50-12 28z"/><path class=r29 d="M2320 1789l12-14-9-50-11 14zm839-163l11 36-9-51-11-35z"/><path class=r30 d="M2332 1775l11 24-9-50-11-24zm816-158l11 9-9-50-11-9z"/><path class=r2 d="M2748 2003l12-21-9-50-11 21z"/><path class=r3 d="M2658 2014l11-19-9-50-11 19zm181-35l11-23-8-50-12 23z"/><path class=r4 d="M2567 2013l11-18-8-50-12 18zm102-18l11-46-8-50-12 46zm68-9l11 17-8-50-12-17zm23-4l11-48-9-50-11 48zm68-18l11 15-9-50-11-15zm102-22l11-24-9-50-11 24z"/><path class=r5 d="M2646 1996l12 18-9-50-11-18zm204-40l12-49-9-50-11 49z"/><path class=r6 d="M2556 1993l11 20-9-50-11-20zm22 2l12-45-9-50-11 45zm340-66l12 13-9-50-11-13zm23-11l11-51-8-50-12 51z"/><path class=r7 d="M2476 1998l12-16-9-50-11 16zm544-105l12-26-9-50-11 26z"/><path class=r8 d="M2680 1949l12-46-9-50-11 46zm46-6l11 43-9-50-11-43zm45-9l11-47-8-50-12 47zm45-12l12 42-9-50-11-42z"/><path class=r9 d="M2488 1982l11-43-9-50-11 43zm147-31l11 45-8-50-12-45zm227-44l11-49-9-50-11 49zm147-26l11 12-8-50-12-12z"/><path class=r10 d="M2465 1977l11 21-8-50-12-21zm125-27l11-44-9-50-11 44zm317-61l11 40-8-50-12-40zm125-22l11-52-9-50-11 52z"/><path class=r11 d="M2544 1946l12 47-9-50-11-47zm408-79l12-51-9-50-11 51z"/><path class=r12 d="M2386 1971l11-14-9-50-11 14zm113-32l11-43-8-50-12 43zm193-36l11-20-9-50-11 20zm22-3l12 43-9-50-11-43zm68-13l12-22-9-50-11 22zm23-6l11 41-8-50-12-41zm193-39l11 39-9-50-11-38zm113-12l11-27-8-50-12 28z"/><path class=r13 d="M2397 1957l11-42-8-50-12 42zm227-51l11 45-9-50-11-45zm249-48l11-23-8-50-12 23zm227-38l11 10-9-49-11-11z"/><path class=r14 d="M2374 1948l12 23-9-50-11-23zm80-19l11 48-9-50-11-48zm147-23l11-19-8-50-12 19zm102-23l11 17-8-50-12-17zm91-18l11 16-9-50-11-16zm102-16l11 40-9-50-11-40zm147-34l11-53-8-50-12 53zm79-12l12-54-9-50-11 54z"/><path class=r15 d="M2612 1887l12 19-9-50-11-19zm272-52l12 14-9-50-11-14z"/><path class=r16 d="M2408 1915l12-41-9-50-11 41zm102-19l12-17-9-49-11 16zm23 4l11 46-8-50-12-46zm431-84l11-25-9-49-11 24zm22-12l12 38-9-49-11-39zm102-21l12 37-9-50-11-37z"/><path class=r17 d="M2295 1931l11-13-8-50-12 13z"/><path class=r18 d="M2306 1918l12-39-9-50-11 39zm216-39l11 21-9-50-11-20zm453-88l11 13-8-50-12-12zm215-44l12 8-9-50-11-8z"/><path class=r19 d="M2363 1899l11 49-8-50-12-49zm79-18l12 48-9-50-11-48zm612-119l12-26-9-50-11 26zm80-13l11-54-9-50-11 54z"/><path class=r20 d="M2420 1874l11-15-9-50-11 15zm657-128l11 37-8-50-12-37z"/><path class=r21 d="M2318 1879l11-40-9-50-11 40zm113-20l11 22-8-50-12-22zm635-123l11 10-9-50-11-10zm113-24l11 35-8-50-12-35z"/><path class=r24 d="M2352 1849l11 50-9-50-11-50zm793-154l11-28-8-50-12 28z"/><path class=r25 d="M2329 1839l11-14-8-50-12 14zm839-163l11 36-9-50-11-36z"/><path class=r26 d="M2340 1825l12 24-9-50-11-24zm816-158l12 9-9-50-11-9z"/><path class=r0 d="M2757 2026l11-21-8-23-12 21z"/><path class=r1 d="M2666 2037l12-19-9-23-11 19zm182-35l11-22-9-24-11 23z"/><path class=r2 d="M2576 2036l11-18-9-23-11 18zm102-18l11-46-9-23-11 46zm68-8l11 16-9-23-11-17zm22-5l12-47-9-24-11 48zm68-18l12 15-9-23-11-15zm102-21l12-25-9-23-11 24z"/><path class=r3 d="M2655 2019l11 18-8-23-12-18zm204-39l11-50-8-23-12 49z"/><path class=r4 d="M2587 2018l11-44-8-24-12 45zm340-66l11 14-8-24-12-13z"/><path class=r5 d="M2485 2022l11-17-8-23-12 16zm79-6l12 20-9-23-11-20zm386-75l11-50-9-24-11 51zm79-25l11-26-8-23-12 26z"/><path class=r6 d="M2689 1972l11-46-8-23-12 46zm91-14l11-48-9-23-11 47z"/><path class=r7 d="M2496 2005l12-42-9-24-11 43zm374-75l12-49-9-23-11 49zm148-26l11 12-9-23-11-12z"/><path class=r8 d="M2474 2000l11 22-9-24-11-21zm124-26l12-45-9-23-11 44zm442-84l12-52-9-23-11 52z"/><path class=r9 d="M2961 1891l11-51-8-24-12 51z"/><path class=r10 d="M2394 1995l12-15-9-23-11 14zm397-85l11-22-8-23-12 22zm329-56l11-28-9-23-11 27z"/><path class=r11 d="M2406 1980l11-41-9-24-11 42zm102-17l11-43-9-24-11 43zm192-37l12-20-9-23-11 20zm182-45l11-23-9-23-11 23zm226-37l12 10-9-24-11-10z"/><path class=r12 d="M2383 1972l11 23-8-24-12-23zm227-43l11-18-9-24-11 19zm102-23l11 17-9-23-11-17zm90-18l12 16-9-23-11-16zm250-50l11-53-9-23-11 53zm79-12l11-54-8-23-12 54z"/><path class=r13 d="M2621 1911l11 18-8-23-12-19zm272-53l11 14-8-23-12-14z"/><path class=r14 d="M2417 1939l11-42-8-23-12 41zm102-19l11-17-8-24-12 17zm453-80l12-25-9-24-11 25z"/><path class=r15 d="M2304 1955l11-13-9-24-11 13z"/><path class=r16 d="M2315 1942l11-40-8-23-12 39zm215-39l12 20-9-23-11-21zm454-88l11 12-9-23-11-13zm215-45l11 9-8-24-12-8z"/><path class=r17 d="M3063 1785l11-26-8-23-12 26zm79-13l12-54-9-23-11 54z"/><path class=r18 d="M2428 1897l12-15-9-23-11 15z"/><path class=r19 d="M2440 1882l11 22-9-23-11-22zm634-123l12 11-9-24-11-10z"/><path class=r20 d="M2326 1902l12-40-9-23-11 40z"/><path class=r22 d="M3154 1718l11-28-9-23-11 28z"/><path class=r23 d="M2338 1862l11-13-9-24-11 14z"/><path class=r24 d="M2349 1849l11 23-8-23-12-24zm816-159l11 9-8-23-12-9z"/><path class=r2 d="M2675 2023l11-19-8 14-12 19zm91-11l11-21-9 14-11 21zm90-24l12-23-9 15-11 22z"/><path class=r3 d="M2777 1991l11-48-8 15-12 47z"/><path class=r4 d="M2686 2004l12-46-9 14-11 46zm182-39l11-49-9 14-11 50zm79-14l11-24-8 14-12 25z"/><path class=r6 d="M2596 2004l11-45-9 15-11 44zm362-77l12-51-9 15-11 50z"/><path class=r7 d="M3038 1902l11-26-9 14-11 26z"/><path class=r8 d="M2505 1991l11-43-8 15-12 42zm193-33l11-46-9 14-11 46zm90-15l12-47-9 14-11 48z"/><path class=r9 d="M2607 1959l11-44-8 14-12 45zm272-43l11-49-8 14-12 49zm170-40l11-52-8 14-12 52z"/><path class=r11 d="M2970 1876l11-51-9 15-11 51zm158-36l12-28-9 14-11 28z"/><path class=r12 d="M2414 1966l12-42-9 15-11 41zm102-18l12-43-9 15-11 43zm193-36l11-20-8 14-12 20zm91-16l11-22-9 14-11 22z"/><path class=r13 d="M2890 1867l12-23-9 14-11 23z"/><path class=r14 d="M3060 1824l12-53-9 14-11 53zm80-12l11-54-9 14-11 54z"/><path class=r15 d="M2981 1825l11-24-8 14-12 25z"/><path class=r16 d="M2426 1924l11-41-9 14-11 42z"/><path class=r18 d="M2324 1928l11-40-9 14-11 40zm827-170l11-54-8 14-12 54z"/><path class=r19 d="M3072 1771l11-26-9 14-11 26z"/><path class=r21 d="M2335 1888l11-40-8 14-12 40z"/><path class=r23 d="M3162 1704l12-28-9 14-11 28z"/><path class=r18 d="M3148 1771l12-54-9 41-11 54z"/><path class=r23 d="M3160 1717l11-54-9 41-11 54z"/><path class=r22 d="M3157 1730l11-54-8 41-12 54z"/><path class=r27 d="M3168 1676l12-54-9 41-11 54z"/><path class=r12 d="M2701 1926l12-19-9 15-12 19zm91-11l11-21-9 15-11 21zm90-24l12-22-9 15-11 22z"/><path class=r13 d="M2803 1894l12-47-9 14-12 48z"/><path class=r14 d="M2713 1907l11-46-9 15-11 46zm181-38l11-50-9 15-11 50zm79-14l11-25-8 15-12 24z"/><path class=r15 d="M2622 1907l11-44-9 15-11 44z"/><path class=r16 d="M2984 1830l12-50-9 14-11 51z"/><path class=r17 d="M3064 1805l11-26-9 15-11 26z"/><path class=r18 d="M2531 1894l12-42-9 14-12 43zm193-33l11-46-9 15-11 46zm91-14l11-48-9 15-11 47zm90-28l11-49-8 15-12 49z"/><path class=r19 d="M2633 1863l12-45-9 15-12 45zm442-84l11-52-8 15-12 52z"/><path class=r21 d="M2996 1780l11-51-9 14-11 51zm158-37l12-28-9 15-11 28z"/><path class=r22 d="M2441 1869l11-41-9 15-11 41zm102-17l11-43-9 14-11 43zm192-37l12-20-9 15-12 20zm91-16l11-22-9 15-11 22z"/><path class=r23 d="M2916 1770l12-23-9 15-11 23zm250-55l11-54-9 15-11 54z"/><path class=r24 d="M3086 1727l12-53-9 15-11 53z"/><path class=r25 d="M3007 1729l11-25-8 15-12 24z"/><path class=r26 d="M2452 1828l11-42-9 15-11 42z"/><path class=r27 d="M2350 1831l11-40-9 15-11 40z"/><path class=r28 d="M3177 1661l11-54-8 15-12 54z"/><path class=r29 d="M3098 1674l11-26-9 15-11 26z"/><path class=r31 d="M2361 1791l12-40-9 15-12 40z"/><path class=r33 d="M3188 1607l12-28-9 15-11 28z"/><path class=r10 d="M2710 1949l11-20-8-22-12 19zm91-11l11-21-9-23-11 21zm90-24l12-23-9-22-12 22z"/><path class=r12 d="M2619 1947l12-18-9-22-11 18zm80-16l11 18-9-23-11-18zm22-2l12-46-9-22-11 46zm68-8l12 17-9-23-11-16zm23-4l11-48-8-22-12 47zm68-18l11 15-9-23-11-15zm23-8l11-49-9-23-11 50zm79-14l11-24-9-23-11 25z"/><path class=r14 d="M2608 1927l11 20-8-22-12-20zm23 2l11-44-9-22-11 44zm340-66l11 14-9-22-11-14zm22-10l12-51-9-22-12 50z"/><path class=r15 d="M2529 1933l11-16-9-23-11 17zm544-106l11-25-9-23-11 26z"/><path class=r16 d="M2540 1917l11-43-8-22-12 42zm193-34l11-46-9-22-11 46zm90-14l12-48-9-22-11 48zm238-53l12 11-9-22-12-12z"/><path class=r17 d="M2517 1912l12 21-9-22-11-22zm397-70l11-50-9-22-11 49zm170-40l11-53-9-22-11 52z"/><path class=r18 d="M2642 1885l11-45-8-22-12 45z"/><path class=r19 d="M2438 1906l11-15-8-22-12 15zm567-104l11-51-9-22-11 51zm158-37l12-27-9-23-12 28z"/><path class=r20 d="M2449 1891l12-41-9-22-11 41zm102-17l12-43-9-22-11 43zm193-37l11-20-8-22-12 20zm91-16l11-21-9-23-11 22zm317-66l11 10-9-22-11-10z"/><path class=r21 d="M2925 1792l12-23-9-22-12 23z"/><path class=r22 d="M2427 1883l11 23-9-22-11-23zm226-43l12-18-9-22-11 18zm102-23l12 17-9-22-11-17zm91-17l11 15-8-22-12-16zm249-51l12-52-9-23-12 53zm80-11l11-54-9-23-11 54z"/><path class=r23 d="M2665 1822l11 19-9-23-11-18zm272-53l11 14-9-22-11-14zm79-18l11-25-9-22-11 25z"/><path class=r24 d="M2461 1850l11-41-9-23-11 42zm102-19l11-17-9-22-11 17z"/><path class=r25 d="M2347 1866l12-13-9-22-11 13zm227-52l11 20-8-22-12-20zm453-88l12 12-9-22-12-12z"/><path class=r26 d="M2359 1853l11-40-9-22-11 40zm827-169l11-54-9-23-11 54zm57-3l11 9-9-22-11-9z"/><path class=r27 d="M3107 1697l11-27-9-22-11 26z"/><path class=r28 d="M2472 1809l11-16-8-22-12 15z"/><path class=r29 d="M2370 1813l11-39-8-23-12 40zm113-20l12 22-9-22-11-22zm635-123l11 11-9-22-11-11z"/><path class=r31 d="M3197 1630l12-28-9-23-12 28z"/><path class=r33 d="M2381 1774l12-14-9-22-11 13z"/><path class=r34 d="M2393 1760l11 24-9-23-11-23zm816-158l11 9-9-23-11-9z"/><path class=r6 d="M2719 1997l11-19-9-49-11 20zm90-11l12-21-9-48-11 21zm91-24l11-22-8-49-12 23z"/><path class=r7 d="M2798 1970l11 16-8-48-12-17zm23-5l11-47-9-49-11 48z"/><path class=r8 d="M2628 1996l11-18-8-49-12 18zm79-17l12 18-9-48-11-18zm23-1l11-46-8-49-12 46zm159-31l11 15-9-48-11-15zm22-7l12-50-9-48-11 49zm80-15l11-24-9-48-11 24z"/><path class=r9 d="M2639 1978l12-44-9-49-11 44zm340-66l12 13-9-48-11-14z"/><path class=r10 d="M2617 1976l11 20-9-49-11-20zm385-75l11-51-8-48-12 51z"/><path class=r11 d="M2537 1981l12-16-9-48-11 16zm544-105l12-26-9-48-11 25z"/><path class=r12 d="M2549 1965l11-43-9-48-11 43zm147-31l11 45-8-48-12-45zm45-2l12-46-9-49-11 46zm46-6l11 44-9-49-11-43zm45-8l11-48-8-49-12 48zm45-12l12 41-9-48-11-42zm46-16l11-49-9-49-11 50zm147-26l11 12-8-49-12-11z"/><path class=r13 d="M2526 1960l11 21-8-48-12-21zm125-26l11-45-9-49-11 45zm317-62l11 40-8-49-12-40zm125-22l11-52-9-49-11 53z"/><path class=r14 d="M2605 1930l12 46-9-49-11-46zm408-80l12-51-9-48-11 51z"/><path class=r15 d="M2447 1954l11-14-9-49-11 15zm725-140l11-28-8-48-12 27z"/><path class=r16 d="M2458 1940l11-41-8-49-12 41zm102-18l11-43-8-48-12 43zm193-36l11-20-9-49-11 20zm22-3l12 43-9-48-11-44zm68-13l12-22-9-48-11 21zm23-6l11 42-8-49-12-42zm193-38l11 38-9-48-11-39zm102-23l11 11-9-49-11-10z"/><path class=r17 d="M2435 1931l12 23-9-48-11-23zm227-42l11-18-8-49-12 18zm23 0l11 45-9-48-11-45zm249-48l11-23-8-49-12 23zm23-9l11 40-9-49-11-40zm226-46l12-54-9-48-11 54z"/><path class=r18 d="M2515 1912l11 48-9-48-11-48zm249-46l11 17-8-49-12-17zm91-18l11 16-9-49-11-15zm249-50l11-53-8-48-12 52z"/><path class=r19 d="M2594 1883l11 47-8-49-12-47zm79-12l12 18-9-48-11-19zm272-53l12 14-9-49-11-14zm80-19l11-24-9-49-11 25z"/><path class=r20 d="M2356 1915l11-13-8-49-12 13zm113-16l12-42-9-48-11 41zm102-20l12-16-9-49-11 17zm476-92l12 39-9-49-11-39zm102-20l12 36-9-48-11-37z"/><path class=r21 d="M2367 1902l12-40-9-49-11 40zm216-39l11 20-9-49-11-20zm453-88l11 12-8-49-12-12zm215-45l12 9-9-49-11-9z"/><path class=r22 d="M2424 1882l11 49-8-48-12-50zm79-18l12 48-9-48-11-49zm612-119l12-26-9-49-11 27zm80-13l11-54-9-48-11 54z"/><path class=r24 d="M2481 1857l11-15-9-49-11 16zm657-127l11 37-8-49-12-37z"/><path class=r25 d="M2379 1862l11-40-9-48-11 39zm113-20l11 22-8-49-12-22zm635-123l11 11-9-49-11-11zm113-24l11 35-8-49-12-35z"/><path class=r27 d="M2413 1832l11 50-9-49-11-49zm793-154l11-28-8-48-12 28z"/><path class=r28 d="M2390 1822l11-13-8-49-12 14zm839-163l11 36-9-49-11-35z"/><path class=r30 d="M2401 1809l12 23-9-48-11-24zm816-159l12 9-9-48-11-9z"/><path class=r1 d="M2818 2034l11-21-8-48-12 21z"/><path class=r2 d="M2727 2046l12-20-9-48-11 19zm182-36l11-22-9-48-11 22z"/><path class=r3 d="M2739 2026l11-46-9-48-11 46zm68-8l11 16-9-48-11-16zm22-5l12-47-9-48-11 47zm68-18l12 15-9-48-11-15z"/><path class=r4 d="M2637 2044l11-18-9-48-11 18zm79-16l11 18-8-49-12-18zm204-40l11-49-8-49-12 50zm79-14l12-24-9-49-11 24z"/><path class=r5 d="M2648 2026l11-44-8-48-12 44zm340-66l11 14-8-49-12-13z"/><path class=r6 d="M2625 2024l12 20-9-48-11-20zm386-74l11-51-9-49-11 51z"/><path class=r7 d="M2546 2030l11-16-8-49-12 16zm249-55l12 43-9-48-11-44zm46-9l11-48-9-48-11 48zm249-42l11-26-8-48-12 26z"/><path class=r8 d="M2557 2014l12-43-9-49-11 43zm148-31l11 45-9-49-11-45zm45-3l11-46-8-48-12 46zm136-26l11 41-8-48-12-41zm45-15l12-50-9-48-11 49zm148-27l11 12-9-48-11-12z"/><path class=r9 d="M2535 2008l11 22-9-49-11-21zm124-26l12-45-9-48-11 45zm318-62l11 40-9-48-11-40zm124-22l12-52-9-48-11 52z"/><path class=r10 d="M2614 1978l11 46-8-48-12-46zm408-79l11-51-8-49-12 51z"/><path class=r11 d="M2455 2003l12-15-9-48-11 14zm726-141l11-27-9-49-11 28z"/><path class=r12 d="M2467 1988l11-41-9-48-11 41zm102-17l11-43-9-49-11 43zm192-37l12-20-9-48-11 20zm23-3l11 44-8-49-12-43zm68-13l11-22-8-48-12 22zm23-6l11 42-9-48-11-42zm192-38l12 38-9-48-11-38zm102-22l12 10-9-48-11-11z"/><path class=r13 d="M2444 1980l11 23-8-49-12-23zm227-43l11-18-9-48-11 18zm22 1l12 45-9-49-11-45zm80-24l11 17-9-48-11-17zm90-18l12 16-9-48-11-16zm80-7l11-23-9-48-11 23zm22-9l12 40-9-48-11-40zm227-45l11-54-8-49-12 54z"/><path class=r14 d="M2523 1960l12 48-9-48-11-48zm590-114l11-53-9-48-11 53z"/><path class=r15 d="M2603 1931l11 47-9-48-11-47zm79-12l11 19-8-49-12-18zm272-53l11 14-8-48-12-14zm79-18l12-25-9-48-11 24z"/><path class=r16 d="M2365 1963l11-13-9-48-11 13zm113-16l11-41-8-49-12 42zm102-19l11-17-8-48-12 16zm476-93l11 39-8-48-12-39zm102-20l11 37-8-49-12-36z"/><path class=r17 d="M2376 1950l11-40-8-48-12 40zm215-39l12 20-9-48-11-20zm454-88l11 12-9-48-11-12zm215-45l11 9-8-48-12-9z"/><path class=r18 d="M2433 1930l11 50-9-49-11-49zm79-18l11 48-8-48-12-48zm612-119l11-26-8-48-12 26zm79-12l12-55-9-48-11 54z"/><path class=r19 d="M2489 1906l12-16-9-48-11 15zm658-128l11 37-9-48-11-37z"/><path class=r20 d="M2501 1890l11 22-9-48-11-22zm634-123l12 11-9-48-11-11z"/><path class=r21 d="M2387 1910l12-40-9-48-11 40zm862-167l11 35-9-48-11-35z"/><path class=r23 d="M2421 1880l12 50-9-48-11-50zm794-154l11-28-9-48-11 28z"/><path class=r24 d="M2399 1870l11-13-9-48-11 13zm838-162l12 35-9-48-11-36z"/><path class=r25 d="M2410 1857l11 23-8-48-12-23zm816-159l11 10-8-49-12-9z"/><path class=r0 d="M2736 2067l11-19-8-22-12 20zm91-11l11-21-9-22-11 21zm90-24l12-22-9-22-11 22z"/><path class=r1 d="M2815 2040l12 16-9-22-11-16zm23-5l11-47-8-22-12 47z"/><path class=r2 d="M2645 2066l12-18-9-22-11 18zm80-17l11 18-9-21-11-18zm22-1l12-46-9-22-11 46zm159-31l11 15-8-22-12-15zm23-7l11-50-9-21-11 49zm79-15l11-24-8-21-12 24z"/><path class=r3 d="M2657 2048l11-44-9-22-11 44zm340-66l11 13-9-21-11-14z"/><path class=r4 d="M2634 2046l11 20-8-22-12-20zm385-75l12-50-9-22-11 51z"/><path class=r5 d="M2555 2052l11-17-9-21-11 16zm544-106l11-26-9-22-11 26z"/><path class=r6 d="M2566 2035l11-42-8-22-12 43zm193-33l11-46-9-22-11 46zm90-14l12-48-9-22-11 48zm91-28l11-49-8-22-12 50zm147-26l12 12-9-22-11-12z"/><path class=r7 d="M2543 2030l12 22-9-22-11-22zm125-26l11-45-8-22-12 45zm442-84l11-52-8-22-12 52z"/><path class=r8 d="M3031 1921l11-52-9-21-11 51z"/><path class=r9 d="M2464 2025l11-15-8-22-12 15zm725-141l12-28-9-21-11 27z"/><path class=r10 d="M2475 2010l12-41-9-22-11 41zm102-17l12-43-9-22-11 43zm193-37l11-20-8-22-12 20zm91-16l11-22-9-22-11 22zm317-66l11 10-8-22-12-10z"/><path class=r11 d="M2453 2002l11 23-9-22-11-23zm226-43l12-18-9-22-11 18zm272-48l12-23-9-22-11 23zm250-55l11-54-9-21-11 54z"/><path class=r12 d="M2781 1936l12 17-9-22-11-17zm91-18l11 16-8-22-12-16zm249-50l12-53-9-22-11 53z"/><path class=r13 d="M2691 1941l11 18-9-21-11-19zm272-53l11 14-9-22-11-14zm79-19l11-24-8-22-12 25z"/><path class=r14 d="M2373 1985l12-13-9-22-11 13zm114-16l11-42-9-21-11 41zm102-19l11-17-9-22-11 17z"/><path class=r15 d="M2385 1972l11-40-9-22-11 40zm215-39l11 20-8-22-12-20zm453-88l12 12-9-22-11-12zm216-45l11 9-9-22-11-9z"/><path class=r16 d="M3133 1815l11-26-9-22-11 26zm79-13l11-54-8-22-12 55z"/><path class=r18 d="M2498 1927l11-15-8-22-12 16z"/><path class=r19 d="M2396 1932l11-40-8-22-12 40zm113-20l12 22-9-22-11-22zm635-123l11 11-8-22-12-11z"/><path class=r21 d="M3223 1748l12-28-9-22-11 28z"/><path class=r22 d="M2407 1892l12-13-9-22-11 13z"/><path class=r24 d="M2419 1879l11 23-9-22-11-23zm816-159l11 9-9-21-11-10z"/><path class=r1 d="M2835 2040l12-21-9 16-11 21z"/><path class=r2 d="M2926 2016l11-22-8 16-12 22z"/><path class=r3 d="M2756 2032l11-46-8 16-12 46zm91-13l11-47-9 16-11 47z"/><path class=r4 d="M2937 1994l12-49-9 15-11 50zm80-14l11-25-9 16-11 24z"/><path class=r5 d="M2665 2032l12-44-9 16-11 44z"/><path class=r6 d="M3028 1955l11-50-8 16-12 50z"/><path class=r7 d="M2858 1972l11-48-8 16-12 48zm249-42l12-26-9 16-11 26z"/><path class=r8 d="M2575 2020l11-43-9 16-11 42zm192-34l12-46-9 16-11 46zm182-41l11-50-9 16-11 49z"/><path class=r9 d="M2677 1988l11-45-9 16-11 45zm442-84l11-52-9 16-11 52z"/><path class=r10 d="M3039 1905l12-51-9 15-11 52z"/><path class=r11 d="M3198 1868l11-27-8 15-12 28z"/><path class=r12 d="M2484 1994l11-41-8 16-12 41zm102-17l11-43-8 16-12 43zm283-53l12-22-9 16-11 22z"/><path class=r13 d="M2960 1895l11-23-8 16-12 23zm249-54l12-54-9 15-11 54z"/><path class=r14 d="M3130 1852l11-53-8 16-12 53z"/><path class=r15 d="M3051 1854l11-25-9 16-11 24z"/><path class=r16 d="M2495 1953l12-42-9 16-11 42z"/><path class=r17 d="M2393 1956l12-40-9 16-11 40z"/><path class=r18 d="M3141 1799l12-26-9 16-11 26zm80-12l11-55-9 16-11 54z"/><path class=r21 d="M2405 1916l11-40-9 16-11 40z"/><path class=r23 d="M3232 1732l11-28-8 16-12 28z"/><path class=r12 d="M2952 1915l12-23-9 17-11 22z"/><path class=r13 d="M2873 1918l11-48-8 17-12 47z"/><path class=r14 d="M2782 1931l12-46-9 16-11 46zm182-39l11-49-9 16-11 50zm79-14l11-24-9 16-11 25z"/><path class=r15 d="M2692 1931l11-45-9 17-11 44z"/><path class=r16 d="M3054 1854l12-51-9 17-12 50z"/><path class=r17 d="M3134 1829l11-26-9 16-11 26z"/><path class=r18 d="M2601 1918l11-43-8 17-12 42zm193-33l11-47-9 17-11 46zm90-15l12-48-9 17-11 48zm91-27l11-49-8 16-12 49z"/><path class=r19 d="M2703 1886l11-44-8 16-12 45zm442-83l11-53-9 17-11 52z"/><path class=r21 d="M3066 1803l11-51-9 17-11 51zm158-37l12-27-9 16-12 28z"/><path class=r22 d="M2510 1892l12-41-9 17-11 41zm102-17l12-43-9 17-11 43zm284-53l11-21-9 16-11 22z"/><path class=r23 d="M2986 1794l12-24-9 17-11 23zm250-55l11-54-9 16-11 54z"/><path class=r24 d="M3156 1750l12-52-9 16-12 53z"/><path class=r25 d="M3077 1752l11-25-9 17-11 25z"/><path class=r26 d="M2522 1851l11-41-9 16-11 42z"/><path class=r27 d="M2420 1854l11-39-9 16-11 40z"/><path class=r28 d="M3247 1685l11-54-9 16-11 54z"/><path class=r29 d="M3168 1698l11-27-9 17-11 26z"/><path class=r31 d="M2431 1815l11-40-8 16-12 40z"/><path class=r33 d="M3258 1631l12-28-9 16-12 28z"/><path class=r10 d="M2870 1960l12-21-9-21-11 21z"/><path class=r11 d="M2780 1971l11-20-9-20-11 19zm181-35l11-23-8-21-12 23z"/><path class=r12 d="M2689 1969l11-18-8-20-12 17zm79-16l12 18-9-21-11-18zm23-2l11-46-8-20-12 46zm68-8l11 17-8-21-12-17zm23-4l11-48-9-21-11 48zm68-18l11 15-9-21-11-15zm22-8l12-49-9-21-11 49zm80-14l11-24-9-21-11 24z"/><path class=r14 d="M2678 1949l11 20-9-21-11-19zm22 2l12-44-9-21-11 45zm340-66l12 14-9-21-11-13zm23-10l11-51-8-21-12 51z"/><path class=r15 d="M2598 1955l12-16-9-21-11 16zm544-106l12-25-9-21-11 26z"/><path class=r16 d="M2802 1905l12-46-9-21-11 47zm91-14l11-48-8-21-12 48z"/><path class=r17 d="M2587 1934l11 21-8-21-12-21zm23 5l11-43-9-21-11 43zm374-75l11-50-9-20-11 49zm147-27l11 12-8-20-12-12zm23-13l11-53-9-21-11 53z"/><path class=r18 d="M2712 1907l11-45-9-20-11 44z"/><path class=r19 d="M2508 1928l11-15-9-21-11 15zm566-104l12-51-9-21-11 51zm159-37l11-27-8-21-12 27z"/><path class=r20 d="M2621 1896l11-43-8-21-12 43zm193-37l11-20-9-21-11 20zm90-16l12-21-9-21-11 21z"/><path class=r21 d="M2519 1913l11-41-8-21-12 41zm476-99l11-23-8-21-12 24zm227-37l11 10-9-21-11-10z"/><path class=r22 d="M2496 1905l12 23-9-21-11-23zm227-43l11-18-8-21-12 19zm102-23l11 17-8-20-12-18zm91-17l11 15-9-21-11-15zm249-51l11-52-8-21-12 52zm79-11l12-54-9-21-11 54z"/><path class=r23 d="M2734 1844l12 19-9-21-11-19zm272-53l12 14-9-21-11-14zm80-18l11-25-9-21-11 25z"/><path class=r24 d="M2530 1872l12-41-9-21-11 41zm102-19l12-17-9-21-11 17z"/><path class=r25 d="M2417 1888l11-13-8-21-12 13z"/><path class=r26 d="M2428 1875l12-40-9-20-11 39zm216-39l11 20-9-20-11-21zm453-88l11 12-8-20-12-13zm215-45l12 9-9-21-11-8z"/><path class=r27 d="M3176 1719l12-27-9-21-11 27zm80-13l11-55-9-20-11 54z"/><path class=r28 d="M2542 1831l11-16-9-20-11 15z"/><path class=r29 d="M2440 1835l11-39-9-21-11 40zm113-20l11 22-8-20-12-22zm635-123l11 11-9-21-11-11z"/><path class=r32 d="M3267 1651l11-27-8-21-12 28z"/><path class=r33 d="M2451 1796l11-14-8-21-12 14z"/><path class=r34 d="M2462 1782l12 23-9-20-11-24zm816-158l12 9-9-21-11-9z"/><path class=r6 d="M2788 2018l12-20-9-47-11 20zm91-12l11-21-8-46-12 21zm91-23l11-23-9-47-11 23z"/><path class=r8 d="M2698 2016l11-18-9-47-11 18zm79-16l11 18-8-47-12-18zm23-2l11-46-9-47-11 46zm68-8l11 16-9-46-11-17zm22-5l12-47-9-47-11 48zm68-17l12 15-9-47-11-15zm23-8l11-49-8-47-12 49zm79-14l12-24-9-47-11 24z"/><path class=r10 d="M2686 1996l12 20-9-47-11-20zm23 2l11-44-8-47-12 44zm340-66l11 14-8-47-12-14zm23-10l11-51-9-47-11 51z"/><path class=r11 d="M2607 2002l11-16-8-47-12 16zm544-106l11-26-8-46-12 25z"/><path class=r12 d="M2618 1986l12-43-9-47-11 43zm193-34l11-46-8-47-12 46zm45-5l12 43-9-47-11-43zm46-9l11-48-9-47-11 48zm45-12l11 42-8-47-12-42zm193-42l11 12-9-47-11-12z"/><path class=r13 d="M2596 1980l11 22-9-47-11-21zm170-25l11 45-9-47-11-45zm226-44l12-50-9-47-11 50zm170-41l12-52-9-47-11 53z"/><path class=r14 d="M2720 1954l12-45-9-47-11 45zm318-62l11 40-9-47-11-40z"/><path class=r15 d="M2516 1975l12-15-9-47-11 15zm159-25l11 46-8-47-12-46zm408-79l11-51-8-47-12 51zm159-37l11-27-9-47-11 27z"/><path class=r16 d="M2528 1960l11-41-9-47-11 41zm102-17l11-43-9-47-11 43zm192-37l12-20-9-47-11 20zm23-3l11 44-8-47-12-44zm68-13l11-22-8-46-12 21zm23-6l11 42-9-47-11-42zm192-38l12 38-9-47-11-38zm102-22l12 10-9-47-11-10z"/><path class=r17 d="M2754 1910l12 45-9-47-11-45zm250-49l11-23-9-47-11 23z"/><path class=r18 d="M2505 1952l11 23-8-47-12-23zm79-20l12 48-9-46-11-48zm148-23l11-18-9-47-11 18zm102-23l11 17-9-47-11-17zm90-18l12 16-9-47-11-15zm102-16l12 40-9-47-11-40zm148-34l11-53-9-46-11 52zm79-11l11-54-8-47-12 54z"/><path class=r19 d="M2664 1903l11 47-9-47-11-47zm79-12l11 19-8-47-12-19zm272-53l11 14-8-47-12-14zm79-18l12-25-9-47-11 25z"/><path class=r20 d="M2539 1919l11-41-8-47-12 41zm102-19l11-17-8-47-12 17zm476-93l11 39-8-47-12-39zm102-20l11 37-8-47-12-37z"/><path class=r21 d="M2426 1935l11-13-9-47-11 13zm226-52l12 20-9-47-11-20zm454-88l11 12-9-47-11-12z"/><path class=r22 d="M2437 1922l11-40-8-47-12 40zm884-172l11 9-8-47-12-9z"/><path class=r23 d="M2494 1902l11 50-9-47-11-50zm79-18l11 48-8-46-12-49zm612-119l11-26-8-47-12 27zm79-12l12-55-9-47-11 55z"/><path class=r24 d="M2550 1878l12-16-9-47-11 16zm658-128l11 37-9-47-11-37z"/><path class=r25 d="M2448 1882l12-40-9-46-11 39zm114-20l11 22-9-47-11-22zm634-123l12 11-9-47-11-11zm114-24l11 35-9-47-11-35z"/><path class=r27 d="M2482 1852l12 50-9-47-11-50zm794-154l11-28-9-46-11 27z"/><path class=r29 d="M2460 1842l11-13-9-47-11 14zm838-162l12 35-9-47-11-35z"/><path class=r30 d="M2471 1829l11 23-8-47-12-23zm816-159l11 10-8-47-12-9z"/><path class=r2 d="M2797 2064l11-19-8-47-12 20zm91-11l11-21-9-47-11 21zm90-24l12-22-9-47-11 23z"/><path class=r3 d="M2876 2037l12 16-9-47-11-16zm23-5l11-47-8-47-12 47z"/><path class=r4 d="M2706 2063l12-18-9-47-11 18zm80-17l11 18-9-46-11-18zm22-1l12-46-9-47-11 46zm159-31l11 15-8-46-12-15zm23-7l11-50-9-46-11 49zm79-14l11-25-8-46-12 24z"/><path class=r6 d="M2695 2043l11 20-8-47-12-20zm23 2l11-44-9-47-11 44zm340-66l11 14-9-47-11-14zm22-11l12-50-9-47-11 51z"/><path class=r7 d="M2616 2049l11-17-9-46-11 16zm544-106l11-26-9-47-11 26z"/><path class=r8 d="M2627 2032l11-42-8-47-12 43zm193-33l11-46-9-47-11 46zm45-6l11 44-8-47-12-43zm45-8l12-48-9-47-11 48zm46-12l11 41-9-46-11-42zm192-42l12 12-9-47-11-12z"/><path class=r9 d="M2604 2027l12 22-9-47-11-22zm125-26l11-45-8-47-12 45zm45 0l12 45-9-46-11-45zm227-44l11-49-8-47-12 50zm45-18l12 40-9-47-11-40zm125-22l11-52-8-47-12 52z"/><path class=r11 d="M2525 2022l11-15-8-47-12 15zm159-25l11 46-9-47-11-46zm408-79l11-51-9-47-11 51zm158-37l12-28-9-46-11 27z"/><path class=r12 d="M2536 2007l12-41-9-47-11 41zm102-17l12-43-9-47-11 43zm193-37l11-20-8-47-12 20zm23-3l11 43-9-46-11-44zm68-13l11-22-9-47-11 22zm22-6l12 42-9-47-11-42zm193-38l11 38-8-47-12-38zm102-22l11 10-8-47-12-10z"/><path class=r13 d="M2740 1956l12-18-9-47-11 18zm23 0l11 45-8-46-12-45zm249-48l12-23-9-47-11 23zm23-9l11 40-8-47-12-40z"/><path class=r14 d="M2514 1999l11 23-9-47-11-23zm79-20l11 48-8-47-12-48zm249-46l12 17-9-47-11-17zm91-18l11 16-8-47-12-16zm249-50l12-53-9-47-11 53zm80-12l11-54-9-46-11 54z"/><path class=r15 d="M2672 1950l12 47-9-47-11-47zm80-12l11 18-9-46-11-19zm272-53l11 14-9-47-11-14zm79-18l11-25-8-47-12 25z"/><path class=r16 d="M2548 1966l11-42-9-46-11 41zm102-19l11-17-9-47-11 17zm476-93l11 39-9-47-11-39zm102-20l11 37-9-47-11-37z"/><path class=r17 d="M2434 1982l12-13-9-47-11 13zm227-52l11 20-8-47-12-20zm453-88l12 12-9-47-11-12z"/><path class=r18 d="M2446 1969l11-40-9-47-11 40zm56-20l12 50-9-47-11-50zm771-150l11-54-8-47-12 55zm57-2l11 9-9-47-11-9z"/><path class=r19 d="M2582 1931l11 48-9-47-11-48zm612-119l11-26-9-47-11 26z"/><path class=r20 d="M2559 1924l11-15-8-47-12 16zm657-127l12 37-9-47-11-37z"/><path class=r21 d="M2457 1929l11-40-8-47-12 40zm113-20l12 22-9-47-11-22zm635-123l11 11-8-47-12-11zm113-24l12 35-9-47-11-35z"/><path class=r23 d="M2491 1899l11 50-8-47-12-50zm793-154l12-28-9-47-11 28z"/><path class=r25 d="M2468 1889l12-13-9-47-11 13zm839-163l11 36-8-47-12-35z"/><path class=r26 d="M2480 1876l11 23-9-47-11-23zm816-159l11 9-9-46-11-10z"/><path class=r0 d="M2896 2073l12-21-9-20-11 21z"/><path class=r1 d="M2806 2085l11-20-9-20-11 19zm181-36l11-22-8-20-12 22z"/><path class=r2 d="M2715 2083l11-18-8-20-12 18zm102-18l11-46-8-20-12 46zm68-8l11 16-8-20-12-16zm23-5l11-47-9-20-11 47zm68-18l11 15-9-20-11-15zm102-21l11-25-9-20-11 25z"/><path class=r3 d="M2794 2066l12 19-9-21-11-18zm204-39l12-49-9-21-11 50z"/><path class=r4 d="M2726 2065l12-44-9-20-11 44zm340-66l12 14-9-20-11-14z"/><path class=r5 d="M2624 2069l12-16-9-21-11 17zm80-6l11 20-9-20-11-20zm385-75l11-50-8-20-12 50zm79-25l12-26-9-20-11 26z"/><path class=r6 d="M2828 2019l12-46-9-20-11 46zm91-14l11-48-8-20-12 48z"/><path class=r7 d="M2636 2053l11-43-9-20-11 42zm374-75l11-50-9-20-11 49zm147-27l11 12-8-20-12-12z"/><path class=r8 d="M2613 2047l11 22-8-20-12-22zm125-26l11-45-9-20-11 45zm442-84l11-52-9-20-11 52z"/><path class=r9 d="M3100 1938l12-51-9-20-11 51z"/><path class=r10 d="M2534 2042l11-15-9-20-11 15zm396-85l12-22-9-20-11 22zm329-56l11-27-8-21-12 28z"/><path class=r11 d="M2545 2027l11-41-8-20-12 41zm102-17l11-43-8-20-12 43zm193-37l11-20-9-20-11 20zm181-45l11-23-8-20-12 23zm227-37l11 10-9-20-11-10z"/><path class=r12 d="M2522 2019l12 23-9-20-11-23zm227-43l11-18-8-20-12 18zm102-23l11 17-8-20-12-17zm91-18l11 16-9-20-11-16zm249-50l11-53-8-20-12 53zm79-11l12-54-9-21-11 54z"/><path class=r13 d="M2760 1958l12 19-9-21-11-18zm272-53l12 14-9-20-11-14z"/><path class=r14 d="M2556 1986l12-42-9-20-11 42zm102-19l12-17-9-20-11 17zm454-80l11-25-9-20-11 25z"/><path class=r15 d="M2443 2002l11-13-8-20-12 13z"/><path class=r16 d="M2454 1989l12-40-9-20-11 40zm216-39l11 20-9-20-11-20zm453-88l11 12-8-20-12-12zm215-45l12 9-9-20-11-9z"/><path class=r17 d="M3202 1832l12-26-9-20-11 26zm80-12l11-55-9-20-11 54z"/><path class=r18 d="M2568 1944l11-15-9-20-11 15z"/><path class=r19 d="M2579 1929l11 22-8-20-12-22zm635-123l11 11-9-20-11-11z"/><path class=r20 d="M2466 1949l11-40-9-20-11 40z"/><path class=r22 d="M3293 1765l11-28-8-20-12 28z"/><path class=r23 d="M2477 1909l11-13-8-20-12 13z"/><path class=r24 d="M2488 1896l12 23-9-20-11-23zm816-159l12 10-9-21-11-9z"/><path class=r4 d="M2826 2048l11-46-9 17-11 46zm90-13l12-48-9 18-11 47zm170-40l12-24-9 17-11 25z"/><path class=r5 d="M3007 2009l11-49-8 18-12 49z"/><path class=r6 d="M2735 2048l11-45-8 18-12 44zm363-77l11-51-9 18-11 50z"/><path class=r7 d="M3177 1946l11-26-8 17-12 26z"/><path class=r8 d="M2837 2002l11-46-8 17-12 46zm91-15l11-47-9 17-11 48z"/><path class=r9 d="M2644 2035l12-43-9 18-11 43zm374-75l12-49-9 17-11 50z"/><path class=r10 d="M2746 2003l12-44-9 17-11 45zm442-83l12-52-9 17-11 52z"/><path class=r11 d="M3109 1920l11-51-8 18-12 51z"/><path class=r12 d="M2656 1992l11-43-9 18-11 43zm612-109l11-27-9 18-11 27z"/><path class=r13 d="M2554 2010l11-42-9 18-11 41zm476-99l11-23-9 17-11 23z"/><path class=r14 d="M3200 1868l11-53-9 17-11 53zm79-12l11-54-8 18-12 54z"/><path class=r16 d="M2565 1968l11-41-8 17-12 42zm555-99l12-25-9 18-11 25z"/><path class=r18 d="M2463 1971l11-39-8 17-12 40z"/><path class=r19 d="M3211 1815l11-26-8 17-12 26zm79-13l12-54-9 17-11 55z"/><path class=r21 d="M2474 1932l12-40-9 17-11 40z"/><path class=r24 d="M3302 1748l11-28-9 17-11 28z"/><path class=r15 d="M2852 1941l11-46-8 18-12 46zm91-12l11-48-9 18-11 48zm90-26l12-49-9 18-11 49zm80-14l11-24-9 18-11 24z"/><path class=r17 d="M2761 1941l12-44-9 18-11 45zm363-76l11-51-8 18-12 51z"/><path class=r18 d="M3203 1839l12-25-9 18-11 25z"/><path class=r19 d="M2671 1929l11-43-9 18-11 43zm192-34l12-46-9 18-11 46zm91-14l11-48-8 18-12 48z"/><path class=r20 d="M3045 1854l11-50-9 18-11 50zm170-40l11-53-9 18-11 53z"/><path class=r21 d="M2773 1897l11-45-9 18-11 45z"/><path class=r22 d="M3135 1814l12-51-9 18-11 51zm159-37l11-27-8 18-12 27z"/><path class=r23 d="M2580 1903l11-41-8 18-12 41zm102-17l11-43-8 18-12 43z"/><path class=r25 d="M3226 1761l11-52-8 18-12 52zm79-11l12-54-9 18-11 54z"/><path class=r26 d="M3147 1763l11-25-9 18-11 25z"/><path class=r27 d="M2591 1862l12-41-9 18-11 41z"/><path class=r29 d="M2489 1865l12-40-9 18-11 40z"/><path class=r30 d="M3237 1709l12-27-9 18-11 27zm80-13l11-54-9 18-11 54z"/><path class=r32 d="M2501 1825l11-39-9 18-11 39z"/><path class=r34 d="M3328 1642l11-28-8 18-12 28z"/><path class=r11 d="M2940 1969l11-21-8-19-12 21z"/><path class=r12 d="M2849 1980l12-19-9-20-11 20zm182-35l11-23-9-19-11 23z"/><path class=r13 d="M2861 1961l11-46-9-20-11 46zm68-9l11 17-9-19-11-17zm22-4l12-48-9-19-11 48zm68-18l12 15-9-19-11-15z"/><path class=r14 d="M2759 1978l11-17-9-20-11 18zm79-16l11 18-8-19-12-18zm204-40l11-49-8-19-12 49zm79-14l12-24-9-19-11 24z"/><path class=r15 d="M2770 1961l11-45-8-19-12 44zm340-66l11 13-8-19-12-14z"/><path class=r16 d="M2747 1959l12 19-9-19-11-20zm386-75l11-51-9-19-11 51z"/><path class=r17 d="M2668 1964l11-16-8-19-12 16zm295-64l11-48-9-19-11 48zm249-41l11-26-8-19-12 25z"/><path class=r18 d="M2679 1948l12-43-9-19-11 43zm193-33l11-47-8-19-12 46zm181-42l12-49-9-20-11 50zm148-26l11 12-9-20-11-11z"/><path class=r19 d="M2657 1943l11 21-9-19-11-21zm124-27l12-44-9-20-11 45zm442-83l12-53-9-19-11 53z"/><path class=r20 d="M3144 1833l11-51-8-19-12 51z"/><path class=r21 d="M2577 1937l12-15-9-19-11 15zm726-141l11-27-9-19-11 27z"/><path class=r22 d="M2589 1922l11-41-9-19-11 41zm102-17l11-43-9-19-11 43zm192-37l12-20-9-19-11 20zm91-16l11-21-8-19-12 21zm317-66l12 10-9-19-11-10z"/><path class=r23 d="M2566 1914l11 23-8-19-12-23zm227-42l11-19-9-19-11 18zm102-24l11 18-9-20-11-17zm90-17l12 15-9-19-11-15zm80-7l11-24-9-19-11 23zm249-55l11-54-8-19-12 54z"/><path class=r24 d="M3235 1780l11-52-9-19-11 52z"/><path class=r25 d="M2804 1853l11 19-8-19-12-19zm272-53l11 14-8-19-12-14zm79-18l12-25-9-19-11 25z"/><path class=r26 d="M2487 1897l11-13-9-19-11 13zm113-16l11-41-8-19-12 41zm102-19l11-17-8-19-12 17z"/><path class=r27 d="M2498 1884l11-39-8-20-12 40zm215-39l12 21-9-20-11-20zm454-88l11 13-9-19-11-13zm215-44l11 8-8-19-12-9z"/><path class=r28 d="M3246 1728l11-27-8-19-12 27zm79-13l12-54-9-19-11 54z"/><path class=r29 d="M2611 1840l12-15-9-20-11 16z"/><path class=r30 d="M2623 1825l11 22-9-20-11-22zm634-124l12 11-9-19-11-11z"/><path class=r31 d="M2509 1845l12-40-9-19-11 39z"/><path class=r33 d="M3337 1661l11-28-9-19-11 28z"/><path class=r34 d="M2521 1805l11-14-9-19-11 14z"/><path class=r35 d="M2532 1791l11 24-8-19-12-24zm816-158l11 9-8-19-12-9z"/><path class=r7 d="M2949 2014l11-21-9-45-11 21z"/><path class=r8 d="M2858 2025l11-19-8-45-12 19zm181-35l12-22-9-46-11 23z"/><path class=r9 d="M2869 2006l12-46-9-45-11 46zm68-8l12 16-9-45-11-17zm23-5l11-48-8-45-12 48zm68-18l11 15-8-45-12-15z"/><path class=r10 d="M2767 2024l12-18-9-45-11 17zm80-17l11 18-9-45-11-18zm204-39l11-50-9-45-11 49zm79-15l11-24-8-45-12 24z"/><path class=r11 d="M2779 2006l11-44-9-46-11 45zm340-66l11 13-9-45-11-13z"/><path class=r12 d="M2756 2004l11 20-8-46-12-19zm385-75l12-51-9-45-11 51z"/><path class=r13 d="M2677 2009l11-16-9-45-11 16zm249-55l11 44-8-46-12-43zm45-9l12-47-9-46-11 48zm250-41l11-26-9-45-11 26z"/><path class=r14 d="M2688 1993l11-43-8-45-12 43zm147-31l12 45-9-45-11-45zm46-2l11-46-9-46-11 47zm136-26l11 41-9-45-11-42zm45-16l11-49-8-45-12 49zm147-26l12 12-9-45-11-12z"/><path class=r15 d="M2665 1988l12 21-9-45-11-21zm125-26l11-45-8-45-12 44zm317-62l12 40-9-45-11-40zm125-22l11-52-8-46-12 53z"/><path class=r16 d="M2745 1958l11 46-9-45-11-47zm408-80l11-51-9-45-11 51z"/><path class=r17 d="M2586 1982l11-14-8-46-12 15zm725-140l12-28-9-45-11 27z"/><path class=r18 d="M2597 1968l12-41-9-46-11 41zm102-18l12-43-9-45-11 43zm193-36l11-20-8-46-12 20zm23-3l11 43-9-45-11-43zm68-13l11-22-9-45-11 21zm22-6l12 42-9-46-11-42zm193-38l11 38-8-45-12-39zm102-23l11 11-8-46-12-10z"/><path class=r19 d="M2575 1959l11 23-9-45-11-23zm226-42l12-18-9-46-11 19zm23 0l11 45-8-45-12-45zm79-23l12 17-9-45-11-18zm91-18l11 16-8-46-12-15zm79-7l12-23-9-46-11 24zm23-9l11 40-8-45-12-41zm227-46l11-54-9-45-11 54z"/><path class=r20 d="M2654 1940l11 48-8-45-12-48zm589-114l12-53-9-45-11 52z"/><path class=r21 d="M2733 1911l12 47-9-46-11-46zm80-12l11 18-9-45-11-19zm272-53l11 14-9-46-11-14zm79-19l11-24-8-46-12 25z"/><path class=r22 d="M2495 1943l12-13-9-46-11 13zm114-16l11-42-9-45-11 41zm102-20l11-16-9-46-11 17zm476-92l11 39-9-46-11-38zm102-20l11 36-9-45-11-37z"/><path class=r23 d="M2507 1930l11-40-9-45-11 39zm215-39l11 20-8-45-12-21zm453-88l12 12-9-45-11-13zm216-45l11 9-9-46-11-8z"/><path class=r24 d="M2563 1910l12 49-9-45-11-50zm80-18l11 48-9-45-11-48zm612-119l11-26-9-46-11 27zm79-13l11-54-8-45-12 54z"/><path class=r25 d="M2620 1885l11-15-8-45-12 15zm657-127l12 37-9-46-11-37z"/><path class=r27 d="M2518 1890l11-40-8-45-12 40zm113-20l12 22-9-45-11-22zm635-123l11 11-8-46-12-11zm113-24l12 35-9-45-11-36z"/><path class=r29 d="M2552 1860l11 50-8-46-12-49zm793-154l12-28-9-45-11 28z"/><path class=r30 d="M2529 1850l12-14-9-45-11 14zm839-163l11 36-8-46-12-35z"/><path class=r31 d="M2541 1836l11 24-9-45-11-24zm816-158l11 9-9-45-11-9z"/><path class=r3 d="M2957 2059l12-21-9-45-11 21z"/><path class=r4 d="M2867 2070l11-19-9-45-11 19zm181-35l11-22-8-45-12 22z"/><path class=r5 d="M2946 2043l11 16-8-45-12-16zm23-5l11-47-9-46-11 48z"/><path class=r6 d="M2776 2069l11-18-8-45-12 18zm79-17l12 18-9-45-11-18zm23-1l11-46-8-45-12 46zm159-31l11 15-9-45-11-15zm22-7l12-50-9-45-11 50zm80-14l11-25-9-45-11 24z"/><path class=r7 d="M2787 2051l12-44-9-45-11 44zm340-66l12 14-9-46-11-13z"/><path class=r8 d="M2765 2049l11 20-9-45-11-20zm385-75l11-50-8-46-12 51z"/><path class=r9 d="M2685 2055l12-17-9-45-11 16zm250-56l11 44-9-45-11-44zm45-8l11-48-8-45-12 47zm249-42l12-26-9-45-11 26z"/><path class=r10 d="M2697 2038l11-42-9-46-11 43zm147-31l11 45-8-45-12-45zm45-2l12-46-9-45-11 46zm136-26l12 41-9-45-11-41zm46-16l11-49-9-45-11 49zm147-26l11 12-8-45-12-12z"/><path class=r11 d="M2674 2033l11 22-8-46-12-21zm125-26l11-45-9-45-11 45zm317-62l11 40-8-45-12-40zm125-22l11-52-9-45-11 52z"/><path class=r12 d="M2753 2003l12 46-9-45-11-46zm408-79l12-51-9-46-11 51z"/><path class=r13 d="M2595 2028l11-15-9-45-11 14zm725-141l11-28-8-45-12 28z"/><path class=r14 d="M2606 2013l11-41-8-45-12 41zm102-17l11-43-8-46-12 43zm193-37l11-20-9-45-11 20zm22-3l12 43-9-45-11-43zm68-13l12-22-9-45-11 22zm23-6l11 42-8-45-12-42zm193-38l11 38-9-45-11-38zm102-22l11 10-9-45-11-11z"/><path class=r15 d="M2583 2005l12 23-9-46-11-23zm227-43l11-18-8-45-12 18zm23 0l11 45-9-45-11-45zm79-23l11 17-8-45-12-17zm91-18l11 16-9-45-11-16zm79-7l11-23-8-45-12 23zm23-9l11 40-9-45-11-40zm226-46l12-54-9-45-11 54z"/><path class=r16 d="M2663 1985l11 48-9-45-11-48zm589-114l11-53-8-45-12 53z"/><path class=r17 d="M2742 1956l11 47-8-45-12-47zm79-12l12 18-9-45-11-18zm272-53l12 14-9-45-11-14zm80-18l11-25-9-45-11 24z"/><path class=r18 d="M2504 1988l11-13-8-45-12 13zm113-16l12-42-9-45-11 42zm102-19l12-17-9-45-11 16zm476-93l12 39-9-45-11-39zm102-20l12 37-9-46-11-36z"/><path class=r19 d="M2515 1975l12-40-9-45-11 40zm216-39l11 20-9-45-11-20zm453-88l11 12-8-45-12-12zm215-45l12 9-9-45-11-9z"/><path class=r20 d="M2572 1955l11 50-8-46-12-49zm79-18l12 48-9-45-11-48zm612-119l12-26-9-45-11 26zm80-13l11-54-9-45-11 54z"/><path class=r21 d="M2629 1930l11-15-9-45-11 15zm657-127l11 37-8-45-12-37z"/><path class=r23 d="M2527 1935l11-40-9-45-11 40zm113-20l11 22-8-45-12-22zm635-123l11 11-9-45-11-11zm113-24l11 35-8-45-12-35z"/><path class=r25 d="M2561 1905l11 50-9-45-11-50zm793-154l11-28-8-45-12 28z"/><path class=r26 d="M2538 1895l11-13-8-46-12 14zm839-163l11 36-9-45-11-36z"/><path class=r27 d="M2549 1882l12 23-9-45-11-24zm816-159l12 9-9-45-11-9z"/><path class=r2 d="M2875 2089l12-19-9-19-11 19zm91-11l11-21-8-19-12 21zm91-24l11-23-9-18-11 22z"/><path class=r4 d="M2785 2087l11-17-9-19-11 18zm79-16l11 18-8-19-12-18zm23-1l11-46-9-19-11 46zm68-9l11 17-9-19-11-16zm22-4l12-48-9-18-11 47zm68-18l12 15-9-19-11-15zm23-8l11-49-8-19-12 50zm79-14l12-24-9-19-11 25z"/><path class=r6 d="M2773 2068l12 19-9-18-11-20zm23 2l11-45-8-18-12 44zm340-66l11 13-8-18-12-14zm23-11l11-51-9-18-11 50z"/><path class=r7 d="M2694 2073l11-16-8-19-12 17zm544-105l11-26-8-19-12 26z"/><path class=r8 d="M2898 2024l11-47-8-18-12 46zm91-15l11-48-9-18-11 48z"/><path class=r9 d="M2683 2052l11 21-9-18-11-22zm22 5l12-43-9-18-11 42zm374-75l12-49-9-19-11 49zm148-26l11 12-9-19-11-12zm22-14l12-53-9-18-11 52z"/><path class=r10 d="M2807 2025l12-44-9-19-11 45z"/><path class=r11 d="M2604 2046l11-14-9-19-11 15zm566-104l11-51-8-18-12 51zm159-37l11-27-9-19-11 28z"/><path class=r12 d="M2717 2014l11-43-9-18-11 43zm192-37l12-20-9-18-11 20zm91-16l11-21-8-19-12 22z"/><path class=r13 d="M2615 2032l11-42-9-18-11 41zm476-99l11-24-9-18-11 23zm226-38l12 10-9-18-11-10z"/><path class=r14 d="M2592 2023l12 23-9-18-12-23zm227-42l11-19-9-18-11 18zm102-24l11 18-9-19-11-17zm90-17l12 15-9-18-11-16zm250-51l11-52-9-19-11 53zm79-11l11-54-8-19-12 54z"/><path class=r15 d="M2830 1962l11 19-8-19-12-18zm272-53l11 14-8-18-12-14zm79-18l12-25-9-18-11 25z"/><path class=r16 d="M2626 1990l11-41-8-19-12 42zm102-19l11-17-8-18-12 17z"/><path class=r17 d="M2513 2006l11-13-9-18-11 13z"/><path class=r18 d="M2524 1993l12-39-9-19-12 40zm215-39l12 21-9-19-11-20zm454-88l11 13-9-19-11-12zm215-44l11 8-8-18-12-9z"/><path class=r19 d="M3272 1837l11-27-8-18-12 26zm79-13l12-54-9-19-11 54z"/><path class=r20 d="M2637 1949l12-15-9-19-11 15z"/><path class=r21 d="M2536 1954l11-40-9-19-11 40zm113-20l11 22-9-19-11-22zm634-124l12 11-9-18-11-11z"/><path class=r23 d="M3363 1770l11-28-9-19-11 28z"/><path class=r25 d="M2547 1914l11-14-9-18-11 13z"/><path class=r26 d="M2558 1900l12 24-9-19-12-23zm816-158l11 9-8-19-12-9z"/><path class=r6 d="M2896 2051l11-46-9 19-11 46zm90-13l12-48-9 19-12 48zm91-26l11-49-9 19-11 49z"/><path class=r8 d="M2805 2051l11-45-9 19-11 45zm363-77l11-51-9 19-11 51z"/><path class=r9 d="M3247 1949l11-26-9 19-11 26z"/><path class=r10 d="M2907 2005l11-47-9 19-11 47zm91-15l11-48-9 19-11 48z"/><path class=r11 d="M2714 2038l12-43-9 19-12 43zm374-75l12-49-9 19-12 49z"/><path class=r12 d="M2816 2006l12-44-9 19-12 44zm442-83l11-53-8 19-12 53z"/><path class=r13 d="M3179 1923l11-51-9 19-11 51zm158-37l12-27-9 19-11 27z"/><path class=r14 d="M2726 1995l11-43-9 19-11 43z"/><path class=r15 d="M2624 2012l11-41-9 19-11 42z"/><path class=r16 d="M3269 1870l12-52-9 19-11 52zm80-11l11-54-9 19-11 54z"/><path class=r17 d="M3190 1872l12-25-9 19-12 25z"/><path class=r18 d="M2635 1971l11-41-9 19-11 41z"/><path class=r20 d="M2533 1974l11-39-8 19-12 39z"/><path class=r21 d="M3281 1818l11-27-9 19-11 27zm79-13l11-54-8 19-12 54z"/><path class=r23 d="M2544 1935l12-40-9 19-11 40z"/><path class=r26 d="M3371 1751l12-28-9 19-11 28z"/><path class=r17 d="M2922 1939l11-46-9 20-11 46zm90-12l12-48-9 20-11 47z"/><path class=r18 d="M3103 1901l11-49-8 19-12 50z"/><path class=r19 d="M2831 1940l11-45-8 20-12 44z"/><path class=r20 d="M3194 1863l11-51-9 20-11 50z"/><path class=r21 d="M2933 1893l11-46-8 20-12 46zm91-14l11-48-9 20-11 48zm249-42l11-25-8 19-12 26z"/><path class=r22 d="M2740 1927l12-43-9 20-11 42zm374-75l12-50-9 20-11 49z"/><path class=r23 d="M2842 1895l12-45-9 20-11 45zm442-83l12-53-9 20-11 52z"/><path class=r24 d="M3205 1812l11-51-8 20-12 51z"/><path class=r25 d="M3364 1775l11-27-9 19-11 28z"/><path class=r26 d="M2650 1901l11-41-9 20-11 41zm102-17l11-43-9 20-11 43z"/><path class=r27 d="M3296 1759l11-52-9 19-11 53zm79-11l11-54-8 19-12 54z"/><path class=r30 d="M2661 1860l11-41-8 19-12 42z"/><path class=r31 d="M2559 1863l11-40-8 20-12 40z"/><path class=r32 d="M3307 1707l11-27-8 20-12 26zm79-13l12-54-9 19-11 54z"/><path class=r35 d="M2570 1823l12-39-9 19-11 40z"/><path class=r37 d="M3398 1640l11-28-9 19-11 28z"/><path class=r14 d="M2919 1976l11-19-8-18-12 20zm91-11l11-21-9-17-11 21zm90-24l12-22-9-18-11 23z"/><path class=r16 d="M2828 1975l12-18-9-17-11 17zm80-17l11 18-9-17-11-18zm22-1l12-46-9-18-11 46zm68-8l12 16-9-17-11-17zm23-5l11-47-8-18-12 48zm68-18l11 15-8-17-12-15zm23-7l11-50-9-17-11 49zm79-15l11-24-8-17-12 24z"/><path class=r18 d="M2817 1955l11 20-8-18-12-19zm23 2l11-44-9-18-11 45zm340-66l11 13-9-17-11-13zm22-11l12-51-9-17-11 51z"/><path class=r19 d="M2738 1961l11-17-9-17-11 16zm544-106l11-26-9-17-11 25z"/><path class=r20 d="M2749 1944l11-42-8-18-12 43zm193-33l11-46-9-18-11 46zm90-14l12-48-9-18-11 48zm238-54l12 12-9-18-11-11z"/><path class=r21 d="M2726 1939l12 22-9-18-11-21zm397-70l11-49-8-18-12 50zm170-40l11-52-8-18-12 53z"/><path class=r22 d="M2851 1913l11-45-8-18-12 45z"/><path class=r23 d="M2647 1933l11-14-8-18-12 15zm567-104l11-51-9-17-11 51zm158-36l12-28-9-17-11 27z"/><path class=r24 d="M2658 1919l12-41-9-18-11 41zm102-17l12-44-9-17-11 43zm193-37l11-20-8-18-12 20zm91-16l11-22-9-17-11 21zm317-67l11 11-8-18-12-10z"/><path class=r25 d="M3134 1820l12-23-9-18-11 23z"/><path class=r26 d="M2862 1868l12-18-9-18-11 18zm102-23l12 17-9-18-11-17zm91-18l11 16-8-18-12-15zm249-50l12-53-9-17-11 52zm80-12l11-54-9-17-11 54z"/><path class=r27 d="M2874 1850l11 18-9-17-11-19zm272-53l11 14-9-18-11-14zm79-19l11-24-8-18-12 25z"/><path class=r28 d="M2670 1878l11-42-9-17-11 41zm102-20l11-16-9-18-11 17z"/><path class=r29 d="M2556 1894l12-13-9-18-11 13zm227-52l11 20-8-17-12-21zm453-88l12 12-9-17-11-13z"/><path class=r30 d="M2568 1881l11-40-9-18-11 40zm884-172l11 9-9-18-11-8z"/><path class=r31 d="M3316 1724l11-26-9-18-11 27zm79-13l11-54-8-17-12 54z"/><path class=r32 d="M2681 1836l11-15-8-18-12 16z"/><path class=r33 d="M2579 1841l11-40-8-17-12 39zm113-20l12 22-9-18-11-22zm635-123l11 11-8-18-12-11z"/><path class=r35 d="M3406 1657l12-28-9-17-11 28z"/><path class=r37 d="M2590 1801l12-13-9-18-11 14z"/><path class=r38 d="M3418 1629l11 9-9-17-11-9z"/><path class=r10 d="M3018 2009l12-21-9-44-11 21z"/><path class=r11 d="M2928 2020l11-19-9-44-11 19zm181-35l11-23-8-43-12 22z"/><path class=r12 d="M2837 2019l11-18-8-44-12 18zm79-17l12 18-9-44-11-18zm23-1l11-46-8-44-12 46zm68-9l11 17-8-44-12-16zm23-4l11-48-9-43-11 47zm68-18l11 15-9-44-11-15zm22-8l12-49-9-44-11 50zm80-14l11-24-9-44-11 24z"/><path class=r14 d="M2826 1999l11 20-9-44-11-20zm22 2l12-45-9-43-11 44zm340-66l12 13-9-44-11-13zm23-11l11-51-8-44-12 51z"/><path class=r15 d="M2746 2004l12-16-9-44-11 17zm544-105l12-26-9-44-11 26z"/><path class=r16 d="M2950 1955l12-46-9-44-11 46zm46-6l11 43-9-43-11-44zm45-9l11-47-8-44-12 48zm45-12l12 42-9-44-11-41z"/><path class=r17 d="M2758 1988l11-43-9-43-11 42zm147-31l11 45-8-44-12-45zm227-44l11-49-9-44-11 49zm147-26l11 12-8-44-12-12z"/><path class=r18 d="M2735 1983l11 21-8-43-12-22zm125-27l11-44-9-44-11 45zm317-61l11 40-8-44-12-40zm125-22l11-52-9-44-11 52z"/><path class=r19 d="M2814 1952l12 47-9-44-11-46zm408-79l12-51-9-44-11 51z"/><path class=r20 d="M2656 1977l11-14-9-44-11 14zm113-32l11-43-8-44-12 44zm193-36l11-20-9-44-11 20zm22-3l12 43-9-44-11-43zm68-13l12-22-9-44-11 22zm23-6l11 41-8-43-12-42zm193-39l11 39-9-44-11-38zm113-12l11-27-8-44-12 28z"/><path class=r21 d="M2667 1963l11-42-8-43-12 41zm227-51l11 45-9-44-11-45zm249-48l11-23-8-44-12 23zm227-38l11 10-9-43-11-11z"/><path class=r22 d="M2644 1954l12 23-9-44-11-22zm80-19l11 48-9-44-11-48zm147-23l11-19-8-43-12 18zm102-23l11 17-8-44-12-17zm91-18l11 16-9-44-11-16zm102-16l11 40-9-44-11-40zm147-34l11-53-8-44-12 53zm79-12l12-54-9-44-11 54z"/><path class=r23 d="M2882 1893l12 19-9-44-11-18zm272-52l12 14-9-44-11-14z"/><path class=r24 d="M2678 1921l12-41-9-44-11 42zm102-19l12-17-9-43-11 16zm23 4l11 46-8-43-12-47zm431-84l11-25-9-43-11 24zm22-12l12 38-9-43-11-39zm102-21l12 37-9-44-11-36z"/><path class=r25 d="M2565 1937l11-13-8-43-12 13z"/><path class=r26 d="M2576 1924l12-39-9-44-11 40zm216-39l11 21-9-44-11-20zm453-88l11 13-8-44-12-12zm215-44l12 8-9-43-11-9z"/><path class=r27 d="M2633 1905l11 49-8-43-12-50zm79-18l12 48-9-44-11-48zm612-119l12-26-9-44-11 26zm80-13l11-54-9-44-11 54z"/><path class=r28 d="M2690 1880l11-15-9-44-11 15zm657-128l11 37-8-43-12-37z"/><path class=r29 d="M2588 1885l11-40-9-44-11 40zm113-20l11 22-8-44-12-22zm635-123l11 10-9-43-11-11zm113-24l11 35-8-44-12-35z"/><path class=r32 d="M2622 1855l11 50-9-44-11-50zm793-154l11-28-8-44-12 28z"/><path class=r33 d="M2599 1845l11-14-8-43-12 13zm839-163l11 36-9-44-11-36z"/><path class=r34 d="M2610 1831l12 24-9-44-11-23zm816-158l12 9-9-44-11-9z"/><path class=r6 d="M3027 2053l11-21-8-44-12 21z"/><path class=r7 d="M2936 2064l12-20-9-43-11 19zm182-35l11-23-9-44-11 23z"/><path class=r8 d="M2948 2044l11-46-9-43-11 46zm68-8l11 17-9-44-11-17zm22-4l12-48-9-44-11 48zm68-18l12 15-9-44-11-15z"/><path class=r9 d="M2846 2062l11-18-9-43-11 18zm79-16l11 18-8-44-12-18zm204-40l11-49-8-44-12 49zm79-14l12-24-9-44-11 24z"/><path class=r10 d="M2857 2044l11-44-8-44-12 45zm340-66l11 14-8-44-12-13z"/><path class=r11 d="M2834 2042l12 20-9-43-11-20zm386-74l11-51-9-44-11 51z"/><path class=r12 d="M2755 2048l11-16-8-44-12 16zm204-50l11-46-8-43-12 46zm45-5l12 43-9-44-11-43zm46-9l11-48-9-43-11 47zm45-12l11 42-8-44-12-42zm204-30l11-25-8-44-12 26z"/><path class=r13 d="M2766 2032l12-43-9-44-11 43zm148-31l11 45-9-44-11-45zm226-44l12-50-9-43-11 49zm148-27l11 12-9-43-11-12z"/><path class=r14 d="M2744 2027l11 21-9-44-11-21zm124-27l12-45-9-43-11 44zm318-62l11 40-9-43-11-40zm124-21l12-53-9-43-11 52z"/><path class=r15 d="M2823 1996l11 46-8-43-12-47zm408-79l11-51-8-44-12 51z"/><path class=r16 d="M2665 2021l11-15-9-43-11 14zm328-72l11 44-8-44-12-43zm68-13l11-21-8-44-12 22zm329-56l11-27-9-44-11 27z"/><path class=r17 d="M2676 2006l11-41-9-44-11 42zm102-17l11-43-9-44-11 43zm124-33l12 45-9-44-11-45zm68-4l12-20-9-43-11 20zm114-22l11 42-9-44-11-41zm68-23l11-23-9-43-11 23zm124-15l12 38-9-43-11-39zm102-22l12 10-9-44-11-10z"/><path class=r18 d="M2653 1998l12 23-9-44-12-23zm79-19l12 48-9-44-11-48zm148-24l11-18-9-44-11 19zm102-23l11 17-9-43-11-17zm90-17l12 15-9-43-11-16zm102-17l12 40-9-43-11-40zm148-34l11-52-9-44-11 53zm79-11l11-54-8-44-12 54z"/><path class=r19 d="M2891 1937l11 19-8-44-12-19zm272-53l11 14-8-43-12-14z"/><path class=r20 d="M2789 1946l11-17-8-44-12 17zm23 3l11 47-9-44-11-46zm430-83l12-25-9-44-11 25zm23-13l11 39-8-44-12-38z"/><path class=r21 d="M2574 1981l11-13-9-44-11 13zm113-16l12-41-9-44-12 41zm680-132l11 37-8-44-12-37z"/><path class=r22 d="M2585 1968l12-40-9-43-12 39zm215-39l12 20-9-43-11-21zm454-88l11 12-9-43-11-13zm215-45l11 9-8-44-12-8z"/><path class=r23 d="M2642 1948l11 50-9-44-11-49zm79-18l11 49-8-44-12-48zm612-118l11-27-8-43-12 26zm79-13l12-55-9-43-11 54z"/><path class=r24 d="M2699 1924l11-16-9-43-11 15zm657-128l11 37-9-44-11-37z"/><path class=r25 d="M2710 1908l11 22-9-43-11-22zm634-123l12 11-9-44-11-10z"/><path class=r26 d="M2597 1928l11-39-9-44-11 40zm861-167l11 35-9-43-11-35z"/><path class=r28 d="M2631 1898l11 50-9-43-11-50zm793-154l11-27-9-44-11 28z"/><path class=r29 d="M2608 1889l11-14-9-44-11 14zm838-163l12 35-9-43-11-36z"/><path class=r30 d="M2619 1875l12 23-9-43-12-24zm816-158l11 9-8-44-12-9z"/><path class=r5 d="M2945 2081l12-20-9-17-12 20zm91-12l11-21-9-16-11 21zm91-24l11-22-9-17-11 23z"/><path class=r7 d="M2855 2079l11-18-9-17-11 18zm79-17l11 19-9-17-11-18zm23-1l11-46-9-17-11 46zm68-8l11 16-9-16-11-17zm22-5l12-47-9-17-12 48zm68-18l12 15-9-16-12-15zm23-7l11-49-9-17-11 49zm79-14l12-24-9-17-12 24z"/><path class=r9 d="M2843 2059l12 20-9-17-12-20zm23 2l11-44-9-17-11 44zm340-66l11 14-9-17-11-14zm23-10l11-51-9-17-11 51z"/><path class=r10 d="M2764 2065l11-16-9-17-11 16zm544-106l11-26-9-16-11 25z"/><path class=r11 d="M2968 2015l11-46-9-17-11 46zm91-14l11-48-9-17-11 48z"/><path class=r12 d="M2753 2043l11 22-9-17-11-21zm22 6l12-43-9-17-12 43zm374-75l12-50-9-17-12 50zm148-27l11 12-9-17-11-12zm22-14l12-52-9-17-12 53z"/><path class=r13 d="M2877 2017l12-45-9-17-12 45z"/><path class=r14 d="M2673 2038l12-15-9-17-11 15zm567-104l11-51-9-17-11 51zm158-37l12-27-9-17-11 27z"/><path class=r15 d="M2787 2006l11-43-9-17-11 43zm192-37l12-20-9-17-12 20zm91-16l11-22-9-16-11 21z"/><path class=r16 d="M2685 2023l11-41-9-17-11 41zm476-99l11-23-9-17-11 23zm226-37l11 10-8-17-12-10z"/><path class=r17 d="M2889 1972l11-18-9-17-11 18zm102-23l11 17-9-17-11-17zm90-18l12 16-9-17-12-15zm250-50l11-53-9-16-11 52zm79-11l11-54-9-17-11 54z"/><path class=r18 d="M2900 1954l11 19-9-17-11-19zm272-53l11 14-9-17-11-14zm79-18l12-25-9-17-12 25z"/><path class=r19 d="M2696 1982l11-41-8-17-12 41zm102-19l11-17-9-17-11 17z"/><path class=r20 d="M2583 1998l11-13-9-17-11 13z"/><path class=r21 d="M2594 1985l11-40-8-17-12 40zm215-39l12 20-9-17-12-20zm454-88l11 12-9-17-11-12zm215-45l11 9-9-17-11-9z"/><path class=r22 d="M3342 1828l11-26-9-17-11 27zm79-12l11-55-8-17-12 55z"/><path class=r23 d="M2707 1941l12-16-9-17-11 16z"/><path class=r24 d="M2605 1945l12-40-9-16-11 39zm114-20l11 22-9-17-11-22zm634-123l12 11-9-17-12-11z"/><path class=r26 d="M3432 1761l12-28-9-16-11 27z"/><path class=r28 d="M2617 1905l11-13-9-17-11 14z"/><path class=r29 d="M3444 1733l11 10-9-17-11-9z"/><path class=r9 d="M2965 2041l12-46-9 20-11 46zm91-13l11-48-8 21-12 47z"/><path class=r10 d="M3147 2002l11-49-9 21-11 49z"/><path class=r11 d="M2875 2041l11-45-9 21-11 44z"/><path class=r12 d="M3237 1964l12-51-9 21-11 51z"/><path class=r13 d="M2977 1995l11-47-9 21-11 46zm90-15l12-48-9 21-11 48z"/><path class=r14 d="M2784 2028l11-43-8 21-12 43zm374-75l11-49-8 20-12 50z"/><path class=r15 d="M2886 1996l11-44-8 20-12 45zm442-83l11-53-8 21-12 52z"/><path class=r16 d="M3249 1913l11-51-9 21-11 51z"/><path class=r17 d="M3407 1876l12-27-9 21-12 27z"/><path class=r18 d="M2693 2003l12-42-9 21-11 41zm102-18l12-43-9 21-11 43z"/><path class=r19 d="M3339 1860l12-52-9 20-11 53zm80-11l11-54-9 21-11 54z"/><path class=r21 d="M2705 1961l11-41-9 21-11 41z"/><path class=r23 d="M2603 1964l11-39-9 20-11 40z"/><path class=r24 d="M3430 1795l11-54-9 20-11 55z"/><path class=r26 d="M2614 1925l11-40-8 20-12 40z"/><path class=r29 d="M3441 1741l12-28-9 20-12 28z"/><path class=r20 d="M3082 1912l11-48-8 22-12 47z"/><path class=r21 d="M2991 1925l12-46-9 21-11 46zm182-39l11-49-9 21-11 50z"/><path class=r23 d="M2901 1925l11-45-9 22-11 44zm362-77l12-51-9 21-11 51z"/><path class=r25 d="M2810 1912l11-43-8 21-12 43zm193-33l11-47-9 22-11 46zm90-15l12-48-9 22-11 48z"/><path class=r26 d="M3184 1837l11-49-8 21-12 49zm170-40l11-52-8 21-12 52z"/><path class=r27 d="M2912 1880l11-44-8 21-12 45z"/><path class=r28 d="M3275 1797l11-51-9 21-11 51z"/><path class=r29 d="M2719 1887l12-42-9 22-11 41zm102-18l12-43-9 21-11 43z"/><path class=r31 d="M3365 1745l12-53-9 21-11 53zm80-12l11-54-9 21-11 54z"/><path class=r33 d="M2731 1845l11-41-9 21-11 42z"/><path class=r35 d="M2629 1848l11-39-9 21-11 40zm827-169l11-54-8 21-12 54z"/><path class=r38 d="M2640 1809l11-40-8 21-12 40z"/><path class=r40 d="M3467 1625l12-28-9 21-11 28z"/><path class=r18 d="M2989 1960l11-19-9-16-11 19zm90-11l12-21-9-16-11 21zm91-24l11-23-8-16-12 23z"/><path class=r19 d="M3068 1932l11 17-8-16-12-17zm23-4l11-48-9-16-11 48z"/><path class=r20 d="M2898 1959l11-18-8-16-12 18zm79-17l12 18-9-16-11-18zm23-1l11-46-8-16-12 46zm159-31l11 15-9-16-11-15zm22-8l12-49-9-16-11 49zm80-14l11-24-9-16-11 24z"/><path class=r21 d="M2909 1941l12-45-9-16-11 45zm340-66l12 13-9-16-11-13z"/><path class=r22 d="M2887 1939l11 20-9-16-11-20zm385-75l11-51-8-16-12 51z"/><path class=r23 d="M2807 1944l12-16-9-16-11 16zm544-105l12-26-9-16-11 26z"/><path class=r24 d="M2819 1928l11-43-9-16-11 43zm192-33l12-47-9-16-11 47zm91-15l11-48-8-16-12 48zm91-27l11-49-9-16-11 49zm147-26l11 12-8-16-12-12z"/><path class=r25 d="M2921 1896l11-44-9-16-11 44zm442-83l11-53-9-15-11 52z"/><path class=r26 d="M3283 1813l12-51-9-16-11 51z"/><path class=r27 d="M2717 1917l11-14-9-16-11 14zm725-141l11-27-8-16-12 27z"/><path class=r28 d="M2728 1903l11-42-8-16-12 42zm102-18l11-43-8-16-12 43zm193-37l11-20-9-15-11 19zm90-16l12-21-9-16-11 21zm318-66l11 10-9-16-11-10z"/><path class=r29 d="M2932 1852l11-19-8-16-12 19zm272-48l11-24-8-15-12 23zm249-55l12-54-9-16-11 54z"/><path class=r30 d="M3034 1828l11 18-8-16-12-17zm91-17l11 15-9-16-11-15zm249-51l11-52-8-16-12 53z"/><path class=r31 d="M2943 1833l12 19-9-16-11-19zm272-53l12 14-9-15-11-14zm80-18l11-25-9-16-11 25z"/><path class=r32 d="M2626 1877l11-13-8-16-12 13zm113-16l12-41-9-16-11 41zm102-19l12-17-9-16-11 17z"/><path class=r33 d="M2637 1864l12-39-9-16-11 39zm216-39l11 21-9-16-11-21zm453-88l11 13-8-16-12-13zm215-44l12 8-9-16-11-8z"/><path class=r34 d="M3385 1708l12-27-9-15-11 26zm80-13l11-54-9-16-11 54z"/><path class=r36 d="M2751 1820l11-15-9-16-11 15z"/><path class=r37 d="M2649 1825l11-40-9-16-11 40zm748-144l11 11-9-16-11-10z"/><path class=r39 d="M3476 1641l11-28-8-16-12 28z"/><path class=r40 d="M2660 1785l11-14-8-16-12 14z"/><path class=r42 d="M3487 1613l12 9-9-16-11-9z"/><path class=r14 d="M2997 2002l12-19-9-42-11 19zm91-11l11-21-8-42-12 21zm91-24l11-23-9-42-11 23z"/><path class=r16 d="M2907 2001l11-18-9-42-11 18zm79-17l11 18-8-42-12-18zm23-1l11-46-9-42-11 46zm68-9l11 17-9-42-11-17zm22-4l12-48-9-42-11 48zm68-18l12 15-9-42-11-15zm23-8l11-49-8-42-12 49zm79-14l12-24-9-42-11 24z"/><path class=r18 d="M2895 1981l12 20-9-42-11-20zm23 2l11-45-8-42-12 45zm340-66l11 13-8-42-12-13zm23-11l11-51-9-42-11 51z"/><path class=r19 d="M2816 1986l12-16-9-42-12 16zm544-105l11-26-8-42-12 26z"/><path class=r20 d="M3020 1937l11-46-8-43-12 47zm45-6l12 43-9-42-11-43zm46-9l11-47-9-43-11 48zm45-12l11 42-8-42-12-42z"/><path class=r21 d="M2805 1965l11 21-9-42-11-21zm23 5l11-43-9-42-11 43zm147-31l11 45-9-42-11-45zm226-44l12-49-9-42-11 49zm148-26l11 12-9-42-11-12zm22-14l12-52-9-43-11 53z"/><path class=r22 d="M2929 1938l12-44-9-42-11 44zm318-61l11 40-9-42-11-40z"/><path class=r23 d="M2726 1959l11-14-9-42-11 14zm158-24l11 46-8-42-12-47zm408-80l11-51-8-42-12 51zm159-36l11-28-9-42-11 27z"/><path class=r24 d="M2839 1927l11-43-9-42-11 43zm192-36l12-20-9-43-11 20zm23-3l11 43-8-42-12-43zm68-13l11-22-8-42-12 21zm23-6l11 41-9-42-11-42zm192-38l12 38-9-42-11-39z"/><path class=r25 d="M2737 1945l11-41-9-43-11 42zm226-51l12 45-9-42-11-45zm250-48l11-23-9-43-11 24zm226-38l12 11-9-43-11-10z"/><path class=r26 d="M2714 1936l12 23-9-42-12-23zm80-19l11 48-9-42-11-48zm147-23l11-19-9-42-11 19zm102-23l11 17-9-42-11-18zm90-18l12 16-9-43-11-15zm102-16l12 40-9-42-11-41zm148-34l11-53-9-42-11 52zm79-12l11-54-8-42-12 54z"/><path class=r27 d="M2873 1888l11 47-9-43-11-46zm79-13l11 19-8-42-12-19zm272-52l11 14-8-43-12-14zm79-19l12-24-9-43-11 25z"/><path class=r28 d="M2748 1904l12-42-9-42-12 41zm102-20l12-16-9-43-12 17zm476-92l11 39-8-43-12-38zm102-20l11 36-8-42-12-37z"/><path class=r29 d="M2635 1920l11-13-9-43-11 13z"/><path class=r30 d="M2646 1907l12-40-9-42-12 39zm216-39l11 20-9-42-11-21zm453-88l11 12-9-42-11-13zm215-45l11 9-8-43-12-8z"/><path class=r31 d="M2703 1887l11 49-9-42-11-49zm79-18l12 48-9-42-12-48zm612-119l11-26-8-43-12 27zm79-13l12-54-9-42-11 54z"/><path class=r32 d="M2760 1862l11-15-9-42-11 15zm657-128l11 38-9-43-11-37z"/><path class=r33 d="M2658 1867l11-40-9-42-11 40zm113-20l11 22-9-42-11-22zm634-123l12 10-9-42-11-11zm114-24l11 35-9-42-11-35z"/><path class=r35 d="M2692 1837l11 50-9-42-11-50zm793-154l11-28-9-42-11 28z"/><path class=r37 d="M2669 1827l11-14-9-42-11 14zm838-163l12 36-9-42-11-36z"/><path class=r38 d="M2680 1813l12 24-9-42-12-24zm816-158l11 9-8-42-12-9z"/><path class=r10 d="M3097 2033l11-21-9-42-11 21z"/><path class=r11 d="M3006 2044l12-19-9-42-12 19zm182-35l11-23-9-42-11 23z"/><path class=r12 d="M3018 2025l11-46-9-42-11 46zm68-9l11 17-9-42-11-17zm22-4l12-48-9-42-12 48zm68-18l12 15-9-42-12-15z"/><path class=r13 d="M2916 2043l11-18-9-42-11 18zm79-17l11 18-9-42-11-18zm204-40l11-49-9-42-11 49zm79-14l12-24-9-42-12 24z"/><path class=r14 d="M2927 2025l11-45-9-42-11 45zm340-66l11 13-9-42-11-13z"/><path class=r15 d="M2904 2023l12 20-9-42-12-20zm386-75l11-51-9-42-11 51z"/><path class=r16 d="M2825 2028l11-16-8-42-12 16zm204-49l11-46-9-42-11 46zm45-6l12 43-9-42-12-43zm46-9l11-47-9-42-11 47zm45-12l11 42-9-42-11-42zm204-29l11-26-9-42-11 26z"/><path class=r17 d="M2836 2012l12-43-9-42-11 43zm148-31l11 45-9-42-11-45zm226-44l12-49-9-42-12 49zm148-26l11 12-9-42-11-12z"/><path class=r18 d="M2814 2007l11 21-9-42-11-21zm124-27l12-44-9-42-12 44zm318-61l11 40-9-42-11-40zm124-22l12-52-9-42-12 52z"/><path class=r19 d="M2893 1977l11 46-9-42-11-46zm408-80l11-51-9-42-11 51z"/><path class=r20 d="M2734 2001l12-14-9-42-11 14zm329-71l11 43-9-42-11-43zm68-13l11-22-9-42-11 22zm329-56l11-28-9-42-11 28z"/><path class=r21 d="M2746 1987l11-42-9-41-11 41zm102-18l11-43-9-42-11 43zm192-36l12-20-9-42-12 20zm114-22l11 41-9-42-11-41zm192-38l12 38-9-42-12-38zm102-23l12 11-9-42-12-11z"/><path class=r22 d="M2723 1978l11 23-8-42-12-23zm79-19l12 48-9-42-11-48zm148-23l11-19-9-42-11 19zm22 0l12 45-9-42-12-45zm80-23l11 17-9-42-11-17zm90-18l12 16-9-42-12-16zm80-7l11-23-9-42-11 23zm22-9l12 40-9-42-12-40zm148-34l11-53-9-42-11 53zm79-12l11-54-9-42-11 54z"/><path class=r23 d="M2961 1917l11 19-9-42-11-19zm272-52l11 14-9-42-11-14z"/><path class=r24 d="M2859 1926l11-16-8-42-12 16zm23 4l11 47-9-42-11-47zm430-84l12-24-9-42-12 24zm23-12l11 39-9-42-11-39z"/><path class=r25 d="M2644 1962l11-14-9-41-11 13zm113-17l11-41-8-42-12 42zm680-132l11 37-9-42-11-36z"/><path class=r26 d="M2655 1948l11-39-8-42-12 40zm215-38l12 20-9-42-11-20zm454-88l11 12-9-42-11-12zm215-45l11 9-9-42-11-9z"/><path class=r27 d="M2712 1929l11 49-9-42-11-49zm79-18l11 48-8-42-12-48zm612-119l11-26-9-42-11 26zm79-13l12-54-9-42-12 54z"/><path class=r28 d="M2768 1904l12-15-9-42-11 15zm658-128l11 37-9-41-11-38z"/><path class=r29 d="M2780 1889l11 22-9-42-11-22zm634-123l12 10-9-42-12-10z"/><path class=r30 d="M2666 1909l12-40-9-42-11 40zm862-167l11 35-9-42-11-35z"/><path class=r32 d="M2700 1879l12 50-9-42-11-50zm794-154l11-28-9-42-11 28z"/><path class=r33 d="M2678 1869l11-14-9-42-11 14zm838-163l12 36-9-42-12-36z"/><path class=r34 d="M2689 1855l11 24-8-42-12-24zm816-158l11 9-9-42-11-9z"/><path class=r9 d="M3106 2048l11-21-9-15-11 21z"/><path class=r10 d="M3015 2060l11-20-8-15-12 19zm181-36l12-22-9-16-11 23z"/><path class=r11 d="M2924 2058l12-18-9-15-11 18zm102-18l12-46-9-15-11 46zm68-8l12 16-9-15-11-17zm23-5l11-47-8-16-12 48zm68-18l11 15-8-15-12-15zm102-21l11-25-8-15-12 24z"/><path class=r12 d="M3004 2041l11 19-9-16-11-18zm204-39l11-49-9-16-11 49z"/><path class=r13 d="M2913 2038l11 20-8-15-12-20zm23 2l11-44-9-16-11 45zm340-66l11 14-9-16-11-13zm22-11l12-50-9-16-11 51z"/><path class=r14 d="M2834 2044l11-16-9-16-11 16zm544-106l11-26-9-15-11 26z"/><path class=r15 d="M3038 1994l11-46-9-15-11 46zm90-14l12-48-9-15-11 47z"/><path class=r16 d="M2845 2028l11-43-8-16-12 43zm374-75l11-50-8-15-12 49zm147-27l12 12-9-15-11-12z"/><path class=r17 d="M2947 1996l11-45-8-15-12 44zm442-84l11-52-8-15-12 52z"/><path class=r18 d="M3310 1913l11-51-9-16-11 51z"/><path class=r19 d="M2743 2017l11-15-8-15-12 14zm306-69l11-20-8-15-12 20zm91-16l11-22-9-15-11 22zm328-56l12-27-9-16-11 28z"/><path class=r20 d="M2754 2002l12-41-9-16-11 42zm102-17l12-43-9-16-11 43zm374-82l12-23-9-15-11 23zm227-37l11 10-8-15-12-11z"/><path class=r21 d="M2958 1951l12-18-9-16-11 19zm102-23l12 17-9-15-11-17zm91-18l11 16-8-15-12-16zm249-50l12-53-9-15-11 53zm80-11l11-54-9-16-11 54z"/><path class=r22 d="M2970 1933l11 19-9-16-11-19zm272-53l11 14-9-15-11-14z"/><path class=r23 d="M2766 1961l11-42-9-15-11 41zm102-19l11-17-9-15-11 16zm453-80l11-25-8-15-12 24z"/><path class=r24 d="M2652 1977l12-13-9-16-11 14z"/><path class=r25 d="M2664 1964l11-40-9-15-11 39zm668-127l12 12-9-15-11-12zm216-45l11 9-9-15-11-9z"/><path class=r26 d="M3412 1807l11-26-9-15-11 26zm79-12l11-55-8-15-12 54z"/><path class=r27 d="M2777 1919l11-15-8-15-12 15z"/><path class=r28 d="M2675 1924l11-40-8-15-12 40zm748-143l11 11-8-16-12-10z"/><path class=r31 d="M3502 1740l12-28-9-15-11 28z"/><path class=r32 d="M2686 1884l12-13-9-16-11 14z"/><path class=r33 d="M3514 1712l11 10-9-16-11-9z"/><path class=r13 d="M3126 2005l11-47-9 22-11 47z"/><path class=r14 d="M3035 2018l11-46-8 22-12 46zm181-38l12-50-9 23-11 49z"/><path class=r15 d="M2944 2018l12-44-9 22-11 44z"/><path class=r16 d="M3307 1941l11-51-8 23-12 50z"/><path class=r17 d="M3137 1958l11-48-8 22-12 48z"/><path class=r18 d="M2854 2005l11-43-9 23-11 43zm192-33l12-46-9 22-11 46zm182-42l11-49-9 22-11 50z"/><path class=r19 d="M2956 1974l11-45-9 22-11 45zm442-84l11-52-9 22-11 52z"/><path class=r20 d="M3318 1890l12-51-9 23-11 51z"/><path class=r22 d="M2763 1980l11-41-8 22-12 41zm102-18l11-43-8 23-12 43z"/><path class=r23 d="M3488 1826l12-54-9 23-11 54z"/><path class=r24 d="M3409 1838l11-53-8 22-12 53z"/><path class=r26 d="M2774 1939l12-42-9 22-11 42z"/><path class=r27 d="M2672 1942l12-40-9 22-11 40z"/><path class=r28 d="M3500 1772l11-54-9 22-11 55z"/><path class=r31 d="M2684 1902l11-40-9 22-11 40z"/><path class=r25 d="M3152 1884l11-47-9 23-11 47z"/><path class=r26 d="M3061 1897l11-46-8 23-12 46zm181-38l12-49-9 22-11 50z"/><path class=r27 d="M2970 1897l12-44-9 23-11 44z"/><path class=r28 d="M3333 1821l11-51-8 23-12 50z"/><path class=r30 d="M2880 1885l11-43-9 23-11 42zm192-34l12-46-9 23-11 46zm91-14l11-48-8 23-12 48zm91-27l11-50-9 23-11 49z"/><path class=r31 d="M2982 1853l11-45-9 23-11 45zm442-84l11-52-9 23-11 52z"/><path class=r32 d="M3344 1770l12-51-9 23-11 51z"/><path class=r34 d="M2789 1859l11-41-8 23-12 41zm102-17l11-43-8 23-12 43z"/><path class=r35 d="M3514 1706l12-54-9 22-11 54z"/><path class=r36 d="M3435 1717l11-53-8 23-12 53z"/><path class=r38 d="M2800 1818l12-42-9 23-11 42z"/><path class=r39 d="M2698 1821l12-40-9 23-11 40z"/><path class=r40 d="M3526 1652l11-55-9 23-11 54z"/><path class=r43 d="M2710 1781l11-40-9 23-11 40z"/><path class=r22 d="M3149 1920l11-21-8-15-12 21z"/><path class=r23 d="M3058 1931l12-19-9-15-11 20zm182-35l11-23-9-14-11 22z"/><path class=r24 d="M3138 1903l11 17-9-15-11-16zm22-4l12-48-9-14-11 47z"/><path class=r25 d="M2968 1929l11-17-9-15-11 18zm79-16l11 18-8-14-12-19zm23-1l11-46-9-15-11 46zm158-31l12 15-9-15-11-15zm23-8l11-49-8-14-12 49zm79-14l12-24-9-14-11 24z"/><path class=r26 d="M2979 1912l11-45-8-14-12 44zm340-66l11 13-8-14-12-14z"/><path class=r27 d="M3342 1835l11-51-9-14-11 51z"/><path class=r28 d="M2877 1915l12-16-9-14-12 16zm295-64l11-48-9-14-11 48zm249-41l11-26-8-15-12 26z"/><path class=r29 d="M2889 1899l11-43-9-14-11 43zm192-33l11-47-8-14-12 46zm181-42l12-49-9-15-11 50zm148-26l11 12-9-15-11-12z"/><path class=r30 d="M2990 1867l12-44-9-15-11 45zm442-83l12-53-9-14-11 52z"/><path class=r31 d="M3353 1784l11-51-8-14-12 51z"/><path class=r32 d="M2787 1888l11-15-9-14-11 15zm725-141l11-27-9-14-11 27z"/><path class=r33 d="M2798 1873l11-41-9-14-11 41zm102-17l11-43-9-14-11 43zm192-37l12-20-9-14-11 20zm91-16l11-21-8-15-12 22zm317-66l12 10-9-14-11-10z"/><path class=r34 d="M3002 1823l11-19-9-14-11 18zm272-48l11-24-9-14-11 23zm249-55l11-54-8-14-12 54z"/><path class=r35 d="M3104 1799l11 18-9-15-11-17zm90-17l12 15-9-14-11-16zm250-51l11-52-9-15-11 53z"/><path class=r36 d="M3285 1751l11 14-8-14-12-14zm79-18l12-25-9-14-11 25z"/><path class=r37 d="M2696 1848l11-13-9-14-11 13zm113-16l12-41-9-15-12 42zm102-19l12-17-9-14-12 17z"/><path class=r38 d="M2707 1835l12-39-9-15-12 40zm669-127l11 13-9-15-11-12zm215-44l11 8-8-14-12-9z"/><path class=r39 d="M3455 1679l11-27-8-14-12 26zm79-13l12-54-9-15-11 55z"/><path class=r40 d="M2821 1791l11-15-9-15-11 15z"/><path class=r42 d="M2719 1796l11-40-9-15-11 40zm747-144l12 11-9-14-11-11z"/><path class=r44 d="M3546 1612l11-28-9-15-11 28z"/><path class=r45 d="M2730 1756l11-14-9-14-11 13z"/><path class=r46 d="M3557 1584l11 9-8-14-12-10z"/><path class=r19 d="M3158 1960l11-21-9-40-11 21z"/><path class=r20 d="M3067 1972l12-20-9-40-12 19zm182-36l11-22-9-41-11 23z"/><path class=r21 d="M2977 1970l11-18-9-40-11 17zm79-17l11 19-9-41-11-18zm23-1l11-46-9-40-11 46zm68-8l11 16-9-40-11-17zm22-5l12-47-9-41-12 48zm68-18l12 15-9-40-12-15zm23-7l11-49-9-41-11 49zm79-14l12-25-9-40-12 24z"/><path class=r23 d="M2965 1950l12 20-9-41-11-19zm23 2l11-44-9-41-11 45zm340-66l11 14-9-41-11-13zm23-11l11-50-9-41-11 51z"/><path class=r24 d="M2886 1956l11-16-8-41-12 16zm544-106l11-26-9-40-11 26z"/><path class=r25 d="M3090 1906l11-46-9-41-11 47zm45-5l12 43-9-41-12-43zm46-9l11-48-9-41-11 48zm45-12l11 41-9-40-11-42z"/><path class=r26 d="M2875 1934l11 22-9-41-11-21zm22 6l12-43-9-41-11 43zm148-31l11 44-9-40-11-45zm226-44l12-50-9-40-12 49zm148-27l11 12-9-40-11-12zm22-14l12-52-9-41-12 53z"/><path class=r27 d="M2999 1908l12-45-9-40-12 44zm318-62l11 40-9-40-11-40z"/><path class=r28 d="M2795 1929l12-15-9-41-11 15zm159-25l11 46-8-40-12-47zm408-79l11-51-9-41-11 51zm159-37l11-27-9-41-11 27z"/><path class=r29 d="M2909 1897l11-43-9-41-11 43zm192-37l12-20-9-41-12 20zm23-3l11 44-9-41-11-43zm68-13l11-22-9-40-11 21zm23-6l11 42-9-41-11-42zm192-38l12 38-9-40-12-39z"/><path class=r30 d="M2807 1914l11-41-9-41-11 41zm226-50l12 45-9-41-12-45zm250-49l11-23-9-41-11 24zm226-37l12 10-9-41-12-10z"/><path class=r31 d="M2784 1906l11 23-8-41-12-23zm79-20l12 48-9-40-11-48zm148-23l11-18-9-41-11 19zm102-23l11 17-9-40-11-18zm90-18l12 16-9-41-12-15zm102-16l12 40-9-40-12-41zm148-34l11-53-9-40-11 52zm79-11l11-54-9-41-11 54z"/><path class=r32 d="M2943 1857l11 47-9-41-11-46zm79-12l11 19-9-41-11-19zm272-53l11 14-9-41-11-14zm79-18l12-25-9-41-12 25z"/><path class=r33 d="M2818 1873l11-42-8-40-12 41zm102-19l11-17-8-41-12 17zm476-93l11 39-9-41-11-38zm102-20l11 37-9-41-11-37z"/><path class=r34 d="M2705 1889l11-13-9-41-11 13z"/><path class=r35 d="M2716 1876l11-40-8-40-12 39zm215-39l12 20-9-40-11-21zm454-88l11 12-9-40-11-13zm215-45l11 9-9-41-11-8z"/><path class=r36 d="M2773 1856l11 50-9-41-11-49zm79-18l11 48-8-40-12-48zm612-119l11-26-9-41-11 27zm79-12l12-55-9-40-12 54z"/><path class=r37 d="M2829 1831l12-15-9-40-11 15zm658-127l11 37-9-41-11-37z"/><path class=r38 d="M2727 1836l12-40-9-40-11 40zm114-20l11 22-9-40-11-22zm634-123l12 11-9-41-12-11zm114-24l11 35-9-40-11-36z"/><path class=r41 d="M2761 1806l12 50-9-40-11-50zm794-154l11-28-9-40-11 28z"/><path class=r42 d="M2739 1796l11-13-9-41-11 14zm838-162l12 35-9-41-12-35z"/><path class=r43 d="M2750 1783l11 23-8-40-12-24zm816-159l11 10-9-41-11-9z"/><path class=r15 d="M3167 2001l11-21-9-41-11 21z"/><path class=r16 d="M3076 2012l11-19-8-41-12 20zm181-35l12-23-9-40-11 22z"/><path class=r17 d="M3155 1984l12 17-9-41-11-16zm23-4l11-48-8-40-12 47z"/><path class=r18 d="M2985 2010l12-17-9-41-11 18zm80-16l11 18-9-40-11-19zm22-1l12-46-9-41-11 46zm159-31l11 15-8-41-12-15zm23-8l11-49-9-40-11 49zm79-14l11-24-8-41-12 25z"/><path class=r19 d="M2997 1993l11-45-9-40-11 44zm340-66l11 13-9-40-11-14z"/><path class=r20 d="M2974 1991l11 19-8-40-12-20zm385-75l12-51-9-40-11 50z"/><path class=r21 d="M2895 1996l11-16-9-40-11 16zm249-55l11 43-8-40-12-43zm45-9l12-48-9-40-11 48zm250-41l11-26-9-41-11 26z"/><path class=r22 d="M2906 1980l11-43-8-40-12 43zm147-31l12 45-9-41-11-44zm46-2l11-47-9-40-11 46zm136-27l11 42-9-41-11-41zm45-15l11-49-8-41-12 50zm147-26l12 12-9-41-11-12z"/><path class=r23 d="M2883 1975l12 21-9-40-11-22zm125-27l11-44-8-41-12 45zm317-61l12 40-9-41-11-40zm125-22l11-53-8-40-12 52z"/><path class=r24 d="M2963 1944l11 47-9-41-11-46zm408-79l11-51-9-40-11 51z"/><path class=r25 d="M2804 1969l11-15-8-40-12 15zm725-141l12-27-9-40-11 27z"/><path class=r26 d="M2815 1954l12-41-9-40-11 41zm102-17l12-43-9-40-11 43zm193-37l11-20-8-40-12 20zm23-2l11 43-9-40-11-44zm68-14l11-21-9-41-11 22zm22-6l12 42-9-40-11-42zm193-38l11 39-8-41-12-38zm102-22l11 10-8-40-12-10z"/><path class=r27 d="M2793 1946l11 23-9-40-11-23zm226-42l12-19-9-40-11 18zm23 0l11 45-8-40-12-45zm79-24l12 18-9-41-11-17zm91-17l11 15-8-40-12-16zm79-7l12-24-9-40-11 23zm23-10l11 41-8-41-12-40zm227-45l11-54-9-40-11 54z"/><path class=r28 d="M2872 1927l11 48-8-41-12-48zm589-115l12-52-9-41-11 53z"/><path class=r29 d="M2951 1898l12 46-9-40-11-47zm80-13l11 19-9-40-11-19zm272-53l11 14-9-40-11-14zm79-18l11-25-8-40-12 25z"/><path class=r30 d="M2713 1929l12-13-9-40-11 13zm114-16l11-41-9-41-11 42zm102-19l11-17-9-40-11 17zm476-92l11 38-9-40-11-39zm102-21l11 37-9-40-11-37z"/><path class=r31 d="M2725 1916l11-39-9-41-11 40zm215-39l11 21-8-41-12-20zm453-88l12 13-9-41-11-12zm216-44l11 8-9-40-11-9z"/><path class=r32 d="M2781 1897l12 49-9-40-11-50zm80-18l11 48-9-41-11-48zm612-119l11-27-9-40-11 26zm79-13l11-54-8-41-12 55z"/><path class=r33 d="M2838 1872l11-15-8-41-12 15zm657-128l12 37-9-40-11-37z"/><path class=r35 d="M2736 1877l11-40-8-41-12 40zm113-20l12 22-9-41-11-22zm635-124l11 11-8-40-12-11zm113-24l12 36-9-41-11-35z"/><path class=r37 d="M2770 1847l11 50-8-41-12-50zm793-154l12-28-9-41-11 28z"/><path class=r38 d="M2747 1837l12-14-9-40-11 13zm839-163l11 35-8-40-12-35z"/><path class=r39 d="M2759 1823l11 24-9-41-11-23zm816-158l11 9-9-40-11-10z"/><path class=r14 d="M3175 2014l12-20-9-14-11 21z"/><path class=r15 d="M3085 2026l11-20-9-13-11 19zm181-35l11-23-8-14-12 23z"/><path class=r16 d="M3164 1998l11 16-8-13-12-17zm23-4l11-48-9-14-11 48z"/><path class=r17 d="M2994 2024l11-18-8-13-12 17zm102-18l11-46-8-13-12 46zm159-30l11 15-9-14-11-15zm22-8l12-49-9-14-11 49zm80-14l11-24-9-14-11 24z"/><path class=r18 d="M3005 2006l12-44-9-14-11 45zm340-66l12 14-9-14-11-13z"/><path class=r19 d="M3368 1930l11-51-8-14-12 51z"/><path class=r20 d="M2903 2010l12-16-9-14-11 16zm295-64l11-48-8-14-12 48zm249-42l12-25-9-14-11 26z"/><path class=r21 d="M2915 1994l11-43-9-14-11 43zm192-34l12-46-9-14-11 47zm182-41l11-50-9-13-11 49zm147-27l11 12-8-13-12-12z"/><path class=r22 d="M3017 1962l11-45-9-13-11 44zm442-83l11-53-9-14-11 53z"/><path class=r23 d="M3379 1879l12-51-9-14-11 51z"/><path class=r24 d="M2813 1983l11-15-9-14-11 15zm725-141l11-27-8-14-12 27z"/><path class=r25 d="M2824 1968l11-41-8-14-12 41zm102-17l11-43-8-14-12 43zm193-37l11-20-9-14-11 20zm90-16l12-21-9-14-11 21zm318-66l11 10-9-14-11-10z"/><path class=r26 d="M3028 1917l11-18-8-14-12 19zm102-23l11 17-8-13-12-18zm91-17l11 15-9-14-11-15zm79-8l11-23-8-14-12 24zm249-54l12-54-9-14-11 54z"/><path class=r27 d="M3470 1826l11-52-8-14-12 52z"/><path class=r28 d="M3311 1846l12 14-9-14-11-14zm80-18l11-25-9-14-11 25z"/><path class=r29 d="M2722 1943l11-13-8-14-12 13zm113-16l12-41-9-14-11 41zm102-19l12-17-9-14-11 17z"/><path class=r30 d="M2733 1930l12-40-9-13-11 39zm669-127l11 12-8-13-12-13zm215-45l12 9-9-14-11-8z"/><path class=r31 d="M3481 1774l12-27-9-14-11 27zm80-13l11-55-9-13-11 54z"/><path class=r32 d="M2847 1886l11-16-9-13-11 15z"/><path class=r34 d="M2745 1890l11-39-9-14-11 40zm748-143l11 11-9-14-11-11z"/><path class=r36 d="M3572 1706l11-27-8-14-12 28z"/><path class=r37 d="M2756 1851l11-14-8-14-12 14z"/><path class=r38 d="M3583 1679l12 9-9-14-11-9z"/></g>
<path d="M1012.4 757.0L1012.4 1013.2L1361.0 1131.0L1814.3 1043.0M1361.0 1131.0L1372.8 1135.0M1587.7 1087.0L1599.5 1091.0M1814.3 1043.0L1826.1 1047.0M1361.0 1131.0L1348.7 1133.4M1186.7 1072.1L1174.4 1074.5M1012.4 1013.2L1000.1 1015.6M1012.4 1013.2L1000.6 1009.2M1012.4 949.4L1000.6 945.4M1012.4 885.6L1000.6 881.6M1012.4 821.8L1000.6 817.8M1012.4 758.0L1000.6 754.0" stroke="#4d4d4d" stroke-width="2.2" fill="none" stroke-linejoin="round"/>
</g>
<g font-family="'Liberation Sans', Arial, Helvetica, sans-serif" fill="#404040" stroke="#404040" stroke-width="0.55">
<text transform="translate(64.0 148.4) scale(0.730 1)" text-anchor="end" font-size="29.0">2.5</text>
<text transform="translate(64.0 199.3) scale(0.730 1)" text-anchor="end" font-size="29.0">2</text>
<text transform="translate(64.0 252.7) scale(0.730 1)" text-anchor="end" font-size="29.0">1.5</text>
<text transform="translate(64.0 304.1) scale(0.730 1)" text-anchor="end" font-size="29.0">1</text>
<text transform="translate(64.0 355.3) scale(0.730 1)" text-anchor="end" font-size="29.0">0.5</text>
<text transform="translate(91.0 450.1) scale(0.730 1)" text-anchor="middle" font-size="29.0">4</text>
<text transform="translate(162.8 477.5) scale(0.730 1)" text-anchor="middle" font-size="29.0">2</text>
<text transform="translate(235.8 505.4) scale(0.730 1)" text-anchor="middle" font-size="29.0">0</text>
<text transform="translate(305.6 531.4) scale(0.730 1)" text-anchor="middle" font-size="29.0">-2</text>
<text transform="translate(375.4 559.1) scale(0.730 1)" text-anchor="middle" font-size="29.0">-4</text>
<text transform="translate(518.9 565.4) scale(0.730 1)" text-anchor="middle" font-size="29.0">-4</text>
<text transform="translate(612.5 546.3) scale(0.730 1)" text-anchor="middle" font-size="29.0">-2</text>
<text transform="translate(702.5 523.8) scale(0.730 1)" text-anchor="middle" font-size="29.0">0</text>
<text transform="translate(796.0 503.3) scale(0.730 1)" text-anchor="middle" font-size="29.0">2</text>
<text transform="translate(889.5 482.1) scale(0.730 1)" text-anchor="middle" font-size="29.0">4</text>
<text transform="translate(277.6 592.2) scale(0.620 1)" text-anchor="middle" font-size="33.0">x</text><text transform="translate(289.9 608.8) scale(0.680 1)" text-anchor="middle" font-size="28.5">2</text>
<text transform="translate(622.2 599.9) scale(0.620 1)" text-anchor="middle" font-size="33.0">x</text><text transform="translate(634.6 615.7) scale(0.680 1)" text-anchor="middle" font-size="28.5">1</text>
<text transform="translate(11.0 253.2) rotate(-90) scale(1 0.645) translate(0 11.48)" text-anchor="middle" font-size="34.8">F1( x)</text>
<text transform="translate(33.8 50.2) scale(0.800 1)" text-anchor="middle" font-size="22.0" fill="#8a8a8a">&#215;</text>
<text transform="translate(56.1 50.2) scale(0.720 1)" text-anchor="middle" font-size="28.0">10</text>
<text transform="translate(73.0 35.8) scale(0.750 1)" text-anchor="middle" font-size="21.0">8</text>
<text transform="translate(986.5 140.6) scale(0.730 1)" text-anchor="end" font-size="29.0">20</text>
<text transform="translate(986.5 206.4) scale(0.730 1)" text-anchor="end" font-size="29.0">15</text>
<text transform="translate(986.5 273.0) scale(0.730 1)" text-anchor="end" font-size="29.0">10</text>
<text transform="translate(986.5 341.6) scale(0.730 1)" text-anchor="end" font-size="29.0">5</text>
<text transform="translate(974.8 438.6) scale(0.730 1)" text-anchor="middle" font-size="29.0">20</text>
<text transform="translate(1061.8 472.1) scale(0.730 1)" text-anchor="middle" font-size="29.0">10</text>
<text transform="translate(1152.6 505.7) scale(0.730 1)" text-anchor="middle" font-size="29.0">0</text>
<text transform="translate(1232.0 538.1) scale(0.730 1)" text-anchor="middle" font-size="29.0">-10</text>
<text transform="translate(1318.0 572.8) scale(0.730 1)" text-anchor="middle" font-size="29.0">-20</text>
<text transform="translate(1389.0 574.1) scale(0.730 1)" text-anchor="middle" font-size="29.0">-20</text>
<text transform="translate(1501.5 549.1) scale(0.730 1)" text-anchor="middle" font-size="29.0">-10</text>
<text transform="translate(1607.0 523.6) scale(0.730 1)" text-anchor="middle" font-size="29.0">0</text>
<text transform="translate(1726.0 498.1) scale(0.730 1)" text-anchor="middle" font-size="29.0">10</text>
<text transform="translate(1836.0 474.1) scale(0.730 1)" text-anchor="middle" font-size="29.0">20</text>
<text transform="translate(1180.0 593.7) scale(0.620 1)" text-anchor="middle" font-size="33.0">x</text><text transform="translate(1192.0 609.9) scale(0.680 1)" text-anchor="middle" font-size="28.5">2</text>
<text transform="translate(1540.0 598.7) scale(0.620 1)" text-anchor="middle" font-size="33.0">x</text><text transform="translate(1552.0 614.9) scale(0.680 1)" text-anchor="middle" font-size="28.5">1</text>
<text transform="translate(941.5 252.7) rotate(-90) scale(1 0.645) translate(0 11.48)" text-anchor="middle" font-size="34.8">F2( x)</text>
<text transform="translate(61.5 782.9) scale(0.810 1)" text-anchor="end" font-size="24.0">12</text>
<text transform="translate(61.5 822.6) scale(0.810 1)" text-anchor="end" font-size="24.0">10</text>
<text transform="translate(61.5 862.0) scale(0.810 1)" text-anchor="end" font-size="24.0">8</text>
<text transform="translate(61.5 901.4) scale(0.810 1)" text-anchor="end" font-size="24.0">6</text>
<text transform="translate(61.5 940.8) scale(0.810 1)" text-anchor="end" font-size="24.0">4</text>
<text transform="translate(61.5 980.2) scale(0.810 1)" text-anchor="end" font-size="24.0">2</text>
<text transform="translate(55.4 1047.3) scale(0.810 1)" text-anchor="middle" font-size="24.0">5</text>
<text transform="translate(229.9 1104.0) scale(0.810 1)" text-anchor="middle" font-size="24.0">0</text>
<text transform="translate(403.0 1163.3) scale(0.810 1)" text-anchor="middle" font-size="24.0">-5</text>
<text transform="translate(461.5 1164.8) scale(0.810 1)" text-anchor="middle" font-size="24.0">-5</text>
<text transform="translate(687.5 1121.3) scale(0.810 1)" text-anchor="middle" font-size="24.0">0</text>
<text transform="translate(914.0 1077.3) scale(0.810 1)" text-anchor="middle" font-size="24.0">5</text>
<text transform="translate(271.0 1180.9) scale(0.850 1)" text-anchor="middle" font-size="26.0">x</text><text transform="translate(282.8 1195.1) scale(0.820 1)" text-anchor="middle" font-size="24.0">2</text>
<text transform="translate(608.0 1184.9) scale(0.850 1)" text-anchor="middle" font-size="26.0">x</text><text transform="translate(620.0 1199.3) scale(0.820 1)" text-anchor="middle" font-size="24.0">1</text>
<text transform="translate(17.4 887.0) rotate(-90) scale(1 0.720) translate(0 10.30)" text-anchor="middle" font-size="31.2">F3( x)</text>
<text transform="translate(991.5 766.2) scale(0.810 1)" text-anchor="end" font-size="24.0">80</text>
<text transform="translate(991.5 830.1) scale(0.810 1)" text-anchor="end" font-size="24.0">60</text>
<text transform="translate(991.5 893.9) scale(0.810 1)" text-anchor="end" font-size="24.0">40</text>
<text transform="translate(991.5 957.7) scale(0.810 1)" text-anchor="end" font-size="24.0">20</text>
<text transform="translate(991.5 1019.9) scale(0.810 1)" text-anchor="end" font-size="24.0">0</text>
<text transform="translate(985.8 1046.7) scale(0.810 1)" text-anchor="middle" font-size="24.0">5</text>
<text transform="translate(1157.9 1103.7) scale(0.810 1)" text-anchor="middle" font-size="24.0">0</text>
<text transform="translate(1329.7 1162.9) scale(0.810 1)" text-anchor="middle" font-size="24.0">-5</text>
<text transform="translate(1387.7 1165.9) scale(0.810 1)" text-anchor="middle" font-size="24.0">-5</text>
<text transform="translate(1612.0 1121.3) scale(0.810 1)" text-anchor="middle" font-size="24.0">0</text>
<text transform="translate(1838.0 1076.3) scale(0.810 1)" text-anchor="middle" font-size="24.0">5</text>
<text transform="translate(1199.8 1180.4) scale(0.850 1)" text-anchor="middle" font-size="26.0">x</text><text transform="translate(1211.4 1195.2) scale(0.820 1)" text-anchor="middle" font-size="24.0">2</text>
<text transform="translate(1533.0 1186.9) scale(0.850 1)" text-anchor="middle" font-size="26.0">x</text><text transform="translate(1545.0 1201.3) scale(0.820 1)" text-anchor="middle" font-size="24.0">1</text>
<text transform="translate(947.0 887.0) rotate(-90) scale(1 0.720) translate(0 10.30)" text-anchor="middle" font-size="31.2">F4( x)</text>
</g>
</svg>
</body></html>
